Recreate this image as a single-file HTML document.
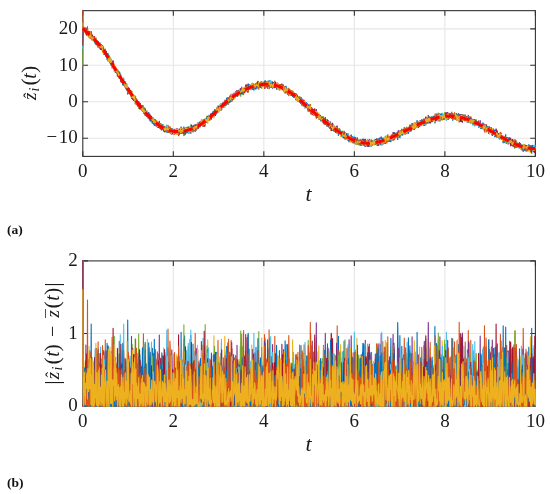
<!DOCTYPE html>
<html><head><meta charset="utf-8"><title>plot</title>
<style>
html,body{margin:0;padding:0;background:#fff;}
body{width:550px;height:494px;overflow:hidden;}
svg{display:block;}
.tk{font-family:"Liberation Serif","DejaVu Serif",serif;font-size:19px;fill:#1a1a1a;}
.lb{font-family:"Liberation Serif","DejaVu Serif",serif;font-size:21px;fill:#1a1a1a;}
.it{font-style:italic;}
.cap{font-family:"Liberation Serif","DejaVu Serif",serif;font-size:13.5px;font-weight:bold;fill:#111;}
</style></head><body>
<svg width="550" height="494" viewBox="0 0 550 494">
<defs>
<clipPath id="c1"><rect x="82.00" y="9.85" width="454.20" height="147.35"/></clipPath>
<clipPath id="c2"><rect x="82.00" y="260.10" width="454.20" height="146.80"/></clipPath>
</defs>
<path fill="none" stroke="#e6e6e6" stroke-width="1.1" d="M173.32 10.65V156.40M263.84 10.65V156.40M354.36 10.65V156.40M444.88 10.65V156.40M82.80 138.18H535.40M82.80 101.74H535.40M82.80 65.31H535.40M82.80 28.87H535.40"/>
<g fill="none" stroke="#333333" stroke-width="1.1"><rect x="82.80" y="10.65" width="452.60" height="145.75"/><path d="M82.80 156.40v-5.2M82.80 10.65v5.2M173.32 156.40v-5.2M173.32 10.65v5.2M263.84 156.40v-5.2M263.84 10.65v5.2M354.36 156.40v-5.2M354.36 10.65v5.2M444.88 156.40v-5.2M444.88 10.65v5.2M535.40 156.40v-5.2M535.40 10.65v5.2M82.80 138.18h5.2M535.40 138.18h-5.2M82.80 101.74h5.2M535.40 101.74h-5.2M82.80 65.31h5.2M535.40 65.31h-5.2M82.80 28.87h5.2M535.40 28.87h-5.2"/></g>
<g clip-path="url(#c1)" fill="none" stroke-width="1" stroke-linejoin="round"><path d="M82.8 39.8l.3-13.3 .3 .5 .3 3.1 .3 0 .4 .7 .3-1.5 .3 1.3 .3-1 .3 4.5 .3-5.2 .3 3 .3-1 .4 1.7 .3 .6 .3-1 .3-.3 .3 1.9 .3 .2 .3-1 .3 2.8 .4 1.3 .3-2.8 .3 2 .3 2.3 .3-1.5 .3-.2 .3 1.4 .3 .8 .4-2.2 .3-1.1 .3 2.2 .3 1.1 .3-1.5 .3-.3 .3 2 .3-1.1 .3-.5 .4 2.4 .3 1.3 .3-1.6 .3 .5 .3-1.1 .3 4.2 .3-.6 .3 .6 .4 1.8 .3-2.7 .3-.3 .3 2.4 .3-3.1 .3 1.3 .3 .7 .3 .7 .4-.5 .3 4.1 .3-2.8 .3 .4 .3 4.3 .3-3 .3 1.3 .3-1.2 .4 2.4 .3-.3 .3-.1 .3 2.4 .3-1.9 .3 1.6 .3-.5 .3 2.1 .3-2.2 .4 1.3 .3 1.7 .3-.8 .3-.6 .3-.3 .3 5.9 .3-3.5 .3 1.2 .4 1.4 .3 1.9 .3-3.1 .3 4.6 .3-2.5 .3-.7 .3 5.2 .3-1.6 .4 2.2 .3-2 .3-1.6 .3-.3 .3 6.7 .3-1.5 .3-1.5 .3-.9 .4 2.3 .3 2.4 .3-1.1 .3 1 .3 .8 .3 1.4 .3-1.3 .3 .6 .4 1.2 .3 .7 .3 2.2 .3-.8 .3-2.2 .3 2.8 .3 2.5 .3-4 .3 1.8 .4-2 .3 3.8 .3 1.4 .3 2.1 .3-4 .3-1.5 .3 6 .3 .2 .4-1.5 .3 2.8 .3-.4 .3 .6 .3-.4 .3-1 .3 2.3 .3-1 .4 2.7 .3-.7 .3 4.4 .3-.6 .3-3.1 .3 2.7 .3-1.4 .3 .5 .4-.7 .3 1.3 .3 .1 .3 2.3 .3 1.4 .3 .6 .3 .1 .3 1.5 .3-.5 .4-.3 .3-.1 .3 1.5 .3 3 .3-2.5 .3-.1 .3-.9 .3 1.3 .4 2.4 .3 .6 .3-4 .3 2.5 .3-1.3 .3 0 .3 5.2 .3-1.5 .4 .3 .3 .3 .3 .5 .3 1 .3 .5 .3 3.1 .3-1.7 .3 1.4 .4-1 .3 1.4 .3-1.4 .3 .1 .3 1.3 .3 .4 .3 .8 .3 1.2 .3 0 .4 .9 .3-1 .3 1 .3-.5 .3 3.5 .3-3.2 .3 3.1 .3 .3 .4-.4 .3 1 .3-1 .3 1.7 .3 1.2 .3 0 .3-3.1 .3 2.5 .4 2.3 .3-1.5 .3 2.9 .3-5.1 .3 5.7 .3-2.8 .3 .2 .3 3.6 .4-2.5 .3-.8 .3 1.2 .3 .7 .3-.8 .3 1.7 .3 0 .3 1.1 .3-.9 .4 2.9 .3-2.5 .3 2.4 .3 1.3 .3-2.1 .3-1.8 .3 1.5 .3 2.7 .4-1.7 .3 2.2 .3-.3 .3 0 .3 4.2 .3-3.8 .3 2.3 .3-.3 .4 1.5 .3 .4 .3-.7 .3-2.6 .3-1.1 .3 3 .3-1.5 .3 2.4 .4 3 .3-3.1 .3-.3 .3 1.7 .3-.9 .3-.2 .3 2.5 .3 1.2 .3-1.8 .4 .2 .3 .5 .3-2 .3-1 .3 3.7 .3-1.6 .3-.2 .3 .6 .4-.4 .3 2.5 .3-1.6 .3-1.9 .3 2.1 .3 2.5 .3-1.8 .3-.9 .4 1.6 .3 1.7 .3-3.3 .3 4.7 .3-2.7 .3 1 .3 2 .3-3.8 .4 1.6 .3 2.5 .3-2.7 .3 1.8 .3 2.5 .3-1.9 .3-1.4 .3-.5 .4 .8 .3 .3 .3-.6 .3 1.2 .3-2.1 .3 1.7 .3-.2 .3-.3 .3 2.7 .4-.5 .3-3.6 .3 2 .3 1.1 .3-1 .3 1.4 .3-1.2 .3 1.6 .4-1.5 .3 3 .3-4.7 .3 3 .3 1.8 .3-2.2 .3 .3 .3-.8 .4 2.1 .3-2.5 .3 2.6 .3 .1 .3-2.6 .3 1 .3-.8 .3 3.2 .4-1 .3-2.7 .3 .8 .3-2.7 .3 3.8 .3-1.5 .3-4.4 .3 5.9 .3 .2 .4-1.5 .3 0 .3-1.5 .3 1.1 .3 1.4 .3-1.6 .3-4 .3 2.2 .4 6.5 .3-4.4 .3 1.2 .3-2.5 .3 1.2 .3-3.5 .3 1.6 .3 0 .4 1 .3 .3 .3-.7 .3-1.6 .3 1.1 .3 1.3 .3-2.7 .3 1.7 .4 .3 .3 1.1 .3-.5 .3 0 .3 3.4 .3-6.3 .3 .6 .3 1.2 .3-2.2 .4 .9 .3-.1 .3 4.5 .3-3.8 .3-1.3 .3-1.9 .3-.5 .3 .5 .4 4.1 .3 1.5 .3-4.6 .3 .7 .3-1.7 .3 1.6 .3-.7 .3 2.6 .4-3.3 .3 1.3 .3-1.5 .3-.3 .3 .7 .3-.9 .3 .4 .3-1.4 .4 .2 .3 1.5 .3-.1 .3-4 .3 2.8 .3-2 .3 .8 .3 1.3 .3 .1 .4-1.6 .3-.4 .3-.8 .3 2.8 .3-1.3 .3-1 .3-3 .3 6.2 .4-4.8 .3 1.4 .3-1.8 .3 1.2 .3-1.6 .3-2.2 .3 1.7 .3-.4 .4-.1 .3 1.6 .3-2.4 .3 1 .3 .7 .3-1.5 .3 0 .3-1.8 .4 1 .3 .5 .3-3.5 .3 .5 .3-.8 .3 .8 .3 .9 .3 .2 .3-.5 .4-2.3 .3 1.1 .3 2.3 .3-2.7 .3 2 .3-2.9 .3 1.9 .3-.2 .4-2.5 .3 0 .3 2.3 .3-4.2 .3-2.6 .3 5.6 .3-5.7 .3 3.8 .4-.6 .3-.8 .3 1.7 .3-4.7 .3 1 .3 1.7 .3-1.1 .3 1.7 .4-2.2 .3-2.4 .3 4 .3-2.4 .3-1.2 .3-1.8 .3-.7 .3 2.6 .3 .2 .4-2.3 .3 1.1 .3-.4 .3-2.5 .3-1.3 .3 2 .3 .5 .3-1.5 .4 3.7 .3-3.3 .3 1.4 .3-5.9 .3 2.5 .3 .6 .3 .3 .3 3.5 .4-5.5 .3-1.7 .3 3.6 .3-2.6 .3-.3 .3 3.4 .3-4.2 .3-1 .4 1.6 .3 .3 .3-1.7 .3 3.6 .3-2.9 .3-1.8 .3 3.5 .3-3.8 .4 2 .3 2.5 .3-3.4 .3 1.2 .3-2.3 .3 2.2 .3-3.8 .3 2.6 .3-1.9 .4 1.3 .3-.7 .3-2.6 .3 1.4 .3 .8 .3 1.2 .3-4.1 .3 .5 .4 1.5 .3-1.1 .3 1.9 .3-.2 .3-.5 .3-2.1 .3-.1 .3 1.5 .4-2.6 .3-.2 .3 .8 .3-1.6 .3 2 .3-.4 .3-1.1 .3 .6 .4-1.5 .3 3.2 .3-4.5 .3 3.4 .3-1.1 .3 1.8 .3-3.3 .3-1.3 .3 .2 .4 .3 .3 3.7 .3-1.4 .3-.7 .3 .7 .3-3.5 .3 1.4 .3 .2 .4-.9 .3 2.2 .3-.2 .3-.2 .3-2.3 .3 .1 .3-.5 .3-.9 .4 3.8 .3-1.4 .3-1.2 .3 2.3 .3-1.4 .3-2.6 .3-.3 .3 0 .4 1.6 .3 .3 .3-2.2 .3 2.3 .3-1.3 .3-1.6 .3 2.6 .3 .3 .3-1 .4-1.1 .3 .1 .3 .5 .3-.7 .3 3.4 .3-1.3 .3-1.7 .3 1.7 .4 .6 .3-.2 .3-.6 .3-1.2 .3 1.3 .3-2.1 .3-2.4 .3 3 .4-2.4 .3 1.6 .3 2.2 .3-1.4 .3 1.1 .3-2.8 .3 3.1 .3-4.1 .4 1.2 .3 4.2 .3-4.5 .3-1.3 .3 3.8 .3-2.9 .3 4.5 .3-3.3 .3 3.1 .4-3.5 .3 3.7 .3 1.4 .3-4.9 .3-3.1 .3 4.7 .3-2.3 .3 1.2 .4 .7 .3-1.5 .3-1.6 .3 4.7 .3-2.9 .3 .4 .3 2.9 .3-4.9 .4-.5 .3 4.8 .3-4.3 .3 2.7 .3 .5 .3-2.7 .3 2.1 .3 0 .4-1.9 .3 .4 .3 .7 .3 3.8 .3 .4 .3-4.3 .3 3.4 .3-1.6 .3 2 .4-1.3 .3 1.9 .3-4.6 .3 4.3 .3-1.3 .3 .2 .3-2.1 .3 4.3 .4-2.1 .3 .4 .3-1 .3 .2 .3 1.6 .3-1 .3 1.2 .3-1.3 .4 1.1 .3 1 .3-.8 .3-.5 .3-2.9 .3 4.6 .3-1.1 .3-1.7 .4 5.9 .3-.4 .3-.7 .3-1.6 .3-3.9 .3 3.5 .3-1.2 .3 2.5 .4 3.9 .3-.1 .3-5.2 .3 1.6 .3 2.6 .3-3.7 .3 4.5 .3-4.1 .3-.3 .4 3.8 .3 .7 .3-2.9 .3 3.4 .3-3 .3 3.6 .3-3 .3 1.3 .4 1.1 .3 1 .3-1.6 .3 3.7 .3-2.4 .3 .4 .3-1.4 .3 3.3 .4-4.5 .3 3.5 .3 1.6 .3-3.9 .3-.2 .3 3.3 .3 1.4 .3-1.2 .4 1.4 .3-.4 .3-2.7 .3 2.1 .3 .7 .3-.1 .3 .9 .3-1.2 .3 .2 .4 2.3 .3-.5 .3-3.5 .3 3.5 .3 1.3 .3-3.4 .3 3.6 .3 2.1 .4-2.6 .3 2.8 .3-.4 .3-1 .3 1 .3 1.3 .3-.1 .3 .4 .4-2.6 .3 3.3 .3 0 .3-3.9 .3 4.5 .3-3.1 .3 .6 .3 2.6 .4 2.4 .3-2.8 .3-.1 .3-.2 .3 1.8 .3-1.6 .3 0 .3 4.2 .3-3.7 .4 2.3 .3 1.4 .3-.1 .3-3.3 .3 1.7 .3 4.8 .3-2.8 .3 .7 .4 .3 .3 .8 .3 1.8 .3-3.5 .3 3.2 .3-.6 .3 .6 .3 .5 .4-2.1 .3 .8 .3 2 .3 .7 .3-.5 .3-2.1 .3 1.6 .3 .1 .4 1.2 .3 .1 .3-.5 .3 3.6 .3-5.3 .3 4.1 .3-.1 .3-2.8 .3 2.1 .4 .5 .3 1.3 .3 1.8 .3-2.5 .3-1.4 .3 3.6 .3-3.4 .3 4.3 .4-.4 .3-1.8 .3 1.1 .3-.9 .3 2.6 .3 .7 .3 1.6 .3-.8 .4 0 .3 .8 .3-2.5 .3 1.8 .3 2.4 .3-7 .3 5.6 .3 .9 .4-3.8 .3 .4 .3 4 .3 .7 .3-.5 .3-3.2 .3 2.5 .3 1.1 .3-1 .4-1.8 .3 4.4 .3-1.4 .3 1.9 .3-5.6 .3 .8 .3 1.7 .3 2 .4-1.1 .3 4.7 .3-3.6 .3 2.8 .3 .2 .3-.8 .3-.3 .3-1.3 .4 0 .3 .9 .3 2.2 .3-2.4 .3 1.5 .3-1.9 .3 3.6 .3 3.2 .4-3.5 .3-4 .3 2.9 .3 1.3 .3-1.6 .3 .8 .3 .3 .3 1.8 .4-.8 .3 0 .3 1.6 .3 1 .3-1.9 .3-1.1 .3 .7 .3 .4 .3 .2 .4-3.1 .3 3.9 .3-1.1 .3-1.3 .3 3.3 .3-.2 .3-1 .3-.9 .4 2.4 .3 .1 .3 .6 .3 2.3 .3-3.6 .3 2.4 .3 2.6 .3-2.4 .4 2.7 .3-1 .3-1.5 .3 1.7 .3-3 .3 4.2 .3-2.6 .3-.3 .4-1.3 .3 1 .3 1.3 .3 .3 .3 .4 .3-1.8 .3 3.1 .3-1.8 .3 1.1 .4-.4 .3 1 .3-3.8 .3 4.6 .3-1.3 .3 .1 .3-.5 .3 .4 .4 .1 .3-.8 .3 4.2 .3-2.4 .3 2.1 .3-2.3 .3 2.4 .3-.3 .4-1.4 .3-2.2 .3 1.4 .3 .5 .3-1.7 .3 3.8 .3 1.9 .3-2.6 .4-.2 .3-2.4 .3-1.4 .3 5.7 .3-6.2 .3 1.6 .3 1.2 .3 .8 .3-3.3 .4 3.8 .3 .9 .3-1 .3 2.5 .3-3 .3 1 .3-.7 .3 0 .4 2.3 .3-3.9 .3 3.8 .3-3.1 .3 4 .3-3.1 .3 1.9 .3-1.4 .4 1.1 .3 2.4 .3-1.7 .3-1.9 .3-1 .3 3.4 .3 1 .3-2 .4-1.1 .3 .6 .3 .3 .3-2.7 .3-.3 .3 .4 .3 2.6 .3-1.7 .3 .4 .4 2 .3-3.8 .3 1.2 .3 .9 .3-3.1 .3 1 .3-.3 .3-.6 .4 .7 .3 3.2 .3-1.5 .3-2.3 .3 2.8 .3-1.4 .3-.7 .3-1.8 .4 .2 .3 .6 .3 1.6 .3-1.8 .3 .5 .3 1 .3-2.5 .3 1.3 .4 1.9 .3-3.4 .3 2.4 .3-1.5 .3 3.4 .3-2.6 .3 1.4 .3 0 .3 1.4 .4-6.7 .3 3.6 .3-.7 .3-1.6 .3 1.9 .3-1.1 .3 2.9 .3-2.6 .4 .8 .3-1.6 .3 .4 .3 2.4 .3 .7 .3-1.5 .3-3 .3 .4 .4-.1 .3 3.8 .3 1 .3-3.5 .3-.6 .3 .3 .3-1.7 .3 .7 .4 1.5 .3-.6 .3-1.8 .3 0 .3 .1 .3-4 .3 4 .3-.8 .4 1.7 .3-1.2 .3-1.6 .3-.2 .3 1.1 .3-1.1 .3 .4 .3 3 .3 2.1 .4-9.2 .3 2.3 .3 1.3 .3 2.5 .3-.9 .3-4.4 .3 6.6 .3-4.2 .4-2.1 .3 1.1 .3-1.2 .3 1.3 .3-4.2 .3 5.3 .3 .4 .3-2.8 .4-2 .3 2.2 .3-1.9 .3 2.4 .3 .9 .3-4.3 .3-.5 .3-.1 .4 3.1 .3 1 .3-.2 .3-1.7 .3-1.4 .3-.1 .3 3 .3-2.8 .3 .2 .4-.3 .3 0 .3 .1 .3-1.4 .3 .6 .3-.3 .3 1.3 .3-1.9 .4 .7 .3 3 .3-4.3 .3 1 .3-2.1 .3 1.7 .3-.3 .3-.7 .4 .2 .3 .6 .3 2 .3-6 .3 5.4 .3-2.2 .3-1.7 .3 .2 .4-.4 .3-.5 .3-.9 .3 1.4 .3-4.4 .3 6.2 .3-2.2 .3 .9 .3 .1 .4-1.5 .3-2 .3 3.3 .3-.1 .3-2.5 .3 .2 .3-2.4 .3 1.3 .4 1.2 .3 .7 .3-1 .3 .5 .3 1.8 .3-2.3 .3 .1 .3 0 .4 .2 .3-3.6 .3 1.5 .3-.5 .3 2.4 .3 .5 .3-1.3 .3-1 .4 .8 .3-.3 .3-2 .3 .9 .3 2 .3-1 .3 .2 .3-1.4 .3 2 .4-1.7 .3-1.5 .3 1 .3 1.4 .3-.6 .3-1.3 .3-.7 .3-.6 .4 1.5 .3 1.8 .3-4.6 .3 1.7 .3-.2 .3 0 .3 2.1 .3-1.2 .4-1 .3-1.4 .3 1.5 .3 5.1 .3-4.8 .3-1 .3-1.6 .3 .9 .4-3 .3 1.6 .3 .1 .3 .6 .3 3.7 .3-3.7 .3 .3 .3 1.8 .3-1.9 .4 .2 .3 1.4 .3-.6 .3 .2 .3-.9 .3 1 .3-1.6 .3 3.9 .4-2.7 .3 2.3 .3-2 .3-1.7 .3 .8 .3 .1 .3-.3 .3-2.5 .4 4.3 .3-3.2 .3 3.8 .3-1.7 .3-1 .3 1.6 .3-1.7 .3-.9 .4 3.1 .3-1.8 .3 .4 .3 2.5 .3-2.8 .3 1 .3-3.5 .3 3.6 .3-4.2 .4 3.6 .3-4 .3 2.3 .3 .1 .3-.5 .3-.2 .3-.8 .3-.5 .4 3.4 .3 1.4 .3 2.4 .3-3.7 .3-1.8 .3 .6 .3 .4 .3 .8 .4 .5 .3-.5 .3-1.1 .3 3.6 .3-4 .3 3.5 .3-2 .3 .8 .4-.4 .3 1.2 .3 .2 .3-1.5 .3 1.5 .3-5.7 .3 4.7 .3 .5 .4-.1 .3 .9 .3 2.3 .3-3.5 .3-.9 .3 3.1 .3-2.4 .3 2 .3-1.8 .4-.5 .3-.2 .3 .2 .3 1.9 .3-2.4 .3 2.2 .3-1.2 .3-.5 .4 1.7 .3 1.7 .3-3 .3 2.9 .3-.2 .3 .4 .3-3 .3 1.7 .4 3.5 .3-4.7 .3-2.1 .3 .6 .3 3.9 .3-.9 .3-.6 .3-.5 .4 1.5 .3 2 .3-2.9 .3 .3 .3 3.3 .3-1.4 .3-.9 .3 .6 .3-.8 .4-.3 .3 .6 .3 1.2 .3 2.1 .3-3 .3-1.2 .3-.8 .3 3.4 .4 .2 .3-2.3 .3 .2 .3 1.9 .3-.5 .3 2.6 .3-2 .3 2.4 .4-1 .3 .1 .3 .8 .3 2.8 .3-2 .3-1.7 .3 .8 .3 .7 .4-1.2 .3-.2 .3-.1 .3 2.8 .3-1.1 .3 .7 .3 1 .3 1.2 .3-2.1 .4 1.4 .3-4.7 .3 3.8 .3 .4 .3 .4 .3-3.5 .3 4.8 .3-1.1 .4 1.1 .3-.8 .3 0 .3-1.7 .3 4.3 .3-2.1 .3-2.5 .3 3.6 .4-.3 .3 1.3 .3 3 .3-3.9 .3-1.9 .3 2.8 .3 2.5 .3-3.3 .4 .5 .3-1.3 .3 .3 .3 2.1 .3-.9 .3 3.8 .3-4.6 .3 1.7 .3-1.3 .4 .3 .3 2.3 .3 0 .3 1.3 .3 2.2 .3-3 .3-.3 .3 2.2 .4-2.7 .3 1.2 .3-.4 .3 2.2 .3 1.7 .3-3.9 .3 .5 .3 1.3 .4 .7 .3 0 .3-.1 .3 .8 .3 2.6 .3-4.3 .3 3.8 .3-1.7 .4 .2 .3-.8 .3 3.3 .3-4.4 .3 1 .3 0 .3-.6 .3 3.5 .3 4 .4-5.5 .3-1.4 .3 .4 .3 3 .3-.6 .3-.4 .3 3.5 .3-1.6 .4 .1 .3-3.4 .3 3.7 .3-3.4 .3 2.7 .3 2.9 .3-6.1 .3 5.3 .4-2.4 .3-1.6 .3 3.8 .3 1.2 .3-3.5 .3 1.8 .3 2.2 .3-.1 .4-.9 .3-2.1 .3 2.2 .3-1.4 .3-1.4 .3 .7 .3-.1 .3 .5 .4 4.7 .3-4.4 .3 1.6 .3 .8 .3 1.7 .3 1 .3-.7 .3-1.6 .3 2 .4-.4 .3-.2 .3-2 .3 1.7 .3-.1 .3-2.3 .3 2.8 .3-1.4 .4 2.8 .3-2.1 .3 .4 .3 .1 .3 1.1 .3 1 .3-1.1 .3 .4 .4-2.3 .3 .3 .3 3.5 .3-2.9 .3 1.9 .3-1.4 .3 1.6 .3 1.7 .4-3.9 .3 .9 .3 2.8 .3 1.2 .3-2.1 .3 1.1 .3-1.3 .3-1.5 .3-1.3 .4 3 .3-2.7 .3 .4 .3 2.6 .3 2.1 .3-4.1 .3 .5 .3-2.8 .4 1.5 .3 1.1 .3-1.4 .3 4.5 .3-2 .3 .8 .3-3.3 .3 2 .4 5.9 .3-7.2 .3 3.7 .3-2.7 .3 2 .3-1.1 .3-.7 .3 .8 .4 1.8 .3-3.8 .3 1.6 .3 .7 .3-1.2" stroke="#0072BD"/>
<path d="M82.8 7l.3 18.6 .3 3 .3 .1 .3 .3 .4 2.4 .3 .7 .3-1.9 .3 0 .3-1.3 .3 1.8 .3 2.8 .3-2.3 .4-.2 .3 0 .3 1.3 .3 2.9 .3-3.6 .3 3.3 .3-1.8 .3 3.8 .4-3.5 .3 2.8 .3-2.7 .3-.9 .3 1.3 .3 4.1 .3-.1 .3 .2 .4-2.2 .3 .8 .3 .6 .3 .1 .3-.2 .3 .2 .3-1.4 .3 3.2 .3-.1 .4 3.6 .3-.5 .3-.7 .3 1.1 .3-2 .3-1 .3 2.8 .3 .4 .4 .4 .3-.7 .3 1.4 .3-1.2 .3 .6 .3 .3 .3-.3 .3 1.5 .4 .2 .3-2.2 .3 3.3 .3-1 .3 1.6 .3 1.3 .3 .4 .3 1 .4-.9 .3 1.4 .3 .1 .3-2.2 .3 2.7 .3-1.6 .3 1.8 .3-.5 .3 2.9 .4-.8 .3-3.5 .3 3.4 .3 .2 .3 1.7 .3-.5 .3 3.7 .3 0 .4-1.6 .3-.1 .3 2.5 .3 .1 .3 .8 .3 .2 .3 2.2 .3 .9 .4-1.7 .3 3.2 .3-.7 .3 0 .3 1.1 .3-1.6 .3 1.6 .3 0 .4 2 .3 .1 .3-1.5 .3 .7 .3 1.9 .3-.9 .3 .8 .3 .6 .4-1.8 .3 3.7 .3-.8 .3 .5 .3 1.6 .3 2 .3-2.5 .3 1.2 .3 .9 .4 .5 .3 .5 .3 2 .3-1.4 .3 3.9 .3-2.4 .3 2.9 .3-1.3 .4-1.3 .3 2.1 .3 .9 .3-1.1 .3 1.7 .3 .8 .3 .4 .3-2.6 .4 1.9 .3 .8 .3 3.2 .3-2.4 .3 3.5 .3-2.3 .3 3 .3-4.5 .4 6.4 .3-4.2 .3 1.2 .3 4.6 .3-2 .3-2.3 .3 1 .3 5 .3-1.4 .4 1.6 .3 .2 .3-.1 .3-3.6 .3 3.2 .3 1.1 .3 .6 .3-1.1 .4 .4 .3 3 .3-3.4 .3 4.6 .3-.8 .3-.8 .3-1.6 .3 3.8 .4-.6 .3-1.2 .3 1.6 .3-.4 .3 .6 .3 1.7 .3-.2 .3 0 .4 1.9 .3-2.2 .3 6.2 .3-1.3 .3-3.4 .3 2.1 .3 2.2 .3-1.3 .3-.7 .4 3.1 .3-1.8 .3 1.9 .3 .4 .3 .3 .3-1.5 .3 4 .3-.8 .4-1.3 .3 3.4 .3 1 .3-3.1 .3 1.3 .3 .6 .3-.1 .3 2.2 .4-5.9 .3 6.7 .3-.6 .3 2 .3-1.3 .3-2.7 .3 2.8 .3-.6 .4 2.1 .3-3.4 .3 3 .3 2.7 .3-3 .3 2.2 .3-1.2 .3 1.1 .3 .1 .4 .5 .3 2 .3 1.3 .3-3.7 .3 2.1 .3-.3 .3 1.5 .3 2.8 .4-.9 .3-4 .3 3.8 .3-.3 .3 2 .3-1.2 .3 0 .3 0 .4 .1 .3 1.2 .3 .1 .3-.6 .3-.3 .3 1 .3-2.7 .3 2.7 .4 .3 .3 1.6 .3-2.5 .3 3.6 .3 1.2 .3-.8 .3-2.4 .3 3.1 .3-3.7 .4 2.3 .3 2.7 .3-1.9 .3-3.1 .3 4.5 .3 1 .3-2.8 .3-1.1 .4 .7 .3 2.3 .3-.6 .3-.1 .3-1.2 .3-1.4 .3 3.9 .3-2.1 .4 2.8 .3-1.4 .3 2.6 .3-.1 .3-1.8 .3 2.3 .3-2.7 .3 2.4 .4-.9 .3 .4 .3 .5 .3-.6 .3-1.4 .3-3.2 .3 7.1 .3-2.4 .4 .9 .3 1.3 .3-1.8 .3 1.9 .3-1.2 .3-2 .3 5.3 .3-3.6 .3-.2 .4 2.3 .3-2.3 .3 .3 .3 1.2 .3-2.5 .3 4.1 .3-3.1 .3 1.5 .4 1.3 .3-1.3 .3 .3 .3-1.9 .3 3.8 .3-2.1 .3 .4 .3-3.2 .4 4.3 .3-3.5 .3 4.6 .3-3.4 .3 .8 .3-.9 .3 1.8 .3 2 .4-.7 .3-4.6 .3 1.7 .3 1.8 .3-2.9 .3 2.6 .3 0 .3 .7 .3-3.9 .4-1.3 .3 4.7 .3-2 .3-1.2 .3-1.9 .3 7.3 .3-4.2 .3-.9 .4 3.4 .3-3.1 .3 .3 .3-.9 .3 2 .3-1.7 .3 1.6 .3-2 .4 .6 .3 .8 .3 1.6 .3-5.1 .3 .8 .3 .3 .3 2.4 .3-.6 .4-3.4 .3 1.4 .3 2.5 .3-1.6 .3-.2 .3 .4 .3 1.1 .3-3.7 .3 1 .4 1.1 .3 2.1 .3-1.7 .3-1.1 .3-1.5 .3 1.8 .3-2.5 .3 1.4 .4 1.3 .3 3.2 .3-2.8 .3 .4 .3-2.4 .3-.9 .3-1.9 .3 2.1 .4 1.7 .3-5.8 .3 3.1 .3 .8 .3-.2 .3 1.6 .3-3.4 .3 .2 .4-2.2 .3 .6 .3 .2 .3-.8 .3 2.3 .3 .1 .3-.9 .3 1.7 .3-1.9 .4 0 .3-1.8 .3 .9 .3 2.8 .3-3.3 .3-2.5 .3 5.1 .3-2 .4-1.5 .3 1.9 .3-1.5 .3-1.2 .3 2 .3-2.8 .3-.5 .3 2.5 .4-2.4 .3-1.9 .3 1.8 .3-1.3 .3-.6 .3 1.2 .3-2.3 .3 .7 .4 2 .3-2.7 .3-.9 .3-.2 .3 2.1 .3-2.1 .3-1.7 .3 1.5 .3-1.8 .4-.5 .3 1.9 .3-1.4 .3 1.2 .3-2.5 .3 1.6 .3 .4 .3-1.1 .4-.3 .3-1 .3-.4 .3 2.3 .3-1.1 .3-2 .3-.5 .3 .4 .4-4.5 .3 2.2 .3 1.6 .3-1.6 .3-1.3 .3 1.3 .3 3.1 .3-3.3 .4-.2 .3-3.7 .3 6.1 .3-5.8 .3 2.5 .3-2.1 .3 1.7 .3-1 .3-1.9 .4 1.4 .3-1.8 .3 1.5 .3 .3 .3-.6 .3 .1 .3-.9 .3-2.6 .4 3.8 .3 .5 .3-2.9 .3-3 .3 .7 .3-.7 .3-.1 .3 2.9 .4-1.6 .3 4.2 .3-3.6 .3-2.2 .3 3.3 .3 .5 .3-1.4 .3-2.7 .4-1.8 .3-2.6 .3 1.7 .3 4.5 .3 1.1 .3-4.3 .3-1.7 .3 4.1 .4-2 .3-.3 .3-1 .3 .1 .3-1.3 .3-1.1 .3 1.4 .3-1.4 .3-2.2 .4 4.7 .3-.2 .3-2.7 .3-2.4 .3 2.6 .3-1.7 .3 2 .3-2.1 .4 2.3 .3-2.3 .3 .2 .3-.2 .3-1.7 .3 .3 .3 2.5 .3-2.6 .4 4 .3-4.5 .3-3 .3 3.4 .3-.1 .3 .5 .3-1.4 .3 1.9 .4-1.9 .3 1.3 .3 .1 .3-1 .3 .1 .3 2.6 .3-6.3 .3 3 .3 2.8 .4-4.6 .3 1.6 .3-.5 .3-1 .3 2.5 .3 3.2 .3-4.7 .3-.7 .4-1.4 .3 2.8 .3-1 .3-1.1 .3 1 .3-.2 .3-1 .3 2 .4-4.3 .3 3.9 .3-1.6 .3 .5 .3 .5 .3-2.1 .3-.9 .3-.8 .4 1.3 .3 1.6 .3-2.2 .3 3.6 .3-2.5 .3-.8 .3-.2 .3 2.7 .3 .5 .4-5.2 .3 3.5 .3 1.7 .3-.7 .3-2.1 .3-1.9 .3 1.8 .3-2 .4 1.5 .3-.4 .3-.9 .3 2.2 .3-1.2 .3 1.1 .3 .4 .3-2.2 .4 2.4 .3-1.5 .3 1.4 .3-1.2 .3 .7 .3-2.7 .3 1.6 .3 0 .4-2.5 .3 7.3 .3-2.9 .3 2.6 .3-4.4 .3-.7 .3-.3 .3 .6 .3 1.8 .4-4.2 .3 2.3 .3 .9 .3 1.5 .3-2.5 .3 1.5 .3-.1 .3-1 .4 0 .3 1.7 .3-3.3 .3 3.7 .3 .2 .3-2.3 .3 .3 .3 .2 .4 .8 .3-.7 .3 1.1 .3 1.8 .3-3.8 .3 2.9 .3-1.3 .3-1.4 .4 1.2 .3-4.4 .3 6.8 .3-1 .3-1.2 .3-2 .3 2.7 .3 2 .3-4.1 .4 3.5 .3-1.1 .3-1.7 .3 2.7 .3-.3 .3-1.4 .3 1.2 .3-.6 .4 2.1 .3-1.2 .3 1.7 .3 .8 .3-5.2 .3 2.3 .3-.6 .3 3.1 .4-1.3 .3 .4 .3 2.1 .3-3 .3 2.2 .3-.7 .3 2.3 .3-3.9 .4 .6 .3 .7 .3 2.3 .3-.4 .3-2.7 .3 2.7 .3-.7 .3 .4 .4 2.2 .3-4.1 .3 5.9 .3-3.4 .3 .7 .3 2.7 .3-3 .3 0 .3 .9 .4 1.7 .3-1.9 .3-.8 .3 1.6 .3-2.2 .3 1.6 .3 .4 .3-.8 .4 3.6 .3 0 .3-1.5 .3 .3 .3-1.4 .3 .8 .3 1.9 .3 .1 .4 1.1 .3 .4 .3 .3 .3-1.9 .3 2.5 .3 0 .3-.5 .3 1.3 .4-.2 .3 3.4 .3-3.9 .3 1.4 .3-.6 .3 0 .3 3.9 .3-6.7 .3 3.9 .4 .2 .3 3.5 .3-3.7 .3 .6 .3 1.5 .3-.7 .3-1.4 .3 2.9 .4 1.1 .3-3.3 .3 2 .3 1 .3-3.8 .3 3.7 .3 .9 .3-.5 .4 1.4 .3-.7 .3 .3 .3 1.6 .3-.3 .3-.7 .3 .2 .3-.1 .4 0 .3 1.1 .3-.1 .3 1.7 .3 .1 .3-1.8 .3 5.1 .3-3.5 .3-4.2 .4 8.4 .3-5.2 .3 5.6 .3-3.2 .3-1.8 .3 .6 .3 4.1 .3 .9 .4 .5 .3-3.2 .3 2.1 .3-.4 .3-.1 .3 0 .3 .1 .3 .9 .4 3.1 .3-4.7 .3 7 .3-6.1 .3 3.2 .3-.4 .3 .8 .3 0 .4-.3 .3 .7 .3 1.6 .3-2.9 .3 2.6 .3-2.9 .3 2.7 .3 1.2 .3-1.6 .4-.5 .3 3.2 .3-.8 .3-2.5 .3 4.2 .3 0 .3-1.4 .3 2.5 .4 2.2 .3-1 .3-3.1 .3-.2 .3 .4 .3 .6 .3 2.8 .3-2.8 .4-.5 .3 3.2 .3-2.4 .3 2.4 .3-.7 .3 0 .3 3.2 .3-4.5 .4 3.9 .3-.9 .3 .8 .3-1.3 .3 .3 .3 .9 .3-2 .3 2.1 .3 1.3 .4 4.2 .3-3.9 .3 .2 .3 1.2 .3 .2 .3-2.1 .3-.5 .3-1.2 .4 1.4 .3 3.3 .3-1.4 .3 2.9 .3-3.2 .3 .8 .3 1.8 .3-.6 .4 .5 .3 .8 .3-2.9 .3-2.7 .3 3.9 .3-.2 .3 1.7 .3 1 .4-3.9 .3 4.4 .3-1.1 .3 1.1 .3-1 .3 1.3 .3-.9 .3 3.2 .4-1.6 .3-2.2 .3 4.1 .3-.4 .3-3.1 .3 1.7 .3-.8 .3 5.5 .3-3.7 .4 2.5 .3 .4 .3-2.7 .3-1.1 .3 4.5 .3-.4 .3-.7 .3-.5 .4 2.1 .3-5.6 .3 2.9 .3 1.7 .3 .4 .3-4.4 .3 .3 .3 4.6 .4-1.2 .3-1.3 .3 4.1 .3-.8 .3-2.9 .3 3.4 .3-.2 .3 1.6 .4-.8 .3-2.2 .3 2.6 .3 1 .3-1 .3-3.7 .3 2.7 .3 1.3 .3-1 .4-.3 .3 .6 .3 3.3 .3-3.3 .3 .9 .3-1.6 .3 3.7 .3-3.8 .4 2.6 .3 2.1 .3-4.8 .3 3.1 .3-1.4 .3 1 .3-2 .3 .1 .4 0 .3 .8 .3 3.8 .3 .2 .3-3 .3 2 .3-2.3 .3 .6 .4 2.6 .3-.6 .3 .2 .3-.3 .3-1.1 .3-1.4 .3-1 .3 3.8 .3-.7 .4-3.4 .3 1.1 .3 1.1 .3 4.3 .3-2.2 .3-1.9 .3 1.2 .3-4.2 .4 3.1 .3-.3 .3 2.3 .3-.1 .3-.6 .3-.1 .3-.6 .3-1 .4 .2 .3-1.3 .3 3.8 .3-2.5 .3-.1 .3-2.2 .3 2.9 .3-.9 .4 1.8 .3-2 .3 0 .3 1.6 .3-.3 .3-.8 .3-1 .3 2.8 .3-3.4 .4 1.9 .3-3.7 .3 .7 .3 3 .3 .3 .3-5.1 .3 2.9 .3 .1 .4 1.5 .3-.5 .3-1.6 .3 .2 .3 2.3 .3-3.5 .3 1.5 .3 2 .4-3.3 .3 1.8 .3-1.6 .3 2.1 .3-1.6 .3 3.1 .3-3.3 .3 3 .4-2.9 .3 4.4 .3-4.2 .3-1.4 .3 .3 .3-1.2 .3 3.6 .3-4.5 .3-.1 .4 4.5 .3-.8 .3-.5 .3-1 .3-.5 .3 4.3 .3-5.2 .3 1.3 .4 1.1 .3-3.3 .3 2 .3-2.5 .3 .8 .3 1.3 .3-2.6 .3 .5 .4 2 .3 1.7 .3-1.9 .3-2 .3 1.2 .3-3.4 .3 2.4 .3-.1 .4-.4 .3 1.9 .3-1.4 .3 .8 .3 2.6 .3-1.1 .3-4.2 .3 1.8 .4-.7 .3 2.1 .3-1.6 .3-2.4 .3 1 .3 .8 .3-3.5 .3 2.5 .3 .3 .4-2.6 .3 4.6 .3-3.9 .3 2.5 .3-.6 .3-.4 .3-1.4 .3-.2 .4-.4 .3 0 .3-2.1 .3-.7 .3 1.5 .3-.2 .3 1.6 .3 1.1 .4-2.9 .3 .7 .3-1.5 .3 4.2 .3-7.5 .3 6.3 .3-2.3 .3-1.7 .4 3.7 .3-1.5 .3 2.2 .3-1.1 .3 .7 .3-3.5 .3-.5 .3 .9 .3-2.8 .4-.3 .3 2.1 .3 .2 .3-.1 .3 .1 .3-3 .3 1.6 .3 .8 .4-.4 .3-1.4 .3 1.4 .3-1.3 .3 .4 .3-2.4 .3 .1 .3 4.1 .4-2.2 .3-1.6 .3 1.7 .3-2.2 .3 .7 .3-.6 .3 .9 .3-.7 .4-.5 .3 3 .3-1 .3 0 .3-4.5 .3 2.1 .3-.3 .3 .2 .3 1 .4 .2 .3-2.7 .3 1.8 .3-3.3 .3 2.1 .3 0 .3 .4 .3-.4 .4-.3 .3-2.6 .3-1.4 .3 5.5 .3-2.4 .3-.9 .3 2.5 .3-.6 .4-.4 .3 3.1 .3-5.1 .3 1 .3-.1 .3-.4 .3-.4 .3-3.5 .4 3.4 .3-1.2 .3 2.1 .3-1.6 .3 1 .3-.4 .3 1.1 .3-.2 .3-2.2 .4-.6 .3 .4 .3 1.7 .3-1.7 .3 4.5 .3-5.7 .3 1.5 .3-.6 .4-1.6 .3 2.5 .3-2.4 .3 2.2 .3-1.7 .3 1.5 .3-1.3 .3-1.9 .4 3.3 .3-.2 .3-.5 .3-1.1 .3-4.1 .3 5.4 .3 2.3 .3-2.4 .4 1.5 .3-1.8 .3-1 .3 1.5 .3-.5 .3 1.9 .3-3.4 .3 1.4 .3-3 .4 0 .3 3 .3-.9 .3-.7 .3-1.2 .3 3.9 .3-2.7 .3-3.2 .4 3.2 .3-.6 .3 .3 .3 1.9 .3-3.5 .3 1.1 .3 .1 .3-1 .4-.1 .3 4.3 .3-3.9 .3 1.7 .3-1.2 .3 1.4 .3 .2 .3-3 .4 1.6 .3 .4 .3 0 .3-.6 .3 .1 .3 3.8 .3-2.4 .3-1 .3-1.6 .4-1 .3 3.7 .3-4.7 .3 3 .3-.6 .3 1.6 .3 .2 .3-3.3 .4 2.7 .3-.2 .3-2.1 .3-.9 .3 5.3 .3-2.1 .3-.3 .3-2.9 .4-1 .3 4.1 .3-.7 .3-.7 .3-.5 .3 2.5 .3-1.9 .3 2.6 .4 3.2 .3-2.1 .3-2.5 .3-.9 .3 5 .3-.7 .3-2.8 .3 5.5 .4-6.3 .3-.7 .3 6.6 .3-6.1 .3 1.7 .3-2.6 .3 1.9 .3 1 .3-.6 .4-1.2 .3 1.3 .3 .3 .3 2.5 .3-3 .3 .8 .3-2.9 .3 3.1 .4 .3 .3 .9 .3-2.1 .3 1.6 .3 .9 .3-3.6 .3-.2 .3 3.7 .4 1.1 .3-3.4 .3 3.3 .3-5.8 .3 4.9 .3-1.7 .3 3.8 .3-1.9 .4-1.8 .3 1.2 .3 1.7 .3-4.7 .3 2.9 .3 1.7 .3 .7 .3-.4 .3-2.5 .4 3.6 .3-1.2 .3 1.6 .3-3.3 .3 2.5 .3-1.6 .3 .6 .3 2.1 .4-2 .3-.2 .3 3.5 .3-2.9 .3 1.1 .3 .9 .3-1.4 .3 3.3 .4-2.7 .3 1.8 .3-2 .3 1.5 .3 2 .3-3.6 .3 2.3 .3 1.5 .4-1.6 .3 1.8 .3-2.1 .3 1 .3 .6 .3-1.5 .3 3.3 .3-3.5 .3 5 .4-5.7 .3 2.5 .3 .9 .3 .9 .3-1.9 .3 1.3 .3 .2 .3-1.8 .4 2.6 .3-.1 .3-1 .3-.8 .3 2.1 .3-.3 .3 .4 .3-1 .4-1 .3 4.1 .3-1.1 .3 0 .3-.8 .3-1.3 .3 2.6 .3-.2 .4-1.3 .3 4.1 .3-.6 .3-.4 .3-.5 .3-.2 .3 1.4 .3-3.5 .3 4.2 .4-.7 .3-1.9 .3 .7 .3 1.5 .3-.5 .3-.5 .3 1.5 .3-.9 .4 2.8 .3-1.4 .3 3 .3-1.1 .3 .6 .3-3.7 .3 3 .3-1.1 .4 2.2 .3-1 .3 .3 .3 1.1 .3-2.6 .3 4.3 .3-3.6 .3-3.1 .4 5.9 .3-1.2 .3 2.8 .3-2.4 .3 3 .3-3.7 .3 2.1 .3 2.4 .3-.8 .4 .7 .3-2 .3-1.7 .3 2.3 .3 1.4 .3-.3 .3-1.4 .3 4.3 .4-4.8 .3 .5 .3 4.9 .3-5.8 .3 4.8 .3-2.2 .3-2.1 .3 4.8 .4 .5 .3-1 .3 .1 .3-1.4 .3 .8 .3 .1 .3 .1 .3-.3 .4 1.3 .3-1.8 .3 .7 .3 1.8 .3-4.5 .3 5.2 .3-3.2 .3 2.6 .4-1.7 .3-.1 .3-.4 .3-.8 .3 3.9 .3-6 .3 4.2 .3 2.1 .3 1.1 .4-6 .3 1.2 .3 2.9 .3-1.2 .3-.8 .3 2.2 .3 1 .3-.6 .4-1.3 .3 1.5 .3 2.1 .3-3.1 .3 4.2 .3-1.5 .3-3.2 .3 1.7 .4 .2 .3 .3 .3-1.5 .3 1.9 .3 3.2 .3-3.5 .3 5.6 .3-1.6 .4-5.9 .3 .9 .3 2.6 .3-.6 .3-.2 .3-1.4 .3 3 .3 .3 .3-.4 .4-1.2 .3-.1 .3 1.1 .3-1.9 .3 3.1 .3-1.6 .3 1.1 .3 .6 .4-3.7 .3 2.6 .3 1.2 .3-1.7 .3 1.8 .3-2.7 .3-.4 .3-.2 .4 3.4 .3-1.4 .3-3.3 .3 3.4 .3-2.4 .3-.5 .3 4.8 .3-4.2 .4 .7 .3-.2 .3-1.3 .3 2 .3 .6" stroke="#D95319"/>
<path d="M82.8 32.5l.3-3.4 .3-1 .3 4.2 .3-5.5 .4 3.8 .3-1.3 .3 .6 .3 .7 .3 .3 .3 .3 .3 3 .3-1.4 .4-2.4 .3 3.7 .3 .3 .3-4.6 .3 1.7 .3-.2 .3 2.7 .3-.2 .4-.4 .3 .6 .3 1.3 .3 2.4 .3-.9 .3 1.5 .3-4.4 .3 3.3 .4 0 .3-.4 .3 .7 .3-.5 .3 2.1 .3 1.7 .3-4.8 .3 4.1 .3 0 .4 .8 .3-.1 .3-.5 .3-.8 .3 3.1 .3-1.8 .3 1.9 .3-2.6 .4 4.1 .3-1.7 .3-.6 .3 3.5 .3-1.9 .3 .4 .3 1.8 .3-.5 .4-1.5 .3 1.5 .3 1.4 .3 .1 .3-.6 .3-.9 .3 1.2 .3 .5 .4-.8 .3 5.1 .3 .3 .3 1.7 .3-4.3 .3 5.3 .3-3 .3-.8 .3 3.8 .4-.7 .3-.1 .3-1 .3 3.9 .3-2.3 .3-.1 .3 1.3 .3 .5 .4-1.2 .3 2.1 .3 .8 .3 1 .3-1 .3 1.9 .3-.9 .3 1.4 .4-1.1 .3 3.4 .3-.8 .3 .1 .3 .4 .3-.5 .3 1.6 .3-.3 .4-1.1 .3 2.3 .3 3.3 .3 1.1 .3-2.6 .3 2.1 .3-.5 .3 1.2 .4-1.8 .3 .7 .3 4.1 .3-1.7 .3 1.4 .3 2.1 .3-2.5 .3 1.7 .3-.4 .4-2.5 .3 2.2 .3 .8 .3 2.8 .3 1.7 .3-3.2 .3 2.9 .3 0 .4 1.1 .3-.2 .3-3 .3 4.6 .3 .4 .3-.2 .3 .4 .3 2.7 .4 1.4 .3-1.3 .3-.1 .3 1.4 .3 .8 .3 .4 .3-.4 .3 .1 .4 2.8 .3-1.2 .3-.9 .3 1.3 .3 2.3 .3-1 .3-.1 .3-.7 .3 4.1 .4-3 .3 2.2 .3-.6 .3-.2 .3 2.8 .3 .4 .3-.6 .3-.8 .4 2.4 .3 1.7 .3-.6 .3-1.2 .3-.7 .3 3 .3 .1 .3 .3 .4 .4 .3 1.6 .3-.3 .3-.6 .3 .7 .3 .5 .3 2 .3-.3 .4 .7 .3-2.2 .3-.2 .3 2.1 .3-1.5 .3 3.3 .3 .4 .3 1.9 .3-1.8 .4 1.4 .3-.4 .3-.2 .3 1.5 .3 1.7 .3-1.2 .3 .4 .3 .3 .4-.6 .3 1.7 .3 .5 .3-2.6 .3 1.3 .3 2.2 .3 1.6 .3-.4 .4-.8 .3-.3 .3-2 .3 4.3 .3-.2 .3 1.1 .3-.3 .3 1 .4 1.4 .3-2.8 .3 1.7 .3-1.4 .3 3 .3-.8 .3-.2 .3 4.1 .3-.5 .4-2.8 .3 1.3 .3 3.2 .3-1.3 .3 .8 .3-.6 .3-2.7 .3 3.5 .4-3.6 .3 3.7 .3 1 .3-3.1 .3 1.2 .3-.4 .3-.5 .3 1.6 .4 0 .3 4.7 .3-1.1 .3-1.6 .3 .6 .3-.5 .3 2 .3-2.1 .4-1.1 .3 2.4 .3-.1 .3 .7 .3-.4 .3 1.3 .3 1.3 .3-.8 .3 .3 .4 2.7 .3-2.4 .3 .5 .3-.1 .3 1.4 .3-1.4 .3 0 .3 2.2 .4-1.3 .3-.5 .3 .2 .3 2.7 .3 .3 .3-1.4 .3 1.8 .3-5.1 .4 5.1 .3 .1 .3-2 .3 1.8 .3 3 .3-3.2 .3 1.4 .3-.5 .4 1.7 .3-.9 .3-1 .3 0 .3 1.7 .3-.5 .3 .3 .3-1.3 .4 .5 .3 1.7 .3-2.7 .3 2.1 .3-1.5 .3 2 .3-1.7 .3 .7 .3-.2 .4-.6 .3 .1 .3 .5 .3 0 .3 2.2 .3-1.7 .3 3.2 .3 .1 .4-2.8 .3-.1 .3-2.5 .3 1.2 .3-.6 .3 2.1 .3-1.1 .3-1.1 .4 1 .3 .3 .3 .3 .3 1.6 .3-.1 .3 .8 .3-2.7 .3 1 .4 .6 .3-1.6 .3 1.4 .3-2.5 .3-1.3 .3 2.2 .3 1.6 .3 1.2 .3-5.3 .4 2.3 .3 2.4 .3-3.4 .3 4.1 .3-1.9 .3-.4 .3 .2 .3 1.1 .4-5.4 .3 4.1 .3-1.2 .3 .5 .3 2.3 .3-1.6 .3-1.2 .3-1.2 .4 1.9 .3-1.2 .3 1 .3-1.5 .3 4.5 .3-4.7 .3 1.7 .3-.1 .4 3.3 .3-2.8 .3-2.6 .3-2.7 .3 4.4 .3-.2 .3-1.8 .3 .2 .3 1.2 .4-.8 .3 .2 .3-1.6 .3-.4 .3-1.6 .3 1.1 .3 .3 .3 .6 .4-1.3 .3 2.7 .3-4.8 .3 2.6 .3-1.8 .3 3.1 .3-2.9 .3 .8 .4 .7 .3 .6 .3 .1 .3-4.2 .3 .7 .3 1.5 .3-.3 .3 1.2 .4 1.5 .3-.3 .3-2 .3-.8 .3 1.3 .3-3.2 .3 .3 .3 .3 .3 2.7 .4-2.6 .3-.5 .3 1.7 .3 1.1 .3-6.3 .3 1.7 .3 1.3 .3-3.2 .4 .5 .3 .7 .3 .1 .3-1 .3-1.3 .3 1.8 .3 .2 .3-1.4 .4 4.8 .3-4.6 .3 .5 .3-.8 .3-.1 .3-1 .3 .1 .3-.2 .4 0 .3-1.2 .3 1.2 .3-2.5 .3 3.7 .3-3.1 .3-.7 .3 2.4 .3-1.6 .4-2.9 .3 1.9 .3 .8 .3 2.9 .3-5.3 .3 0 .3-1 .3-2.5 .4 2.8 .3-.5 .3 .9 .3-1.2 .3-.4 .3-1.5 .3 0 .3 1.7 .4-.7 .3-3.1 .3 3.2 .3-2.9 .3-1.6 .3 1.2 .3 .3 .3-2 .4 1.2 .3 .3 .3-.1 .3-2.3 .3 .4 .3-1.6 .3 2.6 .3-.4 .3-.1 .4-1.4 .3 1.2 .3-2.7 .3 .6 .3 1.7 .3 2.7 .3-2 .3-5.2 .4 2 .3-.6 .3 .6 .3-1.5 .3 3.2 .3-.1 .3-.8 .3-2.9 .4-1.2 .3 .1 .3 .7 .3 1.5 .3-3.4 .3 1.4 .3-.7 .3-.1 .4 .3 .3 .2 .3-.5 .3 .8 .3-2.5 .3 .4 .3-2 .3 4 .4-4.7 .3 1.6 .3 0 .3 .7 .3-.2 .3 .8 .3-3.8 .3 1.5 .3-1.6 .4-.4 .3 1.8 .3-.6 .3 0 .3-2.3 .3 1.1 .3-.2 .3-1 .4 1 .3-3.4 .3 4.3 .3-3.5 .3-.4 .3 3.7 .3-3.2 .3 .7 .4-1.1 .3 3 .3-2.4 .3 1.7 .3-1.1 .3-2.8 .3 2.1 .3 3.1 .4-1.5 .3-.5 .3-3.4 .3 2.4 .3 1.2 .3-4.2 .3 1.1 .3-.2 .3 1.5 .4-3.5 .3 2.2 .3 2.7 .3-1.4 .3-.6 .3-1.1 .3-1.5 .3 2.1 .4-.3 .3-4.4 .3 3.1 .3 .8 .3-1 .3 1.9 .3-2.8 .3-.8 .4 2.2 .3-2.5 .3 1.9 .3-1 .3 1.4 .3 0 .3 1 .3-2.7 .4 .7 .3-.2 .3 1.3 .3-.1 .3-.9 .3-1.7 .3 .2 .3 1.4 .3-1.6 .4-2.3 .3 2.5 .3-3 .3 2.3 .3-1.4 .3 2.7 .3-2.6 .3 3.5 .4-2.2 .3 .8 .3 2.5 .3-1 .3-3.8 .3 .9 .3-1.3 .3 1.6 .4 4.7 .3-4.8 .3 1.2 .3-.1 .3-.2 .3 .5 .3 .3 .3-3.4 .4 1.2 .3 1.6 .3-.3 .3-2.1 .3 .8 .3 .3 .3 2.1 .3-1.2 .3 1.1 .4 1.2 .3-4.2 .3 1.8 .3 .1 .3 .9 .3-2.6 .3-2 .3 2.3 .4-.5 .3 3.3 .3-2.1 .3 0 .3-1.9 .3 2.3 .3 1.4 .3-1.3 .4 .7 .3-2.8 .3 1.2 .3 .5 .3 .3 .3-.9 .3 2.1 .3 .7 .4 1.5 .3-4.6 .3 1.1 .3-.1 .3 1 .3-2.4 .3 4.1 .3-3.2 .3 3.2 .4-.5 .3 1.2 .3-1.8 .3 .7 .3-1 .3 1.6 .3 1.4 .3-2.9 .4-1 .3 1 .3 1.3 .3-.5 .3 3.3 .3-2 .3-2.1 .3 1.2 .4 2.2 .3-2.5 .3 1.7 .3-1.2 .3 3.4 .3-1.2 .3-1.1 .3 .2 .4-.2 .3 1 .3 .5 .3-.8 .3-.4 .3 3.7 .3-1.6 .3 0 .4-.3 .3-1.1 .3 3.7 .3-2.6 .3 3.6 .3-1.2 .3-.2 .3-.2 .3 .8 .4 0 .3 0 .3 .1 .3 2.6 .3-.4 .3-1.3 .3-1.2 .3-.5 .4-2.5 .3 4.3 .3 1.6 .3-1.2 .3-.5 .3 1 .3 2.1 .3-1.2 .4 .1 .3 2.3 .3 0 .3-3.4 .3 5.4 .3-3.3 .3 .9 .3-2.3 .4 1.5 .3 2.4 .3-2.9 .3 3 .3-3.6 .3 .8 .3 2.9 .3-1 .3 1.1 .4 1.9 .3-2.7 .3 1.2 .3-.3 .3-.1 .3-.2 .3 .8 .3 2 .4 0 .3-.3 .3 1.1 .3 .5 .3-2.9 .3 2.3 .3-1.8 .3 4.3 .4-.9 .3 .9 .3 .2 .3 .1 .3 .1 .3 .7 .3-3.1 .3 2 .4 2.4 .3 0 .3-1.7 .3 .6 .3 2 .3-2 .3 3.8 .3-1.2 .3-3 .4 6.7 .3-3.3 .3-1.5 .3 2 .3 1.2 .3 .4 .3 2.1 .3-.9 .4-1.8 .3 1.2 .3-.5 .3 .4 .3-.3 .3 3.1 .3-1.7 .3 .3 .4 .2 .3 1.1 .3 2.3 .3-4 .3 0 .3-2.1 .3 2.8 .3-1.1 .4 1.8 .3 1.7 .3-1.1 .3 2.8 .3-1.9 .3 .8 .3 1.7 .3-3.1 .3 .4 .4 1.2 .3-.3 .3-1 .3 3 .3 2 .3-.3 .3-2.2 .3 .9 .4 2.8 .3-3.9 .3 1.9 .3-1.9 .3 1 .3 2.6 .3-.5 .3 1.4 .4 .4 .3-.5 .3-1 .3-1 .3 3.6 .3-2.2 .3 1.3 .3 .6 .4-1.8 .3 2.5 .3-2.4 .3 2.8 .3 1.1 .3-2.3 .3 3.6 .3-.2 .3-1.2 .4-.1 .3 .6 .3 2.8 .3-.7 .3-2.5 .3 .1 .3 2.6 .3-1.7 .4 .3 .3-1 .3 2.9 .3-3.1 .3 2.9 .3-2.4 .3 1 .3 3.1 .4-.9 .3-.6 .3-.9 .3 3.8 .3-1.1 .3-1.5 .3 .4 .3 2.5 .4 0 .3-1.8 .3 2.4 .3-1.6 .3-.9 .3 1.6 .3 4.2 .3-5.5 .4 .2 .3-.2 .3 1 .3 4 .3-4.4 .3 1.8 .3-.7 .3 1.8 .3 .4 .4 .1 .3-2.5 .3 2.1 .3 1 .3 1.8 .3-2.5 .3 .9 .3 0 .4-1.1 .3 .6 .3 1.2 .3-.1 .3 .4 .3-.8 .3 .2 .3 1 .4 1.7 .3-2.4 .3 .1 .3 3.1 .3-2 .3 1.3 .3 2.9 .3-3.1 .4-1.3 .3 2.6 .3 .2 .3-2.5 .3 3.3 .3 0 .3-.8 .3-1.3 .3 .1 .4 1.9 .3-.2 .3-.5 .3 .8 .3 .9 .3 .4 .3-2.6 .3 1.5 .4-4.5 .3 3.5 .3 2.1 .3-1 .3-.4 .3 0 .3 0 .3 .1 .4 .9 .3-1.1 .3-2.2 .3 4 .3 0 .3-1.6 .3-.7 .3 .7 .4-.6 .3 2 .3 .3 .3-1.3 .3 0 .3-1.4 .3 .2 .3 5.1 .3-3.9 .4 2.2 .3 2.2 .3-3.7 .3 .8 .3 .3 .3 1.5 .3-.4 .3-1.2 .4 1.9 .3-2.1 .3-.3 .3 .4 .3-.7 .3 .6 .3 1.6 .3-.2 .4-1.8 .3-1.2 .3 1.2 .3 .9 .3-1 .3 3 .3-1.3 .3-.9 .4-.5 .3 .3 .3-.1 .3 1.3 .3-.9 .3-1.3 .3 3.1 .3-1 .3-1.3 .4-2.8 .3 1.1 .3-1.4 .3 .3 .3 2.6 .3-.6 .3 1.6 .3-3.6 .4 .6 .3 .2 .3-.2 .3 .2 .3 .3 .3-.2 .3-1.4 .3 2.9 .4 .3 .3-1.7 .3-1.8 .3 1.3 .3 .6 .3-1.7 .3 1 .3 3 .4-1.5 .3 1.6 .3-3 .3 .3 .3-1.5 .3-2.6 .3 4 .3-1 .3 .5 .4 3.5 .3-3.2 .3-.2 .3-1.6 .3 1.6 .3 .6 .3-3 .3 .9 .4 1.1 .3-.3 .3-.8 .3-1.8 .3-1.1 .3 4 .3-3.8 .3 1.5 .4-.6 .3-1 .3 2.8 .3-2.9 .3 3.1 .3-1.4 .3 .4 .3-3.9 .4-.1 .3 1.2 .3 .2 .3 1.5 .3-3.6 .3 .4 .3 .6 .3 1.4 .4 .2 .3-.6 .3-2.2 .3 3.2 .3-1.7 .3-2.4 .3 1 .3-1.5 .3 1.9 .4-.2 .3-1.6 .3 .9 .3 .4 .3 1.1 .3 1.3 .3-4.6 .3 2.7 .4 .3 .3-2.6 .3 2.5 .3 .6 .3-1.4 .3-.9 .3-.6 .3-.6 .4-.8 .3 1.5 .3-.9 .3 .5 .3 .7 .3-1.7 .3-.1 .3-2.4 .4 1.7 .3 1.8 .3-2.1 .3 1.1 .3-2.9 .3 4.7 .3-1.7 .3-.1 .3-1.4 .4 .2 .3 2.1 .3 .2 .3-3.2 .3-2.1 .3-.1 .3 2.6 .3-1.4 .4 1.8 .3 .7 .3-4.1 .3 .6 .3 1.4 .3-.1 .3-2.1 .3 .7 .4 .8 .3-1 .3 .2 .3 .5 .3 .3 .3-2.6 .3 1.9 .3 .9 .4-4.6 .3 .7 .3 .9 .3 .8 .3-.6 .3 2.3 .3-2.2 .3-.6 .3 .5 .4-1 .3 1.6 .3-1.6 .3 2.5 .3-2.4 .3 .7 .3 .9 .3-1.5 .4-.7 .3 .7 .3-2.4 .3 2.3 .3-2.5 .3 .1 .3 1.9 .3-3.2 .4 4 .3-2.9 .3 .6 .3-1.2 .3 3.3 .3-.6 .3-.7 .3-1.4 .4-.2 .3 0 .3 .3 .3 .5 .3 .9 .3-1.5 .3-1.5 .3-.9 .3 2.2 .4-2.5 .3 3.5 .3-3.2 .3 2.6 .3-2.1 .3 1.7 .3-.1 .3-.7 .4-3 .3 3 .3-2 .3 .6 .3-.3 .3-.1 .3-.6 .3 2.6 .4-1.9 .3-.5 .3 1.2 .3-1.4 .3 1.9 .3-2.6 .3 2 .3-.7 .4-1.7 .3-.5 .3 2.4 .3 0 .3-2.4 .3 5.6 .3-6.3 .3 0 .3 3.4 .4-3.4 .3 1.2 .3-.2 .3 4 .3-2.7 .3-.5 .3 .3 .3-.1 .4-.2 .3 3.7 .3-3.9 .3 .7 .3-1 .3 .6 .3-.8 .3-.4 .4-2.3 .3 3.8 .3-3.7 .3 2.8 .3 .9 .3 .8 .3-3.4 .3 3.5 .4-3.6 .3 .8 .3 1.3 .3 .2 .3-1.7 .3 .4 .3-.8 .3 1.1 .3 .7 .4-1.5 .3 2.5 .3-3 .3 1.2 .3 1.7 .3-.1 .3-1 .3 2.2 .4-4.8 .3 .7 .3 3.1 .3-1.5 .3-2.6 .3 1.9 .3 2.1 .3 1.8 .4-.8 .3-4.1 .3 1.3 .3 2.4 .3-2.9 .3 1.6 .3 .5 .3-.2 .4 0 .3-3.1 .3 3.9 .3-.7 .3-2.6 .3-.2 .3 3.8 .3-4.5 .4 1.5 .3 3.9 .3-4.8 .3 5 .3-3.2 .3 2.8 .3 1 .3-3.8 .3 .7 .4 .8 .3-.3 .3 .5 .3 .4 .3 1.3 .3-2.4 .3 .9 .3 .5 .4 .6 .3-.4 .3 2 .3-1.7 .3 1.1 .3-3.3 .3 3.5 .3-.7 .4-.6 .3-1 .3 .6 .3 .8 .3-3.1 .3 3.3 .3-.4 .3-3.5 .4 5.6 .3-2.7 .3 .9 .3 2.8 .3-.9 .3-2.1 .3 3.6 .3-1.8 .3-1.5 .4 1.9 .3-.7 .3 1.6 .3 0 .3 .2 .3-.3 .3-1.3 .3 .9 .4-2.7 .3 2.3 .3 .6 .3-2.8 .3 3.6 .3 1.2 .3-1.3 .3 2.1 .4-2.3 .3-1.1 .3 1.2 .3 1.7 .3-.2 .3-.8 .3-.9 .3 2.6 .4 .1 .3-2 .3 1.4 .3 0 .3-.1 .3 2.1 .3-.8 .3-1.6 .3 2 .4 .2 .3-.6 .3 0 .3-3 .3 5.2 .3-1.3 .3-2.6 .3 3.1 .4-.3 .3 2.9 .3-3.5 .3 .4 .3 .2 .3 1.7 .3-.7 .3 .9 .4-1.2 .3 1.5 .3-1.1 .3 3.4 .3-1.3 .3 3.9 .3-3.8 .3-1.2 .4 1.7 .3-3.7 .3 5.1 .3-.8 .3 1.1 .3-.4 .3 .1 .3 1.7 .3-.6 .4-4.3 .3 3.6 .3-1.6 .3 3.5 .3-1.5 .3-.8 .3 1.2 .3 .7 .4-.3 .3-.1 .3-1.1 .3-.3 .3 3.9 .3 1.3 .3-2.6 .3-.1 .4-.9 .3-.3 .3 2.8 .3-3.9 .3 2.8 .3 3.3 .3-4 .3 1.3 .4 .1 .3 3 .3-1.7 .3-.5 .3 .6 .3-1.1 .3-.7 .3-.2 .3 .6 .4 2.3 .3-2.6 .3 2.3 .3-.7 .3 1.8 .3 1.9 .3 1.5 .3-3.5 .4 1.4 .3-.8 .3-1.2 .3 3.8 .3 .5 .3-2.8 .3 0 .3 1.1 .4 .5 .3 1.8 .3-2.1 .3 1.2 .3-1.6 .3-.7 .3 2.4 .3-1.3 .4 .5 .3-.6 .3-1.1 .3 1.5 .3 .1 .3 0 .3 2 .3-.5 .4-.4 .3-1.2 .3 0 .3-1.3 .3 5.2 .3-1.4 .3 2.6 .3-1.6 .3 1.8 .4-4.1 .3 .7 .3 2.9 .3-2 .3-.5 .3-1.4 .3 1.5 .3 1.2 .4 .4 .3-.9 .3 .6 .3 1.3 .3 1.2 .3-3.3 .3 2.7 .3-.5 .4-1.5 .3 1.3 .3-1.6 .3 3.4 .3-2.7 .3 3.2 .3 .4 .3-.6 .4-1.7 .3 1.3 .3 1.1 .3-3.8 .3 3.3 .3-1.2 .3-.4 .3 1.1 .3-1.2 .4-.3 .3 1.2 .3-1.7 .3 2.5 .3 .8 .3-1.9 .3 1.8 .3-1.9 .4 .7 .3 .6 .3-1.5 .3 .1 .3 5.3 .3-4 .3-.6 .3-.5 .4 1.5 .3 1 .3-1.9 .3-.9 .3 4.2 .3-.9 .3-1.3 .3 3 .4-3 .3-2.2 .3 2.9 .3-1.8 .3 1.5" stroke="#EDB120"/>
<path d="M82.8 36.2l.3-8.6 .3-.7 .3 2.3 .3-1.3 .4 1.4 .3 1.7 .3-2.8 .3 3.6 .3-.9 .3-3.4 .3 2.8 .3 3.1 .4-1.5 .3 1.6 .3-.4 .3 2.5 .3-2.5 .3 3.2 .3-2.8 .3 .3 .4-.5 .3-1.9 .3 6.5 .3-.4 .3-.1 .3-.4 .3-2 .3 2.2 .4 .7 .3 1.2 .3-.5 .3 0 .3-.2 .3 2.4 .3-1.9 .3-.7 .3 .7 .4 2.9 .3-3.1 .3 .4 .3 1.1 .3 2.8 .3 .7 .3-2.1 .3 2.1 .4 .8 .3-3.2 .3 .3 .3 .8 .3-.7 .3 1 .3 3.7 .3-3.4 .4 2.1 .3-.2 .3-1.4 .3 2.2 .3-1.4 .3 2.8 .3 1.2 .3 .9 .4-.5 .3 2.9 .3-2.1 .3 .5 .3 1.1 .3 3.2 .3 .3 .3-4.1 .3 3.1 .4-3.3 .3 3.9 .3-1.3 .3 3.4 .3-.8 .3-.2 .3-.8 .3-1.3 .4 1.7 .3 4.4 .3-1.9 .3 .8 .3 1.2 .3-1.4 .3-1.1 .3 3.8 .4-2.1 .3 .1 .3 4.5 .3-4.1 .3 .7 .3 2.7 .3-1.8 .3 2.9 .4-.9 .3 1.3 .3 2.9 .3-1.3 .3 1.2 .3 1.1 .3 1.6 .3-.1 .4 1.2 .3-3.3 .3 5.5 .3-2.8 .3 1.7 .3 1.5 .3-2.7 .3 3 .3-2.8 .4 2.8 .3-.3 .3 1.2 .3-.7 .3 0 .3 2.8 .3-.3 .3-2.3 .4 4.3 .3-3.4 .3 4.1 .3 .7 .3 2.4 .3-.9 .3 1.9 .3-1.4 .4-1.5 .3 1.7 .3 1.4 .3 1.1 .3 0 .3 1.7 .3 .2 .3-4.7 .4 3.2 .3 2.4 .3-2.1 .3-.9 .3 3.9 .3-.3 .3 2.3 .3 1 .3-4.3 .4 3.5 .3 .8 .3 1.9 .3-4.4 .3 1 .3 1.4 .3-1.1 .3 3.4 .4-.6 .3-.3 .3 2.2 .3-.8 .3 1.6 .3-.7 .3 .9 .3 3.9 .4-2.9 .3 2.9 .3-.4 .3 1.7 .3-3.6 .3 2.3 .3 .5 .3-2.2 .4 1.3 .3 2 .3 3.4 .3-4 .3 1.9 .3 .6 .3-1.4 .3 2.6 .3-.4 .4-1.2 .3 .9 .3 2.4 .3-3 .3 .9 .3-.8 .3 3.6 .3-.1 .4-1 .3 1.4 .3 .9 .3 .8 .3 .7 .3 .9 .3 .4 .3-1.3 .4 1.5 .3 2.2 .3-2 .3-2.3 .3 .9 .3 5.8 .3-1.5 .3-2.3 .4 1.5 .3 .3 .3 .7 .3 0 .3 2.1 .3-3.2 .3 3.9 .3-1.1 .3-2.4 .4 1.1 .3 2.1 .3 .3 .3 1.3 .3 .1 .3-.1 .3-2.2 .3 3.1 .4-1.3 .3 .5 .3 .4 .3 1.4 .3-1.4 .3 1.2 .3 .4 .3 1.2 .4 3 .3-4.4 .3 .3 .3 2.3 .3-.3 .3-.5 .3 2.3 .3-2.5 .4 .3 .3 0 .3 .1 .3 4.8 .3-3.6 .3 1.7 .3-2.2 .3 .3 .3 .6 .4 1.7 .3-4.4 .3 4.7 .3 1.8 .3-3 .3 4.1 .3-5.2 .3 1.6 .4-.3 .3 .7 .3 1.2 .3 2.9 .3-1 .3-1.7 .3 1.4 .3-.7 .4 1.8 .3 .3 .3-1.5 .3-.6 .3 1.3 .3 1.7 .3 1.3 .3-5.8 .4 5.2 .3-.3 .3-.1 .3-2.5 .3 2.8 .3-2 .3 .5 .3 2.4 .4-2 .3 2.3 .3-1.6 .3-1.3 .3 1.6 .3 1.2 .3-.7 .3-.3 .3-.8 .4 4.3 .3-.7 .3-3.7 .3 1.1 .3-.2 .3-.3 .3 .7 .3 .5 .4-.9 .3-.8 .3 .5 .3 .6 .3 1.7 .3-2 .3 2.2 .3-.7 .4-1.3 .3 0 .3-1.5 .3 .3 .3 .7 .3 1.3 .3-.6 .3 .4 .4-3.2 .3 2.1 .3 1.7 .3 .3 .3-3.4 .3 3.4 .3-2 .3 .3 .3-1.5 .4 3.1 .3-2.2 .3 .4 .3-1 .3-1 .3 2 .3 .4 .3-1.8 .4 3.6 .3-2.6 .3 1.8 .3 .3 .3 .5 .3 .1 .3-4.1 .3-.1 .4 1.1 .3-1.5 .3 1.5 .3 .7 .3 .9 .3-3.1 .3-.1 .3-.8 .4 3.1 .3-.9 .3 1.6 .3-4.1 .3 .6 .3 .2 .3 .7 .3 .1 .3 .2 .4-2.4 .3 2.6 .3-2.5 .3 .8 .3 1.9 .3 .6 .3-1.2 .3-1.3 .4 1.8 .3-3.2 .3-1 .3 .8 .3 3.4 .3 .9 .3-5.3 .3-1.1 .4 2.8 .3-1.6 .3 1.1 .3 .4 .3-2.8 .3 2.3 .3-2.4 .3-1.6 .4 2.8 .3-3.4 .3 4.9 .3-3.8 .3 1.3 .3-4.3 .3 3.8 .3 1.2 .3-4.1 .4 4.8 .3-3.3 .3 1.7 .3-3.7 .3 2.2 .3-1.8 .3 1.2 .3 1.5 .4 1.5 .3-6.6 .3 2.3 .3 2 .3-1.6 .3-2.4 .3 3.8 .3-6.3 .4 3.8 .3-.1 .3-2.9 .3 1.5 .3 1.7 .3-3.4 .3 .5 .3-1.4 .4 3.1 .3 0 .3-3.1 .3 1.5 .3 2.4 .3-2.8 .3-2.2 .3 1.9 .3-3.5 .4 2.6 .3-1 .3 2.2 .3-1.6 .3-1.3 .3-1.6 .3 .4 .3-1.7 .4 4.9 .3-3.9 .3 0 .3 1.2 .3-2 .3 .9 .3-2.2 .3 .9 .4-1.7 .3 2 .3-3.8 .3 1.1 .3-2.5 .3 2.8 .3 .3 .3-1.4 .4 .7 .3 .6 .3-2 .3-.2 .3 .7 .3-.7 .3 .6 .3-2.1 .3 2.1 .4-5.2 .3 2.4 .3-1.7 .3 3.2 .3-2.8 .3 .5 .3-2.1 .3-.1 .4 3.8 .3-4.8 .3 4 .3-4.9 .3 2 .3 1.6 .3-3.3 .3 .8 .4 1.4 .3-.7 .3-2.2 .3 2.7 .3-1 .3-4.7 .3 4 .3-2.1 .4-.3 .3-1.1 .3-.1 .3 5.3 .3-3.6 .3-2.9 .3 3 .3-4.5 .4 2.3 .3 2.2 .3-3.1 .3-2.5 .3 4.1 .3-2.2 .3 2.1 .3-.7 .3-1.4 .4-.8 .3 0 .3 .1 .3-3.8 .3 5.5 .3 1.1 .3-4.2 .3 .4 .4 2.5 .3-5.3 .3 3.7 .3 1 .3-3.2 .3-.5 .3-3 .3 6.2 .4-.6 .3-1.8 .3 .1 .3-.8 .3 .9 .3 1.2 .3-1.9 .3-2.1 .4-.3 .3 2.2 .3-2.1 .3 .1 .3 1.3 .3-.4 .3-.8 .3-4.6 .3 4.2 .4 1.5 .3-1.3 .3 .5 .3-2.9 .3 5.3 .3-1.9 .3-3.3 .3 .6 .4 .5 .3-1.3 .3 3.3 .3-2.9 .3 2.3 .3 .2 .3-3.1 .3 2 .4-.8 .3-1.7 .3 2.6 .3-2.8 .3-2.8 .3 3.9 .3-2 .3 .3 .4 3.2 .3 .1 .3-2.4 .3 3.4 .3-3.6 .3-.4 .3-.5 .3 0 .3-1.5 .4 2.6 .3-2.8 .3 1.3 .3-.1 .3 1 .3-1.8 .3 2.7 .3-2.5 .4-.7 .3 2.9 .3 .4 .3-.4 .3-1.2 .3-.7 .3-.9 .3-1.7 .4 .4 .3 2.2 .3 1 .3 1.3 .3-3.3 .3 .4 .3 1.3 .3-.2 .4-.1 .3 4 .3-4.1 .3-.7 .3 .8 .3 1.5 .3-1.8 .3-.7 .3-2.2 .4 1.2 .3 .8 .3 1 .3 2.2 .3-1.4 .3 1.4 .3-2 .3-1.9 .4 0 .3 .3 .3 1.5 .3-1.6 .3 2.1 .3 2.8 .3-3.4 .3 .2 .4 3 .3-1.9 .3 3.2 .3-3.2 .3-2.7 .3 3.1 .3-3.2 .3 1.9 .4 1.6 .3 1.8 .3-4.1 .3 .2 .3 3.6 .3-1.6 .3-2.4 .3 3.1 .3-1.8 .4 4 .3-1.6 .3-2.6 .3 3.2 .3 .5 .3 .1 .3-1.6 .3 2.1 .4-2.3 .3-1 .3-1.4 .3 3.3 .3-3.2 .3 1.9 .3 1.4 .3-1.1 .4-1.5 .3 .2 .3 1.4 .3 1.5 .3-1.3 .3 1.1 .3 .3 .3 0 .4-2.4 .3 5.1 .3-1.6 .3 1.8 .3-3 .3-.2 .3-.3 .3 3 .4-.4 .3-1 .3 1.1 .3 .1 .3 .3 .3 .1 .3 .8 .3-.7 .3 3.4 .4-1.5 .3 1.7 .3-1.8 .3 1.2 .3-1.8 .3-1 .3 4.3 .3-.5 .4-1.6 .3-1.6 .3 1.4 .3 .8 .3 1 .3 .9 .3-1.1 .3 0 .4 .8 .3 1.5 .3 1.9 .3-1 .3-.5 .3 1.5 .3-2.1 .3 3.1 .4-1.6 .3-.8 .3-.5 .3 1.2 .3-1.3 .3 3.2 .3 .5 .3-2.7 .3 3.4 .4-.9 .3 2.9 .3-4.4 .3 .9 .3 2.7 .3 1.9 .3-3 .3 .2 .4-1.2 .3-.8 .3 2.9 .3 1 .3 .3 .3 .4 .3 2 .3-.5 .4-1 .3 2.8 .3-.3 .3-3.8 .3 3.3 .3-2.1 .3-.2 .3 2 .4-1 .3 1.9 .3 1.4 .3-1 .3 0 .3 .2 .3 .4 .3 1 .3-2.1 .4 2.3 .3 .7 .3-2 .3 3.4 .3-1.3 .3-2.1 .3 2.5 .3-1.9 .4 3 .3 .7 .3-.3 .3 .9 .3-.1 .3 .4 .3-1.7 .3 .9 .4 1.2 .3 1.2 .3-6.2 .3 5.8 .3-2.3 .3 4.4 .3-.4 .3-3 .4 4.1 .3 .2 .3-1.4 .3 1.4 .3-.5 .3-.5 .3-.9 .3 1.4 .3 .1 .4-1.4 .3 .1 .3 3.1 .3 2.7 .3-1.1 .3-3.1 .3 2.7 .3 .6 .4-.1 .3-3.1 .3 2.7 .3 1 .3 .8 .3 .9 .3-6.2 .3 4.9 .4 0 .3 1 .3-2 .3 3.6 .3 1.7 .3-1.9 .3-1.3 .3-2.9 .4 4.1 .3 1.5 .3-.8 .3 1.1 .3 .3 .3-1.2 .3-.1 .3 1.8 .3-2.7 .4 2.2 .3-.1 .3 1.3 .3-1.2 .3 .1 .3-.2 .3 2.7 .3-2.2 .4 2.2 .3-.9 .3-.8 .3-1 .3 3.4 .3 1.3 .3-1.8 .3-1.6 .4 2.8 .3-4.3 .3 7.2 .3-5.3 .3 .8 .3 .3 .3 3.4 .3-3.4 .4 .5 .3 .1 .3 2.6 .3 .3 .3-2.3 .3 1.7 .3 1.4 .3 .9 .4-1.6 .3 2.9 .3-3 .3 .9 .3 3 .3-3.1 .3-1 .3 1.7 .3 2.8 .4-1 .3-2.1 .3 3.6 .3-1.3 .3-2.3 .3 2.5 .3 .7 .3-2.1 .4-1.1 .3 2.2 .3 3 .3 .6 .3-2 .3 2.7 .3-2.7 .3-1.4 .4 6 .3-3.9 .3-.6 .3 1.5 .3-1.3 .3 0 .3-.8 .3-2.5 .4 4 .3 2.2 .3 .3 .3 .5 .3-3 .3 .7 .3 0 .3 .5 .3-2.1 .4 1 .3 .2 .3 2.9 .3-.5 .3 1.8 .3-1 .3-1.1 .3 2.3 .4-.9 .3-4.2 .3 3.7 .3 2.2 .3-.3 .3-1.8 .3-1.5 .3 1.6 .4-1.4 .3 .9 .3 2.4 .3-3.4 .3 2.5 .3-3.7 .3 4.1 .3-.7 .4 .7 .3-.4 .3-1.1 .3 1.1 .3-2.2 .3 1.2 .3-1.8 .3 2.5 .3-2 .4 .2 .3 2.2 .3-4.3 .3 1.7 .3 1.6 .3 1.2 .3-.2 .3 .2 .4-.8 .3 2.3 .3-1.9 .3 1.1 .3-3.7 .3 1.4 .3-1.5 .3-1.1 .4 3.1 .3-2.6 .3 2.7 .3-.4 .3 2.5 .3-1.7 .3-2.2 .3 1.5 .4 1.4 .3-.7 .3 1.2 .3-.2 .3 1.2 .3-4.1 .3-.1 .3 1.9 .3 2 .4-1.8 .3-3.8 .3 5.4 .3-1.4 .3-.1 .3-2.1 .3 3.3 .3-2.6 .4 1.7 .3-.8 .3 1.3 .3-2.9 .3 1.6 .3 .1 .3-2.8 .3 1.1 .4-3.4 .3 3.1 .3 .5 .3-.2 .3-4.3 .3 2.3 .3 2.4 .3-1.1 .4 1.3 .3-2 .3 1.8 .3 0 .3-1.7 .3-1.6 .3 .7 .3 0 .3 1.1 .4 3.9 .3-3.8 .3 0 .3-1.3 .3-2.1 .3 1.5 .3 3.9 .3-3 .4 .3 .3-1.6 .3 1.1 .3 2.9 .3-1.8 .3-1 .3 2.7 .3-3.3 .4 .1 .3-2.3 .3 1.8 .3 .7 .3-.9 .3-.4 .3-1.7 .3 3 .4 2 .3-8.3 .3 3.1 .3 1 .3-4 .3 5.7 .3-.7 .3-.7 .4-1.7 .3 1.4 .3-2.2 .3 1.7 .3-2.8 .3 1.2 .3 3.3 .3-2.8 .3 1.7 .4-1.8 .3-.4 .3-3.8 .3 3.9 .3 2.1 .3-2.9 .3 1.9 .3-5.1 .4 1.7 .3-1.5 .3 3 .3 .9 .3-2.3 .3 2.6 .3-.8 .3-.5 .4-1.2 .3 2.1 .3 .7 .3-5.9 .3 3.1 .3-.7 .3-1.5 .3 .1 .4 1.7 .3-.5 .3-3.6 .3 .4 .3 .7 .3-1.6 .3 5.6 .3-3.4 .3 .5 .4 2.5 .3-3.9 .3-.6 .3 .4 .3 3.3 .3-2.8 .3-.9 .3 .6 .4-1 .3-.5 .3-1.7 .3 1.8 .3-4.1 .3 3.8 .3-.2 .3-1 .4 1.2 .3 .3 .3-2.7 .3 5.4 .3-.8 .3-6.5 .3 2.1 .3 .2 .4 .2 .3-.1 .3 1.9 .3-1.3 .3 1.1 .3-3.8 .3 .7 .3 .6 .3-.4 .4 .7 .3 1.5 .3-4.8 .3 1.6 .3 1.2 .3-1.4 .3-1.3 .3 0 .4 .7 .3-.4 .3 1.6 .3-2.7 .3 .5 .3-.1 .3 3.6 .3-3.4 .4-.2 .3-.3 .3 5.5 .3-1.3 .3-3.7 .3 1.9 .3-2.3 .3 .6 .4-1.6 .3 2.2 .3 .7 .3-2.7 .3 1.2 .3 1.3 .3 1.3 .3-8.6 .3 5.7 .4-.3 .3 2.7 .3-1.7 .3-1.5 .3-.9 .3-.8 .3 2.4 .3-2.2 .4-1.2 .3 2.7 .3-.8 .3 2.8 .3-1.8 .3 .9 .3-3.5 .3 1.3 .4-3 .3 2.2 .3-1.1 .3 .4 .3 .4 .3 2.1 .3-4.6 .3 2.8 .4 2.8 .3-2.2 .3 .8 .3-3.8 .3 .1 .3-.9 .3-1.1 .3 4.6 .3 2.1 .4-1.7 .3-2.3 .3 5.1 .3-3.5 .3-2.5 .3 2.8 .3-1.3 .3 1.3 .4-4.5 .3-.4 .3 4.9 .3-.3 .3-1.7 .3-1 .3 .4 .3-.4 .4-.6 .3-.5 .3-1.1 .3 2.8 .3 1 .3-.7 .3-3.9 .3 2.3 .4 .2 .3-1.1 .3 .2 .3-1.9 .3 5.3 .3-1.7 .3-1 .3-.1 .3 2 .4 2.1 .3-2.2 .3 .7 .3-1 .3-2 .3 .6 .3 3.2 .3-.7 .4-1.6 .3-1.5 .3 2 .3-.4 .3 2.9 .3-1.7 .3 .6 .3-1.7 .4 .9 .3 1 .3 .4 .3-2.1 .3 1.5 .3-3 .3 1.7 .3 .8 .4-1.9 .3 3.6 .3-3.5 .3 2.8 .3-2.4 .3 2.4 .3 .5 .3 1.6 .4-3.1 .3-.7 .3 3.3 .3-5.3 .3 3.1 .3 1.9 .3-5.1 .3 4.1 .3-3.1 .4 7.3 .3-8.3 .3 3.4 .3 .4 .3-.4 .3 2.5 .3-3.4 .3 .9 .4 .3 .3 1.6 .3 1.1 .3-2.4 .3-.7 .3 1.2 .3 .7 .3 .7 .4-2 .3-1.1 .3 2.8 .3 1.3 .3-5.5 .3 6.9 .3-3 .3 .8 .4-2.3 .3 2.6 .3 2.6 .3-.7 .3-2 .3 .4 .3 1.2 .3-.1 .3 1.8 .4 0 .3-1.3 .3 .3 .3-.8 .3 1.9 .3-4.5 .3 5.7 .3-4.2 .4 .6 .3-1.6 .3 .5 .3 4.7 .3-2.7 .3-.5 .3-.2 .3 .9 .4 1.9 .3-2.9 .3 2.5 .3 .8 .3-1 .3 1.2 .3 .5 .3-1.1 .4-4.1 .3 4 .3 .6 .3 1 .3-1.1 .3 2.7 .3-2.6 .3 .5 .3 .5 .4-.5 .3 1.3 .3-1.3 .3 .4 .3 .1 .3 1.1 .3-1.3 .3 2 .4-2.3 .3 2.5 .3-2.1 .3 1.8 .3 .7 .3 1.8 .3-2.6 .3 .7 .4 .7 .3-.5 .3 .7 .3 1.9 .3 .6 .3-2.8 .3 .9 .3-2 .4-.7 .3 2.2 .3 .5 .3 .3 .3 .9 .3 1.5 .3 3.4 .3-5.4 .3 .5 .4 1.1 .3 0 .3-1.2 .3 .3 .3 1.3 .3 1 .3-1.3 .3-.1 .4-2.2 .3 5.4 .3-2.2 .3 2.5 .3-.5 .3-4.5 .3 4.8 .3-.3 .4 .9 .3-2.2 .3 2.3 .3 2.3 .3-2.8 .3-1 .3 1.6 .3-.1 .4 1.6 .3 .6 .3-1.4 .3 2.1 .3-1 .3 1.1 .3-1.1 .3-1.5 .3 1.5 .4-1.7 .3 1.4 .3 1 .3 1.5 .3-1.5 .3 2.3 .3-3 .3 3.6 .4 .3 .3-.7 .3 1.5 .3-2.8 .3 1.6 .3-.3 .3-1.7 .3 4.9 .4-3.1 .3-.8 .3-1 .3 1.7 .3 1.5 .3-2.6 .3 .2 .3-2 .4 .3 .3 4.1 .3-2.5 .3 2.1 .3 2.1 .3-2.7 .3-.8 .3 6.2 .4-6 .3 3.8 .3-4 .3 2.5 .3 .2 .3-1.9 .3 3 .3-3.9 .3 5.2 .4-.4 .3 .9 .3-2.6 .3 1.2 .3-1.4 .3-.3 .3 .6 .3-.4 .4 .1 .3 2.1 .3 1.2 .3 .5 .3-2.7 .3 2.2 .3 .8 .3-.1 .4-.9 .3-.6 .3 .9 .3 1.3 .3-2.5 .3 4.7 .3-3 .3-2.2 .4 1.4 .3-1.5 .3 1.9 .3-.7 .3 1 .3 .8 .3-1.2 .3-1 .3 5 .4-1.9 .3 2.2 .3-1.8 .3 .6 .3-1.2 .3-.3 .3-2 .3-.4 .4 3.4 .3-.5 .3-1.8 .3 2.1 .3-.3 .3 2.4 .3-4.2 .3 .8 .4 2 .3 .6 .3-.4 .3-2.5 .3 1.6 .3 1.2 .3-1.5 .3-1.9 .4-.7 .3-.1 .3 2 .3-.3 .3-.1" stroke="#7E2F8E"/>
<path d="M82.8 66l.3-38.2 .3 2.8 .3 0 .3-.3 .4-1.5 .3 2.3 .3 .8 .3-2.7 .3-.4 .3 4.2 .3-1 .3-1.8 .4 2.8 .3-1.8 .3 4.1 .3-1.7 .3-1.1 .3-1.2 .3 1.3 .3 4.5 .4 .1 .3-.8 .3-2.5 .3 .5 .3-.3 .3 .9 .3 2.4 .3 0 .4 1.1 .3-2.5 .3 3.7 .3-1.9 .3 0 .3-1.3 .3 3.6 .3-1.6 .3 2.6 .4-3 .3 2.6 .3 .2 .3 1.4 .3-.2 .3 .4 .3 .3 .3-2.6 .4 3.9 .3-1.7 .3-.7 .3 3.6 .3 2.1 .3-4 .3 3.9 .3-1.1 .4-.7 .3-.3 .3 1.3 .3 1.1 .3-2.4 .3 1.7 .3-2.4 .3 5.1 .4-.9 .3 .3 .3-.5 .3 1 .3 .8 .3-2.8 .3 4 .3-.6 .3 .9 .4 1.8 .3-1.8 .3 4.8 .3-4.5 .3 5 .3-1.6 .3-.2 .3 1.5 .4 .5 .3-2.3 .3-1.5 .3 2.8 .3 1.9 .3 1.8 .3 .7 .3-2.7 .4 1 .3-.2 .3 1.1 .3-.1 .3 3.7 .3 .8 .3 .9 .3-1.1 .4 .8 .3 0 .3 2.7 .3-1.8 .3-.5 .3 1.7 .3 5.1 .3-3.9 .4 1.1 .3-1.6 .3 2.3 .3-.8 .3 2.2 .3-.7 .3-.5 .3 2.5 .3-.4 .4 .7 .3-.2 .3 1.7 .3-.5 .3 4.3 .3-2.1 .3-1.3 .3 .8 .4 3.2 .3 .2 .3-1.5 .3 .6 .3 .3 .3 1.2 .3 .4 .3-1 .4 3.7 .3 1.2 .3-3.4 .3 3.4 .3-1.9 .3 2.7 .3 1.2 .3-3.8 .4 3.1 .3 2.6 .3-1.4 .3 .4 .3 .5 .3-.1 .3 2.6 .3-.9 .3-.7 .4 .2 .3 1.3 .3 1.9 .3 2.4 .3-5.2 .3 4.7 .3-.6 .3-.3 .4-.3 .3 1.3 .3 1.7 .3-.8 .3-3 .3-.2 .3 4.8 .3-.9 .4 4.3 .3-2.7 .3-.4 .3 2.1 .3-3 .3 1.9 .3 .9 .3 5.7 .4-2.9 .3-1.7 .3 2.4 .3 2.5 .3-1.5 .3-3 .3 1.8 .3 .1 .3 1.5 .4-1.9 .3 7.6 .3-2.2 .3-4.7 .3 1.8 .3 1.7 .3 1.4 .3 2.7 .4-1.8 .3-.1 .3 1.7 .3-3.4 .3 1 .3 2.5 .3-1.6 .3 1.9 .4-.1 .3 1.6 .3-4.4 .3 6.8 .3-1.9 .3-1.5 .3 .4 .3 4.6 .4-.7 .3-1.1 .3 1.5 .3 .2 .3-.4 .3 .2 .3-1.7 .3 4.9 .3-4.2 .4 2.4 .3-.9 .3 1.8 .3-4.1 .3 7.1 .3-4.6 .3 3 .3 0 .4-2.4 .3 2.9 .3-1.5 .3-.6 .3 3.6 .3-3.9 .3 1.5 .3 2.7 .4-.5 .3 1.8 .3-1.4 .3-.6 .3 0 .3 1.6 .3 1.4 .3 .5 .4 .7 .3-.8 .3-1.2 .3 2.2 .3 .4 .3 .8 .3-2.4 .3 1.6 .3 2.4 .4-4.2 .3 .3 .3 1.9 .3 .8 .3-.3 .3 1.6 .3-2.9 .3-.4 .4 .8 .3 1.4 .3 .2 .3-.3 .3-1.7 .3 4.2 .3-1.1 .3 1.3 .4 1 .3-2.4 .3-1.1 .3 3.7 .3-3.2 .3 .7 .3 .4 .3-1.3 .4 3.4 .3-3.5 .3 3.3 .3-1.4 .3 3.5 .3-3.9 .3 1.6 .3 1.1 .4 .8 .3-1.9 .3-1.7 .3 1.3 .3 1.5 .3 .8 .3 .5 .3-1 .3 2.1 .4-1.9 .3-2.4 .3 2 .3 .2 .3 .8 .3-2.1 .3 .2 .3-1.3 .4 3.5 .3 .7 .3-.8 .3 1.1 .3-1.9 .3 .6 .3 .7 .3-1.3 .4-1.7 .3 .5 .3 2.2 .3-1.1 .3-.4 .3-.6 .3 1.6 .3 1.6 .4-2.7 .3 2.1 .3-1 .3-.2 .3-1.9 .3 2.2 .3-1 .3 .5 .3 .5 .4-2.3 .3 2.1 .3-1.5 .3 .2 .3 3.4 .3-.3 .3 2.3 .3-5.6 .4 0 .3 1.2 .3 0 .3-.4 .3 .4 .3-1 .3-.1 .3 1.3 .4-3.8 .3 .6 .3 2.2 .3-4.3 .3-.5 .3 1.8 .3 0 .3 2.8 .4-.6 .3 2 .3-2 .3-2.4 .3 2.2 .3 1.9 .3-5.4 .3-.7 .3 .6 .4 4.8 .3-4 .3 2.6 .3-1.3 .3-1.5 .3-1.4 .3 3.3 .3-.6 .4 1.4 .3-2.2 .3 1.4 .3-.9 .3-2.2 .3 1.1 .3-.4 .3-.4 .4-1 .3-1.2 .3 4 .3 .6 .3-3.7 .3-.4 .3-1.3 .3 .8 .4-1.8 .3 1.8 .3 1.7 .3-2.9 .3 2.9 .3-.5 .3-2 .3 .9 .3-2.2 .4 1.9 .3-3.7 .3 4.4 .3-3.1 .3 1.7 .3-3.2 .3 3 .3-2.4 .4 6.1 .3-4.2 .3-4.1 .3 2.1 .3 0 .3-1.6 .3-2.7 .3 5.5 .4-2 .3 .4 .3-2.1 .3 2 .3 1.1 .3-.3 .3-3.8 .3 .4 .4-1.3 .3 3.7 .3-1.4 .3-.8 .3-2.6 .3 .4 .3 .7 .3 1.1 .3-2.3 .4 .8 .3-2.5 .3-1.7 .3 2.4 .3 1.7 .3-6 .3 2.6 .3-.2 .4 .4 .3-.4 .3-.2 .3-.5 .3 2.5 .3-1.6 .3-1.3 .3-.7 .4-.4 .3-.6 .3 3.3 .3-1.7 .3-.8 .3-1.6 .3 .2 .3-3.8 .4 3.5 .3-.5 .3 1.8 .3-5.7 .3 2.5 .3 0 .3 .6 .3-1.5 .3 .4 .4-2.8 .3 3 .3-.9 .3-.1 .3-2.1 .3 .1 .3-1.4 .3 .5 .4-.3 .3 .5 .3-1.6 .3 .4 .3 0 .3 2.9 .3-2.2 .3 .1 .4 1.6 .3-5.3 .3-.5 .3 .3 .3 .6 .3-1.7 .3 4.9 .3-5 .4 5.1 .3-3.8 .3-.2 .3-.9 .3-.4 .3-.3 .3 2 .3-.2 .4 0 .3-1.8 .3 .6 .3 1.8 .3-4.4 .3 3.2 .3-1.3 .3 .2 .3-.1 .4-2.4 .3 1.9 .3 1 .3-1.5 .3 .4 .3 .6 .3-4.1 .3-.6 .4 4 .3-5.1 .3-.6 .3 5.1 .3-3.1 .3 .9 .3-2 .3 6 .4-6 .3 1.5 .3-1.6 .3-.8 .3 5.1 .3-3.9 .3-.3 .3-1.1 .4-1 .3 .4 .3 2.4 .3-2.6 .3 2.3 .3-2.7 .3 1.4 .3-.1 .3-.7 .4 2.7 .3-2.2 .3 1.3 .3-3.6 .3-.7 .3 4.3 .3 1.2 .3-4.2 .4 1.2 .3 .5 .3-5.4 .3 4.3 .3 .9 .3-1.4 .3-1 .3-2.2 .4 2 .3 2.4 .3-1.4 .3-3.8 .3 5.7 .3-2.9 .3-2.1 .3 1.4 .4 .7 .3 1 .3-1.8 .3-.7 .3 .4 .3-1.4 .3 1.3 .3-1.8 .3 1.7 .4-1.3 .3 1.9 .3-3.4 .3 .7 .3 .9 .3 2.6 .3-1.9 .3 5 .4-4.2 .3-1 .3 1.7 .3-1.8 .3-.8 .3-1.9 .3 2.8 .3 2.6 .4 1.2 .3-3.6 .3-1.8 .3-.4 .3 1.7 .3 1.2 .3 0 .3-.9 .4-.4 .3-.9 .3 .8 .3-3.1 .3 3 .3-.5 .3-.9 .3 .1 .3 2.6 .4 1.6 .3-.5 .3-2.7 .3-.4 .3 .4 .3-.7 .3-.8 .3 3.4 .4-5.4 .3-.1 .3 3.1 .3 1.5 .3-.6 .3 2.7 .3-2.3 .3 1.4 .4-1.1 .3 .4 .3-3.8 .3 4.8 .3-1.9 .3 1.3 .3-3.2 .3 .9 .4 4.3 .3-.8 .3-2 .3 1.5 .3-1.6 .3 .6 .3 2 .3-1.2 .3-1.1 .4 1 .3-.3 .3-.3 .3 .9 .3-2.2 .3 4.3 .3-2.7 .3 1.7 .4-1.3 .3-.6 .3 .4 .3 .1 .3 0 .3 .5 .3 1.4 .3-1.5 .4-.2 .3 .3 .3 1.1 .3 .2 .3 3.8 .3-1.7 .3-.9 .3-1.7 .4-.2 .3 1.9 .3 2.2 .3-2.4 .3-.6 .3 .5 .3 2.6 .3 .8 .4-.1 .3 .5 .3-3.2 .3 1.3 .3-2.8 .3 1.1 .3 1.2 .3 3 .3-2 .4 .6 .3 3.2 .3 0 .3-.7 .3-3 .3 2.9 .3 1.9 .3-2.2 .4-.6 .3 3.2 .3-4.8 .3 4.5 .3-2.7 .3 .9 .3 2.5 .3-.7 .4 0 .3 .8 .3-1.5 .3 1.4 .3 3.1 .3-2.7 .3 2.3 .3-1.2 .4-.5 .3 .8 .3-1.6 .3 2 .3 1 .3-3.2 .3 1.7 .3 1.7 .3 0 .4 1 .3-.6 .3 2 .3-4.2 .3 1.2 .3 5.9 .3-1.8 .3-1.2 .4 1.2 .3 2.7 .3-4.3 .3 3.3 .3-2.8 .3 .7 .3-1.5 .3 4.2 .4-4.1 .3 5.2 .3-4.1 .3 1 .3 1.2 .3 2.8 .3-4.1 .3 1.6 .4 4.3 .3 1.8 .3-2.9 .3 .6 .3-2.3 .3 1.2 .3 0 .3 1.6 .3-2.1 .4 2.8 .3 1.8 .3 1.7 .3-4.5 .3 2.1 .3 2.1 .3-1.1 .3-.5 .4-1.5 .3 4.8 .3-2.5 .3-1.6 .3 .7 .3-.3 .3-1.6 .3 4.9 .4-.2 .3-2.5 .3-.6 .3 2.3 .3 1.4 .3 1.6 .3-2.6 .3 .7 .4 2.5 .3-.6 .3 1 .3-2.3 .3 1.5 .3-2 .3 0 .3 2 .3-1.2 .4 .5 .3-.5 .3 3.5 .3-1.6 .3-1.7 .3 2.2 .3 2 .3-.9 .4-3.1 .3 4.7 .3 .6 .3-2.3 .3 2.4 .3 2.2 .3 .2 .3-2.3 .4 1.3 .3-3.2 .3 3.6 .3 1.5 .3-.7 .3 1 .3-3.7 .3 3.4 .4-3.5 .3 1.8 .3-2.2 .3 3.8 .3-1.4 .3 5.1 .3-2.4 .3 .6 .3-2.8 .4 2.3 .3-1.1 .3 2.5 .3 1.2 .3-1.8 .3-2 .3 2.4 .3-2.4 .4 3.3 .3 .3 .3 .2 .3 .1 .3 .9 .3-.5 .3 1.2 .3 .5 .4-3.9 .3 1.2 .3 2.2 .3 .7 .3 1.8 .3-3.3 .3 2.2 .3-4 .4 6.2 .3-3.2 .3-1.2 .3 3.1 .3-4.1 .3 1.9 .3 .3 .3 3.2 .4-2.9 .3 .2 .3 1.7 .3-2.6 .3 2.6 .3 4.5 .3-4.1 .3-2.1 .3 4 .4-2 .3 2.5 .3-.9 .3 4.7 .3-1.3 .3-2.3 .3 .6 .3 2.3 .4-4 .3 .7 .3 2.3 .3 2.1 .3-4.2 .3 2 .3-1.9 .3-.5 .4 2.7 .3-.1 .3-1.4 .3 1.8 .3 3 .3-4 .3 .6 .3 1.6 .4-1.6 .3 1.6 .3 .2 .3-1.8 .3 3.7 .3 .6 .3-2.3 .3 2.1 .3-3.5 .4 2.8 .3 1.8 .3-2.1 .3 3.1 .3-5.8 .3 2.4 .3-1 .3 .4 .4 .6 .3 2.1 .3-2.9 .3 2 .3 .8 .3 2.1 .3-5.3 .3 2.5 .4 .4 .3 2.6 .3-4.7 .3 1.8 .3-1.7 .3 1.7 .3 1.4 .3-2.2 .4 3.5 .3 .1 .3-2.4 .3-1.3 .3-.6 .3 2 .3 .1 .3-.5 .3 .7 .4 .5 .3-1.6 .3 1.7 .3-.5 .3-2.3 .3 1.7 .3 1.2 .3-2 .4 1.4 .3-1.3 .3 2.5 .3-.2 .3 1.1 .3-4.2 .3-.4 .3 .3 .4 1.4 .3 .2 .3 .7 .3-1.4 .3 1.3 .3 1.3 .3-3.3 .3 .1 .4 .6 .3 .9 .3 .5 .3-.8 .3-.2 .3 2.2 .3-1.2 .3 .9 .3-3.6 .4 4 .3-.3 .3-.6 .3-1.7 .3 1.7 .3-4.4 .3 1.6 .3 5 .4-4.3 .3-.3 .3 2.5 .3-1.9 .3-.4 .3 1.1 .3-.9 .3-.8 .4 1.3 .3-.8 .3 1.7 .3-3 .3 1.9 .3-3.1 .3-1.4 .3 .5 .4 3.4 .3-1.6 .3 1.1 .3-1.3 .3 2 .3 .2 .3-1.7 .3 1.1 .3-3.4 .4 .7 .3 .6 .3 .6 .3 0 .3-2 .3 1.3 .3 0 .3-3.1 .4 2.7 .3 .5 .3-.2 .3-2.5 .3 2.7 .3-.1 .3-2.7 .3-.3 .4-.5 .3 3.6 .3-2.3 .3 1.5 .3-1.7 .3 3.1 .3-2.4 .3-2.2 .4 1.3 .3 4.1 .3-5.7 .3 .9 .3 .9 .3-.6 .3 .4 .3-2.5 .4 1.7 .3 2.5 .3-1.4 .3-4.2 .3 .7 .3 .4 .3 2.4 .3-2.3 .3-1 .4 1.4 .3-1.2 .3-.8 .3 0 .3 .8 .3-.2 .3 2.6 .3-1.6 .4-2 .3-1.6 .3 2.3 .3-1.6 .3 1.6 .3 1.4 .3-2.4 .3-.2 .4 2 .3-.2 .3-1.6 .3 .7 .3-1.8 .3 2.9 .3-3.7 .3 2.2 .4-1.8 .3 3 .3-4.2 .3 1 .3-3.2 .3 5.9 .3 .1 .3-4.3 .3-.4 .4 4.2 .3-3.9 .3-.8 .3-1 .3 2 .3 2.5 .3 .5 .3-6.7 .4 2.6 .3-1.1 .3 1.9 .3-.3 .3-.2 .3 1.1 .3-1.2 .3 1.2 .4-1.3 .3-2.7 .3 1.6 .3 1 .3-4 .3 .5 .3 1.9 .3 2.8 .4-5.1 .3-.2 .3 2.9 .3-3.4 .3 3.5 .3-1 .3 .1 .3-1.2 .3 .4 .4-2.7 .3 2.8 .3-1.5 .3 .5 .3-.4 .3 1.6 .3-1.4 .3-2.5 .4 .8 .3 3.1 .3-1.4 .3 .8 .3-.6 .3-.2 .3 .8 .3-2.9 .4-.8 .3 1.1 .3 .9 .3-1.2 .3 1.4 .3-3.1 .3-2.2 .3 8 .4-5.1 .3 .4 .3-.3 .3 .6 .3 1.9 .3-2.4 .3 .4 .3-.5 .3-.3 .4 .6 .3-4.6 .3 5.6 .3-1.5 .3 1.4 .3-1.9 .3-2.9 .3 2.5 .4 1.1 .3 .8 .3-3.2 .3 2 .3-2.3 .3 2 .3-.3 .3-.9 .4 2.5 .3-4.7 .3 3.7 .3-2.1 .3-.6 .3-3.2 .3 3 .3-.7 .4 2.1 .3-.6 .3-.3 .3-1.8 .3 3.2 .3-2.3 .3-4.1 .3 6.2 .3 1.3 .4-2.2 .3-.7 .3-2.9 .3 1.8 .3-1.1 .3 3 .3-1.2 .3-.6 .4 1.8 .3-1.9 .3 .9 .3-.9 .3 2.6 .3 1 .3-5.5 .3 2.1 .4 .2 .3-4.4 .3 2.5 .3 .9 .3 1.7 .3-1.7 .3 .2 .3 .8 .4-2.8 .3 1.1 .3 .3 .3 2.2 .3-.2 .3-2.9 .3 1.4 .3 1.3 .3-1.5 .4 .5 .3 .7 .3-.4 .3-1.5 .3 .7 .3 1.9 .3-.1 .3-1.7 .4 2.2 .3-1.9 .3 .4 .3 2 .3 1.8 .3-2.5 .3-1.3 .3 0 .4-2 .3 2 .3 .2 .3-.7 .3 1.4 .3-3.5 .3 3.8 .3 .5 .4-.5 .3-2.8 .3 3 .3 .3 .3-2.1 .3-.9 .3 2.7 .3-1.8 .4 2.3 .3-3.3 .3 4.1 .3-1.2 .3 .3 .3 .9 .3-1.3 .3-1.2 .3 2.5 .4-4.3 .3 2.8 .3-.1 .3 1.9 .3-1.1 .3-1.4 .3 3.1 .3-.4 .4 .4 .3 .8 .3-3 .3 2.4 .3-3.9 .3 4.8 .3-1.3 .3-.5 .4 1.7 .3 2 .3-2.3 .3-.9 .3 1.6 .3-1.8 .3 3.5 .3-3.3 .4-2.8 .3 1.9 .3 .1 .3 2.3 .3 .2 .3-2.4 .3 2.5 .3-1.4 .3 2.7 .4-2 .3 .4 .3 4.1 .3-3.3 .3-1 .3 .2 .3 .4 .3-1.3 .4 2.3 .3 1.3 .3-2.6 .3-1.8 .3 4.1 .3-2.8 .3 2.9 .3 2.2 .4-.8 .3 .1 .3-3.1 .3 1.9 .3 1.2 .3-1 .3-1.9 .3 2.6 .4 1.2 .3-1.6 .3 2.1 .3-2 .3-.6 .3 1.4 .3 1.2 .3-.7 .3 2.6 .4-4.7 .3-1.1 .3 4 .3 3.5 .3-2 .3 1.4 .3 .8 .3-2.6 .4 .2 .3 1 .3-2.7 .3 1.9 .3 1.8 .3-2 .3 2.9 .3-1.3 .4 .9 .3-1.6 .3 1.1 .3 .6 .3-1.1 .3-.2 .3 .5 .3-1.2 .4 3.7 .3-2.2 .3-1.8 .3 2.8 .3 3.8 .3-5 .3 2.1 .3-1.2 .3 .8 .4-.4 .3-.7 .3 1.9 .3-.9 .3 3.6 .3-.5 .3-1 .3-2.6 .4 4.1 .3-.6 .3-1.5 .3 2.1 .3 1.5 .3 1.2 .3-4.2 .3 3.3 .4-2.3 .3 0 .3 2.6 .3-2.2 .3 4.4 .3-3.1 .3 1.7 .3-1.9 .4 .2 .3 .2 .3-.5 .3 2.2 .3 1.5 .3-.1 .3-3.5 .3 3.5 .3-.9 .4-1 .3 1 .3 1.5 .3 2 .3-4.8 .3 2.7 .3 1.9 .3-1.5 .4-.9 .3 3.4 .3-3.2 .3 .3 .3-.5 .3 .9 .3 1.8 .3 1.2 .4-2.2 .3 .7 .3-3.2 .3 3.1 .3-.9 .3 .7 .3 3.1 .3-3.9 .4 2.1 .3 1.8 .3-2.9 .3-1.2 .3 2.4 .3 .4 .3 .7 .3-.2 .4-2.4 .3 1.9 .3-.5 .3-.1 .3 5.8 .3-4.8 .3-.5 .3 .6 .3 2.9 .4-1 .3-2.2 .3 .6 .3 0 .3 2.7 .3-2.1 .3-1.8 .3 2.4 .4-2 .3 .9 .3 .1 .3 2.6 .3 0 .3 .2 .3-2.8 .3-.1 .4 3.8 .3 .5 .3-2.2 .3-1.8 .3 1.8 .3-.5 .3 .3 .3-.1 .4 1.3 .3-1 .3-.2 .3 1.4 .3-2.9 .3 4.5 .3-1 .3 .8 .3-3 .4 0 .3 3.1 .3-1.3 .3 .9 .3 1.5 .3-.8 .3-1.8 .3-.3 .4 2.1 .3-1.1 .3-1.3 .3-.9 .3 1.7 .3 1.9 .3 1.2 .3-2.6 .4 .7 .3 .4 .3 .2 .3-.2 .3-1.1 .3-.9 .3 2.4 .3-4.3 .4 .7 .3 2.7 .3-.9 .3-1.9 .3 3.8" stroke="#77AC30"/>
<path d="M82.8 48.9l.3-19.2 .3 .9 .3-2.4 .3 1.8 .4-.2 .3 .3 .3 .8 .3-2.5 .3 3 .3 1.4 .3 1.2 .3-.9 .4-1 .3 .3 .3 .1 .3 1.4 .3-1.1 .3 .3 .3 2.9 .3-2.3 .4 .3 .3 1.4 .3-1.9 .3 1.9 .3 1.6 .3-2.4 .3-1 .3 5 .4-1.5 .3-1.2 .3 .7 .3-.3 .3-.2 .3 5.3 .3-3.7 .3 4 .3-.8 .4 .6 .3-2.2 .3 3.7 .3-2.5 .3 3 .3-5.3 .3 4.3 .3-.4 .4 2.2 .3-.7 .3-2.6 .3 2 .3 2.6 .3-.6 .3-.2 .3-2.7 .4 3.4 .3-.5 .3-.7 .3-1.7 .3 3.2 .3 3.2 .3 .3 .3-4 .4 2.5 .3 4.2 .3-1.8 .3 .4 .3 .2 .3-1.1 .3 .4 .3-.6 .3 5.6 .4-3 .3 1.3 .3 1.8 .3-2.6 .3 4 .3 .6 .3-4.4 .3 2.5 .4-.2 .3-.3 .3 4.7 .3-3.8 .3 2.6 .3-.2 .3 0 .3 .8 .4 2.2 .3-.1 .3 .2 .3-.9 .3 5.7 .3-5.3 .3 4.3 .3-4.5 .4 3.2 .3-1.5 .3 3.7 .3-2.6 .3 2.6 .3 .5 .3 .5 .3 5.2 .4-1.1 .3 .8 .3-2.3 .3 1 .3-1.2 .3 1.3 .3-.9 .3 3.6 .3-1.2 .4 1.9 .3 1.6 .3 1.5 .3-2.2 .3 1.8 .3-.1 .3 1.2 .3 .7 .4-5.8 .3 5 .3 2.7 .3-1.3 .3 .1 .3 2.9 .3-3.6 .3 3.7 .4-1.8 .3 2.1 .3 1 .3-6 .3 6.7 .3 2 .3-1.2 .3 1.3 .4-2.9 .3 1.5 .3 3.2 .3-4.4 .3 3.8 .3 2.2 .3-3.4 .3 1.1 .3 3.2 .4 .7 .3-1.1 .3 1.3 .3-1.5 .3 .9 .3 2.8 .3 .3 .3-.9 .4-2.1 .3 3.7 .3-1.6 .3 2.5 .3-1.3 .3 2.1 .3-1.2 .3 2.6 .4 .2 .3-3.9 .3 2.1 .3 4 .3-3.6 .3 2.7 .3-2.1 .3 4.8 .4-1.6 .3 1 .3 .9 .3 1.2 .3-4.7 .3 3.6 .3 .9 .3 2.6 .3-4.1 .4 .4 .3 2.5 .3 2.4 .3-2.8 .3 1.4 .3 2.7 .3-5.4 .3 2.6 .4 3.3 .3 0 .3-2.2 .3-.3 .3 1.4 .3 .5 .3 1.8 .3-3.6 .4 4.2 .3-.5 .3 .1 .3 1.5 .3-1.4 .3-.9 .3 6.5 .3-2.9 .4-2.1 .3 .1 .3 3.5 .3-1.6 .3 1.2 .3 .4 .3 1.6 .3-2.4 .3 0 .4-.3 .3 2.5 .3 .5 .3-1.3 .3 1.8 .3 1.1 .3 .1 .3-2.8 .4 5.1 .3 2.6 .3-5.5 .3-.4 .3 .4 .3 .8 .3 .1 .3 3.3 .4-2.6 .3 3.6 .3 1.2 .3-1.9 .3 2 .3 0 .3-.5 .3-.1 .4-.7 .3 2.2 .3-.5 .3-.5 .3-.2 .3-.3 .3-.3 .3 1.1 .3-.1 .4-.1 .3 1.3 .3-.1 .3 2 .3-1.7 .3-1 .3 2.9 .3-3.1 .4 3.2 .3-2.4 .3-.8 .3 2.6 .3 1.1 .3-1.2 .3 1.6 .3 1 .4-3 .3 5 .3-4.5 .3 2.9 .3-2.7 .3 2.5 .3-3.6 .3 3.9 .4 3 .3-8.4 .3 4.9 .3 .4 .3-.1 .3 .6 .3-.9 .3 1.8 .4-4.7 .3 4.8 .3-2.1 .3-1 .3 2.6 .3-1.7 .3 2.4 .3 .8 .3-.2 .4-3.1 .3 .2 .3 3.2 .3-3.1 .3 3.2 .3-1.7 .3-.8 .3 4.6 .4-4.4 .3 1.5 .3 2 .3-3.5 .3 .7 .3-.1 .3 1 .3 .7 .4 1.1 .3-1.8 .3 1.4 .3-1 .3-1.4 .3-.7 .3 .6 .3 .3 .4 .9 .3-2 .3-.4 .3 2.7 .3-.1 .3 .8 .3-1.1 .3 .2 .3-4 .4 1 .3 4.4 .3-3.6 .3 1.7 .3 2.4 .3-3.3 .3 1.4 .3-1.6 .4-.4 .3 1.8 .3-3.6 .3 2.2 .3 1.4 .3 1.4 .3-6.4 .3 4.8 .4-1.5 .3-.4 .3-1.1 .3 3.6 .3 1.7 .3-4.3 .3 2.6 .3-2.1 .4-3.9 .3 4.2 .3-2.2 .3 2.8 .3-6.8 .3 5.4 .3-1.4 .3 .8 .3 .6 .4-2.8 .3 2 .3 1 .3-.8 .3-.5 .3-.8 .3-.2 .3 1.5 .4-.7 .3-4.4 .3 3.7 .3-2.8 .3 2.8 .3-1.4 .3 1.4 .3 2.1 .4-2.5 .3-2.5 .3-.8 .3 .1 .3 2.5 .3-.5 .3 1.1 .3-2.5 .4-1.1 .3 .8 .3 1.4 .3-2 .3 .3 .3-.9 .3 .9 .3-.8 .3 1.3 .4 0 .3 2.5 .3-4.7 .3-.1 .3 1.6 .3-4.4 .3 .3 .3-1 .4 2.8 .3 0 .3-1.2 .3-1.3 .3-1.2 .3 3.8 .3-1.5 .3 2.8 .4-3.2 .3-2.1 .3 .1 .3-3 .3 2.4 .3 1.6 .3 .3 .3-2 .4-2.5 .3 4.5 .3-.8 .3-2 .3 .4 .3-2.3 .3 2 .3-1.1 .3-.2 .4-.7 .3-2.2 .3 4.1 .3 .4 .3-.7 .3-2.2 .3-1 .3-1 .4 .1 .3 0 .3 2.8 .3-2.1 .3-2.1 .3 2.4 .3-1.5 .3-.4 .4-1.9 .3 2 .3 1 .3-2.4 .3-.5 .3-2.1 .3 2 .3-.9 .4 .2 .3-.4 .3-4.5 .3 7.3 .3-5.4 .3 2 .3-1.8 .3 2.4 .3-3.2 .4 1.4 .3-2.5 .3-1.7 .3 4.1 .3 .3 .3-4.8 .3-1.7 .3 3 .4 3.1 .3-1.1 .3-4.4 .3-1.6 .3 2.8 .3 1.8 .3-4.4 .3 3.9 .4-1.4 .3-.3 .3-.3 .3-2.2 .3 2.3 .3-2.1 .3-1.8 .3-.3 .4-.6 .3 2.6 .3 1.9 .3-3.3 .3-.3 .3-.4 .3 .9 .3-1.6 .4 2.2 .3-3.2 .3-1.8 .3 2.5 .3-.1 .3-1.2 .3-.1 .3-.2 .3 .4 .4 .6 .3-3.3 .3 4.4 .3-4.1 .3 3.1 .3-2.4 .3 2.2 .3 .8 .4-1.1 .3-.2 .3-4 .3 3 .3 0 .3 .2 .3-1.7 .3-.2 .4-1.1 .3 1.9 .3 .7 .3-2.1 .3-1.7 .3 .1 .3 2.7 .3-1 .4-1.5 .3 1.3 .3 1.2 .3-2.8 .3 .8 .3-1.2 .3-1.1 .3 2.1 .3 .9 .4-.8 .3-2.6 .3 1 .3-1.3 .3 1.7 .3-1.9 .3 1.9 .3 .1 .4-1.1 .3 0 .3 .1 .3-.6 .3-1.6 .3 2.6 .3 1.6 .3-3.6 .4-2.6 .3 1.3 .3 3.6 .3-2.8 .3-1.2 .3 .2 .3-1.6 .3 1.5 .4 5.9 .3-5.6 .3 2.1 .3 .2 .3 1.2 .3-.8 .3-1.6 .3-2.5 .3-.1 .4 .7 .3-1 .3 2.6 .3 .6 .3-4.5 .3 2.3 .3 1.2 .3-1.8 .4 2.4 .3-3.9 .3 4.7 .3-1.3 .3-.7 .3 0 .3 1.7 .3-3.5 .4 .3 .3 .9 .3-.9 .3 1.7 .3-2.4 .3 2.5 .3 .8 .3-1.5 .4 0 .3-.9 .3-.5 .3-1.7 .3 4.9 .3 .5 .3-3.1 .3-1.7 .3 .4 .4 1.9 .3 .2 .3 .1 .3-3.4 .3 3.3 .3-.9 .3 2.6 .3-3.5 .4 1.7 .3 .3 .3 0 .3-.2 .3-4.6 .3 3.4 .3 0 .3 2.4 .4 1.1 .3 1.2 .3-2.5 .3-1.2 .3 0 .3 2.8 .3-3.4 .3 2.1 .4-2.7 .3 2.3 .3-.4 .3 1.3 .3 0 .3-1.1 .3-.8 .3-.1 .3 2.4 .4 1 .3-2.6 .3-1.3 .3 3 .3 0 .3 .1 .3-1.2 .3-.9 .4 3.2 .3-2.1 .3-1.5 .3 1.5 .3 2.4 .3 1.2 .3-2.3 .3-2 .4 1.1 .3-.9 .3 3.1 .3-.6 .3 1.6 .3-2.1 .3 1.4 .3 1.1 .4-.4 .3-1.4 .3-.3 .3 .3 .3-2.3 .3 2.7 .3 2.9 .3-3.1 .4 3.4 .3 .5 .3-2.7 .3 2.3 .3-.7 .3 1 .3-.3 .3 2.7 .3-4.1 .4-.3 .3 2.6 .3-2.2 .3 .9 .3-.4 .3-.2 .3 4.6 .3-3.1 .4 1.8 .3-1.2 .3 1.9 .3-3.6 .3 .9 .3 3 .3-.5 .3 .6 .4 .2 .3-.9 .3 3.3 .3 1 .3-3.8 .3 1.5 .3 1.5 .3 .6 .4 1.6 .3-1.7 .3 2.6 .3-2.8 .3 .1 .3 1.8 .3-2.5 .3 .7 .3 1.2 .4 1.8 .3 .1 .3 .8 .3 1.9 .3-2.9 .3-.9 .3 3.9 .3-2.8 .4 1.3 .3-.3 .3-.7 .3-.1 .3 2.9 .3-2 .3 2.1 .3 3.8 .4-7.2 .3 3.5 .3 .9 .3-2.4 .3 1.7 .3 1.9 .3-1 .3 .1 .4 1.2 .3 3.8 .3-3.8 .3 2 .3 .5 .3-1.5 .3-3.2 .3 5.7 .3-2.1 .4 3.1 .3 .5 .3-1.7 .3-1.8 .3 1.3 .3 .2 .3-1.2 .3 1.4 .4 2.1 .3 .8 .3-.8 .3-.8 .3 1.4 .3 .1 .3 .8 .3 .7 .4 .9 .3-.4 .3-3.9 .3 1.4 .3-.2 .3 2.3 .3 .6 .3-1.2 .4 2.2 .3-2.2 .3 1.9 .3-.9 .3 2.9 .3-4 .3 2.9 .3-.5 .3 2.5 .4 .2 .3-2 .3 4.1 .3-4.5 .3 3.3 .3-2.3 .3 2.9 .3-.8 .4 .1 .3-1.1 .3 3.1 .3-2.1 .3 .7 .3-.5 .3 2.8 .3-1.1 .4 1.5 .3-.4 .3-2.1 .3 .1 .3 3.7 .3-1 .3 .1 .3 1.6 .4-.6 .3 1.3 .3-2.4 .3 2.7 .3-3.6 .3 5.7 .3-3.9 .3 .2 .3 2.3 .4 1.9 .3-2.8 .3 2.5 .3-3.5 .3 1.8 .3 .4 .3 0 .3-.8 .4 1.5 .3-.7 .3 .5 .3 1.7 .3-2.4 .3-.6 .3 1 .3 1.8 .4-.7 .3 3.1 .3-.2 .3 .3 .3-.2 .3-2.1 .3 2.9 .3-.1 .4 1.6 .3-1.1 .3 1.8 .3-4 .3 1.9 .3-1.5 .3-.5 .3 1.6 .4 .5 .3 .5 .3 1.1 .3 3 .3-3.6 .3 1.6 .3 .7 .3-.5 .3-.7 .4-.9 .3 2.9 .3 .6 .3-3.6 .3 1 .3-.2 .3 1.9 .3 2 .4-4.2 .3 .3 .3 3.2 .3-1.5 .3-.9 .3-2.1 .3 2.3 .3 1.2 .4 1.4 .3 .6 .3-.5 .3 1.1 .3-1.9 .3 .9 .3 .8 .3 1.4 .4-1.6 .3 .8 .3-1 .3 2.3 .3-2.5 .3 1.4 .3-3.1 .3 4.5 .3-4.3 .4-1.4 .3 4.8 .3-3.2 .3 1.6 .3 3.9 .3-1 .3-2.4 .3 1.2 .4-.8 .3 .8 .3-1.5 .3 2.8 .3 1.4 .3-.5 .3-1 .3 1.5 .4-1.3 .3 .4 .3 .2 .3-.4 .3 .7 .3-2.2 .3 1.5 .3-1 .4 3.6 .3-2.3 .3 .8 .3 2.5 .3-6.4 .3 5.4 .3-3.4 .3 .2 .3-.7 .4 2.6 .3 3.5 .3-5.1 .3 1.2 .3-1.2 .3 1.3 .3-2.3 .3 1.2 .4 1.4 .3-4.4 .3 4.8 .3 2.6 .3-3.7 .3-.6 .3-.2 .3 1.8 .4-.9 .3 1.4 .3-.7 .3-1.8 .3 1.9 .3-2 .3 1.5 .3-.6 .4 .7 .3-2.4 .3 1.6 .3 1.4 .3-1.5 .3-1.8 .3 1.5 .3 2.1 .3-.6 .4 .4 .3-3.9 .3 1.9 .3-1.2 .3 0 .3 1.8 .3-2.3 .3 1.9 .4-.8 .3 3.7 .3-3.1 .3 .4 .3 .5 .3-1.6 .3 2.3 .3-1.7 .4 3.6 .3-3.8 .3 .7 .3-4 .3 2.4 .3-.8 .3 5.6 .3-4.1 .4 1.1 .3-4.1 .3 .5 .3 1.2 .3-.1 .3 0 .3 .1 .3-1.2 .3 0 .4 1 .3 .9 .3-3.9 .3 3.2 .3 .3 .3-5 .3 3.4 .3 .3 .4 1.8 .3-.6 .3-4 .3 2.6 .3-2.5 .3 3.5 .3-3.2 .3 .9 .4 .8 .3 2 .3-5.1 .3 1.8 .3 .1 .3-1.6 .3 2.9 .3-4.1 .4 .9 .3 .2 .3-.2 .3 1.9 .3-.9 .3-1.2 .3 1.4 .3-3.1 .4 .7 .3-1.1 .3 4.5 .3-5 .3 3.1 .3 .3 .3-.9 .3-2.9 .3 1.4 .4-.1 .3-1.1 .3-.3 .3-.2 .3 .2 .3 .8 .3-.5 .3 2.9 .4-2.1 .3 3.2 .3-3.6 .3-.4 .3 1.2 .3-.5 .3-2.7 .3 2.1 .4-.8 .3-3.2 .3 2.4 .3-1.1 .3 .6 .3-.3 .3-1.1 .3 2 .4-1.7 .3 1.9 .3-.3 .3-1.8 .3 1.8 .3 3.1 .3-4 .3-2.6 .3 3.5 .4-2.7 .3 1.4 .3 1.7 .3-2.1 .3 3 .3-5.7 .3 2.4 .3-1.4 .4 .5 .3 2.2 .3-1.9 .3-2.7 .3 .4 .3 1.8 .3 .4 .3-1.2 .4 1.8 .3-2.6 .3 2.9 .3-1.6 .3-2.7 .3 1.2 .3 .9 .3-1.5 .4 .6 .3-1 .3-1.5 .3 1.7 .3 2.4 .3-3.5 .3 1.8 .3-3.2 .3 .1 .4 1.4 .3-.9 .3 2.9 .3 .3 .3-2.3 .3-1.3 .3-1.7 .3 3.1 .4 .2 .3-.2 .3-.3 .3-1.6 .3 2.4 .3-3.6 .3 3.2 .3-5.9 .4 3.7 .3-.5 .3 2.7 .3-3.3 .3 3.4 .3-4.5 .3 2.3 .3-1.6 .4-.5 .3-.8 .3-.8 .3 .2 .3 .5 .3 2.1 .3 .7 .3-3.1 .3 .5 .4 1.3 .3-.9 .3-1.7 .3 0 .3 2.3 .3 1 .3 .9 .3-2.4 .4-.4 .3 1.5 .3-3.9 .3-1.4 .3 4.2 .3-2.5 .3 1.2 .3-1.1 .4 .5 .3 .3 .3-1.7 .3 .3 .3 1.7 .3-1.5 .3 1.6 .3-.9 .4-1.1 .3 .1 .3 3.1 .3-3.4 .3 2.7 .3-2.3 .3-.8 .3 3.4 .3-.7 .4-3.1 .3 .7 .3 3.8 .3-4.9 .3 2.4 .3 .9 .3-2.3 .3 1.3 .4-1.1 .3-.4 .3-3.5 .3 2.4 .3 1 .3 .2 .3-.4 .3-.3 .4 1.7 .3-1.8 .3 1.9 .3-.2 .3-.8 .3-1.8 .3 .3 .3 6 .4-6.7 .3 1.8 .3 0 .3-2.2 .3 3.4 .3 .5 .3 1.5 .3-1.3 .3-3.2 .4 2.6 .3 .4 .3-2.3 .3 2.3 .3-.4 .3 .1 .3-1.9 .3 1.7 .4-.3 .3-.5 .3 2.7 .3-2.5 .3 2.5 .3-.9 .3-1.2 .3-.9 .4 .7 .3-2.1 .3 1.5 .3-.7 .3 1.8 .3 .3 .3-3.7 .3 5.3 .4-4.4 .3 3.1 .3-2.2 .3 3.2 .3-2.8 .3 .3 .3 4 .3-2.3 .4-2 .3-.5 .3 1.2 .3 1.4 .3-.7 .3 2 .3-.4 .3-1.8 .3 .4 .4-1 .3 .9 .3-.6 .3 1.2 .3-1 .3-2.9 .3 5.6 .3-1.7 .4 1 .3-1.4 .3 .1 .3 2.1 .3-1.4 .3 0 .3 .6 .3-.5 .4-1.6 .3 1.3 .3 1.5 .3-.7 .3-2.7 .3 4.3 .3-2.7 .3 3 .4 1.6 .3-1.3 .3-1.5 .3 1 .3 .9 .3 .2 .3 .4 .3 .3 .3-.6 .4 3.2 .3-4.5 .3 .3 .3 .5 .3-1.2 .3 2.5 .3-.8 .3 4.3 .4-4.3 .3 1.1 .3-1.5 .3-.2 .3 1.8 .3 1.9 .3-2.4 .3-.7 .4 .1 .3 2.4 .3 .8 .3-.9 .3 1.4 .3 1.9 .3-3.8 .3 0 .4-.2 .3 2.6 .3-1.1 .3 2 .3 .6 .3-3 .3 3.8 .3-2.1 .3-4.2 .4 2 .3 1 .3 .3 .3 1.5 .3 .8 .3-4 .3 3.7 .3 .8 .4-1.9 .3 1.4 .3-2 .3 3.2 .3 .5 .3-.5 .3-3 .3 1.2 .4 1.3 .3 .4 .3-.2 .3 2.3 .3-2.2 .3 1.8 .3-1 .3 .5 .4-.3 .3 1.4 .3-2 .3 1.1 .3 2 .3-1.8 .3 1.4 .3-.9 .3-.6 .4 2.3 .3-.5 .3 0 .3 .2 .3-2.9 .3 2.8 .3 2.6 .3-1.8 .4 1.2 .3-4.6 .3 5.1 .3 .9 .3-2.7 .3 2.2 .3-.1 .3 0 .4 .8 .3-.2 .3 3 .3-3.1 .3-1 .3-1.8 .3 3.1 .3-1.1 .4 2.7 .3-3.3 .3-1.1 .3 3.2 .3 1.3 .3-.5 .3-2.2 .3 4.6 .3-3.8 .4 3.8 .3-.1 .3-1.6 .3-.4 .3-.3 .3-.6 .3 4.2 .3-1.7 .4-1 .3 1 .3-1.2 .3 1.9 .3 .7 .3 3.3 .3-.4 .3-4.1 .4 3.2 .3-2.1 .3-.4 .3 1.4 .3-1.7 .3 2.8 .3-1.8 .3 1.3 .4 2.3 .3 1 .3-2.7 .3-2.8 .3 .9 .3 1.3 .3-.4 .3 0 .4 1.9 .3-2.3 .3 1.8 .3 1.4 .3-.2 .3-1.4 .3 1.4 .3-1.3 .3 3.3 .4 .1 .3-4.9 .3 2.2 .3 2.9 .3 1 .3-2.3 .3 1.6 .3-3.7 .4 5.3 .3-4.9 .3 3.7 .3 .5 .3-1.9 .3 2.2 .3-1 .3 .1 .4 3.1 .3-1.9 .3-2.4 .3 4 .3-1.1 .3-.6 .3-2.8 .3 .1 .4-.9 .3 4 .3-2.7 .3 1 .3 2.5 .3-2.8 .3 .9 .3 1.1 .3 .8 .4 .9 .3-3.4 .3 .2 .3 1.2 .3 .2 .3 .4 .3-2.1 .3 .9 .4 3.3 .3-3 .3-.6 .3 1.8 .3-.2 .3 .2 .3-1.9 .3 1.7 .4-.6 .3-.2 .3-2.3 .3 4.9 .3-6.2 .3 5.8 .3-1.6 .3 .9 .4-1.5 .3-.7 .3-2.9 .3 1.9 .3 3" stroke="#4DBEEE"/>
<path d="M82.8 45.6l.3-17.1 .3 1.6 .3-1.7 .3 .8 .4 1.5 .3 .7 .3-2 .3 1.6 .3-1.8 .3 .9 .3 3.6 .3 1.7 .4-3.1 .3 1.4 .3 .9 .3-.2 .3-3.2 .3 3 .3-3.2 .3 2.1 .4 4.4 .3-3.3 .3-1.4 .3 5.6 .3-.5 .3-1.6 .3 1 .3-3.3 .4 4.4 .3-3.9 .3 5.4 .3-.6 .3-1.6 .3 0 .3 .9 .3-2.1 .3 0 .4 0 .3 3.7 .3-1.3 .3 2.2 .3-2.4 .3 6.4 .3-2.4 .3-.4 .4 .8 .3-3 .3 5.2 .3-.6 .3 1 .3-1.5 .3 1.8 .3-2.7 .4 .5 .3 5.2 .3 .5 .3-4.4 .3 1.1 .3 3.6 .3-2.1 .3 2.4 .4-2.9 .3 3.8 .3-.7 .3-1.3 .3 1.1 .3-1.1 .3 1.5 .3 3.5 .3-2.3 .4 2.7 .3-3.8 .3 .3 .3 1.2 .3-1.2 .3 2.7 .3-.6 .3 1.4 .4 .6 .3 .5 .3 1.4 .3-1.9 .3 5.2 .3 1.3 .3-.8 .3-3.4 .4 3.6 .3 1.4 .3 .5 .3-1.6 .3 1.4 .3-1.6 .3 3 .3-1.5 .4 3.4 .3-1.8 .3-3.5 .3 5.8 .3 .4 .3-1.3 .3 3.7 .3-.4 .4 .7 .3-.8 .3 3.2 .3-4.1 .3 2.6 .3 .5 .3 1 .3 .3 .3 4.2 .4-5.3 .3 4 .3-2.2 .3 2 .3 .6 .3-.6 .3-1.4 .3 3.4 .4 1.2 .3-1.2 .3 5.3 .3-2.1 .3 .7 .3-.5 .3 2.1 .3-3.1 .4 2.4 .3-.3 .3 .7 .3 1.1 .3 1 .3-2.7 .3 1.3 .3-.6 .4 3.1 .3-.2 .3 .4 .3 1.5 .3 0 .3 3.1 .3-.2 .3 0 .3 .8 .4-2 .3 .5 .3 .4 .3 1.6 .3-1.6 .3 .6 .3 1 .3 1.9 .4-2.5 .3 4.8 .3 1.2 .3-.1 .3-3.6 .3 2.3 .3 1.5 .3 3.3 .4-3 .3 1.7 .3 2.2 .3-4.7 .3 2.2 .3-1.8 .3 2.7 .3-.5 .4 2.5 .3-1.7 .3 2.1 .3-1.3 .3 1.1 .3 2.5 .3-1.4 .3 .2 .3 1.8 .4-.5 .3-1.3 .3-.1 .3 2.3 .3 4.2 .3-4.5 .3-1.3 .3 3.7 .4 1.4 .3-1.5 .3 .6 .3-.8 .3 2.9 .3-3.5 .3 1.7 .3 3.5 .4-2.9 .3 2.2 .3-.9 .3 .9 .3 .8 .3 0 .3 1.5 .3 .9 .4-.5 .3 .5 .3-.8 .3 .7 .3 3.3 .3-3.7 .3 1.8 .3-1.1 .3 .6 .4 1 .3-.2 .3 3.6 .3-4.5 .3-.4 .3 2.5 .3 2.1 .3-1.6 .4 2 .3-2.9 .3 3.6 .3 1.5 .3-.3 .3 .2 .3-2.1 .3 1.5 .4-.2 .3 1.2 .3-2.4 .3 2.4 .3-.1 .3-1.9 .3 2.3 .3 1.6 .4-.2 .3-2 .3 1.5 .3 2.1 .3-2.9 .3 4.5 .3 1.3 .3-1.6 .3 1.7 .4-2.6 .3-.1 .3 .7 .3 .7 .3 1 .3-3 .3 4.8 .3-4.1 .4 .9 .3 .8 .3-.7 .3 3.4 .3-3.9 .3 .9 .3-.8 .3 5.3 .4-3.6 .3 .8 .3 3.7 .3-3.1 .3-.4 .3 1.5 .3-1.8 .3-.2 .4 1.8 .3 0 .3-1.7 .3 2.9 .3-2.2 .3-1.3 .3 2.3 .3-.5 .4 .6 .3-1.2 .3 3.9 .3 .4 .3-1.3 .3-.3 .3-2.5 .3-.6 .3 1.4 .4-1 .3 2.7 .3 .3 .3 1.7 .3-4.4 .3 1.1 .3 1 .3 2.1 .4-.5 .3-2.4 .3 .9 .3-1.8 .3 1.5 .3 1.5 .3 .8 .3-1.9 .4-2.7 .3-.5 .3 4.4 .3-2 .3 2 .3-1.6 .3 5 .3-3.6 .4 1.9 .3-5.3 .3 3 .3-1.4 .3 .7 .3 2.1 .3-3.1 .3-.8 .3 1.3 .4-.5 .3-1 .3 .8 .3 1.1 .3 2.4 .3-1.3 .3-.2 .3-2.5 .4-1 .3 2 .3-1.6 .3 5.4 .3-4.4 .3 2.3 .3-3.5 .3-.6 .4 .1 .3 .5 .3-.7 .3-1.1 .3 3.6 .3-3.4 .3 2.9 .3 1.6 .4-3.3 .3-.4 .3 .6 .3 1.5 .3-2.1 .3 1.2 .3-4.5 .3 3.3 .3-.2 .4 1.4 .3-2 .3-1.8 .3 3.7 .3-.7 .3 2.4 .3-3.1 .3-2.9 .4 4.4 .3-1.4 .3 .4 .3-.9 .3 .6 .3-.8 .3 1.1 .3-2.3 .4-1.4 .3 .1 .3 4.1 .3-5.3 .3 .8 .3-.9 .3 3.1 .3-.6 .4-2.3 .3-1.9 .3 4.2 .3-2.2 .3-.5 .3 1.1 .3-1.3 .3 1.2 .3-3.1 .4 4.4 .3-3.3 .3 1.1 .3-.9 .3 1.1 .3 3.2 .3-7.5 .3 1 .4 .3 .3 .5 .3-.8 .3 .7 .3-.9 .3-2.3 .3 3 .3 .1 .4-4.6 .3 3.5 .3-1.4 .3 .4 .3-1.5 .3-.3 .3 .5 .3 1.5 .4-.3 .3-1.9 .3-3.1 .3 5.5 .3-2.9 .3-1.2 .3 1.3 .3-1.5 .3 .2 .4-1.7 .3-1.7 .3 2.9 .3-1.3 .3-.5 .3 .1 .3 0 .3 3.1 .4-3.8 .3 1.5 .3-1.3 .3-1.7 .3-.5 .3 1.3 .3-.2 .3-.6 .4 .9 .3-4.5 .3-.6 .3 2.8 .3-3.2 .3 1.1 .3 2.6 .3-3.5 .4 .1 .3 .5 .3 2.3 .3-1.6 .3 2.4 .3-3.9 .3 .1 .3 1 .3-.1 .4-4.4 .3 4.3 .3-3.9 .3 .7 .3-2.1 .3 4.3 .3-3 .3-2.1 .4 1.9 .3 1.8 .3 .6 .3-2.3 .3-3 .3-1.1 .3 2.1 .3-1.6 .4-.5 .3 .4 .3 2.1 .3-2.8 .3 2.6 .3-2.1 .3-1.3 .3-.7 .4 1.6 .3-2.2 .3-.9 .3 .7 .3 1.4 .3-.8 .3 .2 .3-.3 .4-1.3 .3-.8 .3 1.5 .3-1.4 .3 .6 .3-.1 .3 1.6 .3-2.3 .3 .5 .4-.8 .3-1.4 .3 .2 .3-.1 .3 1.8 .3 1.5 .3-2.1 .3-.8 .4-.5 .3-2.1 .3 1.5 .3-1.9 .3 2.7 .3 .9 .3-3.3 .3 3 .4 .6 .3-1.8 .3-1.6 .3-1.4 .3 1.6 .3-1.6 .3 1.3 .3 2.4 .4-1 .3 .8 .3-2.5 .3 2.8 .3-1.2 .3-1.1 .3-2.9 .3 .5 .3 1.3 .4-1.1 .3 .6 .3-4.9 .3 6.9 .3 .5 .3-.3 .3-.9 .3-1.9 .4-2.1 .3 1.7 .3 0 .3-.3 .3-.7 .3 1.7 .3-2.6 .3 1 .4-.6 .3-.6 .3-.1 .3-.5 .3 2.6 .3-2.3 .3 3.2 .3 .7 .4-2.8 .3-1.3 .3-.2 .3 .1 .3-.9 .3 4.1 .3-2 .3-.6 .3 .8 .4-1.8 .3-.5 .3 .3 .3 .3 .3-3.6 .3 3.5 .3 0 .3-1.9 .4-1 .3 4.2 .3 .1 .3-3.8 .3 .3 .3 .4 .3 1.7 .3-1.5 .4 3.3 .3-.5 .3-4.3 .3 4.4 .3-1.7 .3-1.3 .3 .5 .3 2.2 .4-.9 .3-1.8 .3 1.6 .3-3.3 .3 2.8 .3-3.1 .3 2.9 .3-2 .3 1.3 .4 .5 .3 2.3 .3-3 .3 .8 .3-.5 .3 1.5 .3 .6 .3 .1 .4-1.3 .3-1.6 .3 2 .3 1.2 .3-.4 .3 .6 .3 .8 .3-1.9 .4 .4 .3-.4 .3-3.5 .3 1.6 .3-.8 .3 2.3 .3-.3 .3 1.8 .4 1.5 .3-.2 .3-1.8 .3-1.3 .3-2.7 .3 3.8 .3 2.3 .3-1.7 .3-1.3 .4 2.7 .3-.9 .3-1.5 .3 .7 .3-.4 .3 .7 .3 .2 .3-2 .4 .8 .3 1.2 .3-.4 .3 1.1 .3 .1 .3-.6 .3 .5 .3-3.6 .4 3.8 .3-.2 .3-2.5 .3 5 .3-1.5 .3-1.7 .3 1.8 .3 .6 .4 1.4 .3-1.2 .3 1.4 .3-2.6 .3 .9 .3 1.5 .3-2 .3 3.6 .4-.1 .3-2.3 .3 .9 .3 2.5 .3-.5 .3-.6 .3 .9 .3-1.1 .3 .7 .4-.8 .3 1.1 .3-.4 .3 1.5 .3-1.1 .3 .3 .3-.4 .3 .8 .4 1.4 .3-.2 .3-2 .3 2.7 .3-.2 .3-2.2 .3 1.7 .3 .2 .4 2.7 .3 .3 .3-1.6 .3-2.7 .3 6.4 .3 .1 .3-3.2 .3 .7 .4 2.2 .3-2.7 .3 1.4 .3 1.3 .3-.4 .3 1 .3-1 .3 1.8 .3 .9 .4-.3 .3-1.5 .3-.9 .3 3 .3 .9 .3-1.8 .3-1 .3 2.6 .4-2.7 .3 3.9 .3-3.2 .3 1.4 .3 4 .3-3.2 .3 1.5 .3 .2 .4 1.1 .3-.9 .3 1.4 .3-1 .3-1.2 .3-.2 .3 .7 .3 .6 .4 1 .3 1.3 .3 1.7 .3-3.1 .3 2.6 .3-.7 .3 2.7 .3-2.6 .3-1.2 .4 2.6 .3-1.3 .3 1.9 .3-.2 .3 1.3 .3 3.7 .3-4.5 .3 .1 .4 .1 .3-1.5 .3 1.5 .3 1 .3 2 .3-5.3 .3 6.9 .3-1.2 .4 .4 .3-2.1 .3 1.4 .3-.1 .3 3.8 .3-1.6 .3-2.2 .3 2.7 .4 1.4 .3-2 .3 1.5 .3-.7 .3-.3 .3 2.4 .3-1.2 .3-2 .3 2.8 .4 .2 .3 .8 .3-1.1 .3-.1 .3 2.5 .3-1.4 .3-2.1 .3 5.4 .4-3.9 .3 .4 .3 4.1 .3 .4 .3-1.4 .3-2.8 .3 3.4 .3-.8 .4 .1 .3 .6 .3-3.1 .3 3 .3 2.5 .3-2.1 .3-.3 .3 3 .4-1.8 .3 1.5 .3 1.4 .3-.4 .3-2.5 .3 1.8 .3 2.5 .3-3.5 .3 1.9 .4 4.4 .3-2.7 .3 2.2 .3-2.5 .3-5.1 .3 1.4 .3 3 .3 2 .4 .7 .3-.4 .3-1.4 .3-1.4 .3 2.2 .3-1.7 .3 2.4 .3 3.3 .4-3.6 .3-.9 .3 .9 .3-.6 .3 3.4 .3-.8 .3-.2 .3-.4 .4-.1 .3-.4 .3 2.4 .3 1.2 .3-.8 .3-.1 .3 .6 .3 .9 .4-2.6 .3 0 .3 .2 .3 .5 .3 .6 .3 1.8 .3 .1 .3-.9 .3 3.5 .4-3.1 .3 3.7 .3-5.8 .3 2.1 .3 2.2 .3-.8 .3 .9 .3-3 .4 .8 .3 1.8 .3 1.1 .3-1.5 .3 .7 .3 .6 .3 1 .3 1.8 .4-.1 .3-.9 .3 1.6 .3-.9 .3-4.2 .3 3 .3-.9 .3 2.2 .4-2.9 .3 2 .3-.9 .3-.3 .3 1.2 .3-2.2 .3 4.6 .3-.8 .3-1.1 .4 1 .3-.7 .3-2.6 .3 4 .3-.8 .3 1.4 .3 .6 .3 1.8 .4-3.7 .3-1.3 .3 2.2 .3-1.7 .3 4.1 .3-1.7 .3 0 .3-1.3 .4 1.1 .3-.7 .3-1.4 .3 4.2 .3-1.5 .3-.7 .3 1.7 .3-1.6 .4 3.4 .3-1.1 .3-1.1 .3 2.5 .3-6.3 .3 .5 .3 1 .3 .7 .3 0 .4 1.9 .3-.1 .3 2.9 .3-4.7 .3 1.8 .3 2.9 .3-1.8 .3-2.1 .4 3.4 .3-1.8 .3 2.6 .3-2.6 .3-.7 .3 3.7 .3-2.6 .3-1.9 .4 1.3 .3-3 .3 1 .3-.5 .3 3.8 .3-.5 .3-2.1 .3-.3 .4 1.6 .3-.5 .3 1.2 .3-.8 .3-1.5 .3-1.7 .3 1.4 .3-.6 .3 1.2 .4-.7 .3-.8 .3 2.9 .3-3 .3 .5 .3-.7 .3 .9 .3 1.7 .4-.5 .3-.8 .3 4 .3-2.8 .3-.4 .3-.1 .3 .6 .3 0 .4-1.3 .3 .5 .3-3.2 .3 2 .3 0 .3-1.5 .3 1.4 .3-.2 .4-2 .3 .2 .3 1.8 .3 1.6 .3-1.2 .3-1.9 .3 3.3 .3-2.2 .3-.5 .4 2.2 .3-4.4 .3 2.2 .3 1.9 .3-.9 .3-2.4 .3-1.6 .3 1.6 .4 0 .3 .5 .3-3 .3 .4 .3 4.4 .3-2.7 .3-1 .3 1.1 .4-1.1 .3-.5 .3 2.3 .3-3.5 .3 1.6 .3-1.6 .3 1.2 .3 .4 .4-2.4 .3 1.4 .3-2 .3 1.3 .3-2.6 .3 4.5 .3-1.5 .3 1.2 .4 .4 .3-2.2 .3 2.5 .3-2.3 .3-2.3 .3 1 .3 1.6 .3-.6 .3-1.7 .4-1.5 .3 2.7 .3-.7 .3-.7 .3 .9 .3-1 .3-.1 .3-1.8 .4 2.9 .3-1.2 .3-.6 .3 1.5 .3-.7 .3-.7 .3 2.1 .3-1.7 .4 .9 .3-1.1 .3 .1 .3-.5 .3-2 .3-1 .3 .5 .3 2.4 .4-1.9 .3 2.3 .3-3 .3-.5 .3 1.6 .3-.8 .3-1.4 .3 0 .3 1.9 .4 .1 .3 1.3 .3-2.2 .3 .2 .3-1.1 .3-1 .3 2.9 .3-1.1 .4-.9 .3 1.8 .3-2.3 .3 .3 .3-1.5 .3-.6 .3-.2 .3 1.3 .4-.9 .3-.1 .3-1.5 .3 4.4 .3-2.6 .3 .6 .3-1.5 .3-1.6 .4 1.1 .3 0 .3 1.1 .3-1.7 .3 0 .3 1.8 .3-2.7 .3 1.5 .3 2.5 .4-3.2 .3-1.2 .3 0 .3 .3 .3 .2 .3-1.3 .3 0 .3 3.6 .4-1.9 .3-1.4 .3 .2 .3-1.6 .3-.4 .3 1.2 .3 .7 .3-3.4 .4 3.9 .3-1.3 .3-3.5 .3 2.1 .3-.1 .3 .8 .3-2 .3-2.8 .4 3.9 .3 .8 .3-2.3 .3-1.3 .3 2.3 .3 1.7 .3-1.9 .3 1.6 .3-2.8 .4 1.7 .3-1.2 .3 .5 .3-1.2 .3 4.3 .3-3.8 .3 .1 .3-.2 .4 2.6 .3-4.5 .3 3.1 .3-1.9 .3 1.5 .3-.6 .3 .3 .3 1.7 .4-1.6 .3-3.1 .3 3.7 .3-2.1 .3 2.9 .3-4.5 .3 3.8 .3-.5 .4-1.6 .3-1.2 .3 2.8 .3-1.9 .3-1.1 .3 .8 .3 1.1 .3-1.9 .3-1.2 .4-1.9 .3 1.6 .3 4.6 .3-4.8 .3 .4 .3 1.1 .3-.7 .3-.7 .4 2.1 .3 1.5 .3-1.6 .3-1.5 .3 1.9 .3 .1 .3 .9 .3-2.9 .4 2.5 .3-1.4 .3 .8 .3-3.2 .3 .4 .3-2 .3 4.7 .3 .4 .4-2 .3 2.6 .3-1.4 .3-1.9 .3 1 .3-1.3 .3 2.5 .3-.4 .3-.6 .4-1.5 .3-.4 .3-.2 .3 1.8 .3 1.3 .3-.5 .3-.7 .3 2.5 .4-.9 .3 1.2 .3-3.1 .3 .1 .3 1.8 .3-2.9 .3 1.4 .3 .3 .4-1.2 .3 .6 .3 2.2 .3-.6 .3 1.3 .3-3.2 .3 1.2 .3-1.6 .4 2.6 .3 .8 .3-3.6 .3 .5 .3 3.7 .3-3.9 .3 2.8 .3-3.4 .4 1.7 .3 1.8 .3-.5 .3-.1 .3 4.4 .3-5.6 .3 1.7 .3-1.6 .3 5.7 .4-5.5 .3 1.1 .3 1.9 .3-4.7 .3 1.9 .3 2.8 .3-.1 .3-2.1 .4-1.8 .3 2.1 .3 1.6 .3-3.4 .3 3.8 .3-2.9 .3 1.1 .3 1.4 .4 .9 .3 0 .3-.7 .3-2.1 .3 2.4 .3 1.4 .3-3.4 .3 .6 .4 1.6 .3-1.7 .3 1.8 .3-2.5 .3 3.2 .3 1.1 .3-.3 .3-.8 .3 .1 .4 1.2 .3 .1 .3 1.4 .3-1.1 .3-3.3 .3 3 .3 1.4 .3-.3 .4 .3 .3-.9 .3 1.3 .3-3 .3 3.3 .3-.8 .3-2.5 .3 2.5 .4-1.9 .3 2.4 .3-1.4 .3-2 .3 5 .3-2.1 .3 2.7 .3-1.5 .4 1.2 .3-1.1 .3 2.2 .3 1.6 .3-4 .3 .9 .3-1.7 .3 1.8 .3 .4 .4 1.7 .3 .9 .3-2.2 .3 2.2 .3-3.8 .3 .1 .3 1.6 .3-.9 .4 2.2 .3 .9 .3-4.5 .3 4.4 .3-2.3 .3 3.5 .3-1.7 .3-.6 .4 4.2 .3-.1 .3-1.1 .3-.3 .3-.5 .3 1.5 .3 .1 .3 .7 .4 .2 .3-2.1 .3 1.6 .3 1.1 .3 .3 .3-.4 .3 1.5 .3-2.7 .3-.1 .4 2.9 .3-1.1 .3-.1 .3-1.6 .3 2.6 .3-.5 .3 1.3 .3 .1 .4-.3 .3-6.1 .3 3.6 .3 1.4 .3 .3 .3 3.1 .3-.7 .3-2.6 .4 1.4 .3-1.6 .3 2 .3-.7 .3 .8 .3-.4 .3 .4 .3-1 .4 2.8 .3-.3 .3 .9 .3-.9 .3-.6 .3 .8 .3 3.4 .3-1.8 .3-.1 .4-.1 .3 .7 .3-.3 .3-1.9 .3 .7 .3-1.1 .3 5 .3-.8 .4 .6 .3-3.5 .3 .7 .3 2.2 .3 .1 .3-1.2 .3-1.5 .3-.2 .4 3.7 .3-2.3 .3 1.9 .3-2.7 .3-1.5 .3 3.5 .3 0 .3 5.3 .4-4.9 .3 3.8 .3-1.6 .3-2.2 .3 4.1 .3-6.2 .3 4.8 .3-2 .4 2.3 .3-1.9 .3 2.2 .3-.7 .3 3.8 .3-5.1 .3 .5 .3 1.8 .3 .1 .4 1.4 .3-.5 .3-1.4 .3 0 .3-.5 .3-.6 .3 .4 .3 1 .4 .3 .3 .9 .3-2.2 .3 3.3 .3 .2 .3-1.7 .3 3 .3-1.7 .4 2 .3-1 .3-.7 .3 2.2 .3-4.1 .3 2.6 .3 1 .3 .6 .4-3.3 .3 1.7 .3-.6 .3-2.5 .3 4.9 .3 1.3 .3-3.6 .3-1.9 .3 2 .4-1.9 .3 .5 .3 1.3 .3 1.8 .3-1.4 .3-1.5 .3 1 .3 .9 .4-.6 .3 .7 .3-1.3 .3 1.7 .3-3 .3 2.1 .3 .3 .3 3.2 .4 .6 .3-3.1 .3 .4 .3-3.8 .3 4.3 .3 .4 .3-2.8 .3 4.5 .4-3.4 .3 2.2 .3 2.4 .3-1.5 .3-2.7" stroke="#A2142F"/>
<path d="M82.8 26.7l.3 2.4 .3 1.4 .3-1.2 .3-.1 .4 .7 .3-2.2 .3 1.3 .3 3.4 .3-.2 .3 .8 .3-1.4 .3-1.2 .4-.5 .3 2.5 .3 1.5 .3 1.1 .3 1.2 .3-5.1 .3 3.6 .3 .5 .4-3.4 .3 4.2 .3-.6 .3-.5 .3 3.9 .3-.5 .3-7.1 .3 4.9 .4 4.1 .3-2 .3-.4 .3-.9 .3 1.5 .3 2 .3-1.6 .3-1.5 .3 3.1 .4 1.2 .3 .2 .3 2.3 .3-5.4 .3 1.8 .3 1 .3-.1 .3-1.4 .4 3 .3 1.8 .3-3.5 .3 5.8 .3-2.8 .3-2.1 .3-.2 .3 3 .4 .4 .3 .4 .3 .7 .3 .1 .3-2 .3 1.8 .3-1.5 .3 2.2 .4 2 .3 .2 .3-3.5 .3 5 .3-2.2 .3 3.6 .3-1.9 .3 1.9 .3 .6 .4 1.1 .3 .3 .3-1 .3-1.5 .3 2.1 .3 2.6 .3-1.7 .3 5.3 .4-3.5 .3-3.2 .3 8 .3-2.9 .3-1.6 .3-.9 .3 1.5 .3 3.2 .4-2.8 .3 .6 .3 3.6 .3-.2 .3 2.1 .3-.4 .3-2.3 .3 4.7 .4-3.3 .3 1.8 .3 .5 .3 2.1 .3-1.7 .3 2 .3 .6 .3 2.8 .4-2.1 .3 1.1 .3-1.5 .3 1.7 .3 .9 .3 1.2 .3 .7 .3 .7 .3-1.8 .4 4 .3 .5 .3-2.3 .3-1.4 .3 2.3 .3 1.3 .3-3.2 .3 3.4 .4 2 .3-.7 .3-.9 .3 2.8 .3-1.4 .3 2.3 .3-.3 .3 .2 .4 5 .3-5.5 .3 1.6 .3 .7 .3 .9 .3 1.2 .3-2.1 .3 2.7 .4-.9 .3 4.6 .3-5.4 .3 3.3 .3 .4 .3 2.6 .3 .2 .3-1.6 .3 6.5 .4-6.9 .3 3.7 .3 .6 .3-.9 .3-2.6 .3 3.2 .3-.9 .3 4.3 .4-.7 .3-1.9 .3 3.8 .3 2.8 .3-2.7 .3 0 .3 .2 .3-1.1 .4 .6 .3 2.1 .3-1.1 .3 1.5 .3 .1 .3 2.1 .3-2.2 .3 2.1 .4-2.1 .3 4.7 .3-3.7 .3 4.1 .3-2.2 .3 3 .3 .1 .3-2.3 .3 4.3 .4-3.8 .3-1.5 .3 2.7 .3 4 .3-3.1 .3 1.6 .3-.1 .3 .7 .4-1.4 .3-.6 .3 2.6 .3-1.4 .3 3.5 .3-4.3 .3 5.8 .3 .6 .4-.8 .3-1.6 .3 .1 .3 4.5 .3-2.6 .3 .1 .3-3.1 .3 5 .4 2.1 .3 .8 .3-2 .3-.9 .3 .9 .3 .8 .3 1.5 .3-.9 .3 .2 .4-3.7 .3 4.6 .3 1.9 .3-.7 .3-.1 .3 3.4 .3-3 .3-.1 .4 .4 .3 2.2 .3-.9 .3-.6 .3-.6 .3 1.1 .3 2.9 .3-3 .4-1.1 .3 3.2 .3 4.1 .3-5.4 .3 0 .3 1.9 .3 1 .3-2.3 .4 .7 .3 1.6 .3 .5 .3-.3 .3-1.2 .3 1.7 .3 2.4 .3-.7 .3-1 .4-.2 .3 1.8 .3-1.9 .3 2.4 .3-2.4 .3-.9 .3 1.6 .3 1.4 .4-.6 .3 4.6 .3-5.7 .3 4 .3 .4 .3-.7 .3 1.1 .3-1.4 .4 .7 .3-.2 .3-1.9 .3 1.4 .3 1.8 .3-.5 .3 1.2 .3-2.9 .4 3.6 .3-1 .3-3.2 .3 3.2 .3-.6 .3-.5 .3 3.6 .3-2.9 .4-1.1 .3 1.4 .3-.6 .3 2.5 .3-1.5 .3 .7 .3-.5 .3 2.3 .3-1.1 .4-1.7 .3 1.9 .3-1.9 .3-1.5 .3 2.1 .3 .3 .3-.8 .3 2.5 .4-.6 .3 .9 .3-.3 .3-4.1 .3 4 .3-1.2 .3 .5 .3 .2 .4-.2 .3-.1 .3-.9 .3 1 .3-1.1 .3 .9 .3 .2 .3-.2 .4-3 .3 4.6 .3-1.7 .3-1.4 .3 .2 .3 2.4 .3 .2 .3-1.7 .3-2 .4 .7 .3 1.2 .3 .4 .3-.2 .3-.2 .3 1.9 .3 0 .3-2.2 .4-3.2 .3 2.6 .3 3.1 .3-1.1 .3-1.7 .3 1.4 .3-2 .3 1.4 .4 0 .3 .8 .3-2.9 .3 .1 .3-.2 .3-.5 .3 1.1 .3-2.2 .4 3.4 .3-2.8 .3 1.7 .3 0 .3 .2 .3-2.1 .3 .4 .3-1.5 .3 3 .4-1.9 .3 1.7 .3-2.4 .3-1.6 .3 3.6 .3-3.3 .3 3.1 .3-4 .4 1.9 .3-.8 .3 2.4 .3-4.4 .3 2.6 .3 .4 .3-2.4 .3 2.5 .4-.9 .3 0 .3 .4 .3-3.1 .3-1.1 .3 4 .3-4.2 .3 .6 .4 2.1 .3-1.8 .3-2.3 .3 3.9 .3-.3 .3 .5 .3-5 .3 1.4 .3 2.7 .4-1.3 .3-1.5 .3 1.3 .3-2.5 .3 1.5 .3-2.1 .3 1.2 .3 0 .4 1 .3-1.7 .3-1 .3 3.5 .3-3.6 .3-1.3 .3 .3 .3 .5 .4 .7 .3 1.1 .3-.5 .3-1.1 .3 .8 .3-2.1 .3 .7 .3-.6 .4-2.6 .3 1.3 .3-1.1 .3 3.5 .3-3.8 .3 1.8 .3-4 .3 4.5 .3-1.4 .4-2.8 .3-2.2 .3 5.2 .3-2.2 .3 .5 .3-4 .3-1 .3 2.4 .4-1.2 .3 2 .3 .5 .3-2.9 .3 1.2 .3-2.1 .3 1.3 .3-2.8 .4 2 .3-.6 .3-1.8 .3 .9 .3-2.1 .3 2.8 .3 .2 .3-3.2 .4 .4 .3 1.3 .3 .6 .3-1 .3-1.3 .3 .1 .3 1 .3-.7 .3-2.4 .4-1.2 .3-.9 .3 3.3 .3 .2 .3-2.9 .3 1.1 .3-1.9 .3-.5 .4 1.7 .3-.6 .3 2 .3-.4 .3-3.7 .3-2.4 .3 5.6 .3-.7 .4-1.7 .3-2.1 .3 3.7 .3-3.1 .3-2.3 .3 5.3 .3-1.9 .3-3.1 .4-.9 .3 2.7 .3-2.8 .3-.3 .3 3.3 .3-2.2 .3 .5 .3-.6 .4-1 .3 1.8 .3 1 .3-1 .3-.4 .3-1.9 .3-1.9 .3 2 .3 .1 .4-.5 .3-2.2 .3 1.2 .3-.5 .3 .9 .3-1.1 .3 .3 .3-2.5 .4 1.4 .3-1.9 .3 1 .3 .1 .3 2.9 .3-2.6 .3 1 .3-3.2 .4 .9 .3-.3 .3 .7 .3-2.5 .3 5 .3-4.3 .3 1.5 .3 .8 .4-.6 .3-1.2 .3-.6 .3-1.4 .3 2.5 .3 0 .3-2.9 .3-.3 .3 3.2 .4-.6 .3-1.7 .3 .8 .3-1.7 .3 2.2 .3-.3 .3-5.9 .3 2.8 .4-.9 .3 1.8 .3 1.5 .3-3 .3-.7 .3 2.6 .3 0 .3-1.4 .4 .9 .3 2.2 .3-3.6 .3-.3 .3 4 .3-5.7 .3 4.5 .3 .1 .4-.6 .3-1.5 .3 0 .3 2.5 .3-3 .3-.5 .3 1.7 .3 2.4 .3-1.9 .4-.7 .3-2.4 .3 1.9 .3-1.6 .3-3.8 .3 4.4 .3 .3 .3-1.8 .4-.7 .3-.2 .3 2 .3 2.1 .3 .9 .3-1.6 .3-.9 .3 1.3 .4 .4 .3-1.8 .3 .1 .3 .2 .3-3.8 .3 1.3 .3 3.6 .3-3.6 .4 1.7 .3 1 .3-.3 .3-5.2 .3 4.4 .3 1.3 .3-1.2 .3-1.5 .3 1 .4 .6 .3 1.1 .3-.4 .3 1.2 .3-2.3 .3-.7 .3 .1 .3 .8 .4-2.2 .3 1.5 .3-.3 .3 2.7 .3-1.1 .3 .2 .3-2.4 .3 1.9 .4 .1 .3 .2 .3-2.8 .3 3.4 .3 .4 .3-1.6 .3 .6 .3-2.3 .4 .4 .3 1.4 .3 .8 .3-.2 .3-2 .3 1.5 .3-.2 .3 4.9 .3-1.9 .4-1.5 .3-1.1 .3 0 .3 1 .3 3.1 .3-2.8 .3 1.5 .3 2.4 .4-1.9 .3-.7 .3-.8 .3-.8 .3 1 .3 .5 .3 .9 .3-.6 .4 1.9 .3-2.8 .3 1.3 .3-1.6 .3 1 .3 1.6 .3-.3 .3 .1 .4 .1 .3 4.3 .3-2.4 .3-4.5 .3 3.1 .3-1.9 .3 3.3 .3 1.8 .4-1.8 .3 .3 .3 .9 .3-3 .3-.2 .3 3.7 .3-4.1 .3 1.9 .3 3.6 .4-3.4 .3 1.3 .3 .8 .3 2.8 .3-3.1 .3 2.2 .3-3.9 .3 4.8 .4 1 .3-2.9 .3 2.8 .3-4 .3 4.1 .3-2.4 .3 3 .3-.5 .4-.9 .3 1.6 .3-1.9 .3 2.4 .3-3.1 .3 1.1 .3 4.3 .3-5.6 .4 3 .3 2.1 .3-1.6 .3 .6 .3-.9 .3 .2 .3-.3 .3 4.2 .3-2.2 .4 1.7 .3 1.8 .3-1 .3 .7 .3-2 .3 1.4 .3-.8 .3 1 .4-.1 .3-.3 .3 2.3 .3-.7 .3 .3 .3 .8 .3 1 .3-1.7 .4-.3 .3-1.7 .3 2.9 .3 .2 .3 2.5 .3-1.4 .3-1.9 .3-.9 .4 2.7 .3-1.6 .3 .2 .3-.5 .3 2.5 .3 2.5 .3-1 .3-1.4 .3 3.1 .4-.6 .3 1.6 .3-.1 .3 1.6 .3-3.9 .3 3.3 .3-1 .3-.4 .4 1.6 .3 1.5 .3-.5 .3 1 .3-1.6 .3 1.5 .3-2.6 .3 2.7 .4-1.2 .3 2.6 .3 1.7 .3-2.1 .3-1.8 .3 .2 .3-.1 .3 2.9 .4 .2 .3-.5 .3 1 .3-1.2 .3-.2 .3 .1 .3 3 .3-3.4 .3 5.8 .4-2.3 .3 .6 .3-.6 .3 .7 .3-2 .3 3.3 .3-2.2 .3 3.3 .4-1.6 .3-.4 .3-.7 .3 3.7 .3 1.9 .3-6 .3 4.5 .3-.8 .4 0 .3-2.2 .3 1.3 .3-.6 .3 .1 .3 1.6 .3 1.4 .3-2.3 .4 .8 .3 1.3 .3 3.7 .3-1.8 .3-1.4 .3 1.7 .3-2 .3-2.6 .3 4.4 .4-.2 .3-.6 .3-1.3 .3 6.6 .3-2.4 .3-2.9 .3 2.6 .3 2.9 .4-3.4 .3 3.2 .3-3.4 .3 .2 .3 2.4 .3 1.5 .3-2.5 .3 1.6 .4 .1 .3 .7 .3 .1 .3 1 .3-2.8 .3-.2 .3 3.4 .3 .9 .4-3.1 .3-.6 .3 1.4 .3-.8 .3 .8 .3 1.3 .3 .8 .3 1 .4-.9 .3 2.9 .3-5 .3 4.4 .3-2.1 .3 .1 .3 .9 .3 .1 .3 1.4 .4-.4 .3-1.7 .3 .3 .3 3.5 .3-1.9 .3 2.9 .3-2.5 .3-.1 .4 2.5 .3-4.3 .3 4.7 .3-4 .3 4.9 .3-3.7 .3 4.4 .3-2.1 .4 1.5 .3-2.4 .3 2 .3-.9 .3-.5 .3 2.2 .3-.5 .3-1.2 .4 2.1 .3-2.1 .3 3.7 .3-6 .3 1.6 .3 4.3 .3-.9 .3-.6 .3-1.3 .4-.2 .3-.4 .3 0 .3 3.8 .3-2 .3 .7 .3-1.1 .3 1.3 .4 2.7 .3-2 .3-4.7 .3 4.1 .3-1.8 .3 2.1 .3 .5 .3-.5 .4 .5 .3-1.7 .3 2.2 .3 2.4 .3-4.4 .3 .6 .3 1.6 .3-.3 .4-1.5 .3 .7 .3 2.3 .3-3.8 .3-1.9 .3 4.2 .3 1.7 .3-3.3 .3-.6 .4 3.8 .3 1 .3-.2 .3-1.4 .3 1 .3-1 .3 0 .3 2 .4-3.2 .3-1.7 .3 5.6 .3-2.9 .3 .3 .3 .6 .3-1.4 .3 1.8 .4-3 .3 1.9 .3 1.1 .3-2.4 .3 .5 .3-2.2 .3 2.1 .3 .8 .4-3.7 .3 2.7 .3-.3 .3-1.8 .3 3.2 .3-.7 .3 1 .3-4.4 .3 4.5 .4 .3 .3 0 .3-4.8 .3 1.1 .3 2.8 .3 0 .3-5 .3 4.7 .4-1.1 .3 1.1 .3-5.3 .3 5.2 .3 1 .3-2.6 .3-.3 .3 .9 .4 .6 .3 1.7 .3-1.6 .3-4.6 .3 5.6 .3-4.8 .3-1.8 .3 1.5 .4 1.4 .3-1.6 .3 0 .3 4.1 .3-3.2 .3 2.4 .3 1.6 .3-5 .3 2.8 .4-1.9 .3 2.4 .3-3.8 .3 .5 .3 1.4 .3 .9 .3-.4 .3-1.6 .4 1.2 .3 .5 .3-2.7 .3 .2 .3-1.2 .3 .1 .3 3.3 .3-2.3 .4 1.5 .3 .7 .3-2.6 .3 .5 .3-1.2 .3 1.2 .3-1.9 .3 1.2 .4-.8 .3-1.5 .3-1.2 .3 3.3 .3 2.5 .3-.9 .3-4.7 .3-1 .4 1.3 .3-1.2 .3 2.9 .3 .2 .3-3.2 .3 .7 .3 .2 .3-.2 .3 .8 .4 2.5 .3-4.6 .3 1.2 .3 1.5 .3-.6 .3-2.3 .3 2.3 .3 .6 .4-2.6 .3-.9 .3-.3 .3 0 .3 .7 .3 .6 .3 2.7 .3-3.1 .4 .6 .3-3.8 .3 3.3 .3-1.4 .3-1 .3 3 .3-.1 .3-4.1 .4-.1 .3 4.5 .3-2.9 .3-2.3 .3 3.4 .3-1.6 .3-.2 .3 .6 .3 .1 .4 3.3 .3-2.6 .3-1.4 .3-1.1 .3-2.7 .3-1.2 .3 1.5 .3 1.8 .4 1.9 .3-1.6 .3-2.2 .3 1.8 .3-.8 .3-1.8 .3 3.4 .3-.5 .4-3.7 .3 1.3 .3-.8 .3 1 .3 1.9 .3-4 .3 2.7 .3-1.6 .4-.3 .3 0 .3 2.5 .3-2.8 .3 2.7 .3-2.8 .3 1.1 .3-3.3 .3 3.3 .4-.9 .3-.1 .3 2.7 .3-2.8 .3-.5 .3 1.1 .3-1.2 .3-.8 .4-.3 .3-.4 .3-1 .3-.2 .3 2.1 .3-1.1 .3 .5 .3 .5 .4 0 .3 .8 .3-2.2 .3-1.4 .3 2.1 .3 0 .3 .6 .3 .5 .4-.5 .3-2.1 .3 2.8 .3-5.4 .3 1.2 .3 1.1 .3 .9 .3-2.5 .3 1.9 .4-3.8 .3 3.2 .3-1 .3 2 .3-3.2 .3 .8 .3-.1 .3-2 .4 4 .3 1.4 .3 .1 .3-2.1 .3-.6 .3-.1 .3-1.5 .3-1 .4 2.8 .3-3.2 .3 2.7 .3 .6 .3-2.8 .3-.3 .3 .2 .3 2.6 .4-3.8 .3 1.4 .3 1.9 .3-1.4 .3-.3 .3 .3 .3 .8 .3-3.7 .3 3.4 .4-1.5 .3 .7 .3-.6 .3 2.9 .3-5.8 .3 .8 .3 2.4 .3-2 .4 1.7 .3-1.3 .3 1.5 .3 2.2 .3-1.5 .3-.1 .3 .1 .3 2.1 .4-2.9 .3-1.3 .3 .3 .3 1.9 .3-4 .3 3 .3-1 .3 .9 .4 1 .3-1.6 .3 1.8 .3 .2 .3 1.2 .3-3.3 .3-.7 .3 1.1 .3 .5 .4-.3 .3-1.6 .3 2.1 .3-.7 .3-.7 .3 .8 .3-.7 .3-.5 .4 1.5 .3-3.5 .3 4.2 .3-1.1 .3-.4 .3 .5 .3 1.8 .3-1.9 .4 1.6 .3-1.2 .3-1 .3-.4 .3 1.3 .3 .8 .3-4.1 .3 3.6 .4-3 .3 4.1 .3-1.5 .3-2.1 .3 3.9 .3 .6 .3-3.4 .3-.9 .4 1.3 .3 .7 .3 1.6 .3-1.4 .3-.7 .3 2 .3 2.1 .3-4.3 .3 3.7 .4 .4 .3-1.3 .3-2.4 .3 3.8 .3-2 .3-2.8 .3 2.4 .3 1.1 .4 1 .3 1.3 .3-4.5 .3 4.4 .3-2.3 .3-1.2 .3 2.6 .3-.5 .4-1.8 .3 1.5 .3-1.6 .3 .2 .3-.4 .3 4.7 .3-2.6 .3 .5 .4 .5 .3 2.5 .3-2.3 .3-2.1 .3 .6 .3 2.7 .3-.8 .3 .2 .3-1.4 .4 2.5 .3 .1 .3 1.3 .3-3.3 .3-1.6 .3 2.5 .3-.2 .3-.2 .4 3.2 .3-2.6 .3-1.3 .3 .9 .3 2.1 .3 1 .3 .1 .3-2.8 .4 3 .3-1 .3-.1 .3 1 .3 1.1 .3-1.9 .3 2 .3-.4 .4-2.3 .3 .9 .3 4.7 .3-1.5 .3-2.8 .3 2.8 .3-2.6 .3-.2 .3 .2 .4-1 .3 5 .3-.5 .3-.4 .3 .1 .3-2.1 .3 1 .3 2.2 .4-.4 .3 1.3 .3-1.1 .3 1.7 .3-4.9 .3 1.8 .3 2 .3-.1 .4-1.3 .3 1.4 .3-1.8 .3 1.9 .3-3.2 .3 2.8 .3 2.9 .3 .1 .4-.6 .3-3.4 .3 3.4 .3-1.8 .3 3.9 .3-2.9 .3 2.8 .3-.8 .3-.6 .4 2.4 .3-5.7 .3 5.7 .3-.8 .3-3.3 .3 1.4 .3 5.5 .3-4.4 .4-.8 .3 3.5 .3-1.5 .3 1.4 .3 .2 .3-3.7 .3 1.3 .3 3.1 .4 .8 .3-3 .3 1 .3 1.1 .3-.7 .3 2.6 .3-.7 .3 .2 .4-3 .3 2.2 .3 1.7 .3-.2 .3-2.7 .3 1.3 .3 1.6 .3-.1 .3-1.6 .4 1.8 .3 .1 .3 .9 .3 3 .3-4.7 .3 1.4 .3-1.4 .3-3.5 .4 5.7 .3-1.3 .3 1.7 .3 .7 .3 .3 .3-.5 .3-.5 .3-2.5 .4 2.3 .3 1.6 .3-2.3 .3 3.2 .3-2.4 .3 .9 .3 1.4 .3-1.4 .4-.9 .3 .9 .3 4.1 .3 0 .3-2.5 .3 .5 .3 1.9 .3-3.3 .4 .6 .3-1 .3 1.6 .3-2.2 .3 4 .3-.3 .3-1.5 .3 .5 .3 3.2 .4-1.1 .3-2 .3 .8 .3 1.5 .3-.5 .3-.1 .3 .2 .3-1 .4-.2 .3 2.4 .3-4.8 .3 3.3 .3 .8 .3-3.1 .3 3.1 .3 2 .4 .3 .3-1 .3 .1 .3 1.9 .3-2.1 .3 .9 .3-3.3 .3 1.4 .4 2.1 .3-2.9 .3 2 .3 3 .3-3.1 .3-2.2 .3 2.2 .3 1.2 .3-1.1 .4 1.1 .3-1.8 .3 .6 .3 1 .3-1.8 .3-1.3 .3 2.2 .3-1.5 .4 .8 .3 1.6 .3-.3 .3-2.2 .3 1.7 .3-.9 .3 4.1 .3-3.7 .4 4 .3-5.9 .3 2.7 .3-.9 .3 2.4 .3-.9 .3 1.6 .3-.2 .4-1.8 .3 .8 .3 0 .3-.2 .3-2.5" stroke="#0072BD"/>
<path d="M82.8 31.1l.3-5.4 .3 3.6 .3 .8 .3-.9 .4-.5 .3 3.6 .3-2.9 .3 1.8 .3-.9 .3 .5 .3 1.3 .3 1 .4-.5 .3-1.8 .3-4.5 .3 6.5 .3 .8 .3 .4 .3-.3 .3-.1 .4 1 .3-1.8 .3 2.8 .3-3.5 .3 6.6 .3-5.2 .3 3.4 .3 1.6 .4-.2 .3-.3 .3-.7 .3 .6 .3-1.8 .3 2.6 .3 .5 .3 .4 .3-1.1 .4 1.1 .3-2 .3 3.6 .3 0 .3 .5 .3 .8 .3-.2 .3 1.1 .4 2.4 .3-.4 .3-.5 .3 2.6 .3-2.3 .3-1.9 .3 .9 .3 3.4 .4 .2 .3-1.1 .3 .8 .3-1.8 .3 1.1 .3 .3 .3 1.2 .3-1.5 .4 1.6 .3-3.4 .3 3.3 .3 1.3 .3 1.1 .3 1 .3 1.1 .3-1.4 .3-.1 .4-1.1 .3 2.4 .3-.5 .3 1.4 .3 1.3 .3-.7 .3 .4 .3 1.8 .4 .5 .3 .3 .3 3.5 .3-3.2 .3 3.2 .3-5.3 .3 4.3 .3-.1 .4 .3 .3 3.8 .3-4.6 .3 3.9 .3-2.2 .3 .1 .3 1.2 .3 6.4 .4-2.2 .3-.5 .3 1.7 .3-1.3 .3-2.1 .3 1 .3 3.2 .3 1.6 .4-2.5 .3 .6 .3 2.1 .3 1.4 .3-3.3 .3 .3 .3 1.2 .3 1.2 .3 2.5 .4-.6 .3 2.7 .3-3.8 .3 4.8 .3 0 .3-.3 .3 .3 .3-2.1 .4 1.5 .3 3.1 .3-1.3 .3 .6 .3-1.5 .3 5.5 .3-1.2 .3 1.3 .4-1.5 .3-.6 .3 2.2 .3-3.3 .3 5.5 .3-1.3 .3 1.8 .3 1.7 .4-1.1 .3-.3 .3 1.7 .3 .4 .3-.5 .3 1.5 .3-2.1 .3 1 .3 1.3 .4-1 .3 5.6 .3-1.5 .3-3.1 .3 3.9 .3-2.5 .3 1.3 .3 1 .4 .9 .3 2 .3 1 .3 .8 .3-3 .3 1.2 .3-.1 .3 2.8 .4-1.4 .3-1.3 .3 3.4 .3 .1 .3 .2 .3-3.5 .3 2 .3-.9 .4-.7 .3 5 .3-.4 .3 4.7 .3-3.5 .3 1.4 .3-.5 .3 .3 .3 4.1 .4-3.6 .3 1.7 .3 1.7 .3-.6 .3-1.9 .3 2.8 .3-2.9 .3 1.8 .4 1.2 .3 1.9 .3 .3 .3-2.8 .3 2.2 .3 0 .3 .3 .3-.5 .4 .5 .3 2.2 .3-.7 .3 1.1 .3-.8 .3 3.7 .3-1.7 .3-2.1 .4 4.5 .3-.6 .3-1.1 .3 2.6 .3-1.7 .3 0 .3-.4 .3 1.3 .3 .1 .4 1.5 .3-.8 .3 .3 .3 0 .3-.1 .3 .3 .3 .4 .3 1 .4 .6 .3 1.2 .3-1.6 .3-.6 .3 3 .3-1.5 .3 1.5 .3 .4 .4 1.6 .3-.9 .3-1.2 .3 .5 .3-.3 .3 2.7 .3 2.7 .3-4.4 .4 1.5 .3-.9 .3-1.7 .3 1.5 .3 5.4 .3-2.4 .3 0 .3-2.9 .3 4 .4-.4 .3-2.1 .3 4.9 .3-1.8 .3 1.5 .3-.3 .3-2.2 .3 .8 .4 .5 .3 .1 .3 .8 .3-.5 .3-.7 .3 2.2 .3-1.3 .3 1.1 .4-2.1 .3-.3 .3 1.1 .3-.5 .3 2.6 .3-.1 .3-.8 .3 .9 .4-1.3 .3 1.4 .3 1.9 .3-.3 .3-2 .3-3.3 .3 3.8 .3 2.8 .4-2.8 .3 1.6 .3 1.1 .3-6.3 .3 .5 .3 4 .3 0 .3 .5 .3-1.7 .4 0 .3-.3 .3 3.5 .3-1.2 .3-1.7 .3 1.1 .3 2.7 .3-2.4 .4-1.6 .3 5.1 .3-5.9 .3 2.8 .3-2.6 .3 .8 .3 1 .3 .8 .4 .1 .3 .9 .3-1.4 .3-.3 .3 3 .3-1.5 .3 2.9 .3-1.3 .4-1.3 .3-2 .3 .7 .3-.1 .3 .9 .3 1 .3-3.2 .3 .2 .3 3 .4-1.5 .3-1.1 .3 2.3 .3-.5 .3-2 .3 .4 .3-1.4 .3 2 .4-1.6 .3 .1 .3-2.3 .3 4.3 .3-1.3 .3 1.5 .3-2.7 .3-.2 .4-1.7 .3 2.9 .3-1.7 .3 .9 .3-2.5 .3 2.5 .3 .3 .3-1.7 .4 1.4 .3 .8 .3 1.7 .3-3.8 .3-1.3 .3 1.6 .3-1.5 .3 2.1 .3-1.9 .4-.3 .3 1.9 .3 1.5 .3-2 .3-.6 .3-1.2 .3 4.1 .3-5.6 .4 1.3 .3 1.2 .3 1.1 .3-.8 .3-1.9 .3-.1 .3-.1 .3 3 .4-2 .3-.8 .3 .1 .3 .5 .3-1.4 .3-1.9 .3 3.8 .3-4.2 .4 3.3 .3-.2 .3-.1 .3-3.1 .3 .3 .3-1.1 .3 2.8 .3 .4 .3-5.5 .4 2.3 .3 4.6 .3-2.5 .3-2 .3-2.4 .3-.9 .3 4.5 .3-3.1 .4 1.2 .3 0 .3-.1 .3 1.1 .3-.8 .3-1.1 .3-1.6 .3 2.8 .4-4.8 .3 2.6 .3-2.1 .3 2.6 .3 .1 .3-4 .3 .6 .3 3.8 .4-4.2 .3 3.1 .3-3.6 .3-.8 .3 1 .3 .2 .3-.5 .3-.5 .3 1 .4-2.3 .3 1.3 .3 1.5 .3-3.5 .3-2.7 .3 .9 .3 1.7 .3 .6 .4-.7 .3-3.3 .3 .7 .3 2.2 .3-2 .3-2.4 .3 2 .3-.4 .4 .8 .3 1.5 .3-4.4 .3 .1 .3-.5 .3-1.1 .3 1.8 .3 .2 .4-1.6 .3 2.3 .3 .9 .3-2.8 .3 .1 .3 .1 .3-1.8 .3-1.3 .3 1.9 .4 1.9 .3-.8 .3-1.6 .3-1.4 .3-.6 .3-1.1 .3-2.7 .3 4.5 .4-3.5 .3 1.7 .3-.9 .3 .6 .3-2.6 .3 .1 .3-1.3 .3-1.2 .4 5.2 .3-2.2 .3-1.9 .3-.4 .3 .5 .3 1.7 .3-4.7 .3 4.5 .4-3.2 .3 2 .3-.5 .3-2.1 .3 2.5 .3-2.8 .3 .9 .3 1.6 .4-1.8 .3-.7 .3-.9 .3-.9 .3 3.7 .3-1.1 .3-.3 .3 .9 .3-5.6 .4 3.7 .3-.5 .3 0 .3 .5 .3-3 .3 1 .3 1.1 .3-.7 .4-1.4 .3 0 .3-1.1 .3-.8 .3 2.6 .3 .6 .3-1 .3-1.1 .4 1 .3-1.6 .3 2.3 .3-2.1 .3-.7 .3 1.7 .3-2.7 .3-1.6 .4 7.3 .3-3.7 .3-1.1 .3-1.7 .3 2.7 .3-2 .3-2.2 .3 1.7 .3 1.2 .4-.1 .3-1.5 .3-.4 .3 0 .3 .4 .3 3.3 .3-2.2 .3-1 .4-.8 .3-.7 .3 1.7 .3-2.2 .3-1.5 .3 1.5 .3-.5 .3 1.8 .4 .8 .3-2.5 .3 .1 .3-1.2 .3 2.2 .3 1 .3-.2 .3-2 .4 3.4 .3-5.3 .3 2.7 .3-.8 .3 .4 .3-3 .3 4.5 .3-3.3 .3 .4 .4-1.3 .3 .4 .3 3 .3 .8 .3 .8 .3-3 .3-1.3 .3 .5 .4 .8 .3-1.5 .3 3 .3-4.3 .3-.4 .3 .4 .3 .7 .3-1.7 .4 5.1 .3-.7 .3-1.7 .3 0 .3 .5 .3-1.4 .3 1.3 .3-3.1 .4 2.4 .3 3.9 .3-3.1 .3 .5 .3 1.1 .3-3.8 .3 3.1 .3 1.4 .3-2.3 .4-3.6 .3 2.8 .3-2.9 .3 1.9 .3-1.8 .3 1.8 .3 .2 .3 5.7 .4-2.5 .3 .1 .3-1.7 .3-2 .3 .4 .3 .2 .3 4.1 .3-1.4 .4-1.2 .3-1.1 .3 .6 .3 1.8 .3 .9 .3-3.8 .3 3.2 .3-1.3 .4-.2 .3-.6 .3 2 .3 .8 .3-1.6 .3 1.2 .3-1.5 .3 2.7 .3-1.7 .4 1.5 .3-5.4 .3 6.5 .3-2 .3-.2 .3 .5 .3 1.3 .3-.4 .4-1.2 .3-2.5 .3 .3 .3-.7 .3 3.9 .3-1.1 .3-1.7 .3 1.4 .4 .6 .3 .4 .3-1.1 .3 2.4 .3-1.2 .3 2 .3-2.4 .3 .5 .4 1.1 .3 2.3 .3-1.8 .3-2.6 .3 3.7 .3-1.2 .3 3.5 .3-.9 .4-1.4 .3-1.3 .3 .3 .3 2.5 .3-3.8 .3 7.7 .3-1.8 .3-4 .3-.1 .4-.5 .3 4.4 .3 1.1 .3 .3 .3-.6 .3-2 .3 1.6 .3 .2 .4-1.4 .3 1.6 .3-.4 .3-1.9 .3 3.8 .3-1.1 .3 1.7 .3-2.2 .4 3.3 .3-.1 .3-2.4 .3 4.6 .3-5.9 .3 2.2 .3 1.5 .3 .6 .4-1.2 .3 .4 .3 2.6 .3-1.6 .3 1.9 .3-.3 .3-.6 .3 .1 .3 .9 .4-.1 .3 .8 .3 .1 .3-2.7 .3 .4 .3 4.1 .3 2.3 .3-4.6 .4-1.4 .3 3.6 .3-.7 .3 .9 .3-.3 .3 1.7 .3-.5 .3 .6 .4 .3 .3-.4 .3 2.8 .3-3.8 .3 1.9 .3 .1 .3 1.8 .3 2.4 .4-2.8 .3 .8 .3 3.4 .3-5.5 .3-.3 .3 3.2 .3-.9 .3-1.4 .3 1.7 .4 5.9 .3-6.4 .3 5.3 .3-2 .3-3 .3 4.2 .3 1.4 .3-2 .4 .6 .3 3.2 .3-5.5 .3 2.7 .3 .4 .3 0 .3 .2 .3-1.8 .4 2.8 .3 .9 .3-1.5 .3 .6 .3-.4 .3 2.8 .3-1.9 .3 .1 .4 2.8 .3-2.2 .3 1.1 .3-2 .3-.2 .3 2.4 .3 2.6 .3-1.5 .3 1.7 .4 .1 .3-3.1 .3 1.4 .3 1.7 .3 1.4 .3-1.8 .3-1.5 .3 1.4 .4 .9 .3 .2 .3-1.6 .3 1.1 .3 1.3 .3 3.9 .3-4.2 .3 1 .4 .6 .3-1.6 .3 3.3 .3-1.5 .3 .5 .3 2.8 .3-1.8 .3-.3 .4-1.3 .3 1.1 .3 1.2 .3-1 .3 4.8 .3-2.5 .3 .8 .3-1.8 .3-1.7 .4 1.8 .3-.2 .3 .5 .3-1 .3 4.6 .3-2.3 .3 2.3 .3-.4 .4-1.6 .3 0 .3 1.7 .3-1.7 .3 2 .3 .4 .3 0 .3 .1 .4-1.5 .3 .4 .3 2.5 .3-.1 .3 .7 .3-1.4 .3 .5 .3 0 .4 2.7 .3-2 .3 1.6 .3 .9 .3-1.5 .3 .8 .3-1.1 .3 .2 .4 1 .3-.7 .3 .6 .3 .8 .3 1.3 .3-2.6 .3 .3 .3 0 .3 3.4 .4 .2 .3-1.7 .3-.8 .3 1.4 .3-1.5 .3 3.6 .3-2.3 .3 4 .4-1.5 .3 .6 .3-2.5 .3 2.1 .3-.8 .3-1.2 .3 2.5 .3-2.2 .4 3.1 .3-3.3 .3 3.7 .3 .5 .3-2.4 .3-1.3 .3 5.1 .3-4.2 .4-.1 .3 1.4 .3 2.9 .3-.4 .3-2.2 .3 4.4 .3-5.1 .3-.9 .3 5 .4-.2 .3-2.8 .3 2.4 .3-2.1 .3 1.9 .3 .2 .3-.5 .3-1.1 .4 .2 .3 1.1 .3-2.2 .3-.1 .3 1.3 .3 3.5 .3-1.1 .3-.6 .4-1.1 .3-1.2 .3 3.2 .3-2.9 .3 3.9 .3-2.3 .3 1.3 .3-.3 .4-2.3 .3 2.6 .3-.7 .3-2.5 .3 2.3 .3 2.7 .3-.4 .3-.9 .3-1.2 .4 0 .3 3.2 .3-.9 .3 .3 .3-2 .3-.6 .3 .9 .3-1.1 .4 1.1 .3-.4 .3-2.2 .3 1.1 .3 2 .3-.3 .3-2.3 .3 1.8 .4 1 .3-1.8 .3 2.7 .3-2.4 .3 1.2 .3-1.4 .3-3 .3 3.1 .4 2 .3 1 .3-2.9 .3 .6 .3 1.6 .3-1.2 .3-.9 .3 1.7 .3-1.6 .4-1.1 .3 1.9 .3-3.3 .3 3.4 .3 .4 .3-3.6 .3 2.3 .3 .4 .4 .3 .3-2.2 .3 1.6 .3-.3 .3 2 .3-.7 .3-1.7 .3 1.6 .4-1.6 .3-2.5 .3 1.4 .3-1.6 .3 3.2 .3-2.6 .3 1.5 .3-2 .4 2.9 .3-2 .3-1.5 .3 1.1 .3-.2 .3 .8 .3 3.2 .3-2.5 .3-.3 .4-2.7 .3 1.1 .3 1.7 .3-3.2 .3 .7 .3 3.1 .3-4.7 .3 1.3 .4-4 .3 2.7 .3 4 .3-4.4 .3 1.4 .3 .8 .3-1.3 .3-.6 .4 1.5 .3 .7 .3-2.6 .3 .3 .3 2.4 .3-4.1 .3 2.3 .3-3.5 .4 .5 .3 2.4 .3-1.6 .3 2.8 .3-2.1 .3 3.1 .3-1.3 .3-1.8 .4-1.3 .3-.5 .3-.6 .3 0 .3 2.3 .3-.8 .3 .8 .3-1.3 .3 2.8 .4-1.7 .3-3.7 .3 1.8 .3 1.2 .3-2.3 .3 .5 .3 .4 .3 .3 .4 .9 .3-1.7 .3-.4 .3 0 .3-2.5 .3 2.2 .3-.7 .3-1.6 .4 .5 .3 4.4 .3-3.3 .3 1.4 .3-.5 .3-3 .3-1.2 .3 1.7 .4 4.3 .3-3.1 .3-.4 .3 .1 .3-3.5 .3 1.6 .3-.5 .3 .9 .3-1.5 .4 1.5 .3 1.7 .3-2.2 .3 .9 .3 1.2 .3 .5 .3-2.3 .3-.7 .4-3.5 .3 3.8 .3 0 .3-1.2 .3-1.6 .3 3.2 .3-1.8 .3-2.6 .4-.8 .3 3.8 .3 1.3 .3-2.6 .3-.1 .3-2.2 .3 .1 .3 1.2 .4 1.3 .3-2 .3 1.7 .3 0 .3-1.5 .3-3.4 .3 .1 .3 .4 .3 4.8 .4-3.8 .3 2.1 .3-2.1 .3-.8 .3 .1 .3 2.1 .3 .4 .3-2.9 .4-1 .3 3.1 .3 0 .3-1.3 .3 .6 .3-2.6 .3-.3 .3 .2 .4 2.2 .3 .3 .3-1 .3-.9 .3-1.3 .3 .6 .3 1.1 .3-1.6 .4-.5 .3 1.4 .3 1.2 .3-2.4 .3-.9 .3 .3 .3 2.6 .3-2.4 .3 .4 .4 .4 .3-.2 .3 .5 .3 .1 .3-1.7 .3 .4 .3-.3 .3 1.9 .4-2.3 .3-2.2 .3 4.1 .3-1.9 .3 0 .3-.5 .3-.8 .3 2 .4-2.5 .3 .3 .3 1.4 .3-1.5 .3-1.1 .3-.4 .3 2.5 .3-1.7 .4 1.2 .3 1.2 .3-5.1 .3 2 .3 .3 .3 1.6 .3-.8 .3 1 .3-3.8 .4 3.8 .3-1 .3-1.4 .3 1.6 .3-1.8 .3 1 .3 .5 .3-.1 .4 3.1 .3-4.7 .3 .5 .3 .3 .3 .3 .3 1.9 .3-1.8 .3 1.5 .4-.5 .3 .9 .3-1.3 .3-2.2 .3 .9 .3 2.1 .3-.1 .3-3.1 .4 2.1 .3-1.8 .3-1.3 .3 1 .3 3.3 .3 1.9 .3-6.1 .3 4.7 .3 .1 .4-1.4 .3-.3 .3-1.5 .3 2 .3 .3 .3-2.7 .3 2.9 .3-5.9 .4 6.6 .3-2.3 .3-1.8 .3 1.9 .3 2.6 .3-2.5 .3-1.7 .3 2.9 .4 1.4 .3-2.5 .3 3.4 .3-4.1 .3-.4 .3 1 .3 2.1 .3-3.5 .4-.4 .3 .3 .3 2.6 .3-1.4 .3 2 .3-3 .3 2.7 .3 1.3 .4-1.6 .3-1.1 .3 1.1 .3 .2 .3 1.3 .3-1.6 .3 .4 .3-.2 .3 .4 .4 0 .3 1.3 .3-4.1 .3 5.5 .3-2.8 .3-1.4 .3 4.7 .3 0 .4-3.8 .3-2.8 .3 2.5 .3 2.4 .3 .4 .3 .1 .3 1.3 .3-1 .4-2.3 .3 2.1 .3-1 .3-.6 .3 2.4 .3-.3 .3-.8 .3 1.7 .4-1.3 .3-.7 .3 1 .3 2.9 .3-3 .3 .9 .3-.2 .3 2 .3-1.8 .4 .4 .3 .8 .3 .5 .3-.8 .3 2.9 .3-3.3 .3 1.3 .3-2.3 .4 4.7 .3-2 .3-1.1 .3 .2 .3 1.3 .3-2.1 .3 2.4 .3-1.4 .4 1.1 .3 .5 .3 .9 .3 0 .3 0 .3-1.2 .3 1.6 .3 .8 .4-2.4 .3 .9 .3-.5 .3 .9 .3-2.3 .3 1.6 .3 .8 .3-.1 .3-.6 .4 1.5 .3-.8 .3 1.7 .3-2.6 .3 2.8 .3 5 .3-5.9 .3 1.7 .4-.1 .3-1.1 .3 5.6 .3-1.4 .3-2.4 .3 2 .3-2.8 .3 .3 .4 1.7 .3-1.8 .3 4.5 .3-2.7 .3-1.4 .3-.6 .3 1.5 .3-1.3 .4 1.9 .3 1 .3-.5 .3-3.2 .3 .6 .3 3 .3 0 .3 .2 .3 3.3 .4-1.4 .3-.8 .3 1.6 .3-.7 .3 1.8 .3-1.6 .3-1.5 .3 1.7 .4-1 .3 1.7 .3 1.2 .3-1.3 .3 3.2 .3-1.4 .3-.5 .3 .5 .4-1.2 .3 1.9 .3-2.4 .3 .3 .3 1.3 .3 1.4 .3 .9 .3-2.6 .4 1.6 .3-4.4 .3 3 .3-.7 .3 3.8 .3-1.1 .3 .8 .3 3.2 .3-3.9 .4 1.2 .3 0 .3-.9 .3-.8 .3 .8 .3-1.6 .3 3.9 .3-2.2 .4 2.7 .3-.7 .3-1.9 .3 1.1 .3 .6 .3 .2 .3-.6 .3-.8 .4 1.2 .3 1.8 .3-1.8 .3 1.5 .3-.3 .3 .3 .3-1 .3 1.2 .4 1.1 .3 1.8 .3 0 .3-2.5 .3 1.7 .3-2.2 .3 1.5 .3-.3 .4 .7 .3-3.9 .3 2.6 .3 .8 .3-.1 .3 4.9 .3-2.2 .3-3.1 .3 0 .4 3.3 .3 2.2 .3-1.1 .3-2.7 .3 1.3 .3-1.9 .3 2.2 .3-.7 .4-.3 .3 1.2 .3 .6 .3 .4 .3-.6 .3-.2 .3-1.4 .3 1.5 .4 1.1 .3 .9 .3-.4 .3-1.7 .3 .5 .3-1.8 .3 2.4 .3 .5 .4-2.7 .3 .7 .3-.3 .3 3.9 .3-1.8 .3-.3 .3 .1 .3 4 .3-3.6 .4 .1 .3-1.7 .3 2.2 .3-.4 .3 .4 .3 1.5 .3-2.7 .3-1.9 .4 4.5 .3-3.8 .3-.3 .3 4.9 .3-.1 .3-.8 .3 .3 .3-.4 .4 .6 .3-1.1 .3-1.2 .3-.5 .3 1.5 .3 1.3 .3-2.4 .3-.1 .4 2.2 .3-1.9 .3 2.4 .3-.7 .3-1.3" stroke="#D95319"/>
<path d="M82.8 22.5l.3 4.6 .3 2.2 .3-.3 .3-1 .4 4.2 .3-2.8 .3-.5 .3 2.3 .3-1.6 .3 3.5 .3 0 .3 1 .4-4 .3 3.8 .3-1.7 .3 3.5 .3-3.5 .3 3.7 .3-.7 .3 3 .4-1.6 .3-3 .3 3.8 .3-4.1 .3-.6 .3 3.8 .3 2 .3-1.2 .4-.6 .3 3.7 .3-1.8 .3-.9 .3-.1 .3 3.8 .3-2.4 .3 0 .3-1.2 .4 1.6 .3-.9 .3 1.1 .3 2.4 .3-5 .3 3.4 .3 1 .3 1.2 .4-2.5 .3 2.5 .3-.4 .3 .9 .3 .9 .3 2.5 .3-1.1 .3-3.1 .4 2.6 .3 1.8 .3 .7 .3 .3 .3-.2 .3 0 .3-2 .3 2.1 .4-1.6 .3 5.5 .3-1.8 .3 3 .3 .9 .3-3.2 .3 3.5 .3-2.3 .3 1.9 .4-2.6 .3 .4 .3 4.6 .3-3 .3 1.7 .3-.4 .3 2.1 .3-2.1 .4 .8 .3 2.1 .3 2.8 .3 1.7 .3-4.6 .3 1.7 .3 3 .3-.2 .4-4.9 .3 6.1 .3-1.7 .3-.9 .3-1 .3 3.5 .3 .2 .3 3.1 .4-2 .3 1.3 .3 2.1 .3 .6 .3-3.1 .3 .8 .3-2 .3 5.1 .4 3.1 .3-5.7 .3 2.7 .3-1.2 .3 4.2 .3 0 .3-2.4 .3 4 .3-.6 .4 .5 .3-.9 .3 .3 .3 3.2 .3-2.1 .3 2.3 .3 .3 .3 .1 .4-.7 .3 2.1 .3-.4 .3 2.4 .3 1.5 .3 0 .3-1.6 .3 .8 .4 .3 .3 2.8 .3-.4 .3-.7 .3-.5 .3 .7 .3 1.8 .3 1.1 .4 1.7 .3-1.1 .3-2 .3 2.6 .3 .9 .3-.7 .3-3.3 .3 5.3 .3 1.3 .4 1.5 .3 1 .3-3.2 .3 .6 .3 1.9 .3-1.1 .3 .2 .3 2.5 .4-1.1 .3-.4 .3 4 .3-1.6 .3 .1 .3 3.3 .3-6 .3 2.5 .4-.8 .3 5.5 .3-1.6 .3-1.5 .3 3 .3-3.5 .3 5.3 .3-1.2 .4 .9 .3 2.4 .3-1.7 .3 .1 .3 2 .3-.5 .3-1.7 .3 .5 .3 1 .4 .1 .3-.5 .3 2.6 .3 1.2 .3-.8 .3 .3 .3 1.6 .3-.9 .4 .3 .3-.8 .3 3.4 .3-2.9 .3 2.6 .3 2.2 .3-3.4 .3 1.2 .4 1 .3 2.3 .3-2.7 .3 3.2 .3 .5 .3-1.2 .3-1.2 .3 1.8 .4 .2 .3 1.9 .3-2.4 .3 2.3 .3-1.2 .3-3 .3 4.3 .3 2.2 .3 1 .4-.4 .3 .4 .3-1.6 .3-1.3 .3 2.3 .3 .8 .3-1.1 .3 2.5 .4-.6 .3-1.4 .3-.2 .3 2.7 .3 .3 .3 .5 .3-.9 .3-1.6 .4 2.5 .3 2.1 .3-3.1 .3 .2 .3 .2 .3 .7 .3 2.1 .3 1.3 .4-2.2 .3 1.5 .3-.3 .3-1.6 .3 5 .3 .1 .3-.2 .3-.9 .3-.7 .4-.4 .3 1.9 .3-2.7 .3 2.4 .3-1.4 .3-1.1 .3 .9 .3 2.4 .4-.2 .3-.7 .3-.3 .3 3.2 .3 .1 .3-.6 .3-2.4 .3 1.5 .4 .6 .3 2.2 .3 .1 .3-2.5 .3 2.3 .3-2.9 .3 2.9 .3-1.5 .4-.7 .3 .4 .3 1 .3-3.2 .3 3.5 .3-.6 .3 1.2 .3-1.9 .4-.2 .3 .1 .3 1.4 .3-.9 .3 3.1 .3-.9 .3-1.5 .3 4.4 .3-.8 .4-3.4 .3 .8 .3 .8 .3-.1 .3-2.5 .3 1.6 .3 1.3 .3 1.7 .4-2.4 .3 2 .3-1.4 .3 .9 .3-3.1 .3 3 .3-1 .3-2.1 .4 5.5 .3-2.6 .3 1.6 .3-4.8 .3 1.8 .3 .7 .3-.3 .3-1 .4 .3 .3 .7 .3-1.3 .3 .8 .3-2.4 .3 4.6 .3-1.2 .3-1.7 .3-.1 .4 2 .3-2.8 .3 .5 .3-1.2 .3 2.9 .3-2.3 .3 1.9 .3-.7 .4-.7 .3 1.8 .3-.2 .3-3.3 .3 4.1 .3-2.4 .3-1.2 .3-.4 .4 2.5 .3 1.2 .3-3.3 .3 2.4 .3-.9 .3 1 .3 1 .3-1.3 .4-.7 .3 2.2 .3-4.9 .3 2.4 .3-2.9 .3 .6 .3 2.5 .3-1 .3 .6 .4-.8 .3-.3 .3-.6 .3-.2 .3 .3 .3 1 .3 1.3 .3-2.8 .4 .5 .3-1.5 .3 1.8 .3-1.5 .3 1.7 .3-2.2 .3 .8 .3-1.2 .4-3.4 .3 2.5 .3 1.2 .3-.7 .3 .2 .3-.1 .3-.4 .3-.1 .4-.1 .3-1.7 .3-.2 .3-1.3 .3 1.7 .3-.2 .3-3.1 .3 5.5 .3-2.6 .4-.7 .3-.4 .3 1.7 .3-.6 .3 1.4 .3-1.6 .3 1.8 .3-4.2 .4 1.2 .3 1 .3-3.8 .3 1.8 .3 1.2 .3-2.4 .3 1.2 .3 1.9 .4-3.2 .3-2.4 .3 4.5 .3-2.1 .3-2 .3 .4 .3-1.2 .3 1.4 .4-2.6 .3 1.7 .3-.1 .3-1 .3 .7 .3-.2 .3-.1 .3 .3 .3-.5 .4 .6 .3-3.1 .3 .1 .3 3.1 .3-2.6 .3-1 .3 1.3 .3-2.4 .4 1.2 .3-1.2 .3 1.1 .3-2 .3-.2 .3-3.5 .3 .8 .3 1.7 .4-.1 .3-.3 .3-.6 .3 3.3 .3-3.5 .3-1.3 .3 .6 .3 1.5 .4 .2 .3 .1 .3-5.3 .3 1 .3-1.2 .3 2.1 .3 .4 .3 .9 .3-3.2 .4 2.4 .3-1.2 .3-3.2 .3-.8 .3 2.3 .3-1.9 .3 .8 .3-.8 .4 2.4 .3-2.7 .3-.2 .3-.5 .3-.2 .3 .1 .3-.9 .3 1.7 .4-1.9 .3 1.6 .3-1.8 .3 .6 .3 .1 .3-.4 .3-.3 .3-2.2 .4 2 .3-1.9 .3-.5 .3-2.6 .3 1.5 .3 2.6 .3 .1 .3-2.1 .4-.8 .3 1.5 .3-2.6 .3 4 .3 0 .3-2.2 .3-2.2 .3-.6 .3 1 .4-2.2 .3 1.2 .3 .7 .3-2.6 .3 1.5 .3 1.5 .3-1.9 .3 1.9 .4-3.4 .3 1.8 .3 2.1 .3-4.7 .3 1.1 .3 1.2 .3-1.2 .3-.9 .4 .8 .3-.5 .3-1.4 .3 2 .3-.8 .3-2.8 .3 2.9 .3 .4 .4-1.3 .3-1.4 .3 2.4 .3-.9 .3 .4 .3-3.7 .3 .6 .3 1.2 .3-1.3 .4 3.6 .3-1.1 .3-1.6 .3-1.7 .3 4 .3-2.8 .3 .8 .3-.1 .4-.8 .3 1.7 .3-3.8 .3 2.8 .3-1.5 .3 2.1 .3-.7 .3 1.4 .4-4.9 .3-1.8 .3 3.7 .3-.6 .3-2.5 .3 3.8 .3-1.4 .3 1.3 .4-2.4 .3 .5 .3-1 .3 0 .3 3 .3-.8 .3-1.3 .3-.6 .3 .9 .4-1.1 .3-.3 .3 1.7 .3-.8 .3 .7 .3 1 .3-3.3 .3-1.3 .4 2.9 .3-2.8 .3 .1 .3 3.2 .3-.5 .3 .3 .3-2.3 .3-.5 .4 2.6 .3 1.5 .3-2.4 .3-1.8 .3 1.3 .3 .5 .3 2.4 .3-3.3 .4 1.3 .3-.5 .3-.2 .3 .9 .3 .7 .3-1.6 .3-.6 .3-1.7 .3 2.9 .4 1.1 .3-4.3 .3 1.2 .3 2.7 .3-.7 .3-.5 .3-2 .3 2.2 .4-2.1 .3 1.8 .3 1.4 .3-1.3 .3 2.8 .3-1.5 .3-1.8 .3 2.1 .4-.6 .3 1.4 .3-1.8 .3 2.5 .3-1.9 .3-1.6 .3 2 .3-2.1 .4 .8 .3-.2 .3 2.1 .3-.9 .3 1.5 .3-.4 .3-.3 .3-1.4 .3-1.4 .4 4.4 .3-4.1 .3 5.7 .3-.3 .3-5.4 .3 .8 .3 1.6 .3 .1 .4 .4 .3 3.4 .3-4.1 .3 1.8 .3 2.6 .3-3.7 .3-.2 .3-.8 .4 .6 .3 2.1 .3-1.3 .3 1.2 .3-.1 .3-2.3 .3 3.3 .3 3.4 .4-2.8 .3 1.8 .3-.6 .3-3.5 .3 1.7 .3 2 .3-.8 .3-1.5 .4 1.4 .3-2 .3 4.2 .3-1.7 .3 .4 .3 1.7 .3-1.6 .3-.3 .3-.5 .4 4.9 .3-3 .3-.4 .3-.7 .3 1.4 .3 .8 .3 1.3 .3-2.9 .4 2.5 .3-2.2 .3 2.3 .3 0 .3 1.9 .3 1 .3-2.2 .3 1 .4-2 .3 4.2 .3 .2 .3-3.2 .3 3.1 .3 .5 .3 1.8 .3-1.5 .4-1.9 .3-.3 .3 4.4 .3-3 .3 2.2 .3-.1 .3-1.6 .3 1.4 .3-.4 .4-.3 .3 .3 .3 .7 .3-.5 .3 2.3 .3 .8 .3 .2 .3-1 .4 1.5 .3-1.2 .3 .8 .3-2.2 .3 3.9 .3-2.9 .3 1 .3-2.1 .4 4.6 .3-1.5 .3 1.9 .3 0 .3-.7 .3-.6 .3-.5 .3 2.9 .4 .8 .3-1 .3-1.1 .3 1 .3 .1 .3-.1 .3 1.6 .3-.6 .3-1.8 .4 2.4 .3 2.1 .3-.1 .3 0 .3-.5 .3-.2 .3 3.4 .3-.8 .4-.3 .3 1.2 .3 1.7 .3-.8 .3-3.1 .3 3.7 .3-3.9 .3 2.5 .4 .1 .3-2.3 .3 .2 .3 4.8 .3-2.9 .3 .8 .3 2.2 .3-.2 .4 1.1 .3-3.6 .3-1.1 .3 6.2 .3-.7 .3-.6 .3 1.4 .3-2.7 .3 1.4 .4 1 .3 2.4 .3 .1 .3-2.1 .3 3.1 .3-3.8 .3 2.2 .3-2 .4 1.3 .3-.1 .3 .5 .3 1.8 .3 .2 .3-.1 .3-.5 .3-.7 .4 1.7 .3-2.1 .3 2.9 .3 1.3 .3-.4 .3 .1 .3-2.8 .3 1.1 .4 .9 .3 .9 .3-.3 .3 2.5 .3-5.2 .3 3 .3-.4 .3 0 .3 2 .4 .4 .3 1.4 .3-1 .3 .3 .3 2.7 .3-2.8 .3 2.3 .3-1.2 .4-3.4 .3 1 .3 4.9 .3-2.2 .3 0 .3-1.6 .3-.4 .3 3.1 .4 1.1 .3-1.2 .3 .1 .3 3.6 .3-2.9 .3 1.3 .3-2.9 .3 1.8 .4 .7 .3-.6 .3 1.6 .3-.2 .3-.1 .3 3.4 .3-3.8 .3 0 .4 .6 .3-.3 .3 3.5 .3-1.8 .3 .8 .3 .3 .3 1.6 .3-.2 .3-1 .4 1.6 .3-.9 .3 1.4 .3-2.2 .3-2.1 .3 2.6 .3 .9 .3 2.1 .4-.8 .3-1.8 .3 .9 .3 .7 .3 2.6 .3-.9 .3-2 .3 2.2 .4-2.5 .3 1.2 .3 1.8 .3-4 .3 6.6 .3-3 .3 1.8 .3-1.5 .4-1.2 .3-1 .3 1.5 .3 1 .3-.5 .3 2.3 .3-1.5 .3-1.2 .3 .9 .4-.5 .3 1.8 .3-1.4 .3 1.2 .3 1.3 .3 1.1 .3 1.2 .3-2 .4-.5 .3-.9 .3 1.5 .3 .7 .3-2.2 .3 0 .3 0 .3 .2 .4 1.5 .3-1.4 .3 0 .3-.6 .3 1.8 .3 1.3 .3-3.1 .3 .2 .4 1.8 .3 3 .3-1.9 .3-2.7 .3 2.5 .3-.1 .3-2.4 .3 1.4 .3 .2 .4 1.1 .3-1.5 .3 .3 .3-.7 .3 3.6 .3-4.4 .3-1 .3 2 .4 1.3 .3-2.3 .3-.1 .3 2.9 .3-.9 .3-.4 .3 1.6 .3-1.2 .4-1.5 .3-1.7 .3 5.7 .3-3.6 .3 3 .3-1.3 .3-1.8 .3 2.4 .4-2.1 .3 1.2 .3-1.8 .3 3.1 .3-5 .3 4.3 .3-.5 .3 .8 .3-3.8 .4 1.3 .3 .4 .3-2.1 .3 3.8 .3-.4 .3-1.8 .3 1.5 .3-.8 .4-.2 .3 0 .3-.8 .3 1.9 .3-3.2 .3 1.4 .3 1 .3-.3 .4-1.3 .3 .5 .3-1 .3-1.5 .3 2.1 .3 2.2 .3-2.9 .3 .2 .4-.1 .3 .4 .3 2 .3-2.1 .3-.8 .3 .4 .3-2.6 .3-.3 .3 5.2 .4-5.8 .3 4.5 .3-1.2 .3-4.8 .3 1.6 .3 .8 .3 2.8 .3-1.8 .4-.7 .3 2 .3-2.1 .3 2.4 .3-4.1 .3 2 .3 1 .3-3.4 .4 .7 .3-1.1 .3 4.1 .3-1.2 .3-.9 .3 2.1 .3-2.7 .3-.1 .4 .3 .3-.3 .3 1.9 .3-3.2 .3-1.3 .3 3.8 .3-.3 .3-1.9 .4 1.6 .3-.6 .3-.8 .3 1.3 .3 .3 .3-4 .3 2.8 .3-3 .3 2.3 .4-2.3 .3 1.5 .3 1.4 .3-3.1 .3 .8 .3 .7 .3-4.4 .3 .4 .4 4.2 .3-1.7 .3 .3 .3 .5 .3-2.2 .3-.6 .3-.5 .3 3.1 .4-2.7 .3-1.2 .3 4.7 .3-2.6 .3 .5 .3-2.4 .3 3.1 .3-2.2 .4 0 .3 .7 .3-1.3 .3 2.1 .3-.7 .3-.5 .3-2.7 .3-1 .3 2.2 .4 .1 .3 1.6 .3-.4 .3-2.5 .3-1.5 .3 2 .3 .3 .3-.3 .4-2 .3-1.1 .3 1.7 .3 .4 .3-1.1 .3 1.1 .3-.9 .3-1.9 .4 .8 .3 2.8 .3-5.4 .3-1.4 .3 6.2 .3-1.7 .3-1.7 .3-1.1 .4 4.4 .3-5.3 .3 .5 .3 .7 .3 .9 .3 2.6 .3-3.2 .3 1.2 .3-1.8 .4 1 .3 1 .3-5 .3-.9 .3 5.9 .3-2.7 .3 1.8 .3-2.8 .4 2.3 .3-2.2 .3 1.4 .3-1.9 .3 3.5 .3-3.5 .3 .2 .3-.4 .4 .2 .3-1.9 .3 0 .3 2.7 .3-1.1 .3 1.1 .3-.5 .3-3.5 .4 3.9 .3-2.8 .3-1.2 .3 1.2 .3-.8 .3 3.1 .3-1 .3 .5 .3-3.5 .4 2.2 .3 .9 .3-1.2 .3-1.9 .3 3.5 .3-3.2 .3 .9 .3 .4 .4-.9 .3 1.4 .3 .4 .3 .6 .3-2.8 .3 2.6 .3-1.4 .3 .3 .4-2.7 .3 5.2 .3-3.4 .3-.7 .3-.4 .3 .3 .3-1.4 .3 1.4 .4 .4 .3-1.1 .3-.2 .3 0 .3-.2 .3-1.2 .3-.5 .3 3.6 .3-.4 .4-4.4 .3 3.6 .3 2.5 .3-2.9 .3-.9 .3-1.2 .3 1.1 .3-.3 .4 .4 .3-1.3 .3 3.9 .3-2.4 .3-.5 .3 .2 .3-1.5 .3 3.5 .4-3.7 .3 .6 .3 2.9 .3-1.5 .3-.2 .3 3.1 .3-3.2 .3 .8 .4 0 .3 2 .3-3.3 .3-1.6 .3 0 .3 .2 .3 1.1 .3-.7 .3 3.4 .4-1.3 .3-.5 .3-.3 .3 .8 .3-.6 .3-1.4 .3 3.2 .3-2.8 .4 1 .3-.7 .3 .4 .3-.2 .3 1 .3-1.9 .3-.1 .3 .6 .4 2.2 .3-.8 .3-.7 .3-2.4 .3 1.8 .3 .3 .3-.9 .3 3.6 .4-2.7 .3 5.2 .3-3.4 .3-.9 .3 2.4 .3 1.3 .3-1.3 .3-2.6 .4 .2 .3 .1 .3 .8 .3-1.7 .3 .8 .3 1.7 .3-.7 .3-2.8 .3 3.6 .4 1.1 .3 .3 .3 1 .3-.8 .3-3.8 .3 1.1 .3 .2 .3-.3 .4 2.3 .3-.3 .3-.7 .3-1.8 .3 2.9 .3 1.4 .3-.6 .3-3.3 .4 2.3 .3 1.8 .3-2.1 .3-.6 .3 2.4 .3-.1 .3 .6 .3 1.1 .4-1.7 .3-1.5 .3 .3 .3 1.1 .3 2.1 .3-2.1 .3-1.2 .3 0 .3 2.5 .4 .7 .3-2.6 .3 1.3 .3-1.8 .3 .9 .3-.1 .3 1.7 .3 1.9 .4-2.2 .3 1.1 .3-1.1 .3 1.3 .3-1 .3 1.9 .3-.9 .3-1.1 .4-.5 .3 4 .3-2.1 .3 .2 .3 .3 .3 .4 .3-.1 .3 1.1 .4-1.2 .3-1.2 .3 4.6 .3-4.3 .3 4.1 .3-1.1 .3 .9 .3-2.1 .3 1.5 .4-1 .3 3.8 .3-2.6 .3-1.1 .3 1.4 .3 1.6 .3-1.4 .3-2.1 .4 1.2 .3-.3 .3 3.3 .3-1.1 .3 1 .3-.4 .3 1.3 .3-.2 .4-2.8 .3 3.9 .3-2.6 .3 1.4 .3 .8 .3-1.7 .3 1 .3-1.5 .4-.9 .3 2.2 .3 1.7 .3 .5 .3 1.7 .3-2.3 .3 1.2 .3-3.9 .3 4.2 .4 .3 .3 .6 .3-1 .3 .8 .3 2 .3-4 .3 1.1 .3-1.6 .4 1.6 .3 1.2 .3-1.2 .3 1.6 .3-1.5 .3 1.8 .3-.2 .3 3.2 .4-1.8 .3-.9 .3 .5 .3 .4 .3-1.6 .3 .2 .3 3.7 .3-1.7 .4-.5 .3-2.1 .3 2.7 .3 1.3 .3-.3 .3-1.8 .3 5.5 .3-4.7 .3-.1 .4 2.1 .3-1.7 .3 2.9 .3 .7 .3 .9 .3-1.9 .3-.7 .3 .5 .4 2.4 .3-1.9 .3-.5 .3 .3 .3-1.3 .3 3.8 .3-1.9 .3 .9 .4-.2 .3 1.2 .3-.8 .3 2.2 .3-.9 .3-2.1 .3 2.4 .3-.3 .4-.8 .3-.1 .3-.8 .3 3 .3-.6 .3 1.6 .3-2.3 .3 .7 .4-.1 .3 2 .3-2.4 .3 2.9 .3 .2 .3-.9 .3 .7 .3-2 .3 .8 .4 1.3 .3-2.4 .3 .7 .3 1.4 .3 .9 .3 .5 .3-1.8 .3 .6 .4-.4 .3 0 .3 .3 .3 1.5 .3-1.4 .3 .7 .3 3.2 .3-2.3 .4-2.3 .3 1.2 .3 1.3 .3 .2 .3-1.2 .3 1.2 .3 1.7 .3-.2 .4-5.2 .3 3.9 .3-.4 .3-.2 .3-.1 .3-.5 .3 1 .3 .7 .3-.2 .4-.1 .3-2.4 .3-.1 .3 1.5 .3-1.4 .3 3.3 .3 .5 .3 2.1 .4-4.4 .3 .6 .3 2.5 .3-2.6 .3 1.3 .3-.7 .3-1.1 .3 .5 .4 1 .3 .6 .3-2 .3 3 .3-2.1 .3-.8 .3-.7 .3 4.2 .4-2.9 .3 1.1 .3-.1 .3-1.6 .3 .9" stroke="#EDB120"/>
<path d="M82.8 28.4l.8 .7 .7 .8 .8 .7 .7 .7 .8 .8 .7 .7 .8 .7 .7 .7 .8 .7 .7 .7 .8 .7 .8 .7 .7 .7 .8 .7 .7 .8 .8 .7 .7 .8 .8 .8 .7 .8 .8 .9 .7 .8 .8 .9 .7 1 .8 .9 .8 1 .7 1 .8 1.1 .7 1.1 .8 1.1 .7 1.2 .8 1.1 .7 1.2 .8 1.2 .7 1.2 .8 1.2 .8 1.2 .7 1.3 .8 1.2 .7 1.2 .8 1.3 .7 1.2 .8 1.3 .7 1.2 .8 1.2 .7 1.3 .8 1.2 .8 1.2 .7 1.2 .8 1.2 .7 1.3 .8 1.2 .7 1.1 .8 1.2 .7 1.2 .8 1.2 .7 1.2 .8 1.1 .8 1.2 .7 1.1 .8 1.2 .7 1.1 .8 1.1 .7 1.1 .8 1.1 .7 1.1 .8 1.1 .7 1.1 .8 1.1 .7 1 .8 1 .8 1.1 .7 1 .8 1 .7 1 .8 1 .7 .9 .8 1 .7 .9 .8 .9 .7 1 .8 .8 .8 .9 .7 .9 .8 .8 .7 .9 .8 .8 .7 .8 .8 .8 .7 .7 .8 .8 .7 .7 .8 .7 .8 .7 .7 .7 .8 .7 .7 .6 .8 .6 .7 .6 .8 .6 .7 .6 .8 .5 .7 .5 .8 .5 .8 .5 .7 .4 .8 .5 .7 .4 .8 .4 .7 .3 .8 .3 .7 .4 .8 .3 .7 .2 .8 .3 .7 .2 .8 .2 .8 .2 .7 .1 .8 .2 .7 .1 .8 .1 .7 .1 .8 0 .7 .1 .8 0 .7 0 .8 0 .8 0 .7-.1 .8 0 .7-.1 .8-.1 .7-.1 .8-.1 .7-.1 .8-.2 .7-.2 .8-.1 .8-.2 .7-.3 .8-.2 .7-.2 .8-.3 .7-.3 .8-.3 .7-.3 .8-.3 .7-.3 .8-.4 .8-.4 .7-.3 .8-.4 .7-.4 .8-.5 .7-.4 .8-.5 .7-.5 .8-.4 .7-.5 .8-.6 .7-.5 .8-.5 .8-.6 .7-.6 .8-.6 .7-.6 .8-.6 .7-.7 .8-.6 .7-.7 .8-.7 .7-.7 .8-.7 .8-.7 .7-.7 .8-.7 .7-.7 .8-.8 .7-.7 .8-.7 .7-.8 .8-.7 .7-.7 .8-.8 .8-.7 .7-.7 .8-.7 .7-.7 .8-.6 .7-.7 .8-.7 .7-.6 .8-.6 .7-.6 .8-.6 .7-.6 .8-.6 .8-.6 .7-.5 .8-.5 .7-.6 .8-.5 .7-.5 .8-.5 .7-.5 .8-.4 .7-.5 .8-.4 .8-.4 .7-.5 .8-.4 .7-.4 .8-.3 .7-.4 .8-.4 .7-.3 .8-.4 .7-.3 .8-.3 .8-.3 .7-.3 .8-.3 .7-.2 .8-.3 .7-.3 .8-.2 .7-.2 .8-.2 .7-.2 .8-.2 .8-.2 .7-.2 .8-.1 .7-.2 .8-.1 .7-.1 .8-.1 .7-.1 .8-.1 .7 0 .8-.1 .7 0 .8 0 .8 0 .7 0 .8 0 .7 .1 .8 0 .7 .1 .8 .1 .7 .1 .8 .1 .7 .2 .8 .1 .8 .2 .7 .2 .8 .2 .7 .2 .8 .3 .7 .2 .8 .3 .7 .3 .8 .4 .7 .3 .8 .3 .8 .4 .7 .4 .8 .4 .7 .5 .8 .4 .7 .5 .8 .4 .7 .5 .8 .5 .7 .6 .8 .5 .8 .5 .7 .6 .8 .6 .7 .5 .8 .6 .7 .6 .8 .6 .7 .6 .8 .6 .7 .7 .8 .6 .7 .6 .8 .7 .8 .6 .7 .7 .8 .7 .7 .6 .8 .7 .7 .6 .8 .7 .7 .7 .8 .6 .7 .7 .8 .7 .8 .6 .7 .7 .8 .7 .7 .6 .8 .7 .7 .6 .8 .7 .7 .6 .8 .7 .7 .6 .8 .6 .8 .7 .7 .6 .8 .6 .7 .6 .8 .7 .7 .6 .8 .6 .7 .6 .8 .6 .7 .6 .8 .6 .7 .6 .8 .6 .8 .5 .7 .6 .8 .6 .7 .6 .8 .5 .7 .6 .8 .5 .7 .6 .8 .5 .7 .6 .8 .5 .8 .5 .7 .5 .8 .6 .7 .5 .8 .5 .7 .5 .8 .5 .7 .5 .8 .4 .7 .5 .8 .5 .8 .4 .7 .5 .8 .4 .7 .5 .8 .4 .7 .4 .8 .5 .7 .4 .8 .4 .7 .3 .8 .4 .8 .4 .7 .3 .8 .3 .7 .3 .8 .3 .7 .3 .8 .2 .7 .2 .8 .2 .7 .2 .8 .2 .7 .2 .8 .1 .8 .1 .7 .1 .8 .1 .7 .1 .8 0 .7 .1 .8 0 .7 0 .8 0 .7 0 .8-.1 .8 0 .7-.1 .8-.1 .7 0 .8-.2 .7-.1 .8-.1 .7-.1 .8-.2 .7-.1 .8-.2 .8-.2 .7-.2 .8-.2 .7-.2 .8-.2 .7-.3 .8-.2 .7-.3 .8-.2 .7-.3 .8-.3 .8-.2 .7-.3 .8-.3 .7-.3 .8-.4 .7-.3 .8-.3 .7-.3 .8-.4 .7-.3 .8-.3 .7-.4 .8-.3 .8-.4 .7-.4 .8-.3 .7-.4 .8-.4 .7-.3 .8-.4 .7-.4 .8-.4 .7-.3 .8-.4 .8-.4 .7-.4 .8-.4 .7-.3 .8-.4 .7-.4 .8-.4 .7-.4 .8-.3 .7-.4 .8-.4 .8-.4 .7-.3 .8-.4 .7-.4 .8-.3 .7-.4 .8-.3 .7-.4 .8-.3 .7-.4 .8-.3 .7-.3 .8-.3 .8-.4 .7-.3 .8-.3 .7-.3 .8-.3 .7-.2 .8-.3 .7-.3 .8-.2 .7-.3 .8-.2 .8-.3 .7-.2 .8-.2 .7-.2 .8-.2 .7-.2 .8-.2 .7-.2 .8-.1 .7-.2 .8-.2 .8-.1 .7-.1 .8-.1 .7-.1 .8-.1 .7-.1 .8-.1 .7-.1 .8 0 .7-.1 .8 0 .8 0 .7 0 .8 0 .7 0 .8 0 .7 0 .8 .1 .7 0 .8 .1 .7 .1 .8 .1 .7 .1 .8 .1 .8 .2 .7 .1 .8 .2 .7 .1 .8 .2 .7 .2 .8 .2 .7 .2 .8 .2 .7 .3 .8 .2 .8 .2 .7 .3 .8 .3 .7 .2 .8 .3 .7 .3 .8 .3 .7 .3 .8 .4 .7 .3 .8 .3 .8 .4 .7 .3 .8 .4 .7 .3 .8 .4 .7 .4 .8 .3 .7 .4 .8 .4 .7 .4 .8 .4 .8 .4 .7 .4 .8 .4 .7 .4 .8 .5 .7 .4 .8 .4 .7 .5 .8 .4 .7 .4 .8 .5 .7 .4 .8 .4 .8 .5 .7 .4 .8 .5 .7 .4 .8 .5 .7 .4 .8 .5 .7 .4 .8 .4 .7 .5 .8 .4 .8 .5 .7 .4 .8 .4 .7 .4 .8 .5 .7 .4 .8 .4 .7 .4 .8 .4 .7 .4 .8 .4 .8 .4 .7 .4 .8 .3 .7 .4 .8 .3 .7 .4 .8 .3 .7 .4 .8 .3 .7 .3 .8 .3 .8 .3 .7 .3 .8 .3 .7 .2 .8 .3 .7 .2 .8 .2 .7 .3 .8 .2 .7 .1 .8 .2 .7 .2 .8 .1 .8 .2 .7 .1 .8 .1 .7 .1 .8 .1 .7 0 .8 .1 .7 0 .8 0 .7 0 .8-.1" stroke="#FF0000" stroke-width="3" stroke-dasharray="9.5 5.5"/></g>
<path fill="none" stroke="#e6e6e6" stroke-width="1.1" d="M173.32 260.90V406.10M263.84 260.90V406.10M354.36 260.90V406.10M444.88 260.90V406.10M82.80 333.50H535.40"/>
<g fill="none" stroke="#333333" stroke-width="1.1"><rect x="82.80" y="260.90" width="452.60" height="145.20"/><path d="M82.80 406.10v-5.2M82.80 260.90v5.2M173.32 406.10v-5.2M173.32 260.90v5.2M263.84 406.10v-5.2M263.84 260.90v5.2M354.36 406.10v-5.2M354.36 260.90v5.2M444.88 406.10v-5.2M444.88 260.90v5.2M535.40 406.10v-5.2M535.40 260.90v5.2M82.80 406.10h5.2M535.40 406.10h-5.2M82.80 333.50h5.2M535.40 333.50h-5.2M82.80 260.90h5.2M535.40 260.90h-5.2"/></g>
<g clip-path="url(#c2)" fill="none" stroke-width="1.1" stroke-linejoin="round"><path d="M82.8 253.6l.3 120.3 .3 3.7 .3 19.1 .3 5.8 .4-6.2 .3-1.1 .3 10.9 .3-15.7 .3-29.6 .3 7.6 .3 37.7 .3-13.9 .4 13.9 .3-5.8 .3-2.3 .3-9.7 .3 16.7 .3 1.1 .3-14.1 .3-4.9 .4-17.3 .3 30 .3-7.4 .3-33.5 .3 29.7 .3 9.3 .3-19.5 .3-8 .4 35.7 .3-19.7 .3 17.8 .3-13.7 .3 9.6 .3-8.9 .3 11.2 .3-6.6 .3-13.4 .4 22.5 .3-16.3 .3 12.5 .3 2.7 .3-22.9 .3-5 .3 16.8 .3-4.8 .4-24 .3 42.2 .3-9.8 .3-5.7 .3-17.4 .3 15.2 .3 5.2 .3 6.1 .4-14.9 .3-10.1 .3 19.3 .3 .3 .3-31.3 .3 38.1 .3 2.6 .3-14.2 .4 9.2 .3 7.4 .3-4.9 .3-14.3 .3 7.5 .3 11.7 .3-8.9 .3-.8 .3-15.1 .4 12.9 .3 11.5 .3-12.2 .3-16.9 .3-14.3 .3 5.9 .3 18.5 .3 11.3 .4 8.1 .3-22.7 .3-6.7 .3-.1 .3 18.6 .3-19.7 .3-8 .3 34.8 .4-27 .3 28.6 .3-34.1 .3-13.7 .3 6.6 .3 32.3 .3-3.4 .3-23.6 .4 31.1 .3-8.7 .3 12.1 .3 3.6 .3-1.1 .3-14.3 .3 9.4 .3 2.1 .4 3.9 .3-1.6 .3-28.6 .3 21.5 .3-19.4 .3 27.3 .3-33.5 .3 2.8 .3 21.6 .4-42.4 .3 52.3 .3-8 .3-26.5 .3 3.3 .3-33.5 .3 47 .3 4.7 .4 1.3 .3-6.2 .3 15 .3-2.1 .3 4.2 .3-24.3 .3 25.1 .3-20.3 .4 13.4 .3 2.5 .3-48.7 .3 18.5 .3 17.6 .3 5.5 .3 .3 .3 1 .4-21 .3 13.7 .3-5.5 .3 23 .3-14.4 .3-.9 .3 6.5 .3-17.2 .3 15.7 .4 10.3 .3-2.4 .3-2.3 .3-42.6 .3 47.3 .3-1.7 .3-23.1 .3 13.6 .4-1.7 .3-2.2 .3-34.6 .3 33.7 .3-28.8 .3-8 .3 35.2 .3 11.6 .4-2 .3-2.7 .3 .5 .3 9.1 .3 .8 .3-35.7 .3 35.9 .3-15.6 .4 15.7 .3-8.2 .3-4.1 .3-5.3 .3 13.7 .3-.2 .3 4.1 .3-7.7 .3 7.6 .4-8.9 .3 2.9 .3 6.1 .3-11.3 .3-20 .3 11.8 .3 3.4 .3 .7 .4 14.5 .3-9.9 .3 7.3 .3-7.6 .3-13.3 .3 6 .3-12.5 .3 30.9 .4-27 .3 27 .3-37.4 .3-6.3 .3 7.1 .3 28.1 .3-1.7 .3-24.4 .4 30.9 .3-18.7 .3 14.2 .3 5.5 .3-18.4 .3 21.1 .3-4.7 .3 4.7 .3-12.6 .4-8.3 .3 4 .3 7.7 .3-15.7 .3 19.4 .3-35.6 .3 19.6 .3 12 .4-4.9 .3 6.6 .3 7.8 .3 0 .3-57.9 .3 57.1 .3-22.5 .3 8.9 .4-20.8 .3-1.2 .3 15.4 .3 3.2 .3-22.6 .3 40.4 .3-25 .3 22.3 .4-44.3 .3 47 .3-7.6 .3 .4 .3 3.4 .3-7.2 .3-7.8 .3-16.5 .3 33.7 .4 .3 .3-3.8 .3-17.1 .3-19.8 .3 35.2 .3-7.6 .3-6.5 .3 6.1 .4-9 .3 17.7 .3-9.4 .3-34.5 .3 32.8 .3 4.9 .3 .3 .3-17.6 .4 24 .3-5.2 .3-26.3 .3 7.9 .3 20 .3 9.2 .3-27.7 .3-.7 .4 23.4 .3-22 .3 15.2 .3 4.6 .3-39.6 .3 32.7 .3 11.4 .3-10 .4 12.6 .3 .1 .3-8.3 .3 7 .3-26 .3 27.3 .3-3.5 .3-6.7 .3-13.8 .4 9.3 .3-22 .3 32 .3 1.5 .3-1.6 .3-3.8 .3 5.5 .3-10.4 .4 10.4 .3-34.9 .3 6.6 .3 22 .3-28.7 .3 36.4 .3-3.9 .3 5.6 .4-26.4 .3 20.1 .3-22.5 .3-1.2 .3 25.3 .3 .7 .3 3.2 .3-43.5 .4 17.7 .3 18.6 .3 8 .3-39.6 .3 25 .3 14.3 .3-73.6 .3 57.7 .3-3.7 .4 19.9 .3 0 .3-18.3 .3 18.3 .3-16 .3 14.7 .3-65.2 .3 36.7 .4-40.6 .3 70.4 .3-19.2 .3 6.8 .3 12.1 .3-47.3 .3 26.9 .3 1.1 .4 18.9 .3 .7 .3-4.8 .3-25.6 .3 20.4 .3 4.9 .3-24.8 .3 29.1 .4 .8 .3-16.9 .3 6.1 .3-1.9 .3-58 .3 47.7 .3 12.1 .3 9.5 .3-22.3 .4 16.3 .3 1.8 .3-56.5 .3 60.2 .3-8 .3-29 .3-6.2 .3 11.2 .4 7.1 .3-27.9 .3 43.7 .3 11 .3-21.5 .3 21.5 .3-1.5 .3-34.4 .4 28.2 .3 .1 .3 2.6 .3-3 .3 8 .3-4.2 .3 4.2 .3-16 .4 6.9 .3-1.2 .3-1.1 .3-31.1 .3 42.5 .3-22.3 .3 16.1 .3-4.6 .3-5 .4 15.8 .3-2.5 .3-9.6 .3-17.6 .3 18.1 .3 11.6 .3-38.6 .3-20.4 .4 51.6 .3-2.8 .3 3 .3-1.7 .3 3.5 .3-32.3 .3 32.5 .3-2.1 .4 1.6 .3-10.1 .3 5.6 .3 9 .3-16.2 .3 17.4 .3-1.7 .3-14.2 .4 15.9 .3-9.9 .3-24.9 .3 12.6 .3-7.6 .3 17.8 .3 12 .3-6.9 .3 3.8 .4-18 .3 21.1 .3-35.5 .3 35.5 .3-33.7 .3 33.6 .3-27.9 .3-1.6 .4 29.6 .3 0 .3-40.3 .3 24.6 .3-38 .3 18.3 .3-9.1 .3 30.4 .4 5.2 .3 8.5 .3-34.1 .3 4 .3 21.6 .3-6.9 .3 12.7 .3-33.3 .4 31.4 .3-15.8 .3-20.9 .3 34.3 .3 7.4 .3-23.8 .3-8.1 .3 24 .3-7.6 .4 7.8 .3 2.3 .3 1.4 .3-20.7 .3-16.3 .3 38.2 .3 2 .3-10.2 .4-35.3 .3 46.3 .3-24.1 .3-35.7 .3 44.8 .3 15 .3-.9 .3-62.3 .4 48.4 .3-24.6 .3 24.2 .3 1.2 .3-1.1 .3-22.1 .3 16.4 .3-11.2 .4 30.2 .3 1.8 .3-16.8 .3-20.2 .3 37 .3-24 .3-5 .3 6.7 .4 15.4 .3-44.6 .3 51.5 .3-21.8 .3 17.6 .3-22.9 .3 3.2 .3 8.4 .3 10.3 .4-6.4 .3 7.3 .3-23.4 .3 26.3 .3-4.9 .3-23 .3 2.5 .3 11.5 .4 10.9 .3 2.2 .3-21.1 .3 .4 .3 5.1 .3 12.7 .3 1.5 .3-12.1 .4 .2 .3-1.2 .3 16.4 .3-23.2 .3 20.1 .3 3.4 .3-8.3 .3 8.3 .4-17 .3-12.3 .3-4.6 .3 17.3 .3 16.5 .3-32.5 .3 20.8 .3-18.1 .3 5.5 .4 6.4 .3-19.5 .3 20.8 .3 8.6 .3-12.7 .3-5 .3 25.2 .3 .6 .4-8.7 .3-12.5 .3 1.2 .3 .7 .3 10.3 .3 4.2 .3-6.4 .3-13.4 .4-7.5 .3 21.4 .3 10.7 .3-31.9 .3 22 .3-13 .3-2.4 .3 .7 .4 24.6 .3-1.3 .3-23.3 .3 18.9 .3 1 .3-26.5 .3 25.7 .3-6.5 .3 12 .4-11.7 .3 3.1 .3 8.6 .3-10.6 .3-28 .3 19.9 .3 18.7 .3-20.6 .4-11.1 .3 3.6 .3 7.8 .3 19.9 .3-22.7 .3 21.1 .3-39.2 .3 41.2 .4-29.9 .3 26.5 .3-22.3 .3 23.2 .3-19.5 .3 5.7 .3-10.3 .3-4.6 .4 20 .3-38.8 .3 33.3 .3-20.7 .3 20.5 .3-5.2 .3-21.9 .3 41.6 .3-37.9 .4 31.7 .3-35.1 .3-22.7 .3 60.1 .3-50.8 .3 45.5 .3-6.3 .3 17.9 .4-4.3 .3-7.9 .3-27.6 .3 11 .3 18 .3 5.9 .3-29 .3-5.1 .4-9 .3 26.8 .3-21.1 .3 42.3 .3 0 .3-36 .3 34.2 .3-2.5 .4-32.1 .3 6.2 .3 10.6 .3-13.7 .3-4.6 .3 12 .3 5.4 .3 20.5 .3-24.5 .4 23.9 .3-29.4 .3-9.4 .3 16.4 .3 23 .3-.7 .3-27.3 .3-5.8 .4 33.8 .3-1.3 .3-8.6 .3 1.6 .3 .2 .3 6 .3-3.6 .3-2.5 .4 8.2 .3-13.3 .3 13.3 .3-5.4 .3-51.1 .3 47.7 .3 4.9 .3-31 .4-16.6 .3 9 .3 14.9 .3 27.6 .3-61.2 .3 55 .3-21.9 .3 26.5 .4-60.2 .3 4 .3 34.8 .3 22.4 .3-29.9 .3 4.8 .3-11.3 .3 10.9 .3-8.5 .4 18.4 .3-9.2 .3 7.1 .3-6.8 .3 6.3 .3-9 .3 10.5 .3 17.3 .4-7.3 .3-12.4 .3 17.7 .3-44.5 .3 43.4 .3-3.2 .3-7.6 .3-15.4 .4-12.4 .3 37.7 .3-22.2 .3-6.7 .3-7.4 .3 39.6 .3-18.9 .3 19.6 .4-14.2 .3 10.2 .3-33.5 .3 31.3 .3 6.2 .3-4.9 .3 4.9 .3-18.3 .3-1 .4 13.7 .3 5.6 .3-60.5 .3 53.5 .3 6.4 .3-50.1 .3 50.7 .3-25.1 .4 11.3 .3-6 .3 10.8 .3 4.6 .3 4.4 .3-16.2 .3 5.8 .3-1.2 .4-15.4 .3 12 .3 4 .3-39.4 .3 39.9 .3-25.2 .3 4.7 .3 31 .4-33.8 .3 26 .3-5.9 .3-7.9 .3 21.6 .3-28 .3-5 .3 9 .3-10 .4 33.7 .3-10.5 .3 6.6 .3-41.9 .3 24 .3-21.6 .3 43.7 .3 0 .4-.4 .3-9 .3-25.4 .3 16 .3-2.1 .3 15.3 .3-6.2 .3-3.4 .4-.4 .3 9.6 .3-7.8 .3-7.2 .3 12.7 .3-13.3 .3 21.6 .3-1.9 .4-2.6 .3 1.9 .3 1.1 .3-43.7 .3 6.3 .3 22.1 .3 5.9 .3-20.7 .3 30 .4 1.6 .3-11.3 .3-26.3 .3 37 .3-27.2 .3 8 .3-12.5 .3 6.4 .4 10.5 .3 6.2 .3 9.2 .3-14.2 .3-1.4 .3-7.8 .3-22.4 .3 17.8 .4 3.4 .3-9.4 .3 30.1 .3-9.6 .3-35.6 .3-13.3 .3 44.3 .3-11.3 .4 .5 .3 2 .3 .3 .3-8.6 .3 12.7 .3-3.5 .3 22 .3-13.4 .3 17.4 .4-28 .3-5 .3 27 .3-26.8 .3-21.2 .3 9.5 .3 23.3 .3 21.2 .4-13.3 .3-38.8 .3 49 .3-28.4 .3 .3 .3 16.6 .3 9.5 .3-6 .4-3.4 .3 11.8 .3-18.3 .3 7.2 .3 13.8 .3-27.3 .3 7 .3-49.6 .4 61.5 .3-45 .3 45.2 .3 7.3 .3-18.5 .3 10.2 .3 1.2 .3-1.4 .4 9.4 .3-1 .3-11.9 .3-12.8 .3 25.7 .3-21.7 .3 8.7 .3 4.1 .3-.3 .4-55.9 .3 62.5 .3-21 .3-24.6 .3 48.2 .3-2.7 .3-21 .3-17.3 .4 36.9 .3-1.3 .3 5.4 .3-28 .3 2.3 .3 23.3 .3-39.4 .3 41.8 .4-42 .3 19.4 .3 22.6 .3-20.3 .3-4.2 .3-10.5 .3 32.1 .3-7.9 .4-24.3 .3 14.5 .3 18.5 .3 2.1 .3 0 .3-26.5 .3 13.5 .3 3.1 .3 9.9 .4-2.4 .3 0 .3-50.9 .3 40.3 .3 10.3 .3-.7 .3-8.9 .3 4.3 .4 .6 .3-14.9 .3-13.5 .3 35.8 .3-28.5 .3 26.3 .3-24.9 .3 6 .4 21.1 .3-33.5 .3 22 .3 7.5 .3-29.7 .3 13 .3-30.8 .3 44.8 .4 3.9 .3-26.4 .3-24.3 .3 22.5 .3-31.6 .3 24.6 .3 19.5 .3 12.6 .3-55.3 .4 61.2 .3-8 .3 8 .3-32.1 .3 23.4 .3 8.7 .3-4.9 .3-.8 .4-18 .3-7.7 .3 8.9 .3 2.6 .3-18.2 .3 32.1 .3-11.3 .3 17.3 .4-12.7 .3-41.2 .3 28.7 .3 25.2 .3-12.8 .3-21.9 .3-17.6 .3 33.6 .4 17.8 .3-11.3 .3-4.8 .3-1.9 .3-3.1 .3 6 .3-4.4 .3 20.4 .3-.4 .4-33.2 .3 13.8 .3 19.8 .3-8.3 .3-25.8 .3 17.5 .3-2.5 .3-9.2 .4 13 .3-13.9 .3 23.5 .3-17.3 .3 7.1 .3 15.9 .3-6.7 .3-28.1 .4 3.9 .3 10.7 .3 19.9 .3-20.3 .3 10.4 .3 10.2 .3-32.5 .3 23.2 .4-6.3 .3-14.4 .3 27.9 .3-9.8 .3-24.4 .3 36.3 .3-20.7 .3-.8 .3-25.2 .4-6.8 .3 53.5 .3-2.3 .3-23.4 .3 25.7 .3-9.7 .3-22.2 .3 30.7 .4-5.3 .3-2.8 .3 8.5 .3-31.8 .3-12.5 .3 22.4 .3 7 .3 8.4 .4 .6 .3-43 .3-18 .3 55.5 .3 7.8 .3-7.3 .3 6.4 .3 5.2 .4-27.2 .3 8.2 .3 19.1 .3 0 .3 0 .3-56.7 .3 54.1 .3 2.6 .4-22.3 .3 17.1 .3-4.6 .3-1.1 .3 10.9 .3-6.3 .3 6.3 .3-46.1 .3-37.5 .4 25.9 .3 39.7 .3 18 .3-42.3 .3 12.4 .3-2.2 .3-38.4 .3 66.1 .4-14.6 .3 19 .3-15.9 .3 15.9 .3-59.9 .3 36.6 .3-8.9 .3 29.2 .4-31 .3 34 .3-23.8 .3 13.9 .3-17.6 .3-5.7 .3-4.6 .3 1 .4 29.4 .3-19.3 .3-.4 .3 25.4 .3-9.6 .3 2 .3-24.9 .3 33.3 .3 .9 .4 0 .3 0 .3-1.1 .3-10.5 .3 11.6 .3-1.7 .3-12.5 .3 7.9 .4 6.3 .3-52.5 .3 43.9 .3 5.9 .3-17.8 .3 20.5 .3 0 .3-1.3 .4 1.3 .3-7.6 .3-36.2 .3-1.3 .3 7 .3 33.3 .3-8.4 .3 7.3 .4-5 .3-5.4 .3-13.3 .3 26 .3-70.1 .3 50.8 .3 21.1 .3-3.5 .3-5 .4 6.9 .3-31.4 .3 20.1 .3 0 .3-.4 .3 4.8 .3-37.9 .3 24.9 .4 21.5 .3-2.7 .3 3.1 .3 1 .3-31.9 .3 32.3 .3-.3 .3-1.6 .4-5.3 .3-33.8 .3 26.7 .3-6.5 .3 8.8 .3-11.1 .3 19.9 .3 1 .4-2.7 .3 4.2 .3-20.8 .3 17.8 .3-18.4 .3 15 .3-6.2 .3 12.8 .3-26.5 .4 26.6 .3-13.8 .3 14.2 .3-20.2 .3 8 .3 12.2 .3-8.6 .3-9.5 .4 18.1 .3-31 .3-2.9 .3 30.3 .3-3 .3 2.7 .3-19.6 .3 19.3 .4 1.6 .3-20.8 .3 23.4 .3-79.5 .3 77.4 .3-3 .3-25.3 .3 15.6 .4-47.7 .3 28.6 .3 2.1 .3 10.8 .3-11.8 .3 14.4 .3 6.7 .3 1.9 .3-1.6 .4 4.5 .3-1.2 .3 8.1 .3-2.7 .3 .9 .3-5.2 .3-3.3 .3-36.9 .4 44 .3-37.7 .3 32.3 .3-.9 .3 9.5 .3 0 .3 0 .3-37.8 .4 12.4 .3 5.9 .3-16.8 .3 28.1 .3 8.2 .3-18.5 .3 17.3 .3-14 .4-12.5 .3 27.7 .3-5.8 .3-42 .3 47.1 .3-16.4 .3-14.5 .3 12.4 .3-22.1 .4 31.3 .3-37.7 .3 37.6 .3 2.3 .3-9.5 .3-2.6 .3-13.4 .3-8.9 .4 37.2 .3-24.2 .3-38.2 .3 61.4 .3-10.1 .3 10.3 .3 5.8 .3-5.1 .4-7.7 .3 9.5 .3-2.8 .3-36.9 .3 27.8 .3-19.6 .3 34.8 .3-12.7 .4 7.1 .3-18.2 .3-2.9 .3 24.8 .3-23 .3-36.7 .3 54.6 .3-6.4 .4 2.8 .3-14 .3-37.2 .3 59.1 .3-1.1 .3-32.4 .3 36.2 .3-28.3 .3 28.3 .4-5.1 .3-3.4 .3 1.4 .3-7.7 .3-4.3 .3 11.2 .3 3.1 .3-9.6 .4 10.4 .3-26.4 .3 18.5 .3-14 .3 6.1 .3-5.7 .3 7.5 .3 17.7 .4-56 .3 41.2 .3-35.9 .3 7.2 .3 32.7 .3 11.1 .3-9.1 .3-10.3 .4 19.4 .3-25.3 .3 9.7 .3 3.7 .3-19.8 .3 25.9 .3 3.2 .3 2.6 .3-9.4 .4-7.3 .3 6.8 .3 9.9 .3-32.2 .3 20.3 .3-21.1 .3-15.4 .3 48.4 .4 0 .3-34.2 .3 .2 .3 29.5 .3-9.9 .3-2 .3 5.4 .3-7.2 .4 18.2 .3 0 .3-8.6 .3-44.1 .3 34.5 .3 14 .3 4.2 .3-6.6 .4-.2 .3-7 .3-4.2 .3 .3 .3 17.7 .3-5 .3-14.7 .3-16.6 .3 36.3 .4-19.5 .3-33.5 .3 53 .3-2.1 .3-4.7 .3-38.8 .3 24.2 .3 21 .4-16.4 .3 16.8 .3 0 .3-24.7 .3-9.4 .3 34.1 .3-38.6 .3 28.8 .4 8.9 .3-19 .3-46.5 .3 66.4 .3-26.8 .3 18.1 .3-37 .3 43.4 .4 2.3 .3-22.1 .3 2.5 .3 16.2 .3-2.5 .3-38.5 .3 19.3 .3 24.9 .3-24.1 .4 .6 .3 19.9 .3 3.7 .3-19.5 .3-32 .3 51.6 .3 0 .3-25.3 .4 11 .3 14.3 .3-7.4 .3-9.4 .3-26.7 .3 27.4 .3 4.5 .3 11.6 .4-7.4 .3 3.9 .3 3.5 .3-9.8 .3-40.3 .3 33.8 .3-20 .3 31.3 .4 .7 .3 2.1 .3-37.2 .3 11.8 .3 14.8 .3-3.1 .3-13.4 .3 11.8 .3-62.7 .4 76 .3-26.4 .3 4 .3 16.3 .3 10.3 .3-3.1 .3-41.3 .3 30.6 .4 .9 .3-25.1 .3 24.7 .3-24.4 .3 37.7 .3-40.8 .3-14.3 .3 33.3 .4 9.6 .3-29.3 .3 31.5 .3-18.7 .3 5.1 .3 23.6 .3-28.6 .3 3.9 .4 18.6 .3-15.4 .3 18.1 .3-9.8 .3-26.8 .3 10.3 .3-4.6 .3 5.6 .4-10.2 .3 10.4 .3 24 .3 4.5 .3-24.8 .3-13.5 .3 12.8 .3 25.5 .3-27.2 .4 9.6 .3 5.4 .3-1.3 .3 9.9 .3 3.6 .3-31.3 .3 27 .3-7.4 .4-12.3 .3 19.5 .3 4.5 .3-.4 .3-7.8 .3-15.1 .3 19.6 .3-4.5 .4-15.2 .3 3.4 .3-7.9 .3 15.4 .3 4 .3 .5 .3-.6 .3-26.6 .4 12.3 .3 15.1 .3-20.8 .3-17.9 .3 36.5 .3-17.4 .3 22 .3-6.9 .3-22.8 .4 29.9 .3-27.4 .3 5.7 .3 19.6 .3-33.1 .3 21.8 .3 6.6 .3-46.9 .4 24.8 .3 17.4 .3-24.4 .3 17.4 .3 22.8 .3-2 .3-39.7 .3 31.6 .4-66.7 .3 45.1 .3 12.8 .3 3.1 .3 8.4 .3 5.8 .3-10.5 .3 11.8 .4-19.7 .3-12.7 .3 26.9 .3 6.7 .3-15" stroke="#0072BD"/>
<path d="M82.8 253.6l.3 105.8 .3 44.6 .3-3.8 .3 .5 .4-14.3 .3-7 .3 24.7 .3-3.6 .3-26.7 .3 24 .3-16.1 .3 14.1 .4-8.1 .3-4.7 .3 18 .3-22.8 .3 .5 .3 12.6 .3 3.2 .3-25.8 .4 20.7 .3 .5 .3-9 .3-18.3 .3 15.9 .3 1.1 .3 6 .3 2 .4 4.6 .3 8.5 .3 5 .3-4 .3-7.3 .3-1.9 .3-27.9 .3 41.5 .3-1.5 .4-43.6 .3 14.3 .3 16.9 .3-13.3 .3 25.3 .3-22 .3 16.8 .3-1.3 .4-.7 .3 9.1 .3-10.1 .3 2.8 .3 3.4 .3-1.2 .3-11.2 .3 16.3 .4 0 .3-43 .3 43 .3-17.1 .3 17.1 .3-7.9 .3 0 .3-9.8 .4 17.7 .3-11.9 .3 4.9 .3-21.4 .3 28.4 .3-26.2 .3 23.5 .3-16.1 .3 6.7 .4 12.1 .3-66.4 .3 48.6 .3-4.7 .3 20.7 .3-16.8 .3-8.4 .3 8.4 .4 11.6 .3-10.5 .3 10.7 .3 6 .3-4.7 .3 4.6 .3-27.2 .3-6.3 .4 34.4 .3-42.6 .3 20.4 .3 8.5 .3-10.6 .3 22.6 .3-6.3 .3 8 .4-23.2 .3 7.1 .3 7.2 .3 4.1 .3-3.9 .3 3.9 .3 4.7 .3 .1 .4-37.8 .3 30.7 .3 .9 .3 0 .3 3.5 .3-25 .3 14.3 .3 11.6 .3 1.8 .4 0 .3 0 .3-20.6 .3 18.1 .3-42.6 .3 45.1 .3-36.9 .3 30.7 .4-7.5 .3 9.9 .3-6 .3 1.6 .3 4 .3-3.7 .3 .4 .3-27.4 .4 22.8 .3 4.9 .3-21.8 .3 18.2 .3-21 .3 24.8 .3-20.1 .3-19.5 .4 4.2 .3 15.5 .3 11.3 .3-29.3 .3 41.2 .3-29.1 .3 8.3 .3-17.3 .3 30.6 .4-17.6 .3 4 .3 10.2 .3-28.8 .3 43.4 .3-3.4 .3-2.9 .3-5.5 .4-.7 .3-9.5 .3-11.3 .3 6.8 .3 21.7 .3-1.2 .3-33.9 .3 33.2 .4 5.1 .3-27.3 .3 18.3 .3-13.6 .3 2.4 .3 20.9 .3-9.9 .3-7.7 .4 18.5 .3-36.8 .3-13.9 .3 28.6 .3-10.6 .3 27.3 .3-9.3 .3 10.6 .3-19 .4 10.7 .3-2.1 .3 13.8 .3 .3 .3 .4 .3-23.8 .3-3.6 .3 20.2 .4-4.5 .3-18.4 .3-9.7 .3 30.6 .3 9.2 .3-1.3 .3 1.3 .3-23.5 .4-48.7 .3 48.4 .3 14.8 .3-26.5 .3 27 .3-26.4 .3 34.9 .3-9.9 .4-.4 .3-32.3 .3 42.6 .3-30.9 .3 16.3 .3 7.3 .3-2.9 .3 10.2 .3-1 .4 1 .3-21.7 .3-16 .3 17.6 .3 19.1 .3-.6 .3-8.2 .3-41.9 .4 20 .3 .3 .3 12.9 .3 10.9 .3-29.2 .3 25.2 .3 4.2 .3 4.1 .4 3.3 .3-14.4 .3 1.6 .3 12.8 .3-2.5 .3 1.2 .3-39.4 .3 40.7 .4 0 .3-15.1 .3-6.3 .3-3.6 .3-16 .3 17.3 .3 13.3 .3-17.9 .3-.2 .4 28.5 .3-38.3 .3 34.6 .3-38 .3 21.1 .3-12.1 .3 25.2 .3-21.3 .4 7.8 .3 14.6 .3 6.4 .3-2.5 .3-22.8 .3-26.1 .3 50.9 .3-28.1 .4 21.8 .3-2.7 .3-13.1 .3 4.5 .3 13.2 .3-16.8 .3 4.2 .3 5.1 .4 12.4 .3 0 .3-6.5 .3 6.5 .3-22.7 .3-54.4 .3 47.7 .3 27.6 .4-.5 .3-19.8 .3 20.7 .3-19.8 .3 21.2 .3-27 .3-24.9 .3 51.5 .3-5.3 .4-17.6 .3 15.5 .3 4.6 .3-3.7 .3-19.4 .3-6.4 .3 21.7 .3 7.2 .4-22.1 .3 23.6 .3-4.6 .3-8.8 .3-22 .3 34.9 .3-7 .3-26.2 .4 8.4 .3 5.5 .3-22.7 .3 41.9 .3 1.6 .3-2.5 .3-12.8 .3-33.5 .4 10.9 .3 10.4 .3 28.8 .3-21 .3 3.4 .3-.3 .3 .2 .3-12.8 .3 5.5 .4-21.1 .3 22.3 .3 22.7 .3-18.5 .3-30.5 .3-12.3 .3 62.4 .3-10.6 .4-27.2 .3 33.6 .3 4.2 .3-12.6 .3-1.2 .3 9.4 .3-10 .3 5 .4 9.4 .3-8.3 .3-27.9 .3-1.2 .3 14.5 .3 6.2 .3 .6 .3 8.5 .4-30.3 .3 24.8 .3-8 .3 21.1 .3 0 .3-3.5 .3-20 .3-3.4 .3 17.9 .4 5.6 .3-36.9 .3 26.6 .3 13.7 .3-16.6 .3 8.7 .3-15.2 .3 23.1 .4-17.9 .3-55 .3 43.5 .3-8.5 .3 36 .3-.5 .3-28.4 .3 30.8 .4-28.9 .3-27.8 .3 54.8 .3-2.9 .3 .1 .3-29.3 .3 23.3 .3 7 .4-32.7 .3 13.1 .3 6.2 .3-10.5 .3 22.5 .3-4.3 .3 9.4 .3-30.9 .3 29.6 .4-4.9 .3-5.7 .3 11.9 .3-48.6 .3 48.6 .3-32.1 .3-14.4 .3 28.9 .4 17.6 .3-32.8 .3 20.9 .3 11.9 .3-32.5 .3 30.4 .3-3.1 .3-25.9 .4 31.1 .3-23.3 .3 21.6 .3-4.4 .3-5.6 .3 8.5 .3-17.6 .3 16 .4-18.6 .3 14.9 .3-9.3 .3 1.6 .3 2.2 .3 7 .3-24.5 .3 30.6 .3-25.6 .4-3.2 .3 29.7 .3-12.5 .3 8.2 .3-19.2 .3 23.5 .3-11.2 .3 11.2 .4 0 .3-5.2 .3-2.3 .3-20.1 .3 13.8 .3 9.1 .3-3.2 .3 7.9 .4-65.8 .3 40.6 .3 25.2 .3-14.8 .3-16.4 .3 26.1 .3-37.8 .3 42.9 .4 0 .3-52.7 .3 7.5 .3 8.2 .3 37 .3-20.6 .3 17.1 .3 3.1 .3-25.7 .4 26.1 .3-24.1 .3 24.1 .3-6.5 .3 5.1 .3-7.6 .3 9 .3-32.5 .4 5.7 .3-13.2 .3 40 .3-41.2 .3 17.1 .3-7.4 .3 1.9 .3 14.8 .4 14.8 .3-66.7 .3 55.2 .3-1 .3-24.4 .3-13.6 .3 20.5 .3 27.9 .4-25.5 .3-38.2 .3 31 .3-.8 .3-21.6 .3 56.7 .3-24.5 .3-13.1 .4 29.4 .3 2.1 .3 6.6 .3 0 .3-10.8 .3-14.6 .3 25.4 .3-17.2 .3-33.5 .4 29.1 .3-.6 .3 11.3 .3-36.2 .3 45.3 .3-25 .3 24.7 .3-20 .4 11.5 .3-5.1 .3 7.4 .3 0 .3-26.4 .3 8.2 .3 17 .3-12.2 .4-17.3 .3 14.4 .3-47.4 .3 59.6 .3 .5 .3 11.9 .3-20.7 .3 15.8 .4-11.7 .3 16.6 .3-4 .3 1.9 .3 2.1 .3-39.1 .3-15.6 .3 52 .3-35.2 .4 10 .3 27.9 .3-4.5 .3-13.5 .3 1.7 .3-55.1 .3 71.4 .3-5.5 .4-20.4 .3 13.3 .3 12.6 .3-9.7 .3 8.9 .3 .8 .3-5.9 .3-13.1 .4-22.6 .3 24.5 .3 17.1 .3-1.1 .3-10.2 .3-2.1 .3-12.7 .3-12 .4 23.5 .3 10.2 .3-17.7 .3-9.1 .3 31 .3-12.7 .3-1.1 .3-9.4 .3-9.3 .4-10.7 .3 37.1 .3-30.6 .3 10.9 .3 26 .3-30.2 .3 30.2 .3-30.7 .4 26.2 .3-6.5 .3-13.7 .3 21.6 .3-3.1 .3 2.7 .3-6.8 .3-5.4 .4 .4 .3 15.1 .3-14.4 .3 14.6 .3-7.6 .3-19.6 .3 27.2 .3 0 .4-42 .3-29.5 .3 47.7 .3-43.7 .3 67.5 .3-9 .3-5.5 .3 10.2 .3-13.4 .4-26.4 .3 39 .3 3.7 .3-23.2 .3 16.5 .3 .4 .3 1 .3 4.5 .4-.3 .3-14.3 .3-13.4 .3 8.5 .3-3.1 .3 20.1 .3 4.7 .3 0 .4-6 .3 6 .3-10.1 .3-29.2 .3 23.3 .3-6.3 .3 21.1 .3-14.6 .4 15.8 .3-69.8 .3 37.1 .3 17.5 .3 15.2 .3-32.6 .3 30.7 .3-31.8 .3 6.9 .4 6.8 .3 19.4 .3-19.1 .3 6.4 .3 5.9 .3-1.7 .3 8.3 .3-2.8 .4-17.2 .3 20.8 .3-24.7 .3-12.6 .3-5.7 .3 35 .3-12.5 .3-1 .4 21.5 .3-1 .3-32.7 .3 23.2 .3-4.4 .3 13.9 .3-35.3 .3 13.9 .4 6.2 .3 9.9 .3-13.7 .3 10 .3-18.6 .3 25.6 .3 .1 .3 2.9 .4-25.6 .3-11.1 .3-12.1 .3 47 .3 1.8 .3-39 .3 34.3 .3-5 .3 9.7 .4-17.8 .3 10 .3-17.9 .3 24 .3-40.4 .3 23.3 .3 2.4 .3-16.7 .4 19.8 .3 3.8 .3-.1 .3-.1 .3-26.6 .3 9.7 .3 26.1 .3-1.2 .4-1.1 .3-2.4 .3-2.3 .3-12.7 .3 12.2 .3 3.2 .3 4.5 .3-8.7 .4 7.7 .3-52.5 .3 47.6 .3 3 .3 1.7 .3-4.8 .3-38.4 .3-16.4 .3 60 .4-.7 .3-40.2 .3 27.8 .3 5.4 .3 5.9 .3-2 .3-28.1 .3 31.4 .4-15 .3-18.3 .3 28.5 .3 6.4 .3-61.3 .3 57.5 .3 3.8 .3-6.7 .4 4.2 .3-2.8 .3 1.7 .3-5.8 .3 9.4 .3-7.8 .3-1.9 .3-5.3 .4-5.4 .3 14.4 .3-7.1 .3 10.8 .3 2.3 .3-27 .3-18.3 .3 36.4 .3-74.9 .4 41.6 .3 3.2 .3-.9 .3 31.8 .3-33.8 .3 3.9 .3 20.3 .3-10.7 .4-3.8 .3 15.4 .3 12.5 .3 4.3 .3-4.2 .3-4 .3-3.3 .3 11.1 .4-37 .3 1.3 .3-32 .3 38 .3 19.5 .3 10.6 .3-8.5 .3 4.1 .4 4.4 .3-2.1 .3-21.9 .3 4.5 .3 9.3 .3-22.6 .3 32.8 .3-13.6 .3 5.2 .4-12.1 .3 1 .3 17.2 .3-32.7 .3 13.5 .3 4 .3 16.4 .3-26.2 .4-33.5 .3 21.4 .3 32.7 .3-7.5 .3 1.7 .3 5.4 .3-20.7 .3 13 .4-12.8 .3 14.2 .3-8.6 .3 17.5 .3 2.7 .3-4.7 .3-28 .3-1.6 .4 18.5 .3 17.6 .3-7.8 .3-1.2 .3 .7 .3 8.3 .3-34.7 .3 30.4 .3-1 .4-66.6 .3 69.8 .3-.2 .3-15.6 .3 .2 .3 5 .3-12.1 .3-22.8 .4 20.2 .3 13.9 .3 9.9 .3-27.6 .3 14.8 .3 10 .3-4.5 .3 10.9 .4-1.3 .3-10.3 .3-20.6 .3-48 .3 61.3 .3-6.3 .3 24.1 .3-2.8 .4-51.9 .3 51.5 .3-3.1 .3 7.4 .3-12.7 .3 12.7 .3-12.7 .3-15.8 .4 28.5 .3-33.6 .3 11.3 .3 9.9 .3-21.2 .3 25.9 .3-17.8 .3-29.1 .3 53.9 .4-28.1 .3-3.1 .3 24.1 .3-20.8 .3-6.2 .3 10.5 .3 14 .3 10.3 .4-30.4 .3-27.1 .3 45 .3 8.2 .3-4.3 .3-50.6 .3 2.3 .3 49 .4 2 .3-24.6 .3 3.9 .3 16 .3-22.3 .3 19.4 .3 7 .3-24.7 .4 15.8 .3 .5 .3-2.2 .3-13.1 .3 18.2 .3-32.1 .3 43.1 .3-9.2 .3 9.9 .4-7.8 .3 8.1 .3-44 .3 39.9 .3 3.1 .3-17.8 .3-13 .3 7.5 .4 15.6 .3-32.8 .3 9.6 .3 22.6 .3 3.3 .3 6 .3-25.4 .3-.3 .4-.2 .3 10.8 .3-24.1 .3-1.9 .3 40 .3-20.3 .3 13.1 .3 8.2 .4-33.8 .3 10.2 .3-2.7 .3 6.7 .3 18.4 .3-12.7 .3-17.9 .3 9.9 .3 11 .4-26.7 .3 17.9 .3 17.9 .3-57.4 .3 36.3 .3 23 .3-11.7 .3-37.8 .4 49.5 .3-3.2 .3-22.3 .3 1.5 .3 10.2 .3 1.1 .3 10.6 .3-3.6 .4 3.7 .3-20.7 .3-9.7 .3 31.1 .3-.8 .3-36.5 .3 36.9 .3-2.7 .4-13.5 .3 10.9 .3 .7 .3-6.5 .3 5.1 .3 7.7 .3-11.3 .3-15.6 .3 7.3 .4 14.8 .3-42.3 .3 11.9 .3 28.5 .3-6.1 .3-49.5 .3 49.6 .3 1.7 .4 3.8 .3 7.2 .3-17.4 .3 5.1 .3-5.9 .3-11.1 .3 25.4 .3-17.6 .4-1.1 .3 22.1 .3-16.3 .3 6.1 .3 5.3 .3-34.4 .3 34.1 .3-31.2 .4 36.9 .3-64.5 .3 64.5 .3-15.2 .3 6.5 .3-19.3 .3 3.2 .3-13.3 .3-1 .4 10.8 .3 11 .3 6.1 .3 11.2 .3-.6 .3-62 .3 50.9 .3 9.1 .4-20.7 .3 2 .3 16.2 .3-21.3 .3 16.4 .3 5.6 .3-22.9 .3 9.9 .4 7.9 .3-29.9 .3 28.8 .3-1.6 .3 10 .3-41.1 .3 40.7 .3 1.8 .4-5.6 .3-13.3 .3 19.7 .3-13.7 .3-45.7 .3 15.4 .3 28.5 .3 7.7 .4 7.8 .3-35.8 .3 24.1 .3-5 .3 16.7 .3-9.8 .3-27.1 .3 36.9 .3-5.3 .4-21.2 .3-16.3 .3 32.4 .3-15.6 .3 8.9 .3 2.8 .3 14.3 .3 0 .4-3.7 .3 2.6 .3-32.4 .3-7.8 .3 26.6 .3-1.3 .3 10 .3-19.6 .4 14.1 .3 11.5 .3-18.7 .3-26.5 .3-22.8 .3 37.8 .3 30.2 .3-22.4 .4-10.8 .3 22.5 .3-39.7 .3 15.9 .3-13.7 .3 48.2 .3-3.5 .3-.8 .3-25.5 .4-3.4 .3 33.2 .3-1.7 .3-1.4 .3-4.9 .3-23 .3 29 .3-2.7 .4 2.9 .3-8.6 .3 4 .3 2.3 .3 4.1 .3-32.3 .3 5.3 .3-7 .4 34 .3-14.9 .3 7.1 .3-9.8 .3 12.8 .3-6.9 .3 11.7 .3-3.9 .4-6 .3-25.5 .3 15 .3-2.7 .3-18.1 .3 37.3 .3-1.9 .3 5.4 .3-9.2 .4-6.1 .3-3 .3 13 .3-32.7 .3 37.4 .3 1 .3-1.5 .3 1.5 .4 0 .3-36.9 .3-22 .3 32.2 .3 24 .3-12.2 .3-5 .3 7.3 .4 4.8 .3-52.7 .3 47.1 .3 13.4 .3 0 .3 0 .3-2.6 .3-55.7 .4 57.5 .3-17.6 .3 9 .3 4 .3 1.5 .3 3.9 .3-19.7 .3 2.3 .3 9.2 .4-7.8 .3 7.6 .3-5 .3 8.9 .3-59.2 .3 42.3 .3 21.4 .3-3.3 .4-24.1 .3 20.8 .3-15.3 .3 14.8 .3-3.7 .3 4.7 .3 1.8 .3-31 .4 22.7 .3 1 .3 7.7 .3-.4 .3-66 .3 59.7 .3-39.4 .3 37.4 .4-25 .3 27.6 .3 10 .3-20.7 .3 7.5 .3-32 .3 43.9 .3-13.7 .3-10.7 .4 .9 .3 6.6 .3 13.4 .3 4.8 .3-16.9 .3-22.9 .3 39.8 .3-46.7 .4 46.7 .3-2.6 .3 2.6 .3-26.8 .3 4.5 .3 18.4 .3 2.8 .3-15.2 .4-1.6 .3-27.7 .3 35.9 .3-.5 .3 9.1 .3-12.6 .3-4.1 .3-4.7 .4 22.5 .3-2 .3-.1 .3 2.1 .3 0 .3-58 .3 40.3 .3 17.1 .3-16.6 .4-16.6 .3 14.5 .3-30.1 .3 49.4 .3-10.5 .3 2.2 .3-1.9 .3-25.9 .4 36.1 .3 0 .3-28.8 .3-15.2 .3 10 .3 34 .3 0 .3-46.6 .4-17.6 .3 64.2 .3-8 .3-13.3 .3-7.7 .3 27.2 .3-19.4 .3 9.2 .4-53.2 .3 35 .3 26.2 .3-15.4 .3-34.4 .3 12.2 .3 41.6 .3-83.8 .4 70.3 .3-12.9 .3-46.5 .3 53.6 .3 19.3 .3-37 .3 30.6 .3 6.4 .3-2.2 .4-22.1 .3 20.1 .3 4 .3-30.8 .3 18.8 .3 12.2 .3-48.8 .3 48.8 .4 0 .3-8.8 .3-10.1 .3 18.9 .3-10.8 .3-31.8 .3-4.8 .3 43.4 .4-15.4 .3-10.5 .3 15.7 .3-61.4 .3 75.6 .3-25.5 .3-1.1 .3 26.6 .4-29.1 .3 17.6 .3 5.4 .3-59.7 .3 46.2 .3 19.6 .3-7.9 .3 7.9 .3-36.2 .4 23.8 .3 11.8 .3-13.1 .3-19.9 .3 33.6 .3-23 .3 7.9 .3 7.9 .4-11.5 .3-6.5 .3 2.7 .3 3.7 .3 14.6 .3 4.2 .3-17.1 .3-10.4 .4 15.3 .3 4.8 .3-13.2 .3 20.6 .3-23.3 .3-6.3 .3 29.6 .3-18.9 .4 17.3 .3-16 .3 7.1 .3 10.5 .3-1.5 .3-16.4 .3-8.1 .3-.2 .3-19.6 .4 2.4 .3 38.6 .3 4.8 .3-11.4 .3-3.3 .3 14.7 .3 0 .3-27.8 .4 24.6 .3 3.2 .3-11.5 .3-17.4 .3 28.9 .3-4.2 .3 3.1 .3-18.9 .4-20.3 .3 23.5 .3 16.8 .3 0 .3-15.9 .3-24.7 .3 40.6 .3-5.6 .4-25 .3 5.3 .3 12.9 .3 8.7 .3 3.7 .3-6.1 .3 .5 .3-41.8 .3 36.7 .4 10.7 .3-29.3 .3 8.5 .3 20.8 .3-10 .3-12 .3 22 .3-17.3 .4 .7 .3 15 .3-34.8 .3 20.4 .3-6.8 .3-10.8 .3 29.2 .3-3.2 .4-9.4 .3 17 .3 0 .3-15.3 .3-7.4 .3-14.6 .3 21 .3-55.4 .4 57.2 .3 14.5 .3-34.7 .3 34.7 .3-39.7 .3 23.7 .3 10 .3-37 .3 14.9 .4-8 .3 35.4 .3-20.9 .3 17.7 .3-21.4 .3 9.2 .3 14.9 .3-58.8 .4 46.2 .3 5.1 .3-52.2 .3 31.1 .3-8.9 .3 38.7 .3-29.5 .3-9.5 .4-5.8 .3 19.9 .3 .9 .3 24 .3-8.8 .3 .7 .3 .4 .3 7.7 .4-18 .3 12.3 .3 5.7 .3-22.5 .3-24.2 .3 17.3 .3 12.5 .3 1.9 .4 8.3 .3-4.4 .3-9.4 .3-15.4 .3 18.5 .3-58 .3 67.2 .3-8.3 .3-14.8 .4-30.3 .3 19.2 .3 42.4 .3-18.3 .3-15.3 .3 33.4 .3-5.1 .3 5.3 .4-20.7 .3 20.7 .3-27.4 .3 9 .3-22.6 .3 26.8 .3-17.5 .3 27.5 .4 .1 .3 3.5 .3-25.5 .3 26.1 .3-47.1 .3 42.7 .3-73.4 .3 27.9 .4 8.8 .3 14.9 .3 19.8 .3 6.4 .3 0 .3-25.1 .3 10.2 .3-3 .3 6.9 .4 9.6 .3-3.4 .3 .3 .3-13.9 .3-3.4 .3 21.8 .3-12.7 .3-8.7 .4-9.9 .3 28.8 .3-18.9 .3 21.4 .3-21.3 .3 7.4 .3-7 .3-4.8 .4 2.9 .3 22.8 .3-48.2 .3 48.2 .3-32.3 .3-7.2 .3 7.9 .3 .7 .4 12.6 .3-3.4 .3-22.4 .3 33.8 .3 10.3" stroke="#D95319"/>
<path d="M82.8 323.4l.3 80.1 .3-7.6 .3-35.1 .3 3.5 .4 34.4 .3-4 .3 5.9 .3 5.3 .3-.2 .3 .4 .3-35.7 .3 27.9 .4-20.3 .3 8.1 .3-.8 .3-30.8 .3 23.2 .3-9.1 .3 37.5 .3-4.3 .4-12.7 .3 5.2 .3 11.8 .3-31.3 .3 18.6 .3-19.8 .3-5.1 .3 33.3 .4 4.3 .3-4.4 .3 4.4 .3-10.6 .3 .4 .3-23 .3-8.6 .3 29.3 .3 6 .4-8.2 .3 6.3 .3 8.4 .3-15.9 .3-5.5 .3 17.3 .3-7.7 .3-15.5 .4 1.3 .3 26 .3-14.8 .3-14.6 .3 29.4 .3-.2 .3-14.9 .3 14.8 .4-21.3 .3 19 .3-2.8 .3 5.2 .3-7.5 .3-20.8 .3 12 .3 1.7 .4-21.2 .3 1.8 .3 2.7 .3-21.2 .3 35.4 .3-35.8 .3 53.1 .3-15.2 .3-15.4 .4 18.6 .3 10.1 .3-12.5 .3-19.3 .3 29.7 .3-9.5 .3 13.5 .3 0 .4-27.4 .3 25.9 .3 1.5 .3-3.9 .3-8.4 .3 9.6 .3-9.6 .3 12.3 .4-24.3 .3 8.9 .3 15.4 .3-4.6 .3-1.6 .3-18.1 .3 18.6 .3-12.8 .4-26.6 .3 28.1 .3-5.1 .3-9.3 .3 18.8 .3 7.6 .3 1.9 .3 3.1 .4-28.6 .3 2.7 .3 2 .3 21.3 .3-.5 .3-25.3 .3 16.4 .3 12 .3-6.8 .4-51.1 .3 28.8 .3 5.7 .3 17.6 .3-19.5 .3-1.7 .3 23.8 .3 3.2 .4-5 .3 5 .3-56.1 .3 52.6 .3 .8 .3 1.9 .3-2 .3-23 .4-14.4 .3 29.9 .3 9.2 .3-14.4 .3-5.4 .3 1.5 .3 13.6 .3 5.8 .4-36.9 .3 27.1 .3 5.7 .3 4.1 .3-30.2 .3 25.1 .3 5.1 .3-14.3 .3-22.7 .4 24.9 .3 4.2 .3 7.8 .3-11.9 .3-6.2 .3 1.6 .3 16.6 .3-13 .4 2.9 .3-21.7 .3 17.9 .3 9.5 .3-19.4 .3 14.6 .3 4.5 .3 3.6 .4 1.1 .3-20.3 .3 12.6 .3 7.7 .3 0 .3 0 .3-21.8 .3 11.3 .4-4 .3-6.3 .3-10 .3 27.7 .3-31.2 .3 30.3 .3 .1 .3-25.1 .3 28.7 .4-7.7 .3 8 .3-6.8 .3 4.1 .3-21.9 .3 24.6 .3 0 .3 0 .4-11.5 .3 9.6 .3-1.3 .3-34.7 .3 16.4 .3 21.5 .3-19.6 .3 12.1 .4 3.1 .3-11.5 .3-38.8 .3 52.4 .3 2.3 .3-5 .3 5 .3-5.6 .4-16.9 .3 1.8 .3 20.7 .3-27.2 .3 18.8 .3 6.4 .3-9.8 .3-30.5 .3 13.8 .4 14.3 .3 14.2 .3-41.1 .3 27.2 .3-7.7 .3 14.1 .3-26.5 .3 24.3 .4-36.3 .3 44.3 .3-11.9 .3-21.1 .3 15.3 .3-10.7 .3-14 .3 21.7 .4-4 .3-11.3 .3 22.2 .3 8.3 .3 5.8 .3-12.8 .3 7.5 .3-17.3 .4-22.5 .3 35.5 .3-6.3 .3 8.1 .3-10.5 .3 17.7 .3-5 .3 5.3 .3 1.7 .4-32.3 .3 29.7 .3 2.6 .3-2 .3-6 .3-.8 .3-3.5 .3 .3 .4 7.2 .3-11.3 .3 .9 .3-2.1 .3-2.6 .3 19.9 .3-20.7 .3-37.7 .4 43.4 .3 .3 .3 2.5 .3 5.4 .3-46.5 .3 53.3 .3-19.9 .3 11.3 .4-27.1 .3 17.5 .3 18.2 .3 0 .3-23.7 .3 9.7 .3-3.5 .3 17.5 .4-.3 .3-27.3 .3 17.1 .3-3.5 .3 9.9 .3-15.4 .3 17.8 .3 1.7 .3 0 .4-6.7 .3 1.6 .3 5.1 .3 0 .3-28.5 .3 28.5 .3-51.3 .3-1.2 .4 47.7 .3 2.2 .3-28.5 .3 20.4 .3-10.9 .3 16.9 .3-.5 .3-17.9 .4 15.7 .3 4.2 .3 3.2 .3-19.5 .3 .7 .3-13.3 .3 27.3 .3 1.5 .4-9.9 .3 9.6 .3-7.1 .3-10 .3-21.4 .3 36 .3-7.3 .3-19.9 .3-11.5 .4 38.6 .3-19.1 .3 3.7 .3-15.9 .3 30.4 .3 5 .3-3 .3-19.3 .4-30 .3 48.4 .3 1.4 .3 4.6 .3-35.8 .3 26.1 .3 9.4 .3-18 .4 13.6 .3 .4 .3-.2 .3-5.3 .3-47.7 .3 47.4 .3-1.4 .3 1.1 .4-56.2 .3 44.2 .3 11.9 .3-42.2 .3 39.2 .3 1.1 .3 4.9 .3 5 .3-8 .4 10.4 .3-5.3 .3-5.4 .3-4.3 .3-24.1 .3 20.9 .3 6.3 .3 12 .4-18.8 .3-1.5 .3-28.9 .3 46.7 .3-28.2 .3 15.1 .3-5.6 .3 15.6 .4 5.3 .3-12.1 .3-5.2 .3-22.8 .3 14.4 .3 26 .3-.5 .3-13.3 .4-27.6 .3 1.1 .3 29.5 .3 10.8 .3-24.9 .3 9.4 .3 7 .3 8.5 .3-39.6 .4 38.6 .3 1 .3-27.2 .3-23 .3 6.7 .3 32.4 .3 5.8 .3-30.3 .4 12.2 .3 16.6 .3 5.5 .3-13.8 .3-17.1 .3 32.2 .3-1.4 .3-8.8 .4-56 .3 66.2 .3-5.8 .3 5.8 .3-.3 .3-3.8 .3 4.1 .3 0 .4 0 .3-7 .3-1.4 .3-11.8 .3-17.6 .3 37.1 .3-6.3 .3-20.5 .3 21.1 .4-22.4 .3 28.8 .3-17.8 .3-52.5 .3 66.1 .3 4.2 .3-10.9 .3-36.1 .4 47 .3 0 .3-12.8 .3 12.8 .3 0 .3-14.6 .3 5.1 .3-5.3 .4 7.2 .3-22.6 .3 10.5 .3 5.3 .3-21.9 .3 24.3 .3 10 .3-27.8 .4 25.3 .3 4.5 .3-.7 .3-23.7 .3 11.3 .3-21.2 .3 30.2 .3 .6 .3-3.1 .4 3.9 .3-10.3 .3-5.8 .3 14.7 .3-16.1 .3-49.7 .3 28.5 .3 9.7 .4 31.7 .3 0 .3-6.3 .3 .8 .3-38.3 .3-2 .3 9.1 .3 36.7 .4-13.2 .3 5.7 .3 7.5 .3-27.8 .3 12.3 .3 12.7 .3 2.8 .3 0 .4-7.5 .3-6.4 .3 3.4 .3-17.6 .3 26.3 .3 1.7 .3-20.9 .3-20.1 .4 16.2 .3 24.9 .3 0 .3-15.9 .3-.3 .3-17 .3 15.2 .3 16.9 .3-12.4 .4-2.8 .3 8 .3 6.6 .3-2.7 .3-16.9 .3 21.3 .3 0 .3-13.6 .4 13.6 .3-46.8 .3 27.8 .3-8 .3-3.8 .3 6.5 .3 7.1 .3 14.6 .4-14.8 .3-8.4 .3 24.1 .3-18.5 .3 16.2 .3-27.2 .3 31.2 .3-52.1 .4 21.4 .3 6.5 .3 3.1 .3 8 .3-21.5 .3 11 .3 21.7 .3-2.3 .3-11.5 .4-15.7 .3 31.4 .3-45.1 .3 21 .3 7.4 .3 16.7 .3-14.8 .3 .9 .4 3.2 .3-40.2 .3 50.9 .3-8.9 .3 8.9 .3-27 .3 18 .3-10.9 .4 9.7 .3-10.5 .3 17.8 .3 0 .3-11.3 .3-1.5 .3-17.5 .3 32.1 .4-1.7 .3 .8 .3-21.9 .3-1 .3 13.4 .3 4.1 .3 4.2 .3-9.5 .3 9.7 .4-36.7 .3 39.7 .3-46.3 .3 39.8 .3-22.5 .3 20.1 .3-16.1 .3-.3 .4 23.6 .3-2.3 .3-41.7 .3 15.9 .3 5.8 .3 16.1 .3-20.2 .3 27.6 .4-67.9 .3 66.5 .3-8 .3 1.6 .3 1.3 .3-7.9 .3-4.8 .3-7 .4 20 .3-5.4 .3 5.8 .3-13.6 .3 14.8 .3 4.7 .3-26.1 .3 19.9 .3-17.6 .4-19.6 .3 25.9 .3 13.9 .3-2.1 .3-13.8 .3 5.5 .3-33.5 .3 37.8 .4-8.6 .3-8.3 .3 27 .3-.9 .3-31.9 .3 32.8 .3-19.5 .3 19.5 .4-6.7 .3-24.9 .3 19.5 .3 8.1 .3 4 .3-16.5 .3 8.3 .3-10.7 .4-24.1 .3 17.9 .3 17.1 .3-3.4 .3 11.4 .3-37 .3 16.5 .3-5 .3 8.4 .4 9.8 .3-19.2 .3 26.5 .3-3.3 .3-2.7 .3-4.7 .3-20.3 .3 21.6 .4-18 .3 13.8 .3 13.6 .3-5.3 .3-33.4 .3 34.1 .3-19.6 .3 17.6 .4-11 .3 1.1 .3 16.5 .3-13.4 .3-18.1 .3 22.1 .3 6.2 .3 .6 .4-6.3 .3 8.9 .3-1.2 .3-5.7 .3-9.8 .3-17.4 .3 29.8 .3 3 .4 1.3 .3-20.4 .3-9 .3 21 .3-31.1 .3 24.4 .3 5.8 .3 6.3 .3-8.5 .4 2.5 .3 4.3 .3 1.7 .3-39.3 .3 11.1 .3 24.1 .3-1.2 .3-11.9 .4-46.1 .3 66.3 .3-15.8 .3 15.8 .3-12.1 .3 12.1 .3-22.6 .3 22.6 .4 0 .3-31.3 .3 5 .3 1.3 .3-26.7 .3 51.7 .3-2.6 .3-27.1 .4 19.4 .3-7.4 .3-8.8 .3 16.4 .3-34.6 .3 8.3 .3 36.4 .3-14.4 .3 14.4 .4-18.6 .3-3.1 .3 15.9 .3-10.6 .3-5.5 .3-8.6 .3 9.4 .3 21.1 .4 0 .3-5.7 .3 5.7 .3-1.7 .3-40 .3 34.1 .3-35 .3 27.7 .4 14.9 .3-6.6 .3 1.1 .3 2.5 .3 3 .3-6.6 .3-33.7 .3 28 .4-1.9 .3 4.9 .3-4.8 .3 5 .3-1.7 .3-7.7 .3-12.7 .3 23.8 .3-31 .4-21.9 .3 59.6 .3-19.4 .3 20.1 .3-15.1 .3-2.7 .3-29.5 .3 18.7 .4 28.6 .3-9.8 .3 9.8 .3 0 .3-2.7 .3-34.2 .3 33.6 .3-.8 .4 .7 .3-14.3 .3-32.3 .3 38.8 .3-4.6 .3-38.6 .3 40.7 .3-22.6 .4 25.9 .3 5.3 .3-2.8 .3-16.7 .3 23 .3 1.6 .3-21.8 .3-4.1 .3 2.5 .4 16.3 .3-8.8 .3-20.6 .3 36.5 .3-29.2 .3 10 .3 6.2 .3 11.6 .4-31.1 .3 4 .3 27.5 .3-34.8 .3 12 .3 17.5 .3 6.3 .3-13.7 .4-2.6 .3 13.4 .3-5.4 .3-21.5 .3 12.3 .3 4.2 .3 13.3 .3-.8 .4-23.2 .3 19.9 .3-26.2 .3 26.8 .3-14.6 .3 2.9 .3-16.1 .3 6.8 .3 24.5 .4 0 .3-1.7 .3-42.4 .3 15.9 .3 19.1 .3-.7 .3-10.3 .3 17.1 .4 1.5 .3-20.2 .3 8.6 .3-19.6 .3 30.3 .3-30 .3 12.9 .3-.5 .4 17.5 .3-1.1 .3-18.2 .3-7.5 .3 22.1 .3-4.8 .3 3.6 .3-12.6 .4 3.8 .3 10 .3-13.1 .3 18 .3-17 .3 19.3 .3-61.6 .3 35.9 .4 .5 .3-6.6 .3 13.9 .3-18.9 .3 5 .3 26.7 .3-14.8 .3 19.9 .3-.9 .4 .2 .3-35.6 .3 33 .3 3.3 .3-26.7 .3 18.5 .3 8.2 .3-.4 .4-20.7 .3 6.5 .3 14.6 .3-1.9 .3 1.9 .3-14.4 .3 .6 .3 13.8 .4-16.1 .3-1.5 .3-1.4 .3-2.5 .3 15.3 .3 1.8 .3-45 .3 49.4 .4-20.2 .3 7.1 .3 .6 .3-9.3 .3-.6 .3 3.9 .3 15.6 .3-8.9 .3-.2 .4 3.8 .3 5.5 .3 2.7 .3-4.8 .3-11.8 .3-5.8 .3 8.4 .3 13.5 .4-67.2 .3 55.9 .3-2 .3 13.8 .3-4.7 .3-1.4 .3-1.2 .3-.2 .4 7.5 .3-12.4 .3-38.4 .3 44.7 .3 1.5 .3-9.3 .3-13.4 .3 10.7 .4-10 .3 26.6 .3-.9 .3-11.6 .3-.5 .3-24.9 .3 2.8 .3-5.6 .3 25.1 .4 3.8 .3-35.9 .3 41.8 .3 5.9 .3-3.9 .3-23.3 .3 6.6 .3 20 .4-32 .3 32.6 .3 0 .3 0 .3-3.4 .3 3.4 .3-24.4 .3 3.2 .4 21.2 .3-20 .3 20 .3-8 .3 8 .3-40.6 .3 20.3 .3 15.4 .4 4.9 .3-3.7 .3 1.4 .3-22.9 .3 15.3 .3 8 .3-39.7 .3 16 .3 21.3 .4-28.4 .3 20.2 .3-22.2 .3 5.5 .3 22.4 .3 6.8 .3-25 .3 0 .4 11.2 .3 3.4 .3-1.8 .3 5 .3 6.3 .3-1.6 .3-23.4 .3 10.6 .4-6.4 .3 21.7 .3-24.6 .3 22.9 .3 1 .3-15.8 .3 16.5 .3-43 .4 22.3 .3-27.1 .3 46.7 .3-5.6 .3 0 .3-41.7 .3 38 .3 10.4 .3-5.1 .4-60.6 .3 51.2 .3 1 .3 10.9 .3-13.8 .3-11.3 .3 17.2 .3 10.5 .4-17.8 .3 3.4 .3 11.4 .3-13.2 .3-15.1 .3 3.2 .3 3.2 .3 24.9 .4-4.8 .3-15.2 .3 .5 .3 2.3 .3-10.8 .3 20.9 .3-9.6 .3-21.2 .4 1.1 .3 22 .3 6.1 .3 0 .3-30.6 .3 8.6 .3 12.3 .3 18.4 .4-4 .3 4 .3-29.1 .3 10.3 .3 18.8 .3-36.8 .3 18.6 .3-21.3 .3 33 .4-.4 .3-23.8 .3 18.1 .3 7.7 .3-2.7 .3-24.1 .3-1.8 .3 28.3 .4-8.1 .3-4.8 .3 1.3 .3-11.5 .3 19.5 .3 8.8 .3-3.5 .3-5.9 .4-11.4 .3 20.8 .3-5.8 .3 5.8 .3-10.4 .3 3.6 .3 1.2 .3-37.2 .4 31.1 .3 0 .3 0 .3 11.1 .3-35.4 .3-.7 .3 25.9 .3 0 .3 10.8 .4 0 .3-33.8 .3-6.7 .3 39.1 .3-31.8 .3 .3 .3 28.6 .3-4 .4-7.5 .3-14.3 .3 2.8 .3 13.6 .3 11.1 .3-1 .3-16.1 .3 14.8 .4 2.3 .3-1.4 .3 4 .3-4.4 .3-7.6 .3-7.9 .3 14 .3-17.5 .4-18.3 .3 13.8 .3 17.9 .3 10 .3-1.9 .3-28.1 .3 30 .3-3.8 .3 3.8 .4-7.7 .3-5.5 .3 11.8 .3-31.7 .3 33.1 .3-9.6 .3-17.6 .3 22.9 .4 4.3 .3-9.2 .3-10.3 .3 7.7 .3-7.9 .3 5.1 .3 5.1 .3-22.4 .4 3.7 .3 18.5 .3 9.7 .3-15.3 .3-18 .3 9.2 .3 8.8 .3 15.3 .4 0 .3 0 .3-1.4 .3-11 .3-16.4 .3 23.1 .3-3.4 .3-11.9 .3 13.3 .4-14.7 .3-6.1 .3 13.4 .3-6.9 .3 20 .3-16.8 .3-.3 .3 10.4 .4-22.1 .3 19.1 .3 .5 .3 11.2 .3-3.3 .3-.3 .3-7.7 .3-13.5 .4 24.8 .3-4.5 .3-5.1 .3 4.9 .3-15.6 .3 6.6 .3 1.2 .3 10.3 .4-13.2 .3-7 .3 13.2 .3-1.8 .3-9.2 .3-45.7 .3 37.2 .3 1.1 .3 6.2 .4-3.7 .3 20.3 .3-2.4 .3-44.9 .3 44.7 .3 7.3 .3-5.3 .3 .5 .4 2.5 .3-63.2 .3 65.3 .3-12.1 .3 12.4 .3-7.6 .3 7.6 .3-2.8 .4-36.5 .3 23.7 .3-21.6 .3 35.8 .3-16 .3-13.6 .3 14 .3-15.7 .4 14.6 .3 13.8 .3-5.2 .3-2.4 .3 4.3 .3 7.6 .3-13.9 .3 13.9 .3-8.1 .4-.8 .3-16 .3 8.4 .3 16.5 .3-23 .3 2.4 .3 17 .3-36.6 .4 10.3 .3 10.5 .3-3.1 .3 22.5 .3-37.3 .3 31.7 .3-15 .3-28.1 .4 12.7 .3 11 .3 21.6 .3-24.5 .3 14.8 .3 8.5 .3-7.5 .3 3.6 .4 1.4 .3-29.8 .3 17.9 .3 13.4 .3-23 .3-4.2 .3 12.9 .3-26.9 .4 23.9 .3-9.5 .3-8 .3 8.2 .3 19.7 .3-11.6 .3-15.6 .3 22.9 .3 10.7 .4 6.1 .3-.4 .3 .4 .3-2 .3-20.1 .3 11.9 .3 10.2 .3-1.7 .4-8 .3 7.1 .3-30.7 .3 30 .3-16.8 .3-7.5 .3 8.3 .3 12.5 .4 6.8 .3-15.4 .3 8.3 .3 7.1 .3-49.3 .3 49.3 .3-3.7 .3-59.9 .4 45.9 .3-1.9 .3 12.9 .3-21.6 .3 17.2 .3-5.3 .3-15.3 .3 31.5 .3-18.7 .4 17.4 .3-.8 .3-9.9 .3 1.1 .3 .2 .3 6.5 .3-7 .3 11.4 .4-44.6 .3 35.2 .3 6.8 .3-48.9 .3 51.5 .3-15.7 .3 15.7 .3-22.7 .4 14.2 .3-21.1 .3 18.1 .3 5.7 .3 5.8 .3-7.7 .3-17.3 .3 19.4 .4-.4 .3-16.7 .3 21.6 .3-3.1 .3-3.5 .3-7.1 .3 14.8 .3-22.1 .3 22.1 .4-.5 .3-2.7 .3-2.2 .3-53.5 .3 43.2 .3 15.7 .3-45.9 .3 45.9 .4-5.2 .3-26.5 .3 11.7 .3 2.5 .3 1.3 .3 16.2 .3-5 .3 5 .4-17 .3 17 .3-15.4 .3-13.3 .3 25.1 .3-62.7 .3 66.3 .3-15 .4 13.1 .3-52.4 .3 34.1 .3 16.3 .3-14.6 .3 10.5 .3 .8 .3-24.9 .3 12.3 .4-26.5 .3 44.3 .3-16.5 .3-8.6 .3 27.1 .3-9.1 .3 9.1 .3-8.3 .4 8.1 .3 .2 .3-16.5 .3-9.3 .3-2.6 .3-18.3 .3 46.4 .3 .3 .4-13.6 .3-8.7 .3 10.2 .3-34.9 .3 44.9 .3-37.5 .3 20 .3 17 .4-.3 .3-32.3 .3 32.1 .3 3.1 .3 0 .3-12.8 .3-14.2 .3-6.7 .3 6.8 .4 26.9 .3-38.5 .3 36.3 .3-14.8 .3 15.4 .3-28.7 .3-21.7 .3 51.6 .4-12 .3 12.4 .3-18 .3-15.6 .3-5.8 .3 37.2 .3-2.6 .3 2.5 .4-6.3 .3-26.6 .3 35.2 .3-14.1 .3 7.6 .3-12.8 .3 9.9 .3 3.3 .4 5.8 .3-12.9 .3-20.7 .3 21.7 .3-1.2 .3-2.1 .3 9.3 .3 6.2 .4-4.3 .3-22.3 .3-1.3 .3-24.4 .3 29.5 .3 22.8 .3-38.6 .3 29.7 .3-27.6 .4 11.7 .3 10.3 .3-7.8 .3 18.2 .3-10 .3-24.9 .3 22.6 .3 16.4 .4 0 .3-11.3 .3 8 .3-4.2 .3-18.4 .3 3.9 .3 8.5 .3 11.2 .4-13.3 .3 15.6 .3-23.9 .3 .4 .3 8.8 .3-14 .3-4.3 .3 11.5 .4 21.5 .3-12.4 .3-17.5 .3 4.3 .3 6.1 .3 19.5 .3-2.1 .3-5.3 .3 2.7 .4-6.4 .3 11.1 .3-21.6 .3 11.3 .3-11.7 .3 21.2 .3-18.9 .3 14.6 .4 5.1 .3-7.2 .3-2.9 .3 1.1 .3-60.4 .3 65.9 .3 3.5 .3-7.9 .4-1.3 .3-15 .3 24.2 .3-12.7 .3-34.2 .3 13.8 .3 22.8 .3-49.9 .4 49.7 .3-5.7 .3-6 .3 22.2 .3-17.8" stroke="#EDB120"/>
<path d="M82.8 253.6l.3 139.5 .3-17.5 .3 30.5 .3-23.8 .4 17.5 .3-2 .3-26.8 .3 23.4 .3 11.5 .3-60.9 .3 42.2 .3 1.2 .4 14.2 .3-7 .3 10.5 .3-36 .3 34.5 .3-35.7 .3 31.7 .3-.1 .4-12.7 .3-37 .3 15.3 .3 12.3 .3 5.3 .3 11.5 .3-8.3 .3 14.5 .4-6.7 .3-14.6 .3 13.4 .3 5.1 .3 7.5 .3-34.1 .3 34.1 .3-10.7 .3 5.8 .4-24.2 .3 11.5 .3 .5 .3 13.5 .3-25 .3-6.6 .3 35.2 .3-23.3 .4-8.3 .3 12.1 .3-.5 .3 7.2 .3-17.9 .3 10.9 .3-7 .3 .5 .4 26.3 .3-7.4 .3-30.2 .3 30.1 .3-30.3 .3 37.8 .3-5.9 .3-8.7 .4 14.6 .3-40.8 .3 40.8 .3 0 .3-10 .3-45.6 .3 2.3 .3 38.8 .3-6.9 .4-11 .3 17.5 .3 9.6 .3-29.2 .3 21.7 .3 11.2 .3-9.6 .3-29.6 .4 19.3 .3-13.1 .3 34.6 .3-.2 .3-12.6 .3 1.4 .3-26.6 .3 30.1 .4-17.8 .3-7.4 .3 8.9 .3-19.1 .3 2.3 .3 37.4 .3-38 .3 39.2 .4-24.2 .3 13.4 .3-5.6 .3 16.1 .3 2.6 .3-8.8 .3-17.7 .3 10 .4-12.2 .3 2.6 .3-22.1 .3 48.3 .3-12.1 .3-17.1 .3 14 .3-1.9 .3-11 .4 27.7 .3-4.2 .3 4.6 .3-13.1 .3-7.8 .3 13.2 .3 7.7 .3-42.9 .4 31.8 .3-33.2 .3 38.1 .3-4.4 .3-30.4 .3 22.6 .3-24.1 .3 31.5 .4-3.2 .3 14.2 .3-11.8 .3-11.4 .3 9.1 .3-20.6 .3 4.9 .3-18.2 .4 45.9 .3-18.2 .3 6.6 .3-22.2 .3 23.1 .3 12.8 .3-29.4 .3-9.1 .3 5.8 .4 23.3 .3-6.1 .3-23.8 .3 5.5 .3 9.7 .3 15.7 .3-26.8 .3 30.5 .4 1.6 .3-13.8 .3 12.8 .3-4.3 .3 6.3 .3-5.7 .3 7.8 .3-48.9 .4 48.9 .3-34.1 .3 15.5 .3-21.8 .3 22.9 .3 13 .3-1.6 .3-23 .4 14.4 .3 13.2 .3-50.1 .3 38.3 .3 10.5 .3-2.7 .3-9.8 .3 2.6 .3 12.7 .4-19.4 .3 8.5 .3-1.3 .3-22.4 .3 8.2 .3-19.9 .3 46.3 .3-1.4 .4-22.5 .3 16.5 .3 7.4 .3 0 .3-3.8 .3-9.3 .3 .1 .3 6.4 .4 2.8 .3-29.7 .3 33.5 .3-40.2 .3 8 .3-17.4 .3 31.3 .3 1.7 .4 16.6 .3 0 .3 0 .3 0 .3-22.9 .3-4.6 .3 4 .3 23.5 .3-36.9 .4 12 .3 24.9 .3 0 .3-11.5 .3 2.6 .3 7.1 .3-29.9 .3 24.6 .4-3.9 .3 3.6 .3 .7 .3 3.8 .3-12.7 .3 15.3 .3 .3 .3-7.9 .4-44.9 .3 37.2 .3-.7 .3 7.7 .3 8.6 .3-3.8 .3-17.3 .3 6 .4-.2 .3-3.7 .3-1.9 .3-24.9 .3 35.5 .3 3.6 .3-19.3 .3 1.4 .3 6.5 .4 18.1 .3-71.1 .3 71.1 .3-22.7 .3 .3 .3-11.1 .3-14.3 .3 24.2 .4-8.4 .3 7.5 .3 17.1 .3-22.4 .3 19.2 .3-1.2 .3 11.8 .3-6.7 .4-6 .3-2.8 .3 10.8 .3-11.8 .3 16.5 .3-20.5 .3-18.3 .3-11.8 .4 25.7 .3 7.1 .3 3.8 .3-6.5 .3 5.7 .3 3.6 .3 6.8 .3-20.8 .4 24.5 .3-26.7 .3 27.4 .3-16.1 .3 14.9 .3-18 .3 13.1 .3 6.1 .3-5.1 .4-51.1 .3 11.9 .3 35.2 .3 9.1 .3 0 .3-1.5 .3 1.5 .3-7.6 .4 7.6 .3-13.4 .3 8.7 .3 4.7 .3-23.4 .3 21.6 .3-24.7 .3 12.9 .4 13.6 .3 0 .3-24.5 .3 5.6 .3 10.4 .3 4.1 .3 4.4 .3-2.2 .4-39.4 .3 33.9 .3-5.3 .3-5.2 .3-10.3 .3 9.7 .3 13.5 .3 5 .3-23.6 .4 5 .3 11 .3 6.9 .3-15.8 .3-14.9 .3 31.7 .3-1.6 .3-17.4 .4-14 .3 32.3 .3-20.9 .3-6 .3-9.9 .3-1.9 .3 21.6 .3-1.1 .4 18.9 .3-23.3 .3 23.3 .3-8.6 .3-15.5 .3 7.9 .3-1.3 .3-11.9 .4 12.8 .3 13.7 .3-28.2 .3 4.8 .3 11.5 .3 5.2 .3 9.6 .3 0 .3-4.9 .4-20.1 .3 13 .3-7.7 .3 16 .3-18.1 .3-11.7 .3 17.6 .3 15.9 .4-29.4 .3 16.6 .3-13.5 .3 15.7 .3-29.4 .3-17.5 .3 38.3 .3-16.5 .4 30 .3-4.3 .3 7.7 .3-9.8 .3-10.5 .3 12.8 .3-9 .3-23.1 .4 41.9 .3-46 .3 16 .3 9.4 .3 20.6 .3-64.5 .3 64.5 .3-16.3 .3-23.2 .4 3.6 .3 27.9 .3-7.5 .3-17.5 .3 33 .3-19.1 .3 19.1 .3-24.5 .4-28.1 .3 8.7 .3 41.5 .3-23.5 .3 22.4 .3-19 .3-12.5 .3-21.7 .4 54.9 .3-3.2 .3-25.4 .3 28.7 .3-20.3 .3 1.4 .3 12.5 .3-18 .4 6.2 .3-5.5 .3 12.7 .3 5.7 .3-46 .3 41.9 .3-1.6 .3-2.1 .3-15.3 .4 21.2 .3 8.9 .3-39 .3 22.1 .3 16.3 .3-10.6 .3 10.5 .3-23.4 .4-29.8 .3 53.9 .3 0 .3-23.6 .3 23.6 .3-15.6 .3 8.5 .3 2.2 .4-4.3 .3-10.8 .3-9.7 .3 23.4 .3-37.2 .3 43.5 .3-9.1 .3 9.1 .4-8.2 .3-15.4 .3 23.6 .3 0 .3-13.1 .3 7.1 .3-15.8 .3 21.8 .3-31.8 .4-9.4 .3 41.2 .3-21 .3-7 .3 23.1 .3 4.9 .3-22.1 .3 3 .4-20.6 .3 13.1 .3-9.2 .3 4.1 .3 31.7 .3-27.8 .3 13.1 .3 14.7 .4-22.3 .3 6.8 .3 7 .3-24 .3 13.7 .3-26.8 .3 29.3 .3 10.7 .4-2.1 .3-13.8 .3 2.1 .3-44.3 .3 55 .3-18.9 .3 10.7 .3-27.9 .4 42.4 .3-26.1 .3 17.6 .3-37.3 .3 34.5 .3 2.9 .3-8.6 .3 8 .3 11.4 .4-9.6 .3 4.3 .3 3.9 .3-59.4 .3 36 .3-21 .3 34.9 .3 10.1 .4-33.5 .3-8.1 .3 27.9 .3-19.1 .3 26.4 .3-5.9 .3-46.4 .3 22.5 .4 7 .3 27.1 .3-4.5 .3 7.4 .3-14.7 .3-23 .3 30.1 .3-7.4 .4-2.2 .3 3.9 .3 2.9 .3 3.4 .3-1.8 .3 3.8 .3 5 .3-71.6 .3 71.3 .4-19.2 .3 19.5 .3-10.5 .3-16.2 .3-27.3 .3 28.9 .3 6.7 .3 11.2 .4 7.2 .3-15.4 .3-16 .3 25.6 .3-20.5 .3-3.9 .3 20.8 .3-7.6 .4 11.9 .3-7.8 .3-10.8 .3 11.2 .3-44.4 .3 56.2 .3-21.3 .3 5.1 .4-12.8 .3-2.7 .3 32.4 .3-53.2 .3 53.2 .3-3 .3-5.8 .3 .5 .3-24 .4 28.1 .3-28.6 .3 22.3 .3 0 .3 10.5 .3-22.2 .3 6.7 .3-.4 .4-10.7 .3 13.4 .3-7.7 .3 5.3 .3 15.6 .3-6.1 .3-14 .3-27.7 .4 7.4 .3 36.7 .3-1.9 .3-22.2 .3 9.1 .3 8.3 .3 7.8 .3 2.6 .4 0 .3-65.1 .3 65.1 .3-5.1 .3 5.1 .3-23.9 .3 23.9 .3-9.3 .3-35.9 .4 20.1 .3 12.7 .3 12.4 .3-31.4 .3 23.6 .3-24.4 .3 32.2 .3-25.3 .4 .5 .3 3.9 .3 20.9 .3-23.3 .3 20.9 .3-45.9 .3 48.3 .3 0 .4-42.4 .3 33 .3-52.2 .3 53.6 .3-21.2 .3 16.6 .3-19.4 .3 29.5 .4-12.7 .3-28.1 .3 26.6 .3 2.3 .3-21.1 .3 29 .3-19.9 .3 11.1 .3 8.3 .4-41.1 .3 28 .3 4.1 .3-11.2 .3-7.1 .3 1.4 .3 27.6 .3-32.6 .4 37.9 .3-11.4 .3-26.5 .3 32 .3-34.3 .3 28.7 .3 10.4 .3-9.3 .4-27.2 .3 .7 .3 20.1 .3 16.8 .3-18.9 .3 16.8 .3 1.3 .3-2.5 .4-42.3 .3 18 .3 27.6 .3-24.7 .3 4.9 .3-6.7 .3-6.6 .3 28.4 .4 4.7 .3-17.2 .3 15.9 .3-3 .3 2.6 .3-2.1 .3 3.8 .3-8.4 .3-26.3 .4 28.4 .3-24.7 .3 31 .3-14.8 .3 3.8 .3-19.7 .3 2.1 .3 12.5 .4 10.7 .3-30.2 .3 18.1 .3 9 .3 8.5 .3-6.9 .3 0 .3-3.2 .4 9.3 .3-9.9 .3-27.7 .3 20.5 .3 12.8 .3-21.3 .3 21.2 .3-28.3 .4 30.3 .3-2.7 .3-12.6 .3 15.5 .3-26.2 .3 18.2 .3-5 .3-10 .3 7.2 .4 18.8 .3-41.9 .3 15.1 .3 11 .3 .5 .3-27 .3 39.1 .3-.5 .4-24.3 .3-18.6 .3 43.9 .3 1.8 .3-.5 .3-1.7 .3-29 .3 12.8 .4 19.3 .3-39.6 .3 8.9 .3 1.4 .3 16 .3-4.7 .3-8 .3 26 .4-18.8 .3 18.8 .3-18.7 .3 18.7 .3 0 .3 0 .3 0 .3-5.7 .3-19.4 .4 24.8 .3-5.9 .3-15.3 .3-.4 .3 21.9 .3-36.3 .3 36.3 .3-34.9 .4 33.2 .3-6.8 .3 8.5 .3-9.8 .3 5.4 .3-2.1 .3-11.8 .3 10.9 .4 7.1 .3-14.5 .3-68.5 .3 83.3 .3-34.6 .3 8.2 .3 11.9 .3-15.3 .4 5.6 .3 .8 .3 23.4 .3-14.3 .3 11.8 .3 1.6 .3-19.3 .3 18.5 .3-3 .4-27.8 .3-2.4 .3 30.8 .3-40.5 .3 22.9 .3-3.9 .3 18.2 .3-6.2 .4 6.9 .3-33 .3 39.7 .3-4.6 .3-8.8 .3-10.7 .3-48.8 .3 72.9 .4-.9 .3-2.1 .3-22.6 .3 4 .3-24.7 .3 36.3 .3 4.1 .3-52 .4 57.9 .3-17.7 .3 17.1 .3-14.9 .3-.1 .3 15.6 .3-4.9 .3-7.3 .3-14.3 .4 26.5 .3 0 .3-8.3 .3 1.4 .3-1.1 .3-6.8 .3-1.6 .3 2.4 .4 4.3 .3 9.7 .3-17.1 .3-20.9 .3 31.6 .3-17.8 .3 23.3 .3-29.2 .4 27 .3-59.6 .3 17.6 .3 7.4 .3 9 .3 1.5 .3 10.6 .3-17.3 .4 5.1 .3-2.1 .3 30.7 .3-.5 .3-31.5 .3 25.6 .3 2.7 .3-12.7 .4 12.3 .3-26.4 .3 17.9 .3 11.4 .3-34.7 .3 26.6 .3-20.2 .3 25.8 .3-26.1 .4 19.5 .3-9.3 .3-9.5 .3 25 .3-23.8 .3 26.2 .3-8 .3-9 .4-21.8 .3 32.9 .3-22.3 .3-7.7 .3 36.8 .3-42.1 .3 43.1 .3-21.6 .4-44.6 .3 66.2 .3-5.8 .3-3.1 .3 1.3 .3-2.9 .3-14.9 .3-44.8 .4 64.5 .3-12.9 .3-3.5 .3-5.7 .3 11.6 .3 10 .3-3.4 .3 7.3 .3-37.9 .4 13.6 .3 2.2 .3 11.7 .3 9.6 .3-26.6 .3 17.7 .3 12 .3-27.5 .4 15.9 .3-40 .3 51.6 .3-35 .3 6.8 .3 28.2 .3-19.8 .3 19.8 .4-20.4 .3 15 .3-19.1 .3-.4 .3 18.3 .3-41.4 .3 37.7 .3 10.3 .4-9.1 .3 7.5 .3-7.8 .3 9.4 .3-29.1 .3 20.5 .3-31.3 .3 39.9 .3-32.1 .4 2.4 .3 29.7 .3-65.9 .3 27.7 .3 26.2 .3 12 .3 0 .3 0 .4-5.1 .3-19.5 .3 24.6 .3-10.2 .3-32.3 .3 24.3 .3-24.5 .3-19.3 .4 51.5 .3-41.6 .3 44.3 .3-6.9 .3-4.6 .3 19.3 .3-36.4 .3 25.3 .4 7.4 .3 3.7 .3-13.5 .3 1.8 .3-20.7 .3 4.6 .3 .4 .3 27.4 .3-29.8 .4 29.8 .3-52.1 .3 22.6 .3 22.3 .3 .9 .3-13.1 .3-8.5 .3 23 .4-10.9 .3 12.6 .3-23.2 .3 14.4 .3 5.2 .3-2.7 .3-17.9 .3 20.2 .4-54.4 .3 52.4 .3 9.1 .3-1.2 .3-71 .3 40.7 .3 30.6 .3-5.6 .4-.7 .3-8.6 .3 9 .3-1.5 .3-1.5 .3-24.7 .3 13.5 .3 2.9 .3 18.2 .4-58.6 .3 58.6 .3 0 .3-12.3 .3-33 .3 26.9 .3-22.2 .3 40.6 .4 0 .3-17.2 .3 17.2 .3-45.4 .3 27.2 .3 15.8 .3-46.8 .3 49.2 .4-1.6 .3-24.9 .3 26.5 .3-10.8 .3 10.8 .3 0 .3-23.6 .3 3.6 .4-35.2 .3-16.7 .3 54.2 .3 17.7 .3-62.8 .3 37.6 .3 9.5 .3 9.5 .4-4.1 .3 3.5 .3-11.4 .3 14.3 .3-28.4 .3 22.7 .3-29.8 .3 39.4 .3-25.4 .4 25.4 .3 0 .3-57.8 .3 56.9 .3-37.5 .3 38.4 .3-26.3 .3-20.2 .4 30.5 .3-23.5 .3 34 .3-17.6 .3 18.5 .3-27.6 .3 11.1 .3 5.6 .4 15.5 .3-36.3 .3-14.8 .3 15.6 .3 25.9 .3 9.6 .3-12.8 .3 4.3 .4-4.1 .3 5.7 .3-33.7 .3 9.6 .3 13.9 .3-25.1 .3-3.9 .3 45.7 .3-1.7 .4-44.9 .3 40.8 .3-8.4 .3 10.5 .3-39.7 .3 43.6 .3-2.7 .3 2.1 .4-4 .3-6 .3-25.2 .3 32.4 .3-65.7 .3 66.1 .3-1.9 .3-13.6 .4 18.7 .3-2.8 .3-28.5 .3-21.2 .3 10.1 .3-11.9 .3 36.7 .3 5.3 .4 6.5 .3 .6 .3-14.5 .3 18.2 .3-20.3 .3-7.4 .3 14.2 .3 10.8 .3-4.1 .4 8.3 .3-25.2 .3-19.2 .3 28.9 .3 15.5 .3-13.9 .3-18.7 .3 2.5 .4 14.2 .3-4.5 .3 20.4 .3-34.9 .3 11.1 .3-.1 .3-5.2 .3 13.6 .4-.6 .3-3.7 .3-44.9 .3 19.9 .3 39.5 .3-14.4 .3 11.6 .3 8.1 .4-21.1 .3 11.8 .3-13.9 .3 11.5 .3 10 .3-24.7 .3-22.2 .3-34.9 .3 79.4 .4 3.2 .3-47.4 .3 26 .3 22.3 .3-5.9 .3-12.4 .3 3.3 .3 4.9 .4-18.5 .3 20 .3 8.6 .3-44.2 .3 27.2 .3-15.6 .3 17.4 .3 15.2 .4-40.6 .3 38.6 .3-16.9 .3 7.9 .3 8.6 .3-21.7 .3-18.4 .3 42.5 .4-45.3 .3 34.9 .3-14.5 .3-4.5 .3 3.6 .3-13.4 .3-18.1 .3 44.9 .3-34.3 .4 26.2 .3 12.3 .3-61.2 .3 58.3 .3-9.1 .3 2.1 .3 18.1 .3-19.7 .4-25.7 .3-5.6 .3 28.3 .3 4.8 .3 17.3 .3-15.8 .3 7.2 .3-6.5 .4-9.6 .3-6.5 .3-19 .3 47 .3-1.5 .3 5.3 .3-61.7 .3 38.6 .4 3.4 .3-17.7 .3 3 .3-31.5 .3 52.2 .3 7.9 .3-15.4 .3-1.8 .3 21 .4-34.6 .3 36.6 .3-10.7 .3 10.7 .3-30.5 .3 11.2 .3-4.3 .3 10.9 .4 7.8 .3-26.4 .3 31.3 .3-5.4 .3-29 .3 28.5 .3-8.6 .3 10.1 .4 4.2 .3-17.1 .3-5.9 .3 19.1 .3-7.3 .3-18.3 .3 27.6 .3 1.1 .4-22.1 .3-3.9 .3 3.9 .3 9.2 .3-3.8 .3 4.8 .3-7.5 .3-25.1 .4 45.5 .3-10.6 .3-22.6 .3-13.3 .3 46.5 .3-25.8 .3-25.6 .3 45.6 .3-31.7 .4-35.5 .3 16.2 .3 54.7 .3 2.1 .3-5.7 .3-21.1 .3 4.4 .3 13.5 .4 3.3 .3-4.9 .3-16.6 .3 20.5 .3-12.8 .3 19 .3 0 .3-8.9 .4-7.1 .3-20.4 .3 36.8 .3-18.6 .3-46.3 .3 26.8 .3 34.5 .3 3.6 .4-32.8 .3 32.8 .3-41 .3 14.6 .3 26.4 .3 0 .3-13.3 .3 2.8 .3-27.7 .4 2.2 .3 23.7 .3-1.7 .3 14 .3-27.6 .3-12.2 .3-3.6 .3 22.8 .4 8.8 .3-28.7 .3 5.5 .3 4 .3 24.3 .3-11.3 .3-5.1 .3 11.8 .4 1.3 .3-22.9 .3 32.9 .3-7.6 .3 5.2 .3-3.9 .3-6.1 .3 11.7 .4-69.4 .3 63.8 .3 6.3 .3-6.2 .3-1 .3-19.2 .3 15.4 .3 6 .3 5 .4-10.7 .3 10.7 .3-15.9 .3 3.5 .3-.6 .3 13 .3-21.9 .3 21.9 .4-33.1 .3 33.1 .3-32.8 .3 28.2 .3 4.6 .3-21.4 .3 6.4 .3 7.5 .4 7.5 .3-8.9 .3 7.6 .3-17.6 .3-7.1 .3 10.9 .3 12.4 .3-36.9 .4-13.6 .3 32.7 .3 5.2 .3 2 .3 12.7 .3-10.6 .3-54.8 .3 47.2 .3 4.9 .4 13.9 .3-1.3 .3-23.2 .3 1.5 .3 19.9 .3 2.7 .3-13.9 .3-5.5 .4-38.8 .3 40 .3 7.1 .3-6.3 .3 11.7 .3-56.3 .3 57.4 .3 5 .4-9.4 .3-12.1 .3 16.4 .3-34.4 .3 37.9 .3-18.9 .3 20.5 .3-2 .4-10.9 .3-6.7 .3 19.6 .3-25.1 .3 19.1 .3-15.2 .3 20.8 .3-18.9 .3 19.3 .4-28.6 .3 21.3 .3 7.3 .3-19.1 .3 19.1 .3-26.3 .3 8.3 .3-13.4 .4-1.3 .3 14.8 .3-22.7 .3 40.6 .3-15.8 .3 8.6 .3-6.7 .3-41.5 .4 54.1 .3-5.3 .3-18.4 .3 24.5 .3-12.5 .3-9.6 .3 .2 .3-35.5 .4 1.7 .3 56 .3-34.5 .3 32.1 .3-19.9 .3 6.2 .3-16.6 .3-26.4 .4 25.7 .3 16.3 .3-23.9 .3 37.8 .3 2.4 .3-34.4 .3 31.8 .3-50.9 .3 33.5 .4 9.9 .3-13.4 .3 12.9 .3 11.6 .3-18.7 .3-8.2 .3 8.3 .3-7.8 .4-.2 .3 26.6 .3-15.2 .3-6.8 .3 5.1 .3 7.2 .3-12.1 .3 3.5 .4 17.1 .3-1.2 .3 .1 .3-21.4 .3 13 .3-46.3 .3 52.4 .3-19.5 .4 21.3 .3-25.3 .3 28.1 .3-11.2 .3 11.2 .3-8 .3 2.5 .3-16.3 .3-28.8 .4 31.8 .3-35.5 .3 31.9 .3-9.8 .3 22 .3 5 .3-15.3 .3-7.5 .4 8.6 .3 8.5 .3-.2 .3-4 .3 6.5 .3-39.8 .3 34.5 .3 12.9 .4-22.9 .3-10 .3 7.1 .3 21 .3-5 .3-20.3 .3 24.6 .3-10.9 .4-10.9 .3-2.5 .3 30.8 .3-1.4 .3-1.1" stroke="#7E2F8E"/>
<path d="M82.8 253.6l.3 141.7 .3-12.3 .3 6.3 .3 9.6 .4-6.9 .3 3.5 .3-7 .3-5.1 .3-12.1 .3 13.4 .3 21.1 .3-26.1 .4 18.9 .3-12.5 .3-15.3 .3 32.8 .3-10.3 .3-24 .3 16 .3-20.1 .4 2.3 .3 18.2 .3 3 .3 2.7 .3-9.8 .3 10.9 .3 1.3 .3 5.3 .4-14 .3 3.6 .3-13.8 .3 31.2 .3-1.4 .3-27 .3 10.8 .3 12 .3-18.5 .4 1.4 .3 16.1 .3 1.5 .3-17.6 .3 9.4 .3-1.1 .3 1 .3-13 .4 2.7 .3 22.4 .3-16.2 .3-10.2 .3-27.8 .3 48 .3-34.3 .3 23.9 .4 17.9 .3-2.1 .3-1.9 .3-11.9 .3-5.9 .3 21 .3-46.4 .3 25.9 .4 21.3 .3 0 .3-9.4 .3 8.4 .3 1 .3-48.2 .3 47.3 .3-5.9 .3 6.8 .4-13.2 .3-1.9 .3-32.3 .3 21.4 .3-12.9 .3 33.8 .3 5.1 .3-9.9 .4-.8 .3-16.8 .3-32.6 .3 36.8 .3 23.3 .3-13.6 .3-3.8 .3-10.4 .4 8.6 .3-11.6 .3 8.6 .3-8.8 .3 18.2 .3-5.1 .3-6.2 .3 24.1 .4-1.7 .3 1.7 .3-29.3 .3 29.3 .3-16.7 .3 16.7 .3-69.9 .3 69.9 .4-6.3 .3-13.4 .3 18.8 .3-11 .3 4.8 .3 3.5 .3-17.5 .3 17.2 .3 .8 .4 3.1 .3-11.3 .3 11.3 .3-7.6 .3-38.6 .3 43.3 .3-14.2 .3 4.2 .4-9.8 .3 4.4 .3 12.9 .3 1 .3-2.9 .3 7.3 .3 0 .3-22.7 .4 .9 .3-12.3 .3 12.1 .3 4.7 .3 4.1 .3-1.8 .3-11.5 .3-9.8 .4 36.3 .3-34.7 .3 32 .3 1.3 .3-1.1 .3 2.5 .3-28 .3 23.4 .3-1.9 .4-4.5 .3 11 .3-18.6 .3-31.6 .3 16.5 .3 6.5 .3 18 .3 9.2 .4-6.3 .3 6.3 .3-19 .3 19 .3-50.2 .3-11.6 .3 59 .3-9 .4-32.2 .3 43.8 .3-13.4 .3 8.7 .3-38.6 .3 25.4 .3 7 .3-56.1 .4 53.9 .3-.4 .3 3.8 .3-34.2 .3 31.8 .3-23.3 .3 22.7 .3-5.1 .3 18 .4-38.2 .3-33.8 .3 43.3 .3-17.8 .3 23.4 .3 21.7 .3-4.3 .3-39.6 .4 37.3 .3 7.7 .3-21.1 .3-10.5 .3 9.3 .3 18.6 .3-15.2 .3 19.2 .4-2.2 .3-7.1 .3-52.5 .3 25 .3 36.6 .3-22.6 .3 .2 .3-17.5 .4 18.2 .3 21.9 .3-17.9 .3 3.5 .3 11.3 .3 2.6 .3-24.2 .3-17.5 .3 18.7 .4 21.1 .3-8.4 .3 5.1 .3-52.7 .3 13.6 .3 17.8 .3 18.8 .3 5.8 .4-31 .3 31.8 .3-18 .3-14.8 .3 22.2 .3-37.6 .3 20.5 .3 27.3 .4 .6 .3-13.8 .3 11.9 .3-15.6 .3-3.6 .3 21 .3-8.3 .3-3.5 .4-8.4 .3 18.3 .3-8.3 .3 .2 .3-2.7 .3-10.2 .3 13.6 .3 7.9 .3-36.7 .4 14.3 .3 1.3 .3 24 .3-5.4 .3 5.4 .3-20.8 .3-1.6 .3-10.3 .4 9.6 .3 21.3 .3 .1 .3-8 .3-31.7 .3 24.1 .3 17.3 .3-14.4 .4-14.2 .3 24.3 .3-21.5 .3 1.4 .3 2.5 .3 8.4 .3 5.6 .3-24.1 .4 18.3 .3-25.1 .3 33.2 .3-4.4 .3-27.5 .3 16 .3 21.5 .3-11.2 .4-12.5 .3 23 .3-30.3 .3 21.5 .3 4.3 .3-11.5 .3-7.5 .3 19.3 .3-34.3 .4 33 .3-18.4 .3 24.6 .3-.3 .3-12 .3-2 .3 2.2 .3-21.2 .4 18.3 .3-11.3 .3 13.6 .3-16.8 .3 29.5 .3-8 .3-11.6 .3 19.6 .4-21.8 .3 7.8 .3 .6 .3 13.4 .3-3.2 .3-9.3 .3 6.6 .3-25.3 .4 27.3 .3-18.8 .3 16.1 .3 2.7 .3-15.5 .3 10.1 .3 9.3 .3-2.4 .3-9 .4-6.8 .3 9.1 .3 1.7 .3 5.1 .3-44.1 .3 5.4 .3-40.4 .3 78.9 .4 .9 .3-9.1 .3 0 .3 5.4 .3-8.3 .3 13.6 .3 0 .3-20.6 .4-12.2 .3 11.1 .3 14.2 .3-45.4 .3-7.5 .3 32.4 .3 1.2 .3 14.6 .4 7.3 .3-34 .3 31.2 .3-13.3 .3 13.6 .3-34.1 .3 3.6 .3-9.8 .3 12.2 .4-1.9 .3 20.3 .3-1.5 .3 18.5 .3-13.6 .3-22.4 .3 23 .3 7.4 .4-24.6 .3 30.3 .3-22.5 .3 12.9 .3-5.8 .3 15.4 .3 0 .3-2.6 .4-14 .3-15.7 .3 4.7 .3-12 .3 30.7 .3-4.8 .3-18.8 .3 16.3 .4-25.5 .3 32.9 .3-4.5 .3-8.8 .3 1.8 .3 5.6 .3 8.6 .3 3 .3-17.1 .4 13.9 .3-38 .3 20.5 .3 9.7 .3 5.4 .3-24.5 .3 21.6 .3-4.2 .4-65.7 .3 65.5 .3-23.8 .3 39.3 .3 .5 .3-19.2 .3-41.1 .3 34.7 .4 25.6 .3-8.3 .3-6.1 .3-.5 .3-23.1 .3 1 .3 23.7 .3 12.1 .4-17.5 .3-20.3 .3 18.9 .3 9.6 .3-8 .3 11 .3 7.1 .3-22.5 .3 22.2 .4-7.9 .3-11 .3-23.1 .3 42.7 .3-25.9 .3-34 .3 47.1 .3 2.6 .4 10.2 .3-.4 .3 .4 .3-2.8 .3-33.2 .3 21.2 .3 14.8 .3 0 .4-1.1 .3-6.3 .3-37.3 .3 23.1 .3 8.1 .3 13.5 .3-.7 .3-48.6 .4 43.6 .3 3.7 .3-35.3 .3-7.8 .3 45.1 .3 0 .3-12.9 .3 12.9 .3-4.9 .4-23.8 .3 11.5 .3 10.1 .3-2.7 .3-2 .3 7 .3-17.7 .3 12 .4-.9 .3 11.4 .3-20.4 .3 11.4 .3 4 .3-33.6 .3 30.7 .3-6 .4-30.5 .3 13.2 .3-3.9 .3 9.8 .3 13.9 .3-24.6 .3-4.7 .3 10.5 .4-19.9 .3 50 .3 .1 .3-9.6 .3-3.8 .3-1.6 .3 .6 .3 .6 .4-4.2 .3 18 .3-4.9 .3-33.6 .3 17 .3-4.9 .3 17.5 .3-6.8 .3-.1 .4 4.6 .3-3.2 .3-20.1 .3 20.9 .3-10 .3-13.6 .3 17.1 .3-6.5 .4-8.1 .3-3 .3-7.1 .3 11.6 .3 26.4 .3 3.5 .3-14.5 .3-57.2 .4 62.7 .3 6.6 .3-2.6 .3-11 .3-40.2 .3 59.5 .3 0 .3-11.7 .4-14.4 .3 10.2 .3-.7 .3 2 .3-1.6 .3 0 .3 15.7 .3-.1 .3 .6 .4-38.7 .3 34.3 .3-23.6 .3 7.5 .3-9.2 .3-5 .3-21.5 .3 54.3 .4-9.3 .3-9.7 .3-36.2 .3 50.1 .3-16.5 .3 20.2 .3 .1 .3-34.7 .4 34.1 .3-25.7 .3 20.5 .3-36 .3 2.4 .3 42.6 .3-27.2 .3 24.5 .4 1.2 .3-18.1 .3 19.6 .3-9.7 .3 8.1 .3-21.6 .3 22.1 .3-29.3 .3 30.4 .4-20.2 .3 15.9 .3-38.4 .3 13.1 .3 15.2 .3-7.8 .3 21.3 .3-73.7 .4 69.3 .3 5.1 .3-18.6 .3 18.7 .3-13.7 .3-30.8 .3 44.6 .3-37.6 .4-21 .3 58.6 .3-20.2 .3-6 .3 26.2 .3-13.1 .3-1.2 .3 14.3 .4 0 .3-12.1 .3 12.1 .3-50.1 .3 49.8 .3-9.1 .3-14.9 .3 2.6 .3 9.2 .4-26.3 .3 8.6 .3 24.1 .3-6.1 .3 6.7 .3-12 .3-13.7 .3 15.5 .4-49.5 .3-2.8 .3 51.1 .3 16.9 .3-3.3 .3-29.4 .3 32.7 .3-16.8 .4 16.8 .3-3.4 .3-48.7 .3 34.1 .3 13.2 .3-.9 .3-33.5 .3 14.1 .4-10.8 .3 14.6 .3 17.3 .3-7.5 .3 2.9 .3 8.6 .3-23.8 .3 21 .3-6.6 .4 9.4 .3-.3 .3-6.3 .3 6.6 .3-32.9 .3 4.1 .3 19.6 .3 .5 .4 1.3 .3-11.9 .3 5.5 .3-1 .3-2.3 .3 6.2 .3 10 .3-15.5 .4-6.4 .3 2.8 .3 15.8 .3 0 .3-44.1 .3 31.5 .3 16.6 .3-23.3 .4-5.2 .3 28.4 .3-24.8 .3 15.6 .3-13.5 .3 6 .3 3.3 .3-10.3 .4 4.8 .3-4.7 .3 .6 .3 18.5 .3-49.8 .3 13.8 .3 17.2 .3 10.2 .3-.8 .4 5.7 .3-24.4 .3 3.7 .3 14.3 .3-15.4 .3 24.7 .3-26.8 .3 32.4 .4-12.4 .3-15.4 .3-20 .3 32.5 .3-9.4 .3 10.1 .3-.4 .3 15 .4 0 .3-4.9 .3-11.5 .3 16.4 .3-42.1 .3 42.1 .3-26.4 .3 24.7 .4-.5 .3 2.2 .3-23.5 .3 23.5 .3-9.5 .3-31 .3 24.7 .3 15.8 .3 0 .4-6.3 .3 6.3 .3-21.4 .3-22.1 .3 14.3 .3-26.9 .3 34.7 .3 21.4 .4-13 .3-40.1 .3 38.5 .3-13.1 .3 13.4 .3 6.2 .3-28.8 .3 17.2 .4-25.4 .3 16.4 .3-7.6 .3 11.7 .3 17 .3-17.3 .3-14.6 .3 21.8 .4-22.8 .3-25.2 .3 52.3 .3-5.4 .3 3.7 .3 15.1 .3-4.4 .3-4.9 .3-12.3 .4 10.7 .3-25.5 .3-24.2 .3 50.6 .3-2 .3-29.9 .3 22.6 .3 13.2 .4-8.5 .3-38.5 .3 46.6 .3-9.5 .3 7.2 .3-9.4 .3-31.5 .3 31.3 .4 7 .3-14 .3-14.9 .3 34.6 .3 2.3 .3-22.6 .3 12.4 .3 7.3 .4-17.2 .3 14.9 .3-12.4 .3 8.3 .3 12.7 .3-30.6 .3-3 .3 27.6 .3-23.4 .4 3.9 .3-12.4 .3 31.1 .3-7.7 .3-33.1 .3 32.1 .3 10.6 .3 .4 .4-55.4 .3 56 .3-6.5 .3-12.2 .3 19.2 .3-32.4 .3-.3 .3 36.1 .4-10.2 .3-27.7 .3 28.5 .3-21.4 .3 16.6 .3-12.5 .3-3.3 .3 15.6 .4-24.7 .3 25.5 .3-39.9 .3 53.5 .3-21.3 .3-28.6 .3 44.1 .3-7.5 .3-16.4 .4 29.7 .3-16.7 .3 4.3 .3-15.6 .3 28 .3-34 .3 34 .3-41.3 .4 39.5 .3-.6 .3 0 .3 2.4 .3-11.6 .3 11.6 .3-14.9 .3-6 .4-19.1 .3 17.6 .3 21.4 .3-8.3 .3-26.2 .3 21 .3 3.3 .3-39.8 .4 10.8 .3 32.4 .3-23.9 .3 24.4 .3-46.7 .3 27.9 .3 .4 .3 9.6 .4-10.6 .3 .4 .3 23.8 .3-45.4 .3 39.8 .3-46 .3 45.8 .3-38.5 .3 38 .4-10.6 .3 9.7 .3 9.7 .3-66.3 .3 24.6 .3 41.1 .3-7.6 .3-35.3 .4 25.5 .3 9.7 .3-8.4 .3-32.5 .3 34.9 .3 8 .3-12 .3-10.9 .4 26.6 .3 2.6 .3-18.7 .3 18.2 .3-47.2 .3 33.6 .3 8.1 .3-3.8 .4-1.5 .3 6.5 .3-.9 .3-12.7 .3-14 .3-6.7 .3 39.1 .3-31.1 .3 11.3 .4 4.3 .3-27.1 .3 36.4 .3-50.1 .3 22.8 .3 33.5 .3-14.7 .3 4.5 .4 8.7 .3-22.3 .3 6.3 .3 13.2 .3-11.9 .3-34.8 .3 19.9 .3 29.4 .4-4.8 .3-40.9 .3 25.8 .3 21.6 .3-23.6 .3 23.6 .3-18.5 .3 6.9 .4-26.5 .3 .4 .3 37.7 .3-16.4 .3-10.1 .3 26.5 .3 0 .3-1.6 .3 .7 .4-8.1 .3-.6 .3 .6 .3 7.8 .3-27.5 .3 26.6 .3-7.3 .3-5.6 .4 15 .3-14.5 .3-4.2 .3 2.4 .3-17.9 .3 7.6 .3-7.6 .3 5.8 .4 22.8 .3 4.2 .3-.4 .3-10 .3 11.4 .3-22.5 .3-.1 .3 2.8 .4 10.1 .3 10.1 .3-5.8 .3 5.8 .3-1.5 .3-25.6 .3 19.3 .3-16.4 .3-1.7 .4-6.2 .3 3.8 .3 8.8 .3 19.5 .3-20.8 .3-22.2 .3 27.6 .3-45.1 .4 58.9 .3-3.3 .3-25.1 .3 30 .3 0 .3-13.2 .3 13.2 .3-4.5 .4-5.3 .3 9.8 .3-28.4 .3 16.1 .3-.9 .3-14.9 .3-22.9 .3 10.5 .4 32 .3 1.6 .3 3.8 .3-4.6 .3-10.7 .3-5 .3 23.4 .3-17.8 .3-10.5 .4 13.6 .3 10.5 .3 4.1 .3-.6 .3-20.7 .3 21.4 .3 0 .3-45.8 .4 45.8 .3-3 .3 .9 .3-27.6 .3 20.4 .3 .5 .3-16.1 .3-1.9 .4-6.6 .3 14.4 .3 11.7 .3-3.9 .3 4.5 .3-31.8 .3 37.3 .3-23.4 .4 23.6 .3-59.9 .3 38.5 .3 17.1 .3 2.2 .3 3.1 .3-4.5 .3-22.1 .4 26.6 .3-39 .3 20.2 .3-20.8 .3 13.6 .3 8.8 .3 .2 .3 6.7 .3-13.2 .4 23.5 .3-15.5 .3-11 .3 2.7 .3 15.7 .3-.4 .3-20.2 .3 25.4 .4-15.1 .3-23.6 .3 41.1 .3-24.4 .3 25.3 .3-21.4 .3 13.7 .3-.7 .4-10.9 .3 .7 .3 18.6 .3-9 .3-.7 .3-22.2 .3 13.8 .3 6.3 .4 6.2 .3-31.7 .3 15.9 .3 19.8 .3-51.5 .3 13.1 .3-4.5 .3 29 .3-4.8 .4-23 .3 32.8 .3-10.9 .3-12.7 .3 34.1 .3-36.8 .3-10.6 .3-5.3 .4 45.5 .3-15.6 .3 19 .3 2.5 .3 .6 .3-19.7 .3 17.4 .3-22.2 .4 18.9 .3-20 .3 26.3 .3-13.4 .3-29.5 .3 11.4 .3 31.5 .3-42.2 .4 11 .3-.5 .3 20.8 .3-24 .3 17.4 .3 15.3 .3-5.3 .3 6.3 .3 1.2 .4-35 .3 30.5 .3-3.8 .3 8.3 .3-2.9 .3-14.4 .3 17.3 .3-33.7 .4 15.1 .3-8.1 .3 20.7 .3-16.3 .3 7.8 .3 2 .3-15.7 .3 19.4 .4-11.9 .3 20.3 .3-7.5 .3 7.3 .3-15 .3-8.8 .3-35.1 .3-7.8 .4 60.6 .3 6.7 .3-1.6 .3-.9 .3-33.1 .3 35.6 .3-5.9 .3 5.9 .3 0 .4-8.6 .3-49.4 .3 29.3 .3 23.1 .3-24 .3 29.6 .3-38 .3 38 .4-17.6 .3-13.4 .3 20.2 .3-3.6 .3 1.3 .3-.9 .3 4.4 .3 9.6 .4-39.4 .3 11 .3 2.3 .3 26 .3-8.1 .3-51.4 .3 50.8 .3-9.9 .4 9.7 .3 9 .3 0 .3-24.8 .3 2.8 .3 15 .3-66.1 .3 51.9 .3-23.7 .4 35.6 .3 9.3 .3-41 .3 31.8 .3-17.8 .3 12.7 .3 14.3 .3-4.1 .4-13.7 .3 13.9 .3 1.3 .3 .2 .3-30.3 .3-17.3 .3 16.8 .3 33.2 .4 0 .3-66.1 .3 42.1 .3 15.2 .3-3.5 .3 5.4 .3 3.7 .3 2.1 .4-34.4 .3 18.1 .3 4.9 .3-3.6 .3 3.5 .3-14.6 .3 23.6 .3-5.2 .3 2.8 .4 6 .3-5.4 .3 5.4 .3-18 .3 11.4 .3-10.2 .3 3.3 .3 8 .4-16.3 .3 20.8 .3 1 .3-28.7 .3-29.6 .3 41.8 .3 16.5 .3 0 .4-30.9 .3 30.9 .3 0 .3-7 .3 .9 .3-37.1 .3 33.3 .3-7.6 .4 9.5 .3-21.2 .3 19.4 .3-5.2 .3 2.6 .3-15.9 .3 22.4 .3-9.4 .4 2.9 .3-21.6 .3 10.3 .3 21.5 .3-4.2 .3-13.5 .3 19.9 .3-14.3 .3-3 .4-30 .3 44.5 .3-2.4 .3-10.7 .3 15.9 .3-19.9 .3-2.3 .3 8.4 .4-3.8 .3-12.9 .3 17.7 .3-4.2 .3-23.1 .3 11 .3 24.5 .3 4.6 .4-22.1 .3-30.8 .3 39.9 .3 13 .3-21 .3 18.1 .3-42.6 .3 41.8 .4-48.2 .3 30.3 .3-.9 .3 17.4 .3-1.9 .3-19 .3 21.5 .3-8.5 .3-8.8 .4 15.7 .3 5.7 .3-54.9 .3 55.3 .3-10.9 .3 .7 .3 4.5 .3-24.5 .4 30.2 .3-16.1 .3-4 .3-32.7 .3 48.1 .3-31.8 .3 36.2 .3-35.2 .4 15.9 .3 .9 .3-8.4 .3 27.1 .3-10.4 .3 10.4 .3-33.4 .3 33.4 .4-15 .3 9.7 .3-12.7 .3 8.7 .3-13.1 .3 21.7 .3-6.5 .3 7.2 .3-33.7 .4-4.3 .3-21.3 .3 59.3 .3-51.2 .3 37.4 .3-20.7 .3-11.6 .3 46.1 .4 0 .3-12.6 .3-12.8 .3 25.4 .3-22 .3 15.1 .3-22.7 .3 24.5 .4-13 .3 14.5 .3 .7 .3-8.4 .3 8.5 .3-5.5 .3 6.1 .3-23.5 .4 1.9 .3 17.4 .3-34.4 .3 40.8 .3-55.2 .3 33.3 .3 20.8 .3-12 .3 10 .4-9.3 .3-16.2 .3 28.6 .3-16.9 .3-13.7 .3 10.9 .3 19.7 .3-38.3 .4 20.4 .3 12.9 .3-8.6 .3 3.8 .3-20.8 .3-18.1 .3 31.9 .3-9.3 .4 21.1 .3-4.4 .3-13.2 .3 15 .3-45.8 .3 53.4 .3-23.8 .3 22.1 .4 .8 .3 .5 .3-11.9 .3-.7 .3-21.8 .3 5.6 .3 6.8 .3-1.4 .3 18.6 .4 .1 .3 5 .3-22.4 .3-30.2 .3 31.9 .3 9.4 .3-28.3 .3 26.5 .4 13.2 .3-48.8 .3 48.8 .3 0 .3-7.6 .3 7.6 .3-22.7 .3-17.1 .4 38.5 .3-8.7 .3-26.6 .3 32.8 .3-2.5 .3 6.3 .3-43.2 .3 27.6 .4 7.1 .3-26.6 .3 28.8 .3-22.1 .3 28.4 .3-3.8 .3-9.7 .3 5.8 .4-17.3 .3 25 .3-6.4 .3-4.2 .3-64.4 .3 75 .3-10.4 .3 9.4 .3-35.2 .4 18.8 .3 4.2 .3 7.1 .3-.8 .3-20.1 .3 24.7 .3-31.5 .3 33.8 .4-31.1 .3 12.9 .3 1.1 .3 2.7 .3 .6 .3-.6 .3-11.3 .3-2.7 .4 4.2 .3-6.6 .3 30.8 .3-30 .3 27.8 .3-9.7 .3 4 .3-2.5 .4 10.4 .3-7.8 .3-5.5 .3 13.3 .3-39.9 .3 15.1 .3 18.1 .3-12.2 .3-4.6 .4-.5 .3 7.6 .3 16.4 .3-8.5 .3-24.4 .3 14.9 .3 14.3 .3-6.3 .4-5.9 .3 15.9 .3-16.9 .3-14.9 .3 27.6 .3-13.9 .3-20.3 .3 38.4 .4-4.6 .3-7.3 .3-2.8 .3 3.4 .3 11.3 .3-13 .3-5.1 .3-26.5 .4 11.7 .3 30.1 .3-.5 .3-32.2 .3 15" stroke="#77AC30"/>
<path d="M82.8 253.6l.3 140.1 .3-10.6 .3 8.8 .3 12.3 .4 1.9 .3 0 .3-1.4 .3-34.1 .3 35 .3-18.3 .3-13.9 .3 18.6 .4 13.9 .3 .2 .3-2.9 .3-4.2 .3 .2 .3-.6 .3-20.4 .3 22 .4-.5 .3 3.2 .3-21.3 .3 24.5 .3-15.9 .3-4.6 .3-22 .3 16 .4 26.5 .3-18.9 .3 7.2 .3-10.8 .3-7.9 .3-12.9 .3 29.4 .3-25.1 .3 18.1 .4-3.8 .3 16.4 .3-31.7 .3 40 .3-36.1 .3-12.4 .3 38.6 .3 9.9 .4-27.3 .3 16 .3-19.1 .3 28.4 .3-24.8 .3 17.5 .3 9.2 .3-42 .4 42.1 .3-7 .3-16.5 .3-35.5 .3 46.3 .3-11.7 .3 2.1 .3-18.6 .4 34.6 .3-40.9 .3 37.6 .3 1.4 .3 3.1 .3-7.5 .3-.7 .3-17.9 .3-15.2 .4 43.1 .3 1.9 .3-22.9 .3 6.4 .3-13.5 .3-1.6 .3-5.7 .3 32.3 .4-11.1 .3-13.1 .3 .5 .3-2.1 .3 32.2 .3-9.9 .3-7.3 .3 4.5 .4 6.8 .3 5.9 .3 0 .3-23.9 .3-31 .3 21.2 .3 13.1 .3-33.6 .4 45.5 .3-34.2 .3 41.3 .3-40.7 .3 35.2 .3 .1 .3-1.1 .3-54.3 .4 27.1 .3-3.8 .3 39.1 .3-1.5 .3-16.4 .3 12.6 .3-23.9 .3 14.8 .3 9.1 .4-3.7 .3-17.9 .3-16.4 .3 43.3 .3-20.6 .3 10.5 .3-11.6 .3-3.7 .4-46 .3 71.4 .3-31.3 .3 30.1 .3 1.2 .3-35.7 .3 11.9 .3 2.7 .4 11.9 .3 .5 .3-9.5 .3-63.9 .3 69 .3-24.7 .3 27.1 .3-13 .4-.2 .3 17.6 .3-22.6 .3-13.3 .3 39.1 .3-29.2 .3 8.3 .3 11.8 .3-12.2 .4-3.2 .3 26.4 .3-14 .3 6 .3 7.2 .3-27.3 .3 2.9 .3 22.6 .4-25.7 .3 15.1 .3 3.9 .3-4.1 .3 8.5 .3-6.5 .3 7 .3-15.7 .4 3.9 .3-29.3 .3 27.5 .3-12 .3 5.2 .3 24.1 .3-28.8 .3-3.1 .4 33.7 .3-9 .3-7.4 .3-12.6 .3-17.6 .3 46.7 .3-6 .3-36.4 .3 17.9 .4-.2 .3 22.9 .3-32.8 .3 24.9 .3 9.7 .3-36.8 .3-14.3 .3 37 .4-9.9 .3 4.9 .3 3.4 .3-11.2 .3 16.2 .3 1.8 .3 2.1 .3-44.6 .4 47.6 .3 2.5 .3-4.4 .3 2.1 .3-13 .3-21.1 .3-18.7 .3 54.9 .4-28.3 .3-4.2 .3 25.6 .3-5.6 .3 13.1 .3 .9 .3-12.7 .3-10.5 .3-5.3 .4-10.9 .3 36.2 .3 3.2 .3-26.8 .3 24.6 .3 .7 .3 1.5 .3-44.2 .4 18.3 .3-38.1 .3 40.9 .3-11.3 .3 1.8 .3 8.7 .3-2.5 .3 12.8 .4-11.5 .3 3.3 .3-15.6 .3 36.6 .3-29.1 .3 5.1 .3 12.3 .3 6.2 .4 6 .3-22.6 .3 11.5 .3 11.4 .3-.4 .3-8.6 .3-8.1 .3 14.8 .3-6.1 .4-6 .3 14.4 .3-1.1 .3-18.8 .3 17.5 .3-20.4 .3 9.8 .3-18.9 .4 22.7 .3-16.2 .3-16.3 .3 39.4 .3-3.5 .3-2.6 .3 2.4 .3-13.8 .4-4.7 .3-22.8 .3 26.6 .3 4.4 .3-5.1 .3 12.4 .3-36.8 .3 36.9 .4-47.5 .3-19.3 .3 75.7 .3 0 .3 0 .3-4.1 .3 .1 .3-12 .4-39.3 .3 40.9 .3 .9 .3-18.9 .3 31 .3-18.2 .3 9.5 .3-12.4 .3 5.2 .4-8.2 .3 1 .3 4.3 .3-3.4 .3 3.4 .3 19.5 .3-14.1 .3-36.8 .4 38.9 .3 8.9 .3-32.1 .3 21.7 .3 10.8 .3-1.9 .3 2 .3-10.9 .4-17.6 .3 29.6 .3-22.4 .3 16.5 .3 1.8 .3-10.6 .3 10.1 .3 3.8 .4-.6 .3-17.4 .3-6.2 .3 17.7 .3 1.5 .3-14.8 .3 18.6 .3-3.8 .3-40.4 .4 16.3 .3-1 .3 16.9 .3 13.5 .3-40.8 .3 41.5 .3-12.7 .3 11.2 .4-5.8 .3-4.6 .3-21.9 .3 35.8 .3-17.5 .3-23.2 .3-14.9 .3 37.6 .4 18 .3-2.8 .3-16.5 .3-13.8 .3-29.6 .3 62.7 .3-37.1 .3 33 .4-46.9 .3 38.3 .3-.4 .3-13.8 .3-49.1 .3 69.1 .3 1.4 .3 5 .3-12.8 .4-10.4 .3 20.7 .3-18.8 .3 10.3 .3 6.2 .3 5.3 .3 0 .3-19.5 .4 8.3 .3-39.2 .3 45.8 .3-26.2 .3 21.1 .3 6.5 .3-11.8 .3-37 .4 38.8 .3-3.9 .3-10.5 .3 5.3 .3 8.8 .3 6.1 .3-22.4 .3 29.6 .4-14.7 .3 14.9 .3-19.1 .3 15.6 .3 3.5 .3-5.7 .3 2 .3 3.7 .3-18.4 .4-3 .3-46.4 .3 67.8 .3 0 .3-24.7 .3-10.3 .3 8.7 .3-13.7 .4 38.8 .3-3.7 .3 2.5 .3-16.5 .3-15.9 .3 11 .3 21.6 .3-50.8 .4 48.3 .3-14.1 .3 6.1 .3-45.7 .3 45.7 .3 3.8 .3-9 .3 16.6 .4-38 .3 7.7 .3 8.2 .3 23.4 .3-6.5 .3-12.1 .3 8.7 .3 9.9 .3 0 .4-.1 .3-31.5 .3-1 .3-12 .3 6.6 .3 32.9 .3 5.1 .3-8.8 .4 6.1 .3 2.7 .3-45.9 .3 30.7 .3 9.3 .3-25.2 .3 20.6 .3 1.4 .4 1.6 .3-13.8 .3-21.8 .3 35.8 .3 2.2 .3-11.8 .3 3.2 .3 10.1 .4-7.9 .3 1 .3-40.3 .3-16 .3 56.6 .3-8.9 .3 19.1 .3-39.5 .3 39.5 .4-19.5 .3 10.2 .3-22 .3-.3 .3-9.7 .3 15.9 .3-22 .3 47.4 .4-54 .3 13.9 .3 19.9 .3-21.9 .3 41.4 .3-33.6 .3 8.7 .3-8.9 .4 18.5 .3 1.4 .3-.2 .3 6 .3-15 .3 23.8 .3-23.8 .3-.1 .4-7 .3 23.4 .3-36.5 .3 44 .3-.3 .3-1.7 .3-5.8 .3 1.2 .4-18.7 .3 8.8 .3-26.1 .3 42.6 .3 0 .3-11.8 .3 2.4 .3-.6 .3 10 .4-4.5 .3-33 .3 7.9 .3 4.4 .3 4.9 .3 12.9 .3-15.5 .3-16.3 .4 14 .3 1.7 .3-7.2 .3 17.2 .3-2.8 .3-7.6 .3 23.9 .3 0 .4-9.4 .3-6.8 .3-13.9 .3 30.1 .3-17.7 .3 3.4 .3-10 .3 13.4 .4 7.9 .3-10.1 .3-22.5 .3 35.6 .3-7 .3 5 .3-15.1 .3 6.4 .3-17.6 .4 10.3 .3 2.9 .3 15.1 .3-15.2 .3 8.5 .3-7.5 .3 3.9 .3-4.3 .4 14.6 .3-.5 .3-3.2 .3 3.7 .3-20.1 .3 4.7 .3-29.4 .3 39.3 .4-39.9 .3 22.6 .3-6.7 .3 22.9 .3-17.9 .3 5.8 .3-25.1 .3 26.4 .4-55.4 .3 62.9 .3-8 .3-4.2 .3-21.5 .3 11.8 .3 24.7 .3-17 .3-1.3 .4 13.1 .3-15.7 .3 20.2 .3-12.1 .3-26.4 .3 39.3 .3 .4 .3-8.1 .4-2.6 .3-20.1 .3 4.8 .3 21 .3 9.6 .3-.3 .3-28.8 .3 13.2 .4 6.5 .3 11.4 .3-10.2 .3 .8 .3-11.6 .3 8.6 .3-13.5 .3 24.3 .4-.5 .3-2.1 .3-8.9 .3-27.8 .3 8 .3-7.1 .3 37.4 .3-28 .3 7.5 .4 23.1 .3-2.6 .3-1.3 .3-39.7 .3 42.1 .3-2.8 .3-24.8 .3 8.5 .4 20.6 .3-2.7 .3-.9 .3 3.6 .3-69.5 .3 57 .3-1.4 .3-2.1 .4-17.7 .3-20 .3 42.5 .3 10.6 .3-1.7 .3-32.4 .3 21 .3 3.3 .4-16.3 .3 24.6 .3 2.1 .3-15 .3 1.3 .3 13.7 .3-11.8 .3-4 .3 1.6 .4-14.5 .3 21 .3-23.3 .3 22.7 .3 1.8 .3-.5 .3 1.6 .3-16.8 .4 2 .3 12.1 .3-27.1 .3 22.6 .3-2.9 .3-18.4 .3 33.9 .3-33.1 .4 14.9 .3-17.4 .3 31.2 .3 4.4 .3-16.2 .3 4.5 .3 11.7 .3-15.6 .4 10.9 .3-7.5 .3-8.5 .3 2.5 .3-41.7 .3 42.3 .3-1.1 .3-7.7 .4 9.6 .3-6.6 .3 6.5 .3 7.4 .3 9.5 .3-7.2 .3 7.2 .3-40.2 .3 18.3 .4-8.7 .3 30.6 .3-31.4 .3 10.4 .3-9.1 .3-7.7 .3 11.6 .3 6.3 .4 19.9 .3-18.5 .3 18.3 .3-53.5 .3 10.8 .3 42.9 .3-10.3 .3 5.8 .4-.7 .3-18.2 .3 4.4 .3-12.1 .3 2.6 .3 20.8 .3 2.7 .3-6 .4-21.7 .3 32.3 .3-38.9 .3 37.2 .3-3.8 .3-5.3 .3-14.1 .3 7 .3 15.1 .4-10.4 .3 2.4 .3-7.9 .3-27.4 .3 46.5 .3-16.8 .3-18.3 .3 28.5 .4 5.5 .3 1.1 .3-16.1 .3-5.4 .3 8.5 .3-3.6 .3 10.5 .3-57.8 .4 12.7 .3 51.2 .3-3.7 .3-28.7 .3 23.9 .3-1.8 .3 8.5 .3-3.1 .4 4.3 .3-58.8 .3 59.3 .3-20.6 .3-2.9 .3 23.6 .3-54 .3 26.3 .3 23.5 .4-31.2 .3-3.5 .3 33.5 .3-15.3 .3 17.3 .3 0 .3-25.4 .3 19.8 .4-2.3 .3-9.9 .3 17.4 .3-1.5 .3 .9 .3 2.4 .3-8.7 .3-6.6 .4-10.6 .3 10.9 .3-26.9 .3 19 .3-8.3 .3 33.2 .3 0 .3-17.8 .4 12.1 .3-21 .3 26.7 .3-17.3 .3 .9 .3-28.6 .3 43.5 .3-12.4 .3-1.6 .4 1.5 .3-.8 .3-25 .3 10.3 .3 18.1 .3-10.6 .3 8.9 .3 13.1 .4 0 .3-20.6 .3 2.1 .3 7.7 .3 7 .3-13 .3-1.2 .3 18 .4-15.3 .3 9.6 .3-19.1 .3-3.1 .3 7.4 .3 20.5 .3 0 .3-21 .4 15 .3-18.4 .3 13.5 .3-10.3 .3-12.8 .3-14.5 .3 37.3 .3-.9 .3-1.1 .4-28.3 .3 41.1 .3-28.3 .3 3.8 .3 24.9 .3 0 .3 0 .3-15.8 .4 15.8 .3-10.2 .3 4.9 .3-4.6 .3-15.2 .3-13.3 .3 13.2 .3 25.2 .4-13.7 .3-10.9 .3 6.5 .3-1.5 .3 7.9 .3-5.9 .3-.6 .3 5 .4-23.4 .3 21.9 .3-26.2 .3 21.9 .3 18.6 .3-19.5 .3-11.7 .3 24 .4 3.6 .3 4 .3-7.7 .3-46.7 .3 54.4 .3-14.9 .3-7.9 .3 11 .3 11.8 .4-13.6 .3-9.2 .3-7.1 .3 6.1 .3 14 .3-6.5 .3 12.8 .3-29.9 .4 3 .3 2.1 .3 16 .3 6.2 .3-18.2 .3-37.2 .3 34.1 .3 17.3 .4 8.4 .3-6.4 .3 8.1 .3-13.5 .3 1 .3 12.5 .3-1.9 .3-20.6 .4 22.5 .3-4.4 .3-1.8 .3-14.5 .3 6.7 .3 14 .3-47.1 .3 31.4 .3-33 .4-25.1 .3 73.8 .3-51.2 .3 24 .3 .4 .3 17.6 .3-15.1 .3 18.7 .4-15.3 .3 11.8 .3-27.6 .3 36.7 .3-21.8 .3 10.4 .3 11.4 .3-17.7 .4 17.7 .3 0 .3-2 .3 2 .3-4.1 .3-19.9 .3 23.7 .3-17.8 .4-14 .3 32.1 .3-6.4 .3-39.5 .3-6.1 .3 23.1 .3 9.4 .3 1.9 .3-10.8 .4 22.9 .3-56.5 .3 47.6 .3 14.4 .3-15.2 .3 15.2 .3-32.2 .3 20.6 .4 8.7 .3-59.2 .3 52.8 .3-42.6 .3 50.8 .3-9.7 .3-2.4 .3 5.5 .4 7.7 .3-15.7 .3 11.3 .3-11.4 .3 8.6 .3-10 .3 17.2 .3-.4 .4-1.5 .3-26.7 .3 27.5 .3-13.2 .3 13 .3-28.2 .3 24.6 .3-16.8 .3 8 .4-7.4 .3-12.9 .3 31.5 .3-18.4 .3 1.4 .3 17 .3-24.3 .3 26.8 .4-5.9 .3-42.1 .3 48 .3-5.4 .3-9.6 .3 12.9 .3-26.6 .3 26.6 .4-61.2 .3 62.1 .3-12.7 .3-28.3 .3 41.3 .3-10.9 .3-62 .3 66.5 .4-19.6 .3-3.8 .3 9.3 .3 21.4 .3 0 .3 0 .3 0 .3-12.7 .3 1.5 .4 11.2 .3-15.4 .3-23.2 .3 31.2 .3-7.9 .3-42.3 .3 57.6 .3 0 .4-31.8 .3 8.5 .3-9.4 .3 28.8 .3-23.1 .3 3.1 .3 5.5 .3 17.7 .4-4.7 .3-36.3 .3 8.6 .3 32 .3 1.1 .3-21.4 .3 1 .3-15.5 .4 16.2 .3 6.5 .3-1.2 .3 3.7 .3 10.7 .3-10.4 .3 4 .3-28.5 .4 14.2 .3-15.3 .3 3.1 .3-7.1 .3 34.2 .3-7.4 .3 12.7 .3-36.1 .3 25.7 .4 1.5 .3-17 .3-1.2 .3-1.9 .3 5.6 .3 17 .3-5.6 .3-16.6 .4 29.1 .3-51.7 .3 51.7 .3-1.1 .3-12.1 .3 6.2 .3-19.4 .3 23.9 .4 2.5 .3-48.9 .3 42.2 .3-15.9 .3 12.7 .3-3.1 .3-15.1 .3 28.1 .4-17.7 .3 11.1 .3 1.8 .3-9.1 .3 3.6 .3-53.6 .3 63.5 .3-31 .3 10.2 .4 8.7 .3 8.1 .3-30.6 .3 31.7 .3-52.6 .3 27.9 .3 22.5 .3-.6 .4 6.1 .3-34.9 .3 28.8 .3-21.1 .3 10 .3 11.6 .3-9.4 .3 15 .4-30.3 .3 28.1 .3-37.2 .3 23.6 .3-2 .3 17.8 .3-13.4 .3 13.4 .4-3 .3 1 .3-22.1 .3 24.1 .3-41.1 .3 34.5 .3-10.6 .3-8.6 .3 4.4 .4 21.4 .3-7.6 .3-27.1 .3-7.3 .3 37 .3 .5 .3-26.9 .3 17.8 .4-6.8 .3 2 .3 2.8 .3 15.5 .3-33.5 .3 18 .3-15 .3-24.8 .4 55.4 .3 0 .3-39.7 .3 36.5 .3-43.2 .3 28.6 .3 5 .3 10.7 .4-6.9 .3-11.2 .3-11 .3 5.8 .3 10.2 .3 3.2 .3-13.8 .3 10.5 .3 11.1 .4-5.3 .3 9.5 .3-20.4 .3 .9 .3 7.8 .3-18.8 .3-16 .3 38.6 .4 3.9 .3-26.8 .3 7.1 .3-22 .3 29.7 .3 .8 .3 15.2 .3-10.8 .4 10.5 .3 .3 .3-20.7 .3 6.4 .3 7.8 .3-2.1 .3-2.8 .3 11.4 .4-11.8 .3 3.7 .3-28.4 .3 25.2 .3-15.8 .3 25.4 .3-12.8 .3-20.5 .3 11.2 .4 6.4 .3 13.2 .3-46.2 .3 29.2 .3 9.5 .3-14.8 .3 23.9 .3-9.6 .4 12.2 .3-2.7 .3-57.3 .3 39.6 .3 17.7 .3 2.7 .3-5 .3-3.8 .4-3.2 .3 2.7 .3-4.4 .3 3.2 .3 10.5 .3-22.7 .3 5 .3-56.1 .4 46 .3 27.8 .3 0 .3-34.3 .3 19.7 .3-8.6 .3-24.8 .3 21.2 .3 9.4 .4 .3 .3-6 .3 17.2 .3-16.7 .3 6.7 .3-1.3 .3 11.3 .3-8.4 .4 4.9 .3 8.4 .3-43.7 .3 41.8 .3-41.2 .3 16.1 .3 19 .3 9 .4-3.3 .3-19.3 .3 22.6 .3-9.7 .3 .4 .3-4.4 .3-25.2 .3-1.2 .4 14.6 .3 8.9 .3 4.4 .3-18.7 .3 23.3 .3 4.7 .3-49.6 .3 38.7 .4 2.3 .3-9.8 .3 18.9 .3-9.3 .3 11.7 .3-31.1 .3 8.1 .3 22.6 .3 .4 .4-13.1 .3 13.1 .3-10 .3 10 .3-10.7 .3-48.8 .3 37 .3 22.5 .4-8.7 .3 .7 .3 .9 .3-10.6 .3 17.7 .3-.7 .3 .7 .3-3.5 .4-28.4 .3 20.4 .3 8.8 .3 .9 .3-46.5 .3 36.3 .3-13.2 .3 11.9 .4-24.6 .3 24 .3 9.3 .3 2.7 .3-12.3 .3-2.2 .3-4.7 .3-2.7 .3 12 .4-49.7 .3 54.7 .3 3.7 .3 3.1 .3-19.4 .3 7.8 .3 11.6 .3-64.6 .4 64.3 .3-6.2 .3-4.7 .3-6.4 .3 16.9 .3-28.7 .3 25.3 .3-13.4 .4-1.7 .3 9.2 .3-10.5 .3 17.1 .3-20.3 .3-29.4 .3 48.5 .3-1.9 .4-5.7 .3-6.8 .3 19 .3-28.5 .3-7.1 .3 28.5 .3-37.6 .3 39.1 .3-51.2 .4 30 .3 14.3 .3 1.8 .3 8.9 .3-10.3 .3-35.9 .3 46.4 .3-10.4 .4-.5 .3 12.5 .3-29.3 .3 16.3 .3-5.1 .3 11.3 .3-30.6 .3 17.6 .4 17.6 .3 2.2 .3-4.4 .3-17.1 .3 12.6 .3 .1 .3 7.1 .3 1.7 .4-3.6 .3-4.2 .3-13 .3 15.7 .3-10.8 .3 8.6 .3 2.7 .3-1.2 .3-12.3 .4 9.7 .3 8.4 .3 0 .3 0 .3-49.4 .3 44.3 .3-20.4 .3 25.5 .4-9.8 .3-50.4 .3 48.2 .3-12.5 .3 9.2 .3 6.2 .3 3.7 .3 3.9 .4-11.6 .3 6.9 .3-47 .3 53.2 .3-13.1 .3-32.3 .3 45.4 .3-18 .4 3.9 .3-20.7 .3-20.6 .3 50.2 .3 1.4 .3 3.8 .3-37.4 .3 9.9 .3-2.8 .4 9.4 .3 4.5 .3 12.7 .3-10 .3-8.5 .3-12.1 .3 9.9 .3 24.4 .4-17.1 .3 13.1 .3-22.5 .3 26.5 .3-2.3 .3-51.3 .3 9.6 .3 26.5 .4-7.3 .3 20 .3-9.1 .3 13.9 .3-23.4 .3 11.8 .3-.7 .3 12.3 .4-33.8 .3-13.7 .3 47.5 .3-39.6 .3 12.3 .3 18.1 .3-8.4 .3-2.8 .4 19.2 .3-30 .3 27.7 .3-4.6 .3 5 .3-11.1 .3 14.2 .3-16.9 .3-9.9 .4-.2 .3-20.4 .3 34.3 .3-10.2 .3-14.5 .3 37.8 .3-22.6 .3-8.7 .4-14.9 .3 17.6 .3 6.3 .3-6.2 .3 28.5 .3-29.1 .3 18 .3 .7 .4-49.7 .3 32.8 .3 22.6 .3-46.3 .3 18.8 .3 11.9 .3 .4 .3 0 .4-15.2 .3 13.5 .3 4.5 .3 15.4 .3-29 .3 21.5 .3 9.2 .3-13.8 .3-11.2 .4-14.2 .3 30.6 .3 1.5 .3 3.3 .3-2.5 .3-5.8 .3-3.5 .3 15.2 .4-43.4 .3 43.8 .3-7.8 .3-4.4 .3 3.4 .3-3.1 .3-.2 .3 5.2 .4 6.9 .3 0 .3-36.6 .3 .2 .3-21.3 .3 29.3 .3 26.5 .3-15.8 .4 17.7 .3-10.1 .3-47.8 .3 30.6 .3 13.2" stroke="#4DBEEE"/>
<path d="M82.8 253.6l.3 152.5 .3-13.8 .3 2.5 .3 8.7 .4-5.2 .3-6.6 .3-.1 .3 14.5 .3-27.5 .3 8.8 .3-9.6 .3-24 .4 52.3 .3-14 .3-9.7 .3 8.4 .3-19 .3 32.5 .3-44.7 .3 30 .4-26 .3 35 .3-28.1 .3-8 .3 13.7 .3 29.9 .3-10.5 .3-30.6 .4 22.2 .3-22.5 .3 8 .3 14.7 .3 14.2 .3-5.1 .3 9.6 .3-39 .3-5.7 .4-4.2 .3 48.9 .3-19.5 .3 16.8 .3-31.8 .3-23.3 .3 44.9 .3 11.8 .4-7.4 .3-30.4 .3 6.1 .3 15.5 .3-10.4 .3 27.7 .3-19.8 .3-1.7 .4 1.4 .3-32.1 .3-.5 .3 34.6 .3 11.5 .3-31.7 .3 38.3 .3-28.7 .4 11.1 .3-13.3 .3 18.9 .3 3.3 .3 8.7 .3-24.3 .3 17.1 .3-28.5 .3 33.4 .4-23.5 .3-9.2 .3-3.5 .3 11.9 .3-28.6 .3 37.7 .3-18.2 .3 14.3 .4 1.5 .3 .5 .3 15.5 .3-40.7 .3 19.9 .3-13 .3 21.6 .3-22.6 .4 36.1 .3-14.8 .3-.8 .3 9.8 .3 8.4 .3-28.2 .3 24 .3-16.2 .4 1.7 .3 8.3 .3-67.5 .3 77.2 .3 .7 .3-22.2 .3 .2 .3 14.3 .4-2.3 .3 7.2 .3-29.5 .3-2.3 .3 34.6 .3-1 .3 1 .3 0 .3-57.6 .4 27.2 .3 11.4 .3 .7 .3 18.3 .3-.8 .3-8.7 .3-31.9 .3 41.4 .4-10.8 .3 2.1 .3-53.1 .3 43.4 .3-3.5 .3 16.9 .3-27.2 .3 13.4 .4 15.2 .3 3.6 .3 0 .3-3.8 .3-9.1 .3-17.9 .3 12.5 .3-18 .4 36.3 .3-3.5 .3-2.2 .3 1.6 .3 4.1 .3-38.9 .3 11.6 .3 7.2 .3-6 .4 18.5 .3 1.8 .3-1.2 .3 4.7 .3-20.9 .3 2.5 .3 9.3 .3 7.1 .4-33.3 .3 10.3 .3-12 .3 8.9 .3 2 .3 28.4 .3-11.2 .3-46.7 .4 56.5 .3-20.7 .3-29.5 .3 26.3 .3 25.3 .3-33.4 .3 33.4 .3-11.1 .4-2.8 .3 1.1 .3 6.7 .3-6.3 .3 10.7 .3-23.1 .3 24.8 .3-.6 .3-13.5 .4 14.1 .3-21.1 .3-8.2 .3 29.3 .3-56.4 .3 40.1 .3-29.3 .3 44.2 .4-16.8 .3 13.9 .3 2.4 .3-18 .3 7.9 .3-31.2 .3 22.4 .3-1.5 .4-1.8 .3 24.1 .3-14.9 .3 8.8 .3 6.1 .3-4.8 .3-1.6 .3-8.4 .4 13.5 .3-1.4 .3-4.1 .3 5.5 .3-37.3 .3 19.8 .3 18.8 .3-19.3 .3 4.7 .4 11 .3-7.9 .3-22 .3-4.5 .3-10.4 .3 34.9 .3 4.7 .3-6.3 .4 11.1 .3-36.2 .3 33.6 .3-19.4 .3 9 .3 2.3 .3-1.2 .3 15.9 .4-4 .3 .1 .3-28 .3 31.9 .3-2.5 .3-36.4 .3 34.2 .3-4 .4 7.5 .3-26 .3 20.3 .3-8.5 .3-12.8 .3-5.5 .3-18.6 .3 31.4 .3-24.5 .4 45.4 .3 0 .3-1.8 .3-8.3 .3-12.9 .3 1.5 .3-25.9 .3 31.3 .4 12.6 .3 3.5 .3-8.5 .3-28 .3 13.7 .3 12.6 .3-16.2 .3-23.7 .4 46.9 .3 3.2 .3-56.6 .3 52.7 .3 3.9 .3-16.1 .3 9.4 .3-4.8 .4 4.5 .3 2.7 .3-12.7 .3-4.3 .3 11.5 .3-22.2 .3 32 .3-6.4 .4 6.4 .3-18.4 .3-17 .3-5.4 .3 22.8 .3 6.5 .3-10.8 .3-10.8 .3 21.2 .4-17.9 .3 23.8 .3-3.5 .3-26.9 .3 9 .3 16.8 .3 10.6 .3-31.4 .4 8.8 .3 13.4 .3 9.2 .3-25.5 .3 24.4 .3-13 .3-12.9 .3 27 .4-39.9 .3-9.3 .3 34.1 .3 5.4 .3-5 .3 11.7 .3-68.3 .3 58.9 .4-31.5 .3 9 .3 29 .3-2.4 .3 8.3 .3-31.4 .3 18.9 .3-12.4 .3 23 .4-8.8 .3-15 .3 14.4 .3 11.3 .3-39.1 .3 21 .3 2.3 .3-.5 .4-15.7 .3 32 .3-22.8 .3-36.6 .3 55.8 .3-23.2 .3 5.3 .3-8.7 .4 3.6 .3 8.7 .3-9.3 .3-17.7 .3 36.5 .3-30.7 .3 36.2 .3-28 .4 17.6 .3-4.5 .3 11.7 .3-4.9 .3-3 .3 14 .3-63.6 .3 56.3 .3-1.5 .4 1.5 .3-6.7 .3-28.7 .3 30.1 .3 9.5 .3-41.5 .3 44.6 .3-40.9 .4 15.2 .3 21.3 .3-9.7 .3 12.6 .3-13.5 .3 11.1 .3-20.4 .3 21.8 .4-20.3 .3 5.5 .3-27.2 .3 12.3 .3 16.2 .3-11.3 .3 9.3 .3 7.6 .4-4.6 .3-28.7 .3 23.8 .3 15.6 .3-4.3 .3 4.7 .3-2.3 .3-1.9 .3-23.1 .4-6.5 .3 32.6 .3-3.1 .3 8.2 .3-18.8 .3-56 .3 37.4 .3 21.2 .4 8.1 .3 8.1 .3-5.3 .3 2.7 .3 2.3 .3-34.2 .3 23.7 .3-6.3 .4-30.2 .3 40.3 .3 3.7 .3 3.3 .3-13.3 .3-1.3 .3 14 .3-19.2 .4 .6 .3 19.2 .3-46.1 .3 4.5 .3 41.6 .3-9.7 .3 .4 .3 5.9 .3 3.4 .4-18.4 .3-23 .3 38.8 .3-2.5 .3-3.9 .3 7.6 .3 1.4 .3-51.4 .4 51.4 .3-22.8 .3 16.8 .3-2.3 .3-3.6 .3 5.3 .3-.5 .3 4.8 .4-20.5 .3-15 .3-5.1 .3 42.9 .3-39.3 .3 22.2 .3-6.5 .3 2.7 .4 6.7 .3 13.7 .3-33.3 .3 22.9 .3-45.5 .3 56.4 .3-2.8 .3-22 .3-3.7 .4-3.2 .3-3.9 .3 20 .3 15.6 .3-29.1 .3-9.4 .3 38.5 .3-29.3 .4 29.3 .3-32.9 .3-14.3 .3 33.3 .3-9.2 .3-13.8 .3 36.9 .3-19.8 .4-3.1 .3 10.6 .3-5.2 .3 1.9 .3-6.4 .3 22 .3-17.5 .3-7.6 .4 25.1 .3-26.6 .3-10.5 .3 14.7 .3 22.4 .3-4.9 .3 4.9 .3 0 .4-16.2 .3-9.8 .3 26 .3-16.7 .3 13.1 .3 2.5 .3-19.3 .3 13.3 .3 7.1 .4-4.7 .3-19.1 .3 6.8 .3 1 .3 8.2 .3-29.3 .3 32.3 .3 4.8 .4-1.9 .3-30.8 .3 28 .3-30.1 .3 29.5 .3-18.1 .3 3.7 .3-4.8 .4-11.8 .3 26.9 .3 3.8 .3-20.3 .3 25.9 .3-20.7 .3 20.7 .3-37.8 .4 13.9 .3-15.1 .3 38.9 .3-50 .3 17.4 .3 15.7 .3-3.1 .3 9.6 .3 5.4 .4 3.6 .3-.2 .3-66.9 .3 29.3 .3-9.8 .3 2.7 .3 13.1 .3 28.5 .4-15.6 .3 18.3 .3-.8 .3 2.9 .3-.3 .3-20.1 .3 8.7 .3 11.7 .4-1.3 .3-8.1 .3-.5 .3-5.8 .3-3.7 .3 12.2 .3-30.4 .3-14.4 .4 45.4 .3 1.3 .3-1.8 .3 3.2 .3-12.9 .3-26.7 .3 32.1 .3 8.4 .3-15.3 .4 15.4 .3-6.7 .3 7.2 .3 2.4 .3-55.2 .3 55.2 .3 0 .3-26.4 .4-15.9 .3 21.6 .3-2.1 .3-7.3 .3 6 .3 7.2 .3 13.6 .3-8.8 .4-21.4 .3 6.9 .3-9 .3 6.1 .3 28.8 .3-10.6 .3 8.3 .3-22.2 .4 13.1 .3 2.1 .3 2 .3-29.9 .3 37.6 .3-42 .3 42.3 .3-26.8 .3 20.8 .4 6 .3-32.3 .3 22.7 .3 9.6 .3-3.7 .3-7.5 .3-10.5 .3-.7 .4 22.4 .3-18 .3 11.7 .3-20.2 .3 7.1 .3-8.2 .3-12.8 .3 32.6 .4-7.2 .3 7.7 .3-35.7 .3 24.8 .3-13.5 .3 31.7 .3-.8 .3-17.6 .4-25.2 .3 4.7 .3 31.9 .3 .7 .3-46.3 .3 52.6 .3-37.6 .3 30.3 .3 .1 .4-20.6 .3 17.7 .3 3 .3 7.1 .3-5.5 .3 5.5 .3 0 .3-30.2 .4 12.1 .3 17 .3-7.3 .3 8.4 .3 0 .3-5.5 .3 5.2 .3-61.5 .4 60.1 .3-4.5 .3-45.1 .3 31.3 .3 20 .3-28.8 .3 27.4 .3 1.4 .4-17.3 .3 17.3 .3-13.9 .3-9.4 .3 12.5 .3 7.9 .3-23.3 .3 4.3 .4 4 .3 2.4 .3 12.2 .3-21.9 .3 10.3 .3 13.5 .3-10.8 .3 10.9 .3 1.3 .4-8.6 .3 8.6 .3-5.1 .3-1.6 .3 .8 .3 1 .3-9.2 .3 9.2 .4-.8 .3 5.7 .3-29.6 .3 27.2 .3 2.4 .3-37.1 .3 24.6 .3-1.2 .4-4.8 .3-.4 .3 15.8 .3-47.9 .3 8.6 .3 3 .3 29.1 .3 8 .4-18.9 .3 2.1 .3 18.6 .3-7.7 .3 8.2 .3-9.9 .3 6.6 .3-10.9 .3-11.1 .4 10.7 .3 9.8 .3-19.7 .3 12 .3-10 .3 19.6 .3-21.3 .3 18.3 .4-28.6 .3 18.4 .3-16.3 .3 19.1 .3-26.5 .3 30.7 .3 7.4 .3 1.3 .4-14.4 .3 14.8 .3-12.9 .3 12.9 .3-22.9 .3-8.1 .3 6.9 .3 6 .4 11.4 .3 5.6 .3-23.7 .3 3.2 .3 14.4 .3 7 .3-31.1 .3 24.5 .3-24.4 .4 31.2 .3-18.8 .3 18.8 .3 0 .3-8.2 .3-56.8 .3 60.2 .3-3.2 .4-2.4 .3-29.1 .3 20.3 .3 11.8 .3-5.5 .3-58.1 .3 40.3 .3 25.1 .4-2.9 .3-14.9 .3 19.1 .3-5.3 .3-31.4 .3 31.8 .3-13.4 .3 13.9 .4-19.2 .3 26.9 .3-9.8 .3 10.8 .3-5 .3-16.1 .3 21.1 .3-30.9 .3 28.8 .4 1.1 .3-9.1 .3 5.4 .3-4.7 .3-8.7 .3 18.1 .3-39.5 .3 1.6 .4 15.8 .3 2.7 .3-15.6 .3-3.1 .3 28.1 .3-22 .3 19.9 .3 12.1 .4 0 .3 0 .3-47.7 .3 44.6 .3-22.9 .3 22.5 .3-9.2 .3-10.9 .4 22.9 .3-10.6 .3-18.4 .3 10.4 .3 2.5 .3 16.8 .3-38.7 .3 24.1 .3 10.8 .4-69.1 .3 48.7 .3-33.5 .3 45.5 .3-55.4 .3 18.7 .3 46.3 .3-15.5 .4-8.5 .3 11.3 .3 13.4 .3-26.7 .3 28.6 .3-28.5 .3 28.5 .3-50.6 .4 46.5 .3-18.4 .3 11.3 .3-13.6 .3 5.1 .3 17.3 .3 2.4 .3-5.2 .4-5.9 .3-10.8 .3 16 .3-17.3 .3 16.2 .3 6.5 .3-6.6 .3-12.7 .4 .8 .3-2.6 .3-.4 .3 5.5 .3 6.3 .3 3.1 .3 1.2 .3 2.3 .3-40.3 .4 41.4 .3-44.7 .3 2.9 .3 31.7 .3 .7 .3 11.9 .3-8.7 .3-28 .4 11.3 .3 25.4 .3-8.3 .3-3.6 .3 8.6 .3 3.3 .3-8.5 .3-27.1 .4 4.8 .3 16.7 .3-23.8 .3 18.1 .3-23.4 .3 43.2 .3-14.6 .3 4.1 .4-21 .3 31.5 .3-17.4 .3-8 .3 17.4 .3-39.3 .3 28 .3 15.7 .3-5.9 .4 9.5 .3-8.5 .3-45.2 .3 50.9 .3-.8 .3-5 .3-7.8 .3-28.9 .4 36.3 .3-24.2 .3 33.2 .3-28.3 .3-1.6 .3 29.9 .3 0 .3-15.7 .4 15.7 .3-10.5 .3-24.7 .3 11 .3 24.2 .3-6.6 .3-6.1 .3 6.8 .4-35.5 .3 19.5 .3 19.8 .3-40.9 .3-9.9 .3 7.8 .3 16.1 .3 11 .3-1.9 .4 17.5 .3 1 .3-47.8 .3 28.8 .3 20.1 .3-47.2 .3 30 .3 8.5 .4-29.3 .3 29 .3-43.8 .3 44.6 .3 8.5 .3-59.4 .3 43 .3 9.5 .4 1.1 .3-28.3 .3 16 .3-7.5 .3-3.1 .3 7.8 .3 16.9 .3-4.8 .4-1.3 .3 8.1 .3-19.7 .3 12.9 .3 3.2 .3-27.6 .3 23.1 .3-8.6 .3 18.7 .4-9 .3-12.2 .3 1.5 .3-1.5 .3 9.9 .3-11 .3 15.1 .3-6.3 .4 6.2 .3 7.3 .3-62.4 .3 44.6 .3 5.7 .3 1.6 .3-11.8 .3-2.2 .4 20.8 .3-9.2 .3-16.6 .3 29.5 .3 0 .3-16.7 .3 16.7 .3 0 .4-25.6 .3 5.3 .3 18.5 .3-29 .3 18.5 .3 2.8 .3-29.8 .3 34.8 .3 4.5 .4-35.6 .3 9.1 .3 23.7 .3-33.5 .3 13.9 .3 16.2 .3-24.8 .3 28.1 .4 2.8 .3-1 .3-36.3 .3 8.4 .3-8.8 .3 37.8 .3-10.5 .3 9.6 .4-6.2 .3-5.6 .3-6.7 .3-9.7 .3 29.1 .3-23.5 .3 20.7 .3 2.8 .4-30.7 .3 25.3 .3-31.4 .3 25.4 .3-41.1 .3 36.4 .3 16.1 .3-15.6 .4-8.5 .3 23.5 .3-33.6 .3 34.2 .3-29.4 .3 19.8 .3-.1 .3 7.3 .3-11.8 .4-22.1 .3 33.9 .3 2.4 .3-8.3 .3 7.7 .3-4.2 .3 2.2 .3-27.3 .4 18.7 .3 11.2 .3-4.5 .3-10.2 .3 10.2 .3 4.5 .3-33.6 .3 25.1 .4-16.8 .3 16.2 .3-4.5 .3 4.9 .3-4.9 .3-13.9 .3 10.6 .3 .1 .4 13.1 .3-25.1 .3 18.9 .3-4.4 .3 9.3 .3 5 .3-16.4 .3 2.3 .3 3.6 .4-4.5 .3-24.7 .3 34.7 .3-6.6 .3 11.6 .3-9.5 .3-23 .3 16.5 .4 10.8 .3-32.6 .3 36.3 .3-7.8 .3 5.3 .3-8.1 .3-.7 .3 9.7 .4 2 .3 1 .3-21.8 .3-22.1 .3 41 .3-13.2 .3 16.2 .3-21.7 .4 21.5 .3 .2 .3-14.6 .3 11.6 .3 2.2 .3-21.6 .3 11.3 .3 2.5 .3-42.6 .4 49.7 .3-6.1 .3 1.4 .3 6.2 .3 0 .3-11.5 .3 2.3 .3-34.7 .4 28.5 .3 15.4 .3 0 .3-15.7 .3-4.6 .3 20.3 .3-6.6 .3-32.2 .4 20.1 .3 18.7 .3-46.9 .3 35.9 .3 .8 .3 10.2 .3-25.9 .3-44.3 .4 67.1 .3 .8 .3-22.8 .3-19.2 .3 39.7 .3-13 .3 13.5 .3-12.3 .3-3.6 .4 18.5 .3-7.1 .3 8.6 .3-16.5 .3-31.8 .3 44.5 .3 3.6 .3-2.5 .4-30.8 .3 3.1 .3 17.5 .3 5.6 .3-2.1 .3 8.2 .3-6.5 .3-30.3 .4 25.4 .3-16.6 .3 3.8 .3 25.4 .3-41.5 .3 18.1 .3-8.3 .3 5.7 .4 26 .3-9.4 .3-20.5 .3 29.9 .3-9.3 .3 9.3 .3-15.8 .3 8.8 .3-17.4 .4-31 .3 26.5 .3-11 .3 10.7 .3 6.8 .3 18.9 .3-10.1 .3-11.2 .4 22.5 .3-25.2 .3 25.2 .3-10.8 .3 3 .3-2.3 .3-16 .3 18.6 .4-13.5 .3 22.3 .3-13.4 .3-15.3 .3 7.6 .3-33.7 .3 42.2 .3-7.3 .4 18 .3-28.3 .3 22.9 .3-5.4 .3 13.7 .3-18.2 .3 3.5 .3 7.2 .3 7.5 .4-17.9 .3-7 .3-2.7 .3 27.6 .3-14.1 .3 8 .3 6.1 .3-35.5 .4 15.9 .3-21 .3 37 .3 1.8 .3-17.5 .3-1.6 .3 20.9 .3 0 .4-13.4 .3 8.6 .3-18 .3 10 .3-19.8 .3 20.7 .3 11.9 .3-19.6 .4 5.9 .3-12.5 .3 1.2 .3 7.3 .3-15.5 .3 9.7 .3 9.5 .3-21.3 .4 26.3 .3-2.2 .3 9.7 .3 1.5 .3-72 .3 58.5 .3 10.1 .3-12.1 .3-53.4 .4 54.5 .3 14.4 .3-24.7 .3-22.5 .3 29.8 .3-2.3 .3 3.5 .3 5 .4-31.3 .3 33 .3 3 .3-36.5 .3 32.3 .3-19.9 .3 16.8 .3 13.8 .4-10.9 .3 .9 .3 10 .3-32.2 .3 32.2 .3-18 .3-13.1 .3 8 .4 23.1 .3-28.7 .3 27.5 .3-42.7 .3 43.9 .3-14.1 .3 7.7 .3 6.4 .3-.2 .4-9.6 .3 1.2 .3-20.5 .3 20 .3-29.5 .3 38.5 .3-20.6 .3 8.1 .4-2.7 .3 15.3 .3-17.5 .3-8.7 .3 9 .3 14.9 .3-31.6 .3 33.9 .4-28.6 .3 28 .3-15.7 .3-36.1 .3 32.9 .3 10 .3-14.7 .3 24.2 .4-13.1 .3 13.1 .3-26.9 .3-24.1 .3 40.3 .3 10.7 .3-29.5 .3 28.7 .3 .8 .4-18.2 .3-13.6 .3 31.8 .3-26.3 .3-5.6 .3-1.1 .3 23.3 .3-18 .4 27.7 .3-9.7 .3-49.4 .3 57.1 .3-27.2 .3 12.4 .3 10.6 .3-12 .4-21.5 .3 4.3 .3 21.1 .3 9.2 .3 5.1 .3-15.7 .3 .4 .3-7.9 .4 .1 .3 18 .3-4.5 .3-15 .3-2.3 .3 9.9 .3-21.4 .3 37.8 .3-5.3 .4-25.3 .3 20.9 .3 4.6 .3-10.7 .3 .7 .3 10.7 .3-18.2 .3 1.6 .4 8 .3-68.4 .3 57 .3 20.3 .3 2.1 .3-33.8 .3 14.6 .3 6.5 .4 15.3 .3-24.6 .3 24.6 .3-10.1 .3 10.1 .3-9.7 .3 4.2 .3-19.1 .4 15.1 .3 7.9 .3-12.2 .3 13.8 .3-7.8 .3 7.8 .3-47.2 .3 33 .3 4.2 .4 5.6 .3-8.2 .3 7.1 .3-14.3 .3 8.5 .3-22 .3-5.5 .3 15.3 .4-5.7 .3 7 .3 7.9 .3 3.2 .3 1.1 .3 7.2 .3-27.7 .3-6.2 .4 24 .3-6.7 .3 18.7 .3-37.4 .3-26.7 .3 54.4 .3-1.6 .3-51.9 .4 53.1 .3-30.2 .3 29.6 .3-7.4 .3-19 .3-20.6 .3 48.4 .3-6.6 .4 6.6 .3-4.2 .3 3.1 .3 11.1 .3-57.7 .3 36.4 .3 7.3 .3 9.1 .3 1 .4-20.9 .3 9.5 .3 13.3 .3-1.7 .3-11.5 .3-11.3 .3 4.3 .3 15.7 .4 1.6 .3 3.9 .3-27.7 .3 13.6 .3-1.6 .3 11.9 .3-29 .3 29.8 .4-32 .3 17.5 .3 13.5 .3-34.4 .3 17.3 .3 10.6 .3-14.7 .3-9.2 .4 23.6 .3 6 .3 5.8 .3-39.6 .3 7.5 .3-20.6 .3 52.7 .3-32.1 .3 32.1 .4-33.1 .3 7.1 .3 21 .3-10.6 .3 15.6 .3-26.5 .3 17.1 .3 9.4 .4-6.4 .3 6.4 .3-18.2 .3 17 .3-38.8 .3 33 .3 5.6 .3-40.9 .4-10 .3 52.3 .3-6.8 .3-41.1 .3 33.2 .3-6 .3 3.2 .3-31.9 .4 49.4 .3-29.9 .3-39.9 .3 26.1 .3 43.7" stroke="#A2142F"/>
<path d="M82.8 372.7l.3 30.4 .3-17.6 .3 20.6 .3-2.4 .4 2.4 .3-38.3 .3 17.6 .3-.5 .3 7.2 .3-7.7 .3 21.7 .3-22.2 .4-14.5 .3 36.7 .3-12.8 .3-12.2 .3-15.3 .3-.6 .3 35.2 .3-4.3 .4-33.8 .3 30.5 .3 13.3 .3-6.5 .3-38.9 .3 13.2 .3-49.9 .3 77.1 .4-43.5 .3 37.1 .3 11.4 .3-11.6 .3 11.6 .3-27.2 .3 27.2 .3-25.3 .3 13.6 .4-14.7 .3 1.5 .3-32.3 .3 28.5 .3 24.3 .3 4.4 .3-.2 .3-28.9 .4 23.4 .3-25.4 .3 6.3 .3-32.2 .3 51.8 .3-21.7 .3-9.8 .3 36.7 .4 0 .3 0 .3-2.7 .3 2.7 .3-32.9 .3 24.1 .3-32.7 .3 30.6 .4 5.6 .3 2.6 .3-51.5 .3 42.4 .3-11.6 .3 2.3 .3 10.6 .3 5.5 .3-2.1 .4-11.4 .3 2.9 .3 15.6 .3-32.7 .3 26.5 .3-13.1 .3 11.6 .3-55.1 .4 62.8 .3-56 .3-4 .3 55.6 .3-17.8 .3-24 .3 16.9 .3 22 .4-32.9 .3 1.9 .3 34 .3 4.3 .3-19.4 .3 15.9 .3-29.6 .3 6.5 .4-1.6 .3 22.7 .3-.7 .3-5 .3-5.5 .3 16.7 .3-.3 .3-37.9 .4 38.2 .3-5.5 .3-13.7 .3 19.2 .3 0 .3-9.5 .3-2.3 .3-3.2 .3 .4 .4-20.2 .3-.5 .3 32.8 .3-31.6 .3 29.7 .3 3.8 .3-51.8 .3 48.5 .4-7.4 .3 11.3 .3-22.5 .3 16.2 .3-10.5 .3 11.4 .3 5.4 .3-3.4 .4-59.3 .3 34.6 .3 17.6 .3 4 .3 6.5 .3-3.5 .3-27.1 .3 30.6 .4-17.3 .3-25.9 .3-3.9 .3 47.1 .3-1.6 .3-23.4 .3 3.2 .3 17.1 .3-81.4 .4 59.1 .3 8.6 .3-1.5 .3 19.9 .3-43.8 .3 43.8 .3-22.1 .3-10.5 .4 17.6 .3-1.2 .3-13.6 .3-40 .3 52.1 .3 8.5 .3 4.1 .3-6.3 .4 2 .3-1.4 .3 3.5 .3 5 .3 2.3 .3-24.6 .3 14.4 .3 2.4 .4-17.9 .3-10.9 .3 13.5 .3-7.1 .3 25.8 .3-24 .3 5.3 .3 11.1 .3-30.4 .4 24.7 .3-32.1 .3 37.6 .3-27.7 .3 29.5 .3 9.6 .3 .8 .3 0 .4-22.2 .3-17.2 .3 36.8 .3-29.5 .3 21.8 .3-47.9 .3 35.4 .3-3.6 .4 19.4 .3-9.4 .3-4.8 .3-17.8 .3 38 .3-4.5 .3-58.2 .3 59.1 .4-29.6 .3-7.3 .3 39.7 .3-6.9 .3 7.7 .3 1 .3-17.7 .3 17.7 .3 0 .4-63.2 .3 63.2 .3-25.8 .3 17.1 .3 6 .3-51.2 .3 53.9 .3 0 .4 0 .3-24 .3 19.9 .3 2.2 .3-14.9 .3 14.3 .3-29.8 .3 19 .4-23.2 .3 33.2 .3-63.4 .3 49 .3-5.7 .3 23.4 .3-7 .3-19.6 .4 8.6 .3 18 .3 0 .3-1.4 .3-22.7 .3 24.1 .3-26.9 .3 15.1 .3 11.4 .4-6.1 .3-4.1 .3-5.7 .3 4 .3-10.1 .3-19.1 .3 23.3 .3 18.2 .4-11.3 .3-42.1 .3 18.7 .3 14.9 .3-3.7 .3 15.1 .3-15.5 .3 23.9 .4-6.5 .3 5.9 .3-23 .3 20.6 .3-12.5 .3 11 .3-17.5 .3 3.1 .4-10.6 .3 18.6 .3-24.9 .3 27.8 .3 8 .3-5 .3-38.9 .3 43.9 .4-18 .3 18 .3-7.8 .3-16 .3 23.8 .3-7.9 .3 7.9 .3-35.4 .3 19 .4 11.8 .3-12.1 .3 10.5 .3-26.6 .3 32.8 .3 0 .3-8.5 .3-14.8 .4 10.5 .3-15.2 .3 6.2 .3-15.9 .3 18.1 .3 19.6 .3-8.2 .3-2.2 .4 3.7 .3 2 .3 3.2 .3-5.4 .3 3.7 .3 .2 .3-3.6 .3 2.6 .4-33.6 .3 7.3 .3 27.7 .3-8.4 .3 3.9 .3-17.4 .3-2.8 .3 27.2 .3-23.3 .4 11 .3 12.2 .3-7.5 .3 3.4 .3 1.6 .3-32.4 .3 .1 .3 34.5 .4-42.1 .3 42.6 .3-44.3 .3 17 .3 26.9 .3-24.2 .3 24.6 .3-17.7 .4-1.5 .3-13.9 .3 29.2 .3 2.4 .3-1.7 .3-7.4 .3 8.9 .3-22.8 .4-.5 .3 12.4 .3 3.8 .3-1.9 .3-5.1 .3 7.6 .3 8.2 .3-22.2 .3 .9 .4 21.3 .3-22.2 .3 14.5 .3-23.3 .3 9.2 .3-1.1 .3-.4 .3-9.9 .4 33.2 .3-9.2 .3-15.8 .3-11.8 .3 36.8 .3-8.4 .3-12 .3 4 .4 13.1 .3-2.8 .3-10.6 .3-6.7 .3-15.5 .3 18.1 .3-15.4 .3 12.5 .4 18.3 .3-6.7 .3-35.4 .3 35.1 .3 2 .3-11.3 .3-28 .3 27.6 .3 5.8 .4 16.3 .3-13.1 .3 10.9 .3-24 .3 26.2 .3-28.7 .3 23.6 .3 3.1 .4-8.4 .3 5.1 .3-12.5 .3-17.7 .3 24 .3-18.8 .3 9.2 .3 13.3 .4 7.8 .3-21.7 .3 4.4 .3 14.2 .3-18.1 .3 20.9 .3-6.1 .3 5.1 .4-28.2 .3 26.5 .3-13 .3-21.4 .3 24.6 .3-1.5 .3-25.2 .3 7.9 .3 18.6 .4-6.2 .3-32.1 .3 20.5 .3 30.8 .3-12.2 .3-27.5 .3-11.9 .3 45 .4-16.2 .3 14.9 .3-13.1 .3 8 .3 10 .3-16.3 .3 19.3 .3-33.2 .4 33.2 .3 0 .3-24 .3 20 .3-30.6 .3 27.2 .3-8.4 .3-6.5 .4 10.4 .3 4.7 .3-13.8 .3 11 .3 10 .3 0 .3-21.2 .3 5.8 .3 3.7 .4-14.5 .3-10.3 .3 23 .3-8.1 .3 9.6 .3 9.9 .3-14.5 .3-3.8 .4 16.1 .3 4.3 .3-35.3 .3 .8 .3 20.1 .3-34.8 .3 10.9 .3 6.3 .4 24.1 .3-6.1 .3-29.3 .3 43.3 .3-29.8 .3-23.9 .3 28.1 .3 12.7 .4-10.6 .3 6.5 .3-.3 .3-1.7 .3-12.6 .3 31.6 .3-10.9 .3 6.9 .4 3.5 .3-24.1 .3-19.9 .3 12.6 .3 1.8 .3 28.3 .3-16.5 .3 8.3 .3-4.8 .4 5.1 .3-4.2 .3 13.9 .3 0 .3-13.9 .3 13.9 .3-6.7 .3-17.2 .4 23.9 .3-25.5 .3 19.5 .3 4.7 .3-39.7 .3 39 .3-18.7 .3 .6 .4 16.8 .3-1.3 .3 3.6 .3-28 .3-19.3 .3 35.5 .3 5.7 .3-15.9 .4 7.4 .3 15.6 .3-1.6 .3-20.7 .3 7.8 .3-1.9 .3-3.9 .3-2.7 .3-.6 .4 8.1 .3 13.5 .3-3 .3-6.4 .3-5.6 .3 2.6 .3-58.3 .3 49.9 .4-12.8 .3 30.9 .3-8.9 .3-11.7 .3-9.2 .3 33.1 .3-2.2 .3-5.8 .4 9.4 .3-35.9 .3 23.4 .3-3.2 .3-27.1 .3 1.6 .3 14.9 .3-3 .4 8.3 .3 21 .3 0 .3-42 .3 42 .3-4.7 .3-11.4 .3-42.6 .3 30.8 .4 11.3 .3 4.1 .3 1.7 .3 6.1 .3-62.9 .3 67.6 .3-3.3 .3-13.5 .4-9.3 .3-2.5 .3 28.6 .3-31.2 .3-17.1 .3 27.2 .3 13.8 .3-23 .4-7.3 .3 29.8 .3-3.2 .3-3.3 .3-25.9 .3 23 .3-16.3 .3 16.9 .4 13.7 .3-17.5 .3 5.7 .3-48.3 .3 60.5 .3-20.7 .3 19.3 .3-7.6 .3 11.5 .4-5.2 .3-19.4 .3 7.2 .3-18.9 .3 36.3 .3-5 .3 1.2 .3 2.6 .4-26.1 .3 24.2 .3-4.8 .3-19.6 .3 18.6 .3-2 .3-10.2 .3 19.1 .4-1 .3-1.7 .3-29 .3 20.8 .3-5.8 .3 18.7 .3 0 .3-30.1 .4 5.9 .3 22.1 .3 .8 .3 1.3 .3-30.4 .3 24.7 .3-5.8 .3-49.3 .3 33.2 .4 26.1 .3-9.5 .3-.4 .3 11.4 .3-44.3 .3 44.3 .3-19.1 .3-36.5 .4 33.4 .3 13.1 .3 9.1 .3-13.6 .3 13.6 .3 0 .3-11.7 .3 11.7 .4-27.8 .3 15.4 .3 12.4 .3-21.3 .3 12.6 .3 1 .3 7.7 .3 0 .4 0 .3-65.3 .3 42.9 .3-23.4 .3 45.8 .3-32.4 .3 21.3 .3-26.8 .4 33 .3-1.5 .3-11.3 .3-8.8 .3-6.5 .3 18 .3-32 .3 27.6 .3-8.5 .4 5.2 .3 17.7 .3 5 .3-39 .3 32.3 .3-10 .3-26.1 .3 18.5 .4-12.1 .3 29.5 .3-20.8 .3-7 .3 14 .3 6.4 .3-8.5 .3 12.7 .4 10.1 .3-15 .3 1.4 .3-1.2 .3-18.3 .3 14 .3-20.1 .3-9.7 .4 44.9 .3-14.2 .3 15.1 .3 3.1 .3-17.3 .3-1.1 .3-9.1 .3-2 .3 26.8 .4-9.7 .3-25.1 .3 20.4 .3-7.1 .3 18.6 .3 1.7 .3-1.1 .3 5 .4 0 .3-8.2 .3-9.2 .3 17.4 .3-.4 .3-9.5 .3-12.9 .3 19.9 .4-9.3 .3-32.8 .3 44.2 .3-1.5 .3-22.9 .3 25.2 .3-29.1 .3-20 .4 40 .3-31.1 .3-1 .3-11.8 .3 36.1 .3 5.9 .3 9.7 .3-28.1 .3 19.7 .4 9.7 .3-17.1 .3 7.2 .3-23.6 .3 5.9 .3 14.6 .3 13 .3-9.9 .4 6.7 .3-21.2 .3 12.8 .3-12.3 .3 23.9 .3-12.3 .3-13.3 .3 20.3 .4-4.2 .3-11.3 .3-23.1 .3 38.7 .3-15.7 .3-.6 .3-5.8 .3 20.2 .4 1.3 .3 5.8 .3-5.3 .3-4.3 .3-7.9 .3-2.8 .3 2.7 .3-16.8 .3-13.1 .4 42.1 .3-5.8 .3 11.2 .3-4.2 .3-20.4 .3 7.1 .3 3.4 .3-13.2 .4 27.3 .3-4.3 .3-16.1 .3-8 .3-27.4 .3 15.8 .3 18.2 .3 17.1 .4 3.2 .3-30.5 .3 18.1 .3-12.9 .3-3.4 .3 22.1 .3 5.6 .3-28.3 .4 9.1 .3 18.5 .3-42.2 .3 33.1 .3 5.5 .3-2.3 .3-11.2 .3-45.9 .3 66.2 .4-5.1 .3-13.5 .3-24.5 .3-10 .3 43.8 .3-24.2 .3 33.5 .3-42.2 .4 32.5 .3-21.8 .3 11.5 .3-1.8 .3 15.8 .3-21.2 .3 17.9 .3 3.9 .4 1.7 .3-8.1 .3 2.8 .3-13.1 .3 4.1 .3-8.2 .3 7.4 .3-11.6 .4 14.5 .3-14.4 .3 20.1 .3-16.2 .3 9.4 .3 17 .3-2.7 .3-13.5 .4 16.2 .3-43.2 .3 8.1 .3 9.2 .3 23.2 .3-2.7 .3 5.4 .3 0 .3-17 .4 10 .3-8.7 .3 1.5 .3-17.5 .3 31.7 .3-43.3 .3 43.3 .3 0 .4-32.5 .3-1.4 .3 1.1 .3 4.9 .3-12.8 .3 26.2 .3-33.2 .3 37.7 .4-21.6 .3 28.6 .3-15.7 .3 16.3 .3 1.7 .3-22.9 .3 10.6 .3 12.1 .4-21.8 .3 18 .3-40.3 .3-3.8 .3 25 .3-12.8 .3 17.8 .3 11.9 .3-2.1 .4-5 .3-8.6 .3-2.7 .3-2.1 .3 27.4 .3-1.7 .3-8.5 .3 8.7 .4-43.9 .3 35 .3-50.5 .3 60.9 .3-26.3 .3 26.3 .3-4.9 .3 4.9 .4-3.2 .3-13.9 .3 7.7 .3-37.9 .3 29.7 .3 9.3 .3-.1 .3 7.1 .4-13.2 .3 10.2 .3-19.3 .3-7 .3-32.1 .3 62.7 .3-24 .3 1.2 .3-8.9 .4 10.7 .3-16.6 .3 4.2 .3 22.9 .3-16.3 .3 16.9 .3 .2 .3-32.4 .4 40.4 .3-28.4 .3-23.3 .3 47.9 .3-6 .3-8.5 .3 20 .3-28.2 .4 15.1 .3 3.8 .3-18.6 .3 25.8 .3 2.1 .3-29 .3 29 .3-10.8 .4-31 .3 41.8 .3-.4 .3-29.4 .3 14.2 .3 12.2 .3-18 .3-21.4 .3 18.8 .4-6.9 .3-.8 .3-7.3 .3 19.9 .3-.7 .3-1.1 .3-31.9 .3 35.1 .4 17.7 .3-19.8 .3-37.8 .3 37.8 .3-19.2 .3 39 .3 0 .3-8.8 .4-11.2 .3-30 .3 25.3 .3-16.7 .3-3.5 .3 19.3 .3-27.5 .3 25.6 .4 25.8 .3-25.3 .3 .7 .3-8.6 .3 26.8 .3-17.1 .3-29.1 .3 34.9 .3-.5 .4 19.6 .3-32.9 .3 12.7 .3 11.3 .3 2.2 .3-16.1 .3 5.2 .3 17.9 .4-16.3 .3-10 .3 18.2 .3 6.1 .3-18.1 .3 4 .3-14.9 .3 31 .4-22.8 .3-13 .3 35.8 .3-6.3 .3 2.5 .3-6.4 .3-.6 .3 7.7 .4 3.1 .3-21.1 .3-18.8 .3 31.6 .3-44.1 .3 11.9 .3 14.3 .3-14.3 .4 24.1 .3-17.4 .3 26.6 .3-5 .3-16.3 .3 13.9 .3 5.7 .3-1.9 .3 10.8 .4-41.6 .3 16.7 .3 23.5 .3-15 .3 6.5 .3-7.9 .3 3.4 .3-12.7 .4 22 .3-12.4 .3-2.2 .3 2.4 .3 14.4 .3 1.6 .3-46.3 .3 47.3 .4-12.5 .3-26.3 .3 29.3 .3 6.1 .3-12.8 .3-10 .3-1 .3-1.6 .4 1.7 .3-13.7 .3 41.1 .3-31.1 .3 13.3 .3 17.8 .3 0 .3-6.1 .3-4.5 .4-57.6 .3 40.8 .3 20.8 .3 6.6 .3-41.8 .3-18.4 .3 29 .3 31.2 .4-26.5 .3 24.2 .3-20.8 .3 22.3 .3-.3 .3-27.4 .3 6.9 .3 5.9 .4-18.9 .3 24.9 .3-10.8 .3 18.2 .3-21.2 .3-7.2 .3 23.9 .3-2 .4-2.1 .3 3 .3-18.5 .3 17.7 .3-21.7 .3 26.1 .3-2.3 .3-29.4 .3 24.3 .4 11.7 .3-.4 .3-47.4 .3 45.2 .3 2.6 .3-17.4 .3 16.6 .3-1.2 .4-2.9 .3-4.5 .3-13.5 .3-2.3 .3 20.9 .3 .8 .3 3.5 .3-9.1 .4-1 .3-15.5 .3 25.6 .3-20.1 .3 12 .3-1.6 .3-11.6 .3-10.7 .4 5.8 .3 26.2 .3-41.5 .3 4.4 .3 21.4 .3 15.7 .3-13.2 .3-5 .3 12.2 .4-40.1 .3 45.5 .3-5.9 .3-12.8 .3-4 .3 15.7 .3-.3 .3-31.3 .4 19.4 .3-25.9 .3-3.4 .3 33.9 .3 9.2 .3-.6 .3-1 .3-15.8 .4 7.3 .3-11.4 .3 16.5 .3-11.6 .3 8.1 .3-3.3 .3 4.8 .3-10 .4-8.8 .3 26 .3-11.2 .3 17 .3-.4 .3 .4 .3-11.5 .3-28.2 .3 30.6 .4 3.9 .3 5.2 .3-2.2 .3-36.7 .3-9.4 .3 13.2 .3 35.1 .3-25.6 .4 25.6 .3-17 .3 17 .3-36.9 .3 25.2 .3 .6 .3-3.2 .3-35.1 .4 47.2 .3-8.2 .3 5.2 .3-12.3 .3-21.8 .3 37.5 .3-3 .3 3.1 .4-15.9 .3 17.6 .3-21.2 .3-4.3 .3-20.5 .3 46 .3-11.1 .3 11.1 .3-6.6 .4 4.6 .3-14.6 .3 6.9 .3 9.7 .3-4.5 .3 4.5 .3-3.6 .3-8.7 .4 8.6 .3-41.8 .3 31.5 .3 14 .3-1.8 .3 1.8 .3-25.8 .3 25.8 .4-21.2 .3 20.7 .3-8.5 .3-5.9 .3 14.9 .3-8.8 .3-42.5 .3 51.3 .4-42.5 .3 25.9 .3 15.3 .3-35.3 .3 17.4 .3-8.2 .3 6.9 .3-16.2 .4 20 .3 9.7 .3-2.8 .3 5.2 .3-13.6 .3 12.2 .3-32.6 .3 14.1 .3-2.2 .4-4.5 .3 22.8 .3-15.3 .3-6.3 .3 30 .3-43.9 .3 38.1 .3 4 .4-15.5 .3-19.6 .3 5.7 .3 0 .3 31.2 .3-20.6 .3 8.9 .3 10.1 .4-20.1 .3 21.7 .3-26.7 .3 2.1 .3-9.5 .3 .7 .3 30.3 .3 3.1 .4-1.2 .3-39.5 .3 40.4 .3-27.9 .3 8 .3 5.5 .3 14.7 .3 0 .3-16.2 .4 2 .3 1.1 .3-20.3 .3 17.8 .3-28.7 .3 38.8 .3-5.4 .3-5.1 .4-9.8 .3 14.6 .3-23.6 .3 12.5 .3 21.2 .3-14.8 .3 2.3 .3-12.5 .4 14.2 .3 11.9 .3-1.4 .3-2.1 .3-16.4 .3 13.2 .3-9 .3 8.6 .4-18.2 .3 11.2 .3-38.5 .3 27.5 .3 9.8 .3-4.6 .3 3.6 .3-6.6 .3 .2 .4-18.6 .3 11.8 .3 10.6 .3 10.3 .3 .6 .3-12.4 .3 12.3 .3-8.9 .4 9.8 .3-20 .3 22.4 .3-25.7 .3-14.8 .3 27.9 .3 13.1 .3 4.3 .4-16.9 .3 16.9 .3-29.3 .3 28.5 .3-56 .3 42.9 .3-9.7 .3 2.2 .4 12.7 .3-34 .3 39.4 .3-17.4 .3-11.7 .3 22.1 .3-12.9 .3 15.8 .3 7.4 .4-31.5 .3-26.3 .3 33.2 .3 16.5 .3-32.8 .3 20 .3-37.9 .3 51.6 .4-17.2 .3 2.7 .3 21.7 .3-14.4 .3-.2 .3-27.2 .3 19.4 .3 5.9 .4-10.5 .3 10.5 .3 13.6 .3-.1 .3-.2 .3-25.6 .3 14.7 .3 .2 .4-15.7 .3 29.6 .3-20.9 .3 7 .3-11.6 .3 19 .3-1.8 .3 4.8 .3-13.2 .4 14.7 .3 1.4 .3-11.5 .3-46.2 .3 45.5 .3 12.8 .3-18.9 .3-60.2 .4 75.9 .3-9.5 .3 9 .3-10 .3-1.8 .3 11.5 .3 4 .3-42.9 .4 36.2 .3-2.5 .3-13.7 .3 4.7 .3 2.6 .3 12.5 .3-5.4 .3-.4 .4-17.8 .3 12.8 .3-29.9 .3 3 .3 40.8 .3-2.5 .3-30.1 .3 16.3 .4 7.1 .3-19.1 .3 24.4 .3-38 .3 29.8 .3 6.9 .3-8.5 .3 7.2 .3-28.6 .4 19.3 .3 3.8 .3 12 .3-14.1 .3 11.4 .3 2.7 .3-.6 .3-7.8 .4-5.2 .3-1.9 .3-41.8 .3 53 .3 4.3 .3-46 .3 46 .3-25.9 .4-3.7 .3 19.1 .3-1.1 .3-29.6 .3 35.8 .3-12.4 .3-12 .3 22 .4-9.6 .3-5.7 .3 22.9 .3-47.6 .3 47.8 .3-34 .3 34 .3-11.5 .3 11.5 .4-10.6 .3-1 .3 8.1 .3-.1 .3-14.2 .3-23.2 .3 35.8 .3-25.2 .4 12 .3 18.4 .3 0 .3-35.9 .3 28.7 .3-15.2 .3-13.2 .3 18.6 .4-23.1 .3-8.7 .3 43.4 .3-15 .3 8.6 .3 11.8 .3-22.9 .3 3.4 .4 16.8 .3-.6 .3 1.1 .3 2.2 .3-33" stroke="#0072BD"/>
<path d="M82.8 352.4l.3 8.1 .3 45.4 .3-8.8 .3 5.7 .4-13.5 .3-13.1 .3 15.8 .3 12.7 .3-8.4 .3 4.2 .3 4.8 .3-13.1 .4 13.5 .3-25.3 .3-80.3 .3 104.2 .3 1.8 .3 0 .3-2.4 .3-6 .4 8.4 .3-31.1 .3 29.5 .3-51.7 .3 10.5 .3 4.1 .3 35.4 .3-22.1 .4 8 .3 10.2 .3 6.1 .3 1.1 .3-30.6 .3 30.6 .3-2 .3-1.4 .3-7.4 .4 10.8 .3-36.3 .3 27.4 .3 5 .3-2.9 .3-8.3 .3 9.3 .3-12.4 .4-34.3 .3 12 .3 14.8 .3-38.5 .3 45.2 .3 9.7 .3 8.9 .3-39.9 .4 2.2 .3 25 .3-6.6 .3 12.9 .3 6.8 .3 0 .3-6.2 .3-9.9 .4 16.1 .3-60.5 .3 47.7 .3 12.8 .3-2.7 .3-9.2 .3-11.3 .3 23.2 .3-8.2 .4-26.7 .3 31.9 .3-16.1 .3 15.4 .3 2.5 .3-8.5 .3-1.4 .3 9.3 .4-.2 .3 2 .3-48.7 .3 45 .3-28.7 .3-23.3 .3 55.7 .3-3.4 .4-2.2 .3-34.3 .3 3.6 .3 25.6 .3-14.8 .3-6.6 .3 10.7 .3-47.5 .4 45 .3 18.1 .3-21.3 .3 27.1 .3-38.2 .3 8.6 .3 24.7 .3-18.2 .4 5.7 .3 .8 .3 15.3 .3-15.5 .3-21.6 .3-3.9 .3 11.4 .3 12.1 .3 14 .4 0 .3-18.1 .3-15.7 .3 15.8 .3 8.2 .3 12.8 .3 1.8 .3-35.7 .4 16.9 .3 3.8 .3 9.3 .3 1 .3-32.1 .3-.6 .3 28.4 .3-12.6 .4 19.4 .3-18.9 .3 21.1 .3-55.1 .3 35.6 .3 18.5 .3-10.9 .3-19.5 .4 25.6 .3 5.8 .3-12.6 .3 .4 .3 12.2 .3-12.5 .3-9.1 .3 8.5 .3 13.1 .4-24.2 .3-29.3 .3 33.6 .3-11 .3 12.8 .3-4.2 .3 13.7 .3 8.5 .4 .1 .3-25.6 .3-8.8 .3-5.9 .3 32 .3 8.3 .3-5 .3-19.7 .4 24.7 .3-25.5 .3 10.5 .3 7 .3 3.4 .3-46.7 .3 24.8 .3-21.7 .4-18.6 .3 65.6 .3-3.8 .3-52.9 .3 57.9 .3-8.6 .3 8.6 .3 0 .3-52.8 .4 48.2 .3-2.9 .3-22.1 .3 17.5 .3-4.3 .3 2.4 .3-18.2 .3 23.7 .4 8.5 .3-22.4 .3 2 .3-3.4 .3 23.8 .3-.1 .3-.6 .3-15.5 .4 2.7 .3 6.3 .3 5.4 .3-.7 .3-5.2 .3-30.3 .3 34.5 .3-24.8 .4-3.3 .3 15.5 .3 16.1 .3-30.8 .3 30.8 .3-1 .3-12.4 .3 13.4 .3-.7 .4-9.2 .3 9.9 .3-.1 .3-5.6 .3-7.2 .3-.3 .3 1.6 .3 11.2 .4 .4 .3-11.2 .3 .1 .3-15.3 .3 16 .3 0 .3 9.5 .3-1.4 .4-22.3 .3 19.9 .3-5.6 .3 3.6 .3-9.2 .3 .3 .3-40.9 .3 43.9 .4 12.6 .3-11.6 .3-31.1 .3 20.6 .3-32.1 .3 43.2 .3 4.2 .3-29.3 .3 17.9 .4 11.2 .3-15.3 .3-23.8 .3 32.9 .3-22.3 .3 8 .3 22.3 .3 5.2 .4-2.2 .3 2.1 .3-10.1 .3 9.9 .3-6.2 .3-12.9 .3 19.4 .3-10.5 .4-8 .3-7.8 .3 14.9 .3-10 .3 11.4 .3 4.1 .3 5.9 .3-4.7 .4-5.7 .3 9.2 .3-29.4 .3 6.9 .3 22 .3-56.5 .3 58.2 .3-37.9 .4 36.8 .3-14.1 .3-17 .3-32.8 .3 6.1 .3 58.9 .3 0 .3-4.1 .3-12.7 .4-.5 .3-6.7 .3-1.5 .3 21.7 .3-12.7 .3 16.5 .3-36 .3 36 .4-21.9 .3-31.7 .3 17.1 .3 36.1 .3-34.5 .3 13.8 .3 15.8 .3 5.3 .4-.5 .3-14 .3 14.5 .3-4.3 .3-32.3 .3 24 .3-47.2 .3 21.3 .4 20.6 .3 10.6 .3 7.3 .3 0 .3-9.5 .3-17.7 .3 10.7 .3 3.7 .3-15.6 .4 23 .3 1.4 .3-22.1 .3 7.1 .3 13.2 .3 5.8 .3-20 .3 15.3 .4-7 .3 3 .3-37.1 .3 29 .3 16.8 .3-22.6 .3 10.9 .3-2.8 .4-25.5 .3 39.2 .3-17.6 .3 16.2 .3-39.3 .3 41.5 .3 0 .3-19.4 .4 19.4 .3-13 .3-29 .3 32.5 .3-20.8 .3 29.8 .3-23.4 .3 19.5 .3-12.7 .4-3 .3 15.2 .3-26.4 .3 30.1 .3 1.2 .3-16 .3-29.9 .3 9.9 .4 23.4 .3 11.2 .3-21.6 .3 11.3 .3 4 .3 0 .3 1.8 .3-31.3 .4 29.8 .3 7.4 .3-1 .3-10.9 .3 11.7 .3-28.3 .3-.8 .3 .5 .4 8 .3 .5 .3-1.7 .3 5.1 .3 8.2 .3-15.9 .3 8.6 .3-10.5 .3-25.8 .4 41.5 .3-50.2 .3 38.2 .3 22.8 .3-35 .3-11.3 .3 22.9 .3 9.2 .4 13.8 .3-2.7 .3-3.1 .3-21.5 .3 8.5 .3 14.5 .3-3.5 .3-24 .4-2.3 .3 29.4 .3-12.2 .3-3.8 .3-5.8 .3 1.1 .3 14.6 .3-36.1 .4 38.2 .3-29.3 .3 30.5 .3-8.8 .3 16.7 .3-4.1 .3 3.9 .3 .2 .3-17.7 .4 10.6 .3-4.5 .3-30.1 .3 37.8 .3-39.4 .3 19.2 .3 24 .3-15.1 .4 6 .3-22.4 .3 15.5 .3-2.2 .3 16.1 .3-33.8 .3 36 .3 0 .4-10 .3-29.8 .3 20.1 .3 6.2 .3-2.2 .3-14.4 .3 30.1 .3-5.7 .4-2.4 .3-19.3 .3-19.5 .3 42.4 .3-7.3 .3-6.6 .3 18.4 .3-15.6 .3 3.5 .4-36.3 .3 8.1 .3 20.9 .3 18.5 .3 .9 .3-9.3 .3-41.2 .3 29 .4-2.1 .3 23.6 .3-.9 .3-2.7 .3-21.7 .3 6.1 .3-17.2 .3-16.1 .4 23.1 .3 29.4 .3-21.6 .3-3 .3 12 .3 1.1 .3-41.2 .3 35.7 .4-6.7 .3 19.7 .3 3.9 .3-21.9 .3 7.1 .3-4.6 .3 18.4 .3-19.3 .4 20.4 .3-4.7 .3-11.6 .3-11.2 .3-2.3 .3 15.7 .3 .9 .3-17.9 .3-18.5 .4 43.6 .3 4.3 .3-3.1 .3-12.6 .3-4.1 .3 20.3 .3-10.7 .3 9.5 .4-5.4 .3 2.6 .3-14.7 .3-10.9 .3 23.4 .3-12.8 .3 13.4 .3 6.4 .4-10.1 .3 5.4 .3-21.6 .3 26.7 .3-5.4 .3-11.4 .3 .2 .3-23.4 .4-35.5 .3 59.9 .3 15.6 .3-16.6 .3-4.9 .3 20.8 .3-33.1 .3 29.6 .3-5.3 .4-.8 .3 7.6 .3-5.5 .3 1.9 .3 6.3 .3-52 .3 35.1 .3 13.5 .4 2.9 .3-9.8 .3-1.5 .3-2.8 .3-22.6 .3 27.9 .3-7.4 .3 10.3 .4-15.2 .3 12.9 .3 2.7 .3-17.7 .3 19.3 .3-18.3 .3 .3 .3 20.8 .4-46.5 .3 18.7 .3 21.9 .3 7.5 .3-3.9 .3-31.9 .3 4.3 .3 18.1 .3 7.8 .4-20.1 .3 8.5 .3-7.2 .3-15.1 .3-14.4 .3 48.4 .3-1.2 .3 6.7 .4-8 .3 .9 .3-28 .3 8 .3-5.7 .3 6.7 .3 13 .3-27.1 .4 5.2 .3 10 .3 25 .3 0 .3-6.1 .3-1.5 .3 1.9 .3-31.5 .4 37.2 .3-60.1 .3 51.6 .3-7.8 .3-19.8 .3 16.8 .3-4.4 .3-23.3 .3 38.5 .4-33.8 .3 42.3 .3-44.3 .3 32.5 .3-31.4 .3 30.9 .3 1.9 .3-65.8 .4 41.8 .3-.4 .3 29 .3-13.2 .3 6 .3 3.6 .3-40.2 .3 24.1 .4 21.9 .3-2.8 .3 6.4 .3-22.8 .3-15.2 .3 19.2 .3-6.7 .3 22.2 .4 3.3 .3-5 .3-13.8 .3-12 .3 26.9 .3-18.2 .3 22.1 .3-39.1 .3 29.8 .4-23.2 .3-17.9 .3 3.6 .3 34.2 .3 5.3 .3-6.4 .3-19.1 .3 8.6 .4 20.8 .3-29.3 .3 4.5 .3-14 .3 31.7 .3 10.5 .3-30.6 .3 19.9 .4 8.3 .3 2.4 .3-19.4 .3 10.4 .3 4 .3-11.4 .3-.4 .3 5.2 .4 11.6 .3-30.5 .3 30.5 .3-39.4 .3 29.3 .3 5.6 .3-38 .3 18.2 .4 24.3 .3-19.2 .3 2.1 .3 4.8 .3-33.4 .3-24.9 .3 34 .3 13 .3-5.8 .4-11.9 .3 21.4 .3-14.4 .3-1.9 .3 13.6 .3 16.4 .3-1.3 .3 .1 .4-3.7 .3 8.5 .3 2.6 .3-34.1 .3 18.3 .3 15.8 .3-17.7 .3 3.6 .4-14.3 .3 6.3 .3 10 .3-39.4 .3 8 .3 32.3 .3 9.5 .3-4.8 .4-1.6 .3 2.7 .3-18.2 .3 23.6 .3-20 .3 9.4 .3 10.6 .3 0 .3-4.9 .4 4.9 .3-7.8 .3 2.7 .3-31.4 .3 3.5 .3 12.5 .3-34.3 .3 38.2 .4-28.1 .3 42.4 .3-3.1 .3 5.4 .3-4.4 .3-5.1 .3 9.5 .3-2.1 .4-1.2 .3 3.1 .3-32.6 .3 7.5 .3 25.3 .3-1.1 .3-13.4 .3-35.2 .4 49.7 .3-8.3 .3-52.4 .3 34.2 .3-9.5 .3 32.3 .3-4.4 .3-27.1 .3 23 .4-60.3 .3 44.1 .3-17.1 .3 36.8 .3-28.5 .3 19 .3-18.6 .3 36.8 .4-4.7 .3-49.4 .3 20.5 .3 33.6 .3-1.6 .3 1.6 .3 0 .3-29.7 .4 26.8 .3-11.1 .3 7.7 .3 4.9 .3-10.6 .3-8.6 .3 14.1 .3-2.8 .4-15.4 .3 16.7 .3 8 .3-31.9 .3-6.8 .3 36 .3-24.7 .3 27.4 .3-20.9 .4 1.9 .3-8.3 .3 18.5 .3 3.2 .3-20.1 .3 25.7 .3-29.5 .3 20 .4 9.5 .3-.5 .3-29.6 .3 13 .3 17.1 .3-52.3 .3 39.2 .3 13.1 .4 0 .3-24.9 .3 7.5 .3 14.5 .3 2.9 .3-34.8 .3 32.9 .3 1.9 .4-23.8 .3 14.6 .3 9.2 .3-15 .3-36.9 .3 44.3 .3-9.3 .3 8.5 .3-32.6 .4 26.9 .3-6.9 .3 4.1 .3-20.9 .3 12 .3 18 .3-10.9 .3 9.7 .4-5 .3-3.6 .3 17.6 .3-24.2 .3 24.2 .3 0 .3 0 .3 0 .4-25.7 .3 2.3 .3 17.1 .3 5.6 .3-7.8 .3-1.1 .3 5 .3-3.6 .4-16.5 .3 21.8 .3-8.8 .3-11.4 .3 23.1 .3-4.5 .3-3.8 .3 .5 .4 7.8 .3-9.3 .3 6 .3 3.3 .3-16.9 .3-4.3 .3 1.7 .3-3.2 .3 1.5 .4 0 .3 20.1 .3-17.1 .3 18.2 .3-24.7 .3 2.8 .3 11.4 .3-35 .4 28.9 .3-6.7 .3 11.8 .3 .3 .3 11.2 .3-18.4 .3 7 .3-8.2 .4-.6 .3-9.6 .3 8.8 .3-5.5 .3 20 .3-25.2 .3-10.3 .3 20.6 .4-5 .3 21.4 .3-26.6 .3 9.4 .3 14.1 .3-45.2 .3 29 .3-17.2 .3 11.5 .4 3.9 .3 12.2 .3-.2 .3 1 .3 5.5 .3-1.5 .3 9.1 .3-12.9 .4 1.3 .3 11.6 .3-32.1 .3-3.9 .3 19.5 .3-15.6 .3 19.3 .3 11.7 .4-8.1 .3-21.2 .3 18.9 .3-16.9 .3 1.5 .3 22.8 .3-3 .3 4.7 .4-25.8 .3 22.7 .3 5.5 .3-41.1 .3 38.5 .3-29.1 .3 7.8 .3 15.5 .3 6.4 .4-1.1 .3-37.3 .3 15 .3-4.1 .3 29.5 .3-5.5 .3 4.3 .3-7.5 .4 8 .3 .7 .3-33.9 .3 17.7 .3 6.5 .3 5.3 .3-21.3 .3 25.7 .4-13.5 .3 6 .3-21.1 .3 26.9 .3-6.8 .3 3.7 .3-49.1 .3 51.3 .4-20.5 .3-17 .3 40.1 .3-2.6 .3-28.3 .3 20.9 .3 10 .3-25.3 .3 25.3 .4-8.1 .3-6.4 .3-16.1 .3 11.7 .3-6.3 .3 1.2 .3 17 .3-7.7 .4-5.5 .3 13.3 .3-6.1 .3 4.4 .3-34.9 .3 11 .3 25.9 .3-26.8 .4 24.5 .3-14.6 .3 23.5 .3-23.4 .3 1.5 .3 11.1 .3 3 .3-7.1 .4-10.8 .3 25.7 .3-20.3 .3 20.2 .3-2.3 .3-1.4 .3-55.2 .3 40.2 .3 2.7 .4-3.1 .3 19.2 .3-22.8 .3 3.2 .3 13.8 .3-33.1 .3 9.1 .3 24 .4-63.5 .3 46 .3-14.1 .3 11.8 .3 24.4 .3-5.3 .3 2.8 .3-8.7 .4 7 .3-15.2 .3 8.9 .3 6.7 .3-22.3 .3-2.4 .3 26.5 .3-42 .4 10.9 .3 34.3 .3-16.7 .3-6.6 .3 23.2 .3-45.8 .3 20.1 .3 25.8 .4-11.5 .3-6.5 .3-7.6 .3 3.3 .3 13.8 .3 8.5 .3-13.1 .3 13.1 .3-43.6 .4 25.8 .3-14.8 .3 32.6 .3-14.3 .3 1.2 .3 10.7 .3 2.4 .3-6.2 .4-17.2 .3 23.4 .3 0 .3 0 .3-34.6 .3 34.6 .3-3.6 .3-25.5 .4 11.4 .3-32.5 .3 50.2 .3-23.5 .3 6.8 .3-3.9 .3-17.3 .3 31.2 .4-51.5 .3 49.2 .3 4.4 .3-4.6 .3-28.7 .3 30.1 .3-5.5 .3 13.3 .3-19 .4 18.5 .3-30.6 .3 31.1 .3-14.9 .3-22.1 .3-11.5 .3 36.4 .3 8.6 .4-39.9 .3 30.3 .3-2.6 .3 15.7 .3-16.2 .3-14 .3 26.7 .3-25.1 .4-9.8 .3 21.5 .3-25.5 .3 41.9 .3-2.2 .3-20.6 .3 5.1 .3 18.2 .4-19.3 .3 15.9 .3-16.1 .3-2.3 .3 21.8 .3-47.3 .3 5.1 .3 8.6 .3-6.1 .4 28.5 .3-5.8 .3 9.4 .3-10.8 .3 4.9 .3-.6 .3-9.2 .3 9.6 .4-14.6 .3 11.8 .3-3.1 .3 19.6 .3-11.3 .3-9.3 .3-2.4 .3 6 .4 4.5 .3-7.2 .3 14.8 .3 4.9 .3-17.9 .3 11.4 .3 1.4 .3-5.6 .4-6 .3 16.7 .3-21.6 .3 13.3 .3-13.1 .3 7.2 .3-8.6 .3 15.5 .3 7.3 .4-1.5 .3 1.5 .3-9.6 .3-3.3 .3 8.8 .3 4.1 .3 0 .3-25.8 .4 23.8 .3-36 .3 14.6 .3 23.4 .3 0 .3-3.5 .3-12 .3 4.6 .4-8.7 .3 5.8 .3 11 .3-10.4 .3-15.5 .3-5.7 .3 34.4 .3-19.2 .4 19.2 .3-14.4 .3-46.3 .3 35 .3 7 .3 18.6 .3-4.1 .3-.4 .3-44.3 .4 41.7 .3 7.2 .3-21.9 .3 21.9 .3-22.9 .3 17.3 .3 5.6 .3 0 .4-45.6 .3 22.5 .3 9.1 .3 5.9 .3 5.3 .3-17.6 .3 20.4 .3-18 .4 9.1 .3-16.4 .3 21.3 .3-20 .3 15.5 .3-10.3 .3 1.2 .3-7.6 .4 24.1 .3-18.1 .3-20.9 .3 16.8 .3 .5 .3-31.6 .3 15.9 .3 7.7 .3-1.6 .4 23.1 .3 5.1 .3-7.7 .3-1 .3-5.5 .3 .1 .3-2 .3-47.5 .4 36.1 .3 31.7 .3-27.1 .3 27.1 .3-37.5 .3 37.5 .3-24.9 .3 11 .4-23.5 .3 37.4 .3-50.9 .3 41.7 .3-6.7 .3 15.5 .3-24.6 .3-.4 .4-7.3 .3 5.1 .3 22.5 .3-5.2 .3-2.5 .3-16.4 .3 23.3 .3-20.6 .4 26.2 .3-11.1 .3 11.4 .3 0 .3-20.1 .3 20.1 .3 0 .3 0 .3 0 .4 0 .3-16.7 .3-27.5 .3 6.3 .3 35.6 .3-24.7 .3-13.9 .3 1.4 .4 24.1 .3-48.7 .3 39.5 .3 19 .3-4 .3-1.1 .3-18.6 .3 17 .4-7 .3 15.3 .3-1.5 .3-11.7 .3 4.2 .3 7.5 .3 4.9 .3-16.2 .4 16.8 .3-12.6 .3 12.6 .3-39.3 .3 36.3 .3 2.3 .3 .7 .3-26.3 .3 26.3 .4 0 .3-10.8 .3-5.1 .3 15.9 .3-45.8 .3 44 .3-7.4 .3-13.2 .4-21.8 .3 35.5 .3 5.7 .3 .9 .3-5.3 .3-13.1 .3 12.2 .3-.3 .4 8.6 .3-2.8 .3-13.5 .3 2.3 .3 3.4 .3 6.8 .3-7.8 .3-11.8 .4 12.8 .3 10.6 .3-9.4 .3 9.4 .3-38.7 .3 24.4 .3 11 .3-4.6 .3-12.9 .4 20.8 .3-14.1 .3 12.9 .3-34.6 .3 35.5 .3-80 .3 67.9 .3 7.8 .4 4.3 .3-13 .3-54.7 .3 25.3 .3 42.7 .3-30.6 .3 19.4 .3 2.6 .4 1.4 .3-9.8 .3-29.5 .3 46.5 .3-18.5 .3-12.5 .3 20.9 .3-24.4 .4 28.1 .3 6.4 .3-4.1 .3-55.1 .3 6.6 .3 46.7 .3-3.1 .3-.5 .3-24 .4 24.9 .3 8.6 .3-15.5 .3 14.5 .3-26.2 .3 27.2 .3-20.9 .3 20.9 .4-16.6 .3 16.3 .3-16.3 .3 16.6 .3-42 .3 26.4 .3 10.9 .3-6.1 .4 6.1 .3-11.7 .3-2.4 .3 2.5 .3 16.3 .3-13.4 .3-12.4 .3 14.8 .4 7.8 .3-61.9 .3 47.9 .3-14.2 .3 11.4 .3 20 .3-9.1 .3-49.6 .3 57.7 .4-6.4 .3 3.1 .3-.3 .3-16.4 .3 11.2 .3-29.7 .3 25.7 .3-2.4 .4 .2 .3 13.2 .3-20.4 .3 15 .3 6.9 .3 .4 .3-11.5 .3-15.7 .4 16.9 .3 4.1 .3-9.7 .3 16.8 .3-2.4 .3 2.4 .3-20 .3 18.6 .4-4 .3-26.8 .3 2.6 .3 24.9 .3-7.8 .3-5.4 .3 17.9 .3-2.7 .4 2.7 .3-61.2 .3 40.8 .3 11.3 .3-4 .3-44.3 .3 39 .3-8.2 .3-1.9 .4 12.8 .3-34.1 .3 20.1 .3 21.1 .3 7.4 .3-22 .3 20.8 .3 .5 .4-6.6 .3 8.5 .3-7.9 .3-4.6 .3 11 .3 1.5 .3-20.4 .3 20.4 .4-10.7 .3-13.8 .3 7.9 .3 11.6 .3 5 .3-29.3 .3 29.3 .3-7.2 .4-23.9 .3 10.7 .3-5.5 .3-2.2 .3 28.1 .3-1 .3 .7 .3-56.6 .3 56.9 .4 0 .3-23.3 .3 21.2 .3 2.1 .3-.8 .3-23.8 .3 13 .3-32.4 .4 23 .3-13.6 .3-4.6 .3 7.4 .3 2.1 .3 12.8 .3-4 .3 6.1 .4-8.4 .3 17.8 .3-1.2 .3-9.1 .3 14.2 .3-20.5 .3 13 .3-1.9 .4-5.9 .3 11.5 .3-19.9 .3 10.4 .3 14.8" stroke="#D95319"/>
<path d="M82.8 289.2l.3 95.5 .3 20.9 .3 0 .3-21.4 .4-12 .3 23.6 .3-12.4 .3 21.1 .3-19.6 .3-2.1 .3 5.4 .3-11.4 .4-3.9 .3 15.6 .3 10.4 .3-30.3 .3 20.5 .3-13 .3 15.3 .3-45 .4 31.2 .3 11.2 .3-13.8 .3-1.8 .3-14.9 .3 46.1 .3-29 .3 24.4 .4 6.1 .3-46.8 .3 33.8 .3 13.2 .3-4.7 .3-38.8 .3 43.5 .3 0 .3-21.8 .4 19.9 .3-18.8 .3 12.3 .3-9.2 .3-45.3 .3 51.6 .3 10.3 .3-5 .4-27.5 .3 33.5 .3-9.1 .3 8.9 .3 .2 .3-35.6 .3 24.9 .3-27.5 .4 37.2 .3-12.4 .3-5.4 .3 1.3 .3 10.4 .3 6.5 .3-30.2 .3 27.3 .4-33.3 .3-1.4 .3 37 .3-43.3 .3-6.2 .3 50.7 .3-41.5 .3 41.5 .3-18.8 .4-4.2 .3-1.2 .3-12.1 .3 23 .3 13.3 .3-7.2 .3-2.9 .3-14.7 .4 6 .3 18.8 .3-36.8 .3-20 .3 38 .3 18.8 .3-33 .3 11.9 .4-38 .3 34.3 .3 22.1 .3-24.1 .3-25.7 .3 50 .3-4.3 .3-19.8 .4 20.6 .3 6 .3-24.3 .3-1.6 .3 0 .3 4.9 .3-40.4 .3 55.9 .4-42.3 .3 2.1 .3 35.4 .3-27.4 .3 23.7 .3 7.4 .3-26.3 .3 16.5 .3 16.4 .4 0 .3-17.7 .3-3.8 .3 5.9 .3-3.2 .3 17.2 .3 1.6 .3 0 .4-19.3 .3 19.3 .3-8 .3-6.7 .3-16.6 .3 7.9 .3 21 .3 2.4 .4 0 .3-28.9 .3 14.3 .3 14.6 .3-13.9 .3 5 .3 5.5 .3-9.5 .4-20.3 .3 24.7 .3-16.5 .3 24 .3-8.5 .3 6.8 .3-61.8 .3 57.3 .3-12.8 .4-18.3 .3-8.2 .3 40.8 .3 1.8 .3-7.3 .3 5.8 .3-4.8 .3-5 .4 13 .3-14.6 .3-16.3 .3 33.1 .3 0 .3-41.2 .3-15.1 .3 34 .4-21.2 .3 11.3 .3 32.2 .3-25.1 .3 17.1 .3-40.3 .3 25.2 .3 23.1 .4-4.9 .3-32.3 .3 35.5 .3 1.7 .3-22.7 .3 14.8 .3-11.8 .3 2.4 .3 10 .4-6.5 .3-14.7 .3 28.5 .3-13.3 .3 13.3 .3 0 .3-11.8 .3 9.9 .4-1.9 .3-18.8 .3 3.7 .3-8.4 .3 27.2 .3-30.4 .3 7.1 .3 14.3 .4 9.1 .3-23.9 .3 6.6 .3-3.9 .3-1 .3 22.2 .3-19.7 .3 19.7 .4 0 .3-18.4 .3-.7 .3 14.6 .3-6.6 .3-55.6 .3 65.3 .3-19.9 .3-10.1 .4 11.3 .3-.7 .3 18.4 .3-26.7 .3 29.1 .3-3.1 .3-8.3 .3-5.4 .4 15.2 .3-17.1 .3-7.4 .3 21.2 .3 0 .3-2.9 .3 4.7 .3-31.1 .4 34.2 .3-24.7 .3 1.9 .3-.3 .3-1.7 .3 8 .3 12.3 .3-16.9 .4 11.6 .3 7.1 .3 2.7 .3-28.7 .3-12.2 .3 2.4 .3 6.3 .3 18.9 .3 13.3 .4-3.5 .3-12.5 .3-8.2 .3 20.8 .3-10.7 .3-22.5 .3 12.9 .3 20.4 .4 3.3 .3-8.3 .3-8.1 .3-8.4 .3 1.7 .3 12.9 .3-12.5 .3 21.7 .4 1 .3-31.4 .3 1.1 .3 25.7 .3-18.1 .3 3.1 .3 2.2 .3 17.4 .4-13.9 .3 4.4 .3 9.5 .3-49.6 .3 49.6 .3-6.4 .3 2.5 .3-17.4 .4-5 .3 .5 .3 22.6 .3-16.5 .3-1.2 .3 15.9 .3-7.5 .3-38.2 .3 15 .4 22.3 .3 13.1 .3-2 .3 1.5 .3-32.4 .3 25.9 .3 2.7 .3-27.9 .4 32.5 .3-24.2 .3 23.7 .3-14.1 .3-12.9 .3 14 .3 13.5 .3-31.2 .4-20.3 .3 42.8 .3-27 .3 0 .3 29.1 .3 6.6 .3-.1 .3-15.3 .4 4.7 .3 10.7 .3-20.3 .3 14.2 .3-39.7 .3 23.6 .3 19 .3-12.6 .3-1.4 .4 9.6 .3-22.2 .3 9.5 .3-19.5 .3 38.5 .3-26 .3 27.3 .3-6.1 .4-10.1 .3 11.1 .3 2.8 .3-38.8 .3 22.4 .3 7.9 .3-20 .3-4.1 .4 34.9 .3-19.9 .3-4.7 .3 16.3 .3 8.3 .3-13.1 .3-17 .3 19.8 .4 8.6 .3-38 .3 8.2 .3 29.7 .3-35.1 .3 12 .3 15.4 .3 9.5 .3-6.7 .4 6.7 .3 0 .3-5.6 .3-1.2 .3 6.7 .3-10.6 .3-23.7 .3 33 .4 .9 .3-12 .3 1.7 .3 8.4 .3-17 .3 13.9 .3 3.4 .3-4.3 .4-54.4 .3 44.5 .3 16.3 .3-3.2 .3 3.2 .3 0 .3 0 .3 0 .4 0 .3-21.2 .3 .7 .3-19 .3 31.3 .3 1 .3-48.3 .3 25 .3 29 .4-6.7 .3-3.8 .3 1.2 .3 6.2 .3-26.3 .3 22.8 .3-34.1 .3 26.7 .4 15.5 .3-20.5 .3-10 .3 30.5 .3-19.7 .3 12.4 .3-.2 .3-35.6 .4 43.1 .3-33.3 .3-4.7 .3 31.6 .3-6.6 .3 10 .3-14.9 .3 16.3 .4-26.5 .3 28.1 .3 0 .3-5.7 .3 3.2 .3-.8 .3-3.6 .3-9 .3 2.4 .4-15.1 .3 19.2 .3 6.2 .3-40.8 .3 37.4 .3 6.6 .3-20.5 .3 14.8 .4-4.4 .3 10.1 .3-19.1 .3 18.9 .3 .2 .3-51.8 .3 17.8 .3 34 .4 0 .3 0 .3-1.9 .3-47 .3 48.9 .3-10.8 .3 10.8 .3-25.3 .4-8 .3-7.1 .3 5.2 .3 21.9 .3-14.9 .3 24.8 .3-10.8 .3-20.3 .3 30.2 .4-26.7 .3 15.3 .3-8.3 .3-7.6 .3 29.5 .3-14.6 .3 16.7 .3-7.3 .4-20.6 .3 25.4 .3 1 .3-3.7 .3 .3 .3 4.9 .3-9 .3-5.4 .4 10.1 .3-13.3 .3 17.6 .3-6.4 .3-6.6 .3 3.1 .3 .4 .3-5.7 .4 2.1 .3 8.2 .3-3.7 .3-40.8 .3 29.8 .3 1.3 .3-6.1 .3 24.4 .4-7.6 .3-3.7 .3-8.1 .3-22.6 .3-3.5 .3 31.9 .3 2.7 .3-7.3 .3 18.2 .4-31.6 .3 23.6 .3 8 .3-33.3 .3 28.7 .3-10 .3 10.5 .3-17 .4-2 .3 22.3 .3-37.7 .3 10.9 .3 21.5 .3-1.2 .3 7 .3-12.6 .4 12.9 .3-2.1 .3-20.5 .3 17.6 .3 5 .3-40.4 .3 38.3 .3-9.4 .4 11.5 .3-20.4 .3 6.3 .3 13.7 .3-9.3 .3-29.6 .3 12.5 .3 21.9 .3-19.6 .4-3.9 .3 14.9 .3 10 .3-25.3 .3-2.3 .3 26.7 .3 2.3 .3 0 .4 2.1 .3-21.7 .3-9.8 .3 22.8 .3 3.8 .3-17.3 .3 10 .3-25.9 .4 6 .3-29 .3 61.1 .3-5.5 .3-40.5 .3 35.6 .3 7.2 .3-8.6 .4-5.4 .3 9.8 .3-16 .3 1.5 .3 1.6 .3 10.9 .3 7.3 .3-9.2 .3 11.3 .4-12.2 .3-4.4 .3 11.9 .3 4.7 .3-4.6 .3-18.4 .3 .4 .3-19.7 .4 42.3 .3-39.6 .3 2.7 .3 28.6 .3 6.3 .3-5.1 .3-13.9 .3-9.1 .4 24 .3-25 .3 31.1 .3-28.7 .3 21.5 .3 7.2 .3-34 .3 21.4 .4 10.9 .3 1.7 .3-.6 .3-4.4 .3-12 .3 16.8 .3-10.7 .3-28.5 .3 38.8 .4-18.8 .3-23.6 .3 19.6 .3 11.2 .3 12.2 .3 0 .3-32.7 .3 32.7 .4-32.8 .3 29.3 .3-8.2 .3 9.1 .3-32.2 .3 25.6 .3-3 .3-1.5 .4 11.8 .3-22.8 .3 24.7 .3-35.5 .3 32.8 .3-13.2 .3 8.9 .3-12.5 .4 12.2 .3-5.6 .3 1.2 .3 11.7 .3-19 .3 7.1 .3 5.7 .3-4.2 .3-25 .4 8.6 .3-7 .3-16.6 .3 5.9 .3 5 .3 12.3 .3 25.1 .3-.7 .4 2.8 .3-47.5 .3 33.3 .3 8.5 .3-40.5 .3 36.7 .3-5.6 .3-14.8 .4 6.9 .3 22.6 .3-13.6 .3 14 .3-1.1 .3-41.8 .3 41.3 .3-53.3 .4 49.9 .3-26.6 .3 12.7 .3-13.5 .3 24.5 .3-5.1 .3 13 .3-21.8 .4 19.9 .3-37.1 .3 20.4 .3 15.1 .3 3.4 .3-15.6 .3 10.2 .3-8.7 .3-11.9 .4-16.9 .3 42.3 .3-11.6 .3-14.2 .3 19.7 .3 6.8 .3-10.8 .3-21.9 .4 32.7 .3-34.4 .3 34.3 .3-4.6 .3-9 .3-12.7 .3 22.1 .3 4.3 .4-29.7 .3 2.1 .3 1.2 .3 3.6 .3 6.4 .3-5.2 .3-24.4 .3 28.4 .4 7.3 .3-8.1 .3-22.9 .3 37.4 .3-15.3 .3 6 .3 3.3 .3 9.5 .3-1.6 .4-8.3 .3 .5 .3 6.6 .3-13 .3 7.7 .3-9.9 .3 1.5 .3 16.9 .4-15.6 .3 15.3 .3 .3 .3-32.1 .3 12.8 .3-5.6 .3 12.1 .3-38.7 .4 40.7 .3 1.4 .3 .6 .3 4.2 .3 1.4 .3-15.6 .3-12.9 .3 28 .4-8.3 .3 12 .3-23.4 .3 12.2 .3-1.7 .3-6.6 .3 19.5 .3-11.6 .3-35 .4 36 .3 .9 .3 6.2 .3 3.5 .3-4.4 .3-7.7 .3-19.4 .3 18.9 .4 8.5 .3-15.3 .3-24.3 .3 18.7 .3 3.2 .3-5.2 .3-8 .3 35 .4 0 .3-41.7 .3-2.1 .3 20 .3 2.7 .3 9.9 .3-1.1 .3 9.1 .4-14.4 .3-19.2 .3-23.6 .3 30.1 .3 15.8 .3 14.5 .3-18.2 .3-4.1 .3 20.2 .4 .8 .3-34.5 .3 1.5 .3 34.3 .3-42.6 .3 26.6 .3 9.4 .3-14.6 .4 17.3 .3-6.8 .3 4.6 .3-5.3 .3 1.4 .3 5.7 .3 4.3 .3-15.5 .4 15.2 .3-28.8 .3 23.7 .3-17.7 .3 10 .3 2.6 .3-20.6 .3 14.2 .4 10.6 .3 6.3 .3-3.3 .3-21.3 .3-31.8 .3 46 .3-11.6 .3-3.7 .3 25.7 .4 0 .3-17.7 .3 17.7 .3 0 .3-40 .3 37.5 .3-21.8 .3 24.3 .4-51.9 .3 13.7 .3 7.2 .3 30.1 .3-4 .3-29.8 .3-10.6 .3 45.3 .4-7.8 .3 2 .3-2.8 .3-30.5 .3 35.3 .3-1 .3-32.1 .3 25.4 .4 8.9 .3-14.1 .3 16.7 .3-.3 .3-4.4 .3-34.3 .3 21.3 .3-3.3 .4 6.6 .3-8.8 .3-.2 .3 22 .3 1.4 .3-.7 .3-23.8 .3 6.9 .3 17.6 .4-21.6 .3 17.6 .3-19.8 .3 16.6 .3-38.2 .3 39.6 .3 5.8 .3-29.5 .4 16.3 .3 1.8 .3 11.4 .3-1.6 .3-40 .3 18.1 .3 19.1 .3-16.3 .4 5.7 .3 15 .3-20.3 .3-19.3 .3-18.6 .3 51.3 .3-26 .3 27.8 .4-3 .3-19.5 .3 22.5 .3 3.6 .3 .6 .3-25.3 .3 26.2 .3-14.4 .3 12.1 .4-9.7 .3 5 .3-2.8 .3 9.8 .3-18.6 .3-16 .3-18.9 .3 35.2 .4 10 .3 8.3 .3-15.7 .3-9.8 .3 21.8 .3-2.9 .3-1.3 .3 2.8 .4-5.3 .3 4.3 .3-1.5 .3-11.1 .3 16.7 .3-19.6 .3 .5 .3 2.2 .4 18.8 .3-49.5 .3 32.7 .3-2.9 .3 6.8 .3 3.2 .3-11.6 .3 21.4 .3 0 .4-13.6 .3 10.6 .3 3 .3-11.2 .3-28.3 .3 14.6 .3-15.8 .3 32.5 .4 3.5 .3-20.5 .3-1.5 .3 14 .3 12.7 .3-.9 .3-16.5 .3 17.4 .4-18.4 .3-27.7 .3 6.6 .3 28.1 .3-19.6 .3 20.9 .3-1.6 .3-8.8 .4 15.9 .3-1.8 .3-6.8 .3-15.5 .3-16 .3 26.2 .3 7.1 .3-13.9 .3-2.5 .4 21.7 .3 6.1 .3-32.2 .3 8.3 .3 6.6 .3 14.3 .3-11.8 .3 12 .4 2.8 .3-2.1 .3-.5 .3-19.8 .3 .7 .3 21.7 .3-12.7 .3 4.3 .4 5.7 .3 2.7 .3-8.6 .3-22.4 .3 31 .3-34 .3 30.3 .3 3.7 .4 0 .3 0 .3-34.8 .3 32.9 .3 1.8 .3 .1 .3-34 .3-3.4 .3-5 .4-1.3 .3 19.6 .3 17.6 .3-57.2 .3 28.6 .3 16 .3-1.6 .3 20.7 .4-8.7 .3-9 .3 12 .3-22 .3-2.7 .3 30.4 .3-15.6 .3-14.7 .4 13.4 .3-15.2 .3 3.4 .3 18.4 .3 10.3 .3-35.1 .3 35.1 .3 0 .4-.8 .3 .8 .3-32.2 .3 21.9 .3-19.5 .3 2.1 .3 3.7 .3 24 .4-24 .3 7 .3 11.9 .3-23.9 .3-7.3 .3 17.6 .3-2.6 .3 4.9 .3 .7 .4 3.8 .3 4.2 .3-25.2 .3 25.8 .3 7.1 .3-13.5 .3-34.7 .3 10.1 .4 14 .3 24.1 .3-5.9 .3-11 .3 9.7 .3-7.3 .3-7.2 .3-3.1 .4 16 .3-17 .3-20.3 .3 41.3 .3-11.1 .3 3.4 .3-19.4 .3 31.9 .4-1.3 .3-14 .3 15.3 .3-35 .3 10.3 .3 5 .3 5.8 .3-14.8 .3 26.7 .4-4.7 .3-29 .3 4.4 .3 31.3 .3-21.3 .3 14.7 .3-7.4 .3 2.9 .4 1.4 .3-15.8 .3 25.5 .3-5.3 .3 4.4 .3-9.4 .3 10.3 .3-22.7 .4 16 .3-27.1 .3-9.6 .3-21.9 .3 33.6 .3 24.6 .3-3.5 .3-15.4 .4-14.7 .3 4.6 .3 10.7 .3 13.3 .3 12.1 .3-42.1 .3 42.1 .3-15.1 .3 10.3 .4-1.5 .3-19.4 .3-20.5 .3-12.8 .3 26.5 .3 30.4 .3-19.7 .3 7.7 .4-3.8 .3 10.5 .3-1.6 .3-2.8 .3-28.3 .3 33.3 .3 5.5 .3-4.9 .4 6.1 .3-29.6 .3 2.6 .3 16.4 .3 10.7 .3-15.5 .3 7.4 .3-30.8 .4 19 .3 2.8 .3-18.3 .3 22 .3-9.9 .3 2.2 .3 15.8 .3-10.6 .3-15 .4 30.9 .3-14.5 .3 14.5 .3-23.6 .3-3.7 .3 12 .3 15.3 .3 0 .4-4.7 .3-7.5 .3-8.1 .3-10.6 .3 26.6 .3-27.3 .3 21.5 .3-5.4 .4-2.7 .3-41.9 .3 55 .3 5.1 .3-.9 .3 .9 .3-17.1 .3 17.1 .4-6.9 .3 6 .3-2.5 .3 1.8 .3-3.5 .3-17.9 .3-6.8 .3 7.8 .3 6.6 .4-31.1 .3 41.4 .3-41.8 .3 46.9 .3-5.2 .3-18.8 .3 18.6 .3-4.7 .4 8.7 .3-21.1 .3-11.4 .3 33.9 .3-3.2 .3 2.4 .3-23.5 .3-1.3 .4-1 .3 10.7 .3-7.4 .3 23.3 .3 0 .3-48.3 .3 48.3 .3-10 .4-.1 .3-32.6 .3 39.8 .3-25.8 .3 .8 .3 2.6 .3 19.4 .3-12.1 .3-11.1 .4 21 .3 8.1 .3 0 .3-8.6 .3 8.6 .3-16.5 .3-10.9 .3 17.7 .4 9.7 .3-5.5 .3 5.2 .3-2.9 .3-.4 .3-16 .3-1.8 .3 9.2 .4-2.7 .3 13.7 .3 .1 .3-41.8 .3 29.2 .3 5.2 .3-15.3 .3-2.8 .4 16.4 .3-56 .3 58.2 .3 8 .3-31.6 .3-21.1 .3 22.3 .3 25.1 .4 1.2 .3 .8 .3 2.6 .3-19 .3 11.8 .3-2.4 .3 10.3 .3-42.1 .3 33.2 .4-16.1 .3-4.2 .3-15.2 .3 15.8 .3 2.2 .3 16.2 .3 2.8 .3-6.8 .4 1.6 .3 6.4 .3 6.2 .3-29.4 .3 21.6 .3-21.5 .3 11.2 .3-12.2 .4 30.3 .3-26.8 .3 24.6 .3-10.8 .3-2.6 .3 3.5 .3-8.3 .3-16 .4 30 .3-5.5 .3 2.7 .3 9.2 .3-30.9 .3 30.9 .3-19.1 .3-1.6 .3 10.6 .4-8.6 .3 .7 .3 18 .3-29.7 .3 12.6 .3-5.3 .3 22.4 .3-25.1 .4 19.2 .3 3.9 .3-8.7 .3 10.6 .3-10.5 .3 .2 .3 10.4 .3-19.8 .4-10.3 .3 4.4 .3 22.7 .3 .9 .3 1.3 .3 .8 .3-.1 .3-5.7 .4-2.3 .3-22.6 .3-3.8 .3 4.3 .3 3.5 .3 22 .3-12.6 .3 5.7 .3 10.2 .4-7.9 .3-33.3 .3 42.6 .3-16.1 .3 16.1 .3-20.3 .3 20.3 .3-34.7 .4 15.9 .3-6.5 .3 8.3 .3 17 .3-9.4 .3 9.4 .3-18.7 .3 6.4 .4-15.5 .3 2.9 .3 12.7 .3 12.2 .3-9.7 .3-3.4 .3 13 .3-27.9 .4-17.9 .3 33.9 .3 7.8 .3-6 .3-25.1 .3 35.3 .3-10.3 .3-38 .3 39.4 .4-2 .3-7.7 .3 18.6 .3-9.4 .3-28.9 .3 15.8 .3 15.3 .3-28.7 .4 23.6 .3 12.3 .3-19 .3 19 .3-23.3 .3 23.3 .3-2.4 .3-36.3 .4 33.4 .3 1.1 .3 4.2 .3 0 .3-24.1 .3-.7 .3-1 .3 25.8 .4-7.6 .3-39.2 .3 43.4 .3-2.7 .3 6.1 .3-25.6 .3-28.5 .3 34.5 .3-4.6 .4 24.2 .3-23.5 .3 10.4 .3-8.7 .3-12.6 .3 34.4 .3-5.6 .3 5.6 .4-28.7 .3 28.7 .3-9.3 .3 3 .3-24.1 .3 9.2 .3 16.8 .3 4.4 .4 0 .3-9.4 .3 9.4 .3-28.9 .3 18.6 .3-8.5 .3 8.9 .3 6.5 .4-1 .3-4.2 .3-16.5 .3 10.2 .3 13.4 .3-25.2 .3 20.3 .3 6.4 .4 0 .3-21.6 .3 9.7 .3-12.5 .3-1.7 .3 17.3 .3-8.7 .3 8.8 .3 8.7 .4-14.2 .3-5 .3 8.2 .3 8.7 .3-13.1 .3-6.4 .3 20.6 .3 1.2 .4-1.8 .3-1.7 .3 1.9 .3-11.3 .3 10 .3 2.9 .3-49.3 .3 40.5 .4-12.8 .3 18.1 .3-3.8 .3-2 .3 5.5 .3-2.2 .3-27.6 .3 4.6 .4-22 .3 47.2 .3 3.8 .3 0 .3-2.9 .3-8.5 .3 11.4 .3-6 .3 4.5 .4 1.5 .3-34.3 .3-1.6 .3 23.4 .3-23.8 .3 27.7 .3-6.7 .3-34.9 .4 35 .3 10 .3-20.7 .3 18 .3 4.3 .3 3.2 .3-18.6 .3 9 .4 10 .3-6.3 .3-12.5 .3-4.3 .3 20.3 .3-14.3 .3-11.1 .3-4.4 .4 25 .3 5.5 .3 .6 .3-15.2 .3 16.1" stroke="#EDB120"/></g>
<text class="tk" x="82.80" y="177.20" text-anchor="middle">0</text>
<text class="tk" x="82.80" y="426.90" text-anchor="middle">0</text>
<text class="tk" x="173.32" y="177.20" text-anchor="middle">2</text>
<text class="tk" x="173.32" y="426.90" text-anchor="middle">2</text>
<text class="tk" x="263.84" y="177.20" text-anchor="middle">4</text>
<text class="tk" x="263.84" y="426.90" text-anchor="middle">4</text>
<text class="tk" x="354.36" y="177.20" text-anchor="middle">6</text>
<text class="tk" x="354.36" y="426.90" text-anchor="middle">6</text>
<text class="tk" x="444.88" y="177.20" text-anchor="middle">8</text>
<text class="tk" x="444.88" y="426.90" text-anchor="middle">8</text>
<text class="tk" x="535.40" y="177.20" text-anchor="middle">10</text>
<text class="tk" x="535.40" y="426.90" text-anchor="middle">10</text>
<text class="tk" x="77.80" y="143.38" text-anchor="end"><tspan letter-spacing="1.6">−</tspan>10</text>
<text class="tk" x="77.80" y="106.94" text-anchor="end">0</text>
<text class="tk" x="77.80" y="70.51" text-anchor="end">10</text>
<text class="tk" x="77.80" y="34.07" text-anchor="end">20</text>
<text class="tk" x="77.80" y="411.30" text-anchor="end">0</text>
<text class="tk" x="77.80" y="338.70" text-anchor="end">1</text>
<text class="tk" x="77.80" y="266.10" text-anchor="end">2</text>
<text class="lb it" x="308.50" y="200.90" text-anchor="middle" style="font-size:22px">t</text>
<text class="lb it" x="308.50" y="450.60" text-anchor="middle" style="font-size:22px">t</text>
<g transform="translate(36.3 0) rotate(-90)" class="lb">
<text class="it" x="-96.4" y="0" text-anchor="middle" font-size="19">z</text>
<text x="-95.4" y="-1.8" text-anchor="middle" font-size="17">&#710;</text>
<text class="it" x="-89.5" y="2.8" text-anchor="middle" font-size="14">i</text>
<text x="-81.9" y="0" text-anchor="middle" font-size="22">(</text>
<text class="it" x="-75.9" y="0" text-anchor="middle" font-size="20">t</text>
<text x="-69.4" y="0" text-anchor="middle" font-size="22">)</text>
</g>
<g transform="translate(58.8 0) rotate(-90)" class="lb">
<text x="-382.6" y="0" text-anchor="middle" font-size="22">|</text>
<text class="it" x="-375.6" y="0" text-anchor="middle" font-size="19">z</text>
<text x="-374.6" y="-1.8" text-anchor="middle" font-size="17">&#710;</text>
<text class="it" x="-368.6" y="2.8" text-anchor="middle" font-size="14">i</text>
<text x="-360.8" y="0" text-anchor="middle" font-size="22">(</text>
<text class="it" x="-354.0" y="0" text-anchor="middle" font-size="20">t</text>
<text x="-347.8" y="0" text-anchor="middle" font-size="22">)</text>
<text x="-331.3" y="0" text-anchor="middle" font-size="20">&#8722;</text>
<text class="it" x="-313.8" y="0" text-anchor="middle" font-size="19">z</text>
<text x="-313.6" y="-1.3" text-anchor="middle" font-size="17">&#175;</text>
<text x="-304.9" y="0" text-anchor="middle" font-size="22">(</text>
<text class="it" x="-298.0" y="0" text-anchor="middle" font-size="20">t</text>
<text x="-291.4" y="0" text-anchor="middle" font-size="22">)</text>
<text x="-284.5" y="0" text-anchor="middle" font-size="22">|</text>
</g>

<text class="cap" x="7" y="234.2">(a)</text>
<text class="cap" x="7" y="486.9">(b)</text>
</svg></body></html>
